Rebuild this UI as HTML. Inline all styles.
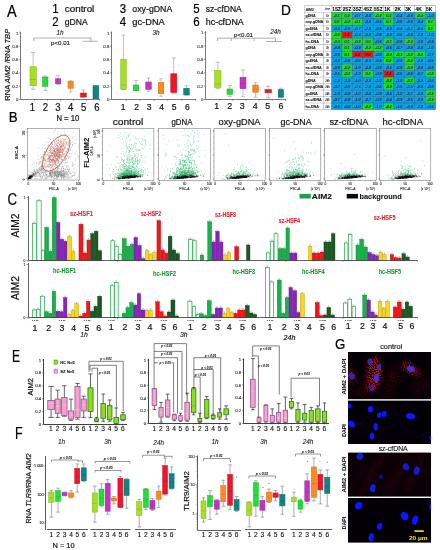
<!DOCTYPE html>
<html lang="en"><head><meta charset="utf-8"><title>Figure</title>
<style>
html,body{margin:0;padding:0;background:#fff;}
body{width:440px;height:550px;overflow:hidden;font-family:"Liberation Sans",sans-serif;}
svg{display:block;font-family:"Liberation Sans",sans-serif;}
</style></head><body>
<svg width="440" height="550" viewBox="0 0 440 550">
<rect width="440" height="550" fill="#fff"/>
<text x="6.90" y="16.80" font-size="16" text-anchor="start" fill="#000" textLength="9.70" lengthAdjust="spacingAndGlyphs" stroke="#000" stroke-width="0.2">A</text>
<text x="8.80" y="121.80" font-size="14.8" text-anchor="start" fill="#000" textLength="8.90" lengthAdjust="spacingAndGlyphs" stroke="#000" stroke-width="0.2">B</text>
<text x="52.30" y="13.00" font-size="12.4" text-anchor="start" fill="#000" textLength="6.40" lengthAdjust="spacingAndGlyphs" stroke="#000" stroke-width="0.2">1</text>
<text x="64.80" y="12.20" font-size="9" text-anchor="start" fill="#111" textLength="29.50" lengthAdjust="spacingAndGlyphs" stroke="#111" stroke-width="0.2">control</text>
<text x="52.30" y="25.70" font-size="12.4" text-anchor="start" fill="#000" textLength="6.40" lengthAdjust="spacingAndGlyphs" stroke="#000" stroke-width="0.2">2</text>
<text x="64.80" y="25.20" font-size="9" text-anchor="start" fill="#111" textLength="23.00" lengthAdjust="spacingAndGlyphs" stroke="#111" stroke-width="0.2">gDNA</text>
<text x="119.80" y="13.00" font-size="12.4" text-anchor="start" fill="#000" textLength="6.40" lengthAdjust="spacingAndGlyphs" stroke="#000" stroke-width="0.2">3</text>
<text x="132.30" y="12.20" font-size="9" text-anchor="start" fill="#111" textLength="40.00" lengthAdjust="spacingAndGlyphs" stroke="#111" stroke-width="0.2">oxy-gDNA</text>
<text x="119.80" y="25.70" font-size="12.4" text-anchor="start" fill="#000" textLength="6.40" lengthAdjust="spacingAndGlyphs" stroke="#000" stroke-width="0.2">4</text>
<text x="132.30" y="25.20" font-size="9" text-anchor="start" fill="#111" textLength="32.50" lengthAdjust="spacingAndGlyphs" stroke="#111" stroke-width="0.2">gc-DNA</text>
<text x="193.30" y="13.00" font-size="12.4" text-anchor="start" fill="#000" textLength="6.40" lengthAdjust="spacingAndGlyphs" stroke="#000" stroke-width="0.2">5</text>
<text x="205.80" y="12.20" font-size="9" text-anchor="start" fill="#111" textLength="36.00" lengthAdjust="spacingAndGlyphs" stroke="#111" stroke-width="0.2">sz-cfDNA</text>
<text x="193.30" y="25.70" font-size="12.4" text-anchor="start" fill="#000" textLength="6.40" lengthAdjust="spacingAndGlyphs" stroke="#000" stroke-width="0.2">6</text>
<text x="205.80" y="25.20" font-size="9" text-anchor="start" fill="#111" textLength="38.00" lengthAdjust="spacingAndGlyphs" stroke="#111" stroke-width="0.2">hc-cfDNA</text>
<line x1="20.50" y1="31.50" x2="20.50" y2="99.50" stroke="#5a5a5a" stroke-width="0.8"/>
<line x1="20.50" y1="99.50" x2="100.00" y2="99.50" stroke="#5a5a5a" stroke-width="0.8"/>
<line x1="34.50" y1="99.50" x2="34.50" y2="100.80" stroke="#3a3a3a" stroke-width="0.5"/>
<line x1="47.50" y1="99.50" x2="47.50" y2="100.80" stroke="#3a3a3a" stroke-width="0.5"/>
<line x1="60.50" y1="99.50" x2="60.50" y2="100.80" stroke="#3a3a3a" stroke-width="0.5"/>
<line x1="73.50" y1="99.50" x2="73.50" y2="100.80" stroke="#3a3a3a" stroke-width="0.5"/>
<line x1="86.50" y1="99.50" x2="86.50" y2="100.80" stroke="#3a3a3a" stroke-width="0.5"/>
<line x1="99.50" y1="99.50" x2="99.50" y2="100.80" stroke="#3a3a3a" stroke-width="0.5"/>
<line x1="19.00" y1="33.00" x2="20.50" y2="33.00" stroke="#444" stroke-width="0.5"/>
<text x="18.30" y="34.50" font-size="4.3" text-anchor="end" fill="#222" stroke="#222" stroke-width="0.08">1</text>
<line x1="19.00" y1="46.30" x2="20.50" y2="46.30" stroke="#444" stroke-width="0.5"/>
<text x="18.30" y="47.80" font-size="4.3" text-anchor="end" fill="#222" stroke="#222" stroke-width="0.08">0.8</text>
<line x1="19.00" y1="59.60" x2="20.50" y2="59.60" stroke="#444" stroke-width="0.5"/>
<text x="18.30" y="61.10" font-size="4.3" text-anchor="end" fill="#222" stroke="#222" stroke-width="0.08">0.6</text>
<line x1="19.00" y1="72.90" x2="20.50" y2="72.90" stroke="#444" stroke-width="0.5"/>
<text x="18.30" y="74.40" font-size="4.3" text-anchor="end" fill="#222" stroke="#222" stroke-width="0.08">0.4</text>
<line x1="19.00" y1="86.20" x2="20.50" y2="86.20" stroke="#444" stroke-width="0.5"/>
<text x="18.30" y="87.70" font-size="4.3" text-anchor="end" fill="#222" stroke="#222" stroke-width="0.08">0.2</text>
<line x1="19.00" y1="99.50" x2="20.50" y2="99.50" stroke="#444" stroke-width="0.5"/>
<text x="18.30" y="101.00" font-size="4.3" text-anchor="end" fill="#222" stroke="#222" stroke-width="0.08">0</text>
<text x="32.50" y="110.90" font-size="10.2" text-anchor="middle" fill="#111" textLength="5.30" lengthAdjust="spacingAndGlyphs" stroke="#111" stroke-width="0.2">1</text>
<text x="45.50" y="110.90" font-size="10.2" text-anchor="middle" fill="#111" textLength="5.30" lengthAdjust="spacingAndGlyphs" stroke="#111" stroke-width="0.2">2</text>
<text x="58.00" y="110.90" font-size="10.2" text-anchor="middle" fill="#111" textLength="5.30" lengthAdjust="spacingAndGlyphs" stroke="#111" stroke-width="0.2">3</text>
<text x="70.75" y="110.90" font-size="10.2" text-anchor="middle" fill="#111" textLength="5.30" lengthAdjust="spacingAndGlyphs" stroke="#111" stroke-width="0.2">4</text>
<text x="83.75" y="110.90" font-size="10.2" text-anchor="middle" fill="#111" textLength="5.30" lengthAdjust="spacingAndGlyphs" stroke="#111" stroke-width="0.2">5</text>
<text x="97.00" y="110.90" font-size="10.2" text-anchor="middle" fill="#111" textLength="5.30" lengthAdjust="spacingAndGlyphs" stroke="#111" stroke-width="0.2">6</text>
<line x1="33.12" y1="52.50" x2="33.12" y2="66.75" stroke="#999" stroke-width="0.6"/>
<line x1="33.12" y1="85.75" x2="33.12" y2="89.25" stroke="#999" stroke-width="0.6"/>
<line x1="30.94" y1="52.50" x2="35.31" y2="52.50" stroke="#999" stroke-width="0.6"/>
<line x1="30.94" y1="89.25" x2="35.31" y2="89.25" stroke="#999" stroke-width="0.6"/>
<rect x="30.00" y="66.75" width="6.25" height="19.00" fill="#a6e11e" stroke="#7fa82a" stroke-width="0.5"/>
<line x1="30.00" y1="79.50" x2="36.25" y2="79.50" stroke="#7fa82a" stroke-width="0.5"/>
<line x1="45.25" y1="76.00" x2="45.25" y2="77.00" stroke="#999" stroke-width="0.6"/>
<line x1="45.25" y1="86.25" x2="45.25" y2="90.50" stroke="#999" stroke-width="0.6"/>
<line x1="43.33" y1="76.00" x2="47.17" y2="76.00" stroke="#999" stroke-width="0.6"/>
<line x1="43.33" y1="90.50" x2="47.17" y2="90.50" stroke="#999" stroke-width="0.6"/>
<rect x="42.50" y="77.00" width="5.50" height="9.25" fill="#1fe038" stroke="#18a82c" stroke-width="0.5"/>
<line x1="58.12" y1="75.50" x2="58.12" y2="78.75" stroke="#999" stroke-width="0.6"/>
<line x1="58.12" y1="83.75" x2="58.12" y2="84.50" stroke="#999" stroke-width="0.6"/>
<line x1="56.29" y1="75.50" x2="59.96" y2="75.50" stroke="#999" stroke-width="0.6"/>
<line x1="56.29" y1="84.50" x2="59.96" y2="84.50" stroke="#999" stroke-width="0.6"/>
<rect x="55.50" y="78.75" width="5.25" height="5.00" fill="#c233c4" stroke="#8f2a90" stroke-width="0.5"/>
<line x1="70.62" y1="80.75" x2="70.62" y2="81.25" stroke="#999" stroke-width="0.6"/>
<line x1="70.62" y1="88.25" x2="70.62" y2="92.00" stroke="#999" stroke-width="0.6"/>
<line x1="68.79" y1="80.75" x2="72.46" y2="80.75" stroke="#999" stroke-width="0.6"/>
<line x1="68.79" y1="92.00" x2="72.46" y2="92.00" stroke="#999" stroke-width="0.6"/>
<rect x="68.00" y="81.25" width="5.25" height="7.00" fill="#ff8a1c" stroke="#c96a1a" stroke-width="0.5"/>
<line x1="83.38" y1="90.00" x2="83.38" y2="93.00" stroke="#999" stroke-width="0.6"/>
<line x1="83.38" y1="97.00" x2="83.38" y2="97.50" stroke="#999" stroke-width="0.6"/>
<line x1="81.36" y1="90.00" x2="85.39" y2="90.00" stroke="#999" stroke-width="0.6"/>
<line x1="81.36" y1="97.50" x2="85.39" y2="97.50" stroke="#999" stroke-width="0.6"/>
<rect x="80.50" y="93.00" width="5.75" height="4.00" fill="#f0142d" stroke="#b81424" stroke-width="0.5"/>
<line x1="95.88" y1="85.75" x2="95.88" y2="85.75" stroke="#999" stroke-width="0.6"/>
<line x1="95.88" y1="98.75" x2="95.88" y2="98.75" stroke="#999" stroke-width="0.6"/>
<line x1="93.86" y1="85.75" x2="97.89" y2="85.75" stroke="#999" stroke-width="0.6"/>
<line x1="93.86" y1="98.75" x2="97.89" y2="98.75" stroke="#999" stroke-width="0.6"/>
<rect x="93.00" y="85.75" width="5.75" height="13.00" fill="#0f8585" stroke="#0b6060" stroke-width="0.5"/>
<text x="60.00" y="35.00" font-size="6.4" text-anchor="middle" fill="#222" font-style="italic" stroke="#222" stroke-width="0.12">1h</text>
<path d="M33.75 41 V38 H91 V41 M82.5 41.3 H97.5" fill="none" stroke="#777" stroke-width="0.6"/>
<text x="60.50" y="45.30" font-size="5.6" text-anchor="middle" fill="#111" textLength="19.00" lengthAdjust="spacingAndGlyphs" stroke="#111" stroke-width="0.12">p&lt;0.01</text>
<text transform="translate(10.4 100.8) rotate(-90)" font-size="7.6" fill="#111" stroke="#111" stroke-width="0.2" textLength="72" lengthAdjust="spacingAndGlyphs">RNA <tspan font-style="italic">AIM2</tspan> /RNA <tspan font-style="italic">TBP</tspan></text>
<text x="67.90" y="120.80" font-size="8.4" text-anchor="middle" fill="#111" textLength="23.00" lengthAdjust="spacingAndGlyphs" stroke="#111" stroke-width="0.2">N = 10</text>
<line x1="111.50" y1="31.50" x2="111.50" y2="99.50" stroke="#5a5a5a" stroke-width="0.8"/>
<line x1="111.50" y1="99.50" x2="196.00" y2="99.50" stroke="#5a5a5a" stroke-width="0.8"/>
<line x1="126.33" y1="99.50" x2="126.33" y2="100.80" stroke="#3a3a3a" stroke-width="0.5"/>
<line x1="140.17" y1="99.50" x2="140.17" y2="100.80" stroke="#3a3a3a" stroke-width="0.5"/>
<line x1="154.00" y1="99.50" x2="154.00" y2="100.80" stroke="#3a3a3a" stroke-width="0.5"/>
<line x1="167.83" y1="99.50" x2="167.83" y2="100.80" stroke="#3a3a3a" stroke-width="0.5"/>
<line x1="181.67" y1="99.50" x2="181.67" y2="100.80" stroke="#3a3a3a" stroke-width="0.5"/>
<line x1="195.50" y1="99.50" x2="195.50" y2="100.80" stroke="#3a3a3a" stroke-width="0.5"/>
<line x1="110.00" y1="33.00" x2="111.50" y2="33.00" stroke="#444" stroke-width="0.5"/>
<text x="109.30" y="34.50" font-size="4.3" text-anchor="end" fill="#222" stroke="#222" stroke-width="0.08">1</text>
<line x1="110.00" y1="46.30" x2="111.50" y2="46.30" stroke="#444" stroke-width="0.5"/>
<text x="109.30" y="47.80" font-size="4.3" text-anchor="end" fill="#222" stroke="#222" stroke-width="0.08">0.8</text>
<line x1="110.00" y1="59.60" x2="111.50" y2="59.60" stroke="#444" stroke-width="0.5"/>
<text x="109.30" y="61.10" font-size="4.3" text-anchor="end" fill="#222" stroke="#222" stroke-width="0.08">0.6</text>
<line x1="110.00" y1="72.90" x2="111.50" y2="72.90" stroke="#444" stroke-width="0.5"/>
<text x="109.30" y="74.40" font-size="4.3" text-anchor="end" fill="#222" stroke="#222" stroke-width="0.08">0.4</text>
<line x1="110.00" y1="86.20" x2="111.50" y2="86.20" stroke="#444" stroke-width="0.5"/>
<text x="109.30" y="87.70" font-size="4.3" text-anchor="end" fill="#222" stroke="#222" stroke-width="0.08">0.2</text>
<line x1="110.00" y1="99.50" x2="111.50" y2="99.50" stroke="#444" stroke-width="0.5"/>
<text x="109.30" y="101.00" font-size="4.3" text-anchor="end" fill="#222" stroke="#222" stroke-width="0.08">0</text>
<text x="123.25" y="109.60" font-size="9.2" text-anchor="middle" fill="#111" textLength="4.78" lengthAdjust="spacingAndGlyphs" stroke="#111" stroke-width="0.2">1</text>
<text x="136.75" y="109.60" font-size="9.2" text-anchor="middle" fill="#111" textLength="4.78" lengthAdjust="spacingAndGlyphs" stroke="#111" stroke-width="0.2">2</text>
<text x="149.25" y="109.60" font-size="9.2" text-anchor="middle" fill="#111" textLength="4.78" lengthAdjust="spacingAndGlyphs" stroke="#111" stroke-width="0.2">3</text>
<text x="161.75" y="109.60" font-size="9.2" text-anchor="middle" fill="#111" textLength="4.78" lengthAdjust="spacingAndGlyphs" stroke="#111" stroke-width="0.2">4</text>
<text x="174.25" y="109.60" font-size="9.2" text-anchor="middle" fill="#111" textLength="4.78" lengthAdjust="spacingAndGlyphs" stroke="#111" stroke-width="0.2">5</text>
<text x="187.50" y="109.60" font-size="9.2" text-anchor="middle" fill="#111" textLength="4.78" lengthAdjust="spacingAndGlyphs" stroke="#111" stroke-width="0.2">6</text>
<line x1="123.50" y1="35.00" x2="123.50" y2="59.25" stroke="#999" stroke-width="0.6"/>
<line x1="123.50" y1="89.50" x2="123.50" y2="89.50" stroke="#999" stroke-width="0.6"/>
<line x1="121.58" y1="35.00" x2="125.42" y2="35.00" stroke="#999" stroke-width="0.6"/>
<line x1="121.58" y1="89.50" x2="125.42" y2="89.50" stroke="#999" stroke-width="0.6"/>
<rect x="120.75" y="59.25" width="5.50" height="30.25" fill="#a6e11e" stroke="#7fa82a" stroke-width="0.5"/>
<line x1="120.75" y1="85.00" x2="126.25" y2="85.00" stroke="#7fa82a" stroke-width="0.5"/>
<line x1="136.00" y1="80.50" x2="136.00" y2="85.00" stroke="#999" stroke-width="0.6"/>
<line x1="136.00" y1="90.75" x2="136.00" y2="90.75" stroke="#999" stroke-width="0.6"/>
<line x1="134.07" y1="80.50" x2="137.93" y2="80.50" stroke="#999" stroke-width="0.6"/>
<line x1="134.07" y1="90.75" x2="137.93" y2="90.75" stroke="#999" stroke-width="0.6"/>
<rect x="133.25" y="85.00" width="5.50" height="5.75" fill="#1fe038" stroke="#18a82c" stroke-width="0.5"/>
<line x1="148.50" y1="78.00" x2="148.50" y2="82.00" stroke="#999" stroke-width="0.6"/>
<line x1="148.50" y1="89.50" x2="148.50" y2="91.25" stroke="#999" stroke-width="0.6"/>
<line x1="146.57" y1="78.00" x2="150.43" y2="78.00" stroke="#999" stroke-width="0.6"/>
<line x1="146.57" y1="91.25" x2="150.43" y2="91.25" stroke="#999" stroke-width="0.6"/>
<rect x="145.75" y="82.00" width="5.50" height="7.50" fill="#c233c4" stroke="#8f2a90" stroke-width="0.5"/>
<line x1="161.00" y1="78.75" x2="161.00" y2="82.50" stroke="#999" stroke-width="0.6"/>
<line x1="161.00" y1="93.75" x2="161.00" y2="96.25" stroke="#999" stroke-width="0.6"/>
<line x1="159.07" y1="78.75" x2="162.93" y2="78.75" stroke="#999" stroke-width="0.6"/>
<line x1="159.07" y1="96.25" x2="162.93" y2="96.25" stroke="#999" stroke-width="0.6"/>
<rect x="158.25" y="82.50" width="5.50" height="11.25" fill="#ff8a1c" stroke="#c96a1a" stroke-width="0.5"/>
<line x1="173.75" y1="58.00" x2="173.75" y2="73.75" stroke="#999" stroke-width="0.6"/>
<line x1="173.75" y1="92.50" x2="173.75" y2="93.75" stroke="#999" stroke-width="0.6"/>
<line x1="171.65" y1="58.00" x2="175.85" y2="58.00" stroke="#999" stroke-width="0.6"/>
<line x1="171.65" y1="93.75" x2="175.85" y2="93.75" stroke="#999" stroke-width="0.6"/>
<rect x="170.75" y="73.75" width="6.00" height="18.75" fill="#f0142d" stroke="#b81424" stroke-width="0.5"/>
<line x1="186.50" y1="85.75" x2="186.50" y2="88.25" stroke="#999" stroke-width="0.6"/>
<line x1="186.50" y1="95.00" x2="186.50" y2="95.00" stroke="#999" stroke-width="0.6"/>
<line x1="184.57" y1="85.75" x2="188.43" y2="85.75" stroke="#999" stroke-width="0.6"/>
<line x1="184.57" y1="95.00" x2="188.43" y2="95.00" stroke="#999" stroke-width="0.6"/>
<rect x="183.75" y="88.25" width="5.50" height="6.75" fill="#0f8585" stroke="#0b6060" stroke-width="0.5"/>
<text x="156.00" y="35.00" font-size="6.4" text-anchor="middle" fill="#222" font-style="italic" stroke="#222" stroke-width="0.12">3h</text>
<line x1="205.50" y1="31.20" x2="205.50" y2="99.50" stroke="#5a5a5a" stroke-width="0.8"/>
<line x1="205.50" y1="99.50" x2="286.00" y2="99.50" stroke="#5a5a5a" stroke-width="0.8"/>
<line x1="219.67" y1="99.50" x2="219.67" y2="100.80" stroke="#3a3a3a" stroke-width="0.5"/>
<line x1="232.83" y1="99.50" x2="232.83" y2="100.80" stroke="#3a3a3a" stroke-width="0.5"/>
<line x1="246.00" y1="99.50" x2="246.00" y2="100.80" stroke="#3a3a3a" stroke-width="0.5"/>
<line x1="259.17" y1="99.50" x2="259.17" y2="100.80" stroke="#3a3a3a" stroke-width="0.5"/>
<line x1="272.33" y1="99.50" x2="272.33" y2="100.80" stroke="#3a3a3a" stroke-width="0.5"/>
<line x1="285.50" y1="99.50" x2="285.50" y2="100.80" stroke="#3a3a3a" stroke-width="0.5"/>
<line x1="204.00" y1="32.70" x2="205.50" y2="32.70" stroke="#444" stroke-width="0.5"/>
<text x="203.30" y="34.20" font-size="4.3" text-anchor="end" fill="#222" stroke="#222" stroke-width="0.08">1</text>
<line x1="204.00" y1="46.06" x2="205.50" y2="46.06" stroke="#444" stroke-width="0.5"/>
<text x="203.30" y="47.56" font-size="4.3" text-anchor="end" fill="#222" stroke="#222" stroke-width="0.08">0.8</text>
<line x1="204.00" y1="59.42" x2="205.50" y2="59.42" stroke="#444" stroke-width="0.5"/>
<text x="203.30" y="60.92" font-size="4.3" text-anchor="end" fill="#222" stroke="#222" stroke-width="0.08">0.6</text>
<line x1="204.00" y1="72.78" x2="205.50" y2="72.78" stroke="#444" stroke-width="0.5"/>
<text x="203.30" y="74.28" font-size="4.3" text-anchor="end" fill="#222" stroke="#222" stroke-width="0.08">0.4</text>
<line x1="204.00" y1="86.14" x2="205.50" y2="86.14" stroke="#444" stroke-width="0.5"/>
<text x="203.30" y="87.64" font-size="4.3" text-anchor="end" fill="#222" stroke="#222" stroke-width="0.08">0.2</text>
<line x1="204.00" y1="99.50" x2="205.50" y2="99.50" stroke="#444" stroke-width="0.5"/>
<text x="203.30" y="101.00" font-size="4.3" text-anchor="end" fill="#222" stroke="#222" stroke-width="0.08">0</text>
<text x="216.60" y="108.50" font-size="9.5" text-anchor="middle" fill="#111" textLength="4.94" lengthAdjust="spacingAndGlyphs" stroke="#111" stroke-width="0.2">1</text>
<text x="229.80" y="108.50" font-size="9.5" text-anchor="middle" fill="#111" textLength="4.94" lengthAdjust="spacingAndGlyphs" stroke="#111" stroke-width="0.2">2</text>
<text x="242.30" y="108.50" font-size="9.5" text-anchor="middle" fill="#111" textLength="4.94" lengthAdjust="spacingAndGlyphs" stroke="#111" stroke-width="0.2">3</text>
<text x="255.20" y="108.50" font-size="9.5" text-anchor="middle" fill="#111" textLength="4.94" lengthAdjust="spacingAndGlyphs" stroke="#111" stroke-width="0.2">4</text>
<text x="267.70" y="108.50" font-size="9.5" text-anchor="middle" fill="#111" textLength="4.94" lengthAdjust="spacingAndGlyphs" stroke="#111" stroke-width="0.2">5</text>
<text x="280.90" y="108.50" font-size="9.5" text-anchor="middle" fill="#111" textLength="4.94" lengthAdjust="spacingAndGlyphs" stroke="#111" stroke-width="0.2">6</text>
<line x1="217.80" y1="62.30" x2="217.80" y2="70.50" stroke="#999" stroke-width="0.6"/>
<line x1="217.80" y1="87.40" x2="217.80" y2="88.70" stroke="#999" stroke-width="0.6"/>
<line x1="215.56" y1="62.30" x2="220.04" y2="62.30" stroke="#999" stroke-width="0.6"/>
<line x1="215.56" y1="88.70" x2="220.04" y2="88.70" stroke="#999" stroke-width="0.6"/>
<rect x="214.60" y="70.50" width="6.40" height="16.90" fill="#a6e11e" stroke="#7fa82a" stroke-width="0.5"/>
<line x1="214.60" y1="84.00" x2="221.00" y2="84.00" stroke="#7fa82a" stroke-width="0.5"/>
<line x1="229.80" y1="85.50" x2="229.80" y2="89.00" stroke="#999" stroke-width="0.6"/>
<line x1="229.80" y1="94.50" x2="229.80" y2="96.40" stroke="#999" stroke-width="0.6"/>
<line x1="227.84" y1="85.50" x2="231.76" y2="85.50" stroke="#999" stroke-width="0.6"/>
<line x1="227.84" y1="96.40" x2="231.76" y2="96.40" stroke="#999" stroke-width="0.6"/>
<rect x="227.00" y="89.00" width="5.60" height="5.50" fill="#1fe038" stroke="#18a82c" stroke-width="0.5"/>
<line x1="243.00" y1="70.00" x2="243.00" y2="77.30" stroke="#999" stroke-width="0.6"/>
<line x1="243.00" y1="88.70" x2="243.00" y2="96.40" stroke="#999" stroke-width="0.6"/>
<line x1="240.90" y1="70.00" x2="245.10" y2="70.00" stroke="#999" stroke-width="0.6"/>
<line x1="240.90" y1="96.40" x2="245.10" y2="96.40" stroke="#999" stroke-width="0.6"/>
<rect x="240.00" y="77.30" width="6.00" height="11.40" fill="#c233c4" stroke="#8f2a90" stroke-width="0.5"/>
<line x1="240.00" y1="83.30" x2="246.00" y2="83.30" stroke="#8f2a90" stroke-width="0.5"/>
<line x1="255.55" y1="82.70" x2="255.55" y2="85.00" stroke="#999" stroke-width="0.6"/>
<line x1="255.55" y1="92.30" x2="255.55" y2="97.20" stroke="#999" stroke-width="0.6"/>
<line x1="253.62" y1="82.70" x2="257.48" y2="82.70" stroke="#999" stroke-width="0.6"/>
<line x1="253.62" y1="97.20" x2="257.48" y2="97.20" stroke="#999" stroke-width="0.6"/>
<rect x="252.80" y="85.00" width="5.50" height="7.30" fill="#ff8a1c" stroke="#c96a1a" stroke-width="0.5"/>
<line x1="252.80" y1="89.00" x2="258.30" y2="89.00" stroke="#c96a1a" stroke-width="0.5"/>
<line x1="268.20" y1="86.30" x2="268.20" y2="89.50" stroke="#999" stroke-width="0.6"/>
<line x1="268.20" y1="92.80" x2="268.20" y2="97.70" stroke="#999" stroke-width="0.6"/>
<line x1="265.96" y1="86.30" x2="270.44" y2="86.30" stroke="#999" stroke-width="0.6"/>
<line x1="265.96" y1="97.70" x2="270.44" y2="97.70" stroke="#999" stroke-width="0.6"/>
<rect x="265.00" y="89.50" width="6.40" height="3.30" fill="#f0142d" stroke="#b81424" stroke-width="0.5"/>
<line x1="280.90" y1="88.20" x2="280.90" y2="89.50" stroke="#999" stroke-width="0.6"/>
<line x1="280.90" y1="97.20" x2="280.90" y2="97.20" stroke="#999" stroke-width="0.6"/>
<line x1="279.01" y1="88.20" x2="282.79" y2="88.20" stroke="#999" stroke-width="0.6"/>
<line x1="279.01" y1="97.20" x2="282.79" y2="97.20" stroke="#999" stroke-width="0.6"/>
<rect x="278.20" y="89.50" width="5.40" height="7.70" fill="#0f8585" stroke="#0b6060" stroke-width="0.5"/>
<text x="275.50" y="34.00" font-size="6.4" text-anchor="middle" fill="#222" font-style="italic" stroke="#222" stroke-width="0.12">24h</text>
<text x="243.50" y="36.50" font-size="5.6" text-anchor="middle" fill="#111" textLength="19.00" lengthAdjust="spacingAndGlyphs" stroke="#111" stroke-width="0.12">p&lt;0.01</text>
<path d="M217.4 41 V38.2 H275.5 V41 M231.3 38.2 V41 M254.2 38.2 V41 M266 41.5 H282" fill="none" stroke="#777" stroke-width="0.6"/>
<text x="281.10" y="14.50" font-size="15.2" text-anchor="start" fill="#000" textLength="9.90" lengthAdjust="spacingAndGlyphs" stroke="#000" stroke-width="0.2">D</text>
<rect x="304.20" y="5.80" width="131.40" height="103.75" fill="#fff" stroke="#8a8a8a" stroke-width="0.4"/>
<text x="305.70" y="10.60" font-size="3.4" text-anchor="start" fill="#222" font-weight="bold" stroke="#222" stroke-width="0.08">AIM2</text>
<text x="327.55" y="10.40" font-size="2.6" text-anchor="middle" fill="#333" font-style="italic" stroke="#333" stroke-width="0.08">time</text>
<rect x="331.50" y="5.80" width="10.41" height="6.40" fill="#fff" stroke="#8a8a8a" stroke-width="0.35"/>
<text x="332.30" y="11.00" font-size="5.2" text-anchor="start" fill="#000" font-weight="bold" textLength="8.60" lengthAdjust="spacingAndGlyphs" stroke="#000" stroke-width="0.08">1SZ</text>
<rect x="341.91" y="5.80" width="10.41" height="6.40" fill="#fff" stroke="#8a8a8a" stroke-width="0.35"/>
<text x="342.71" y="11.00" font-size="5.2" text-anchor="start" fill="#000" font-weight="bold" textLength="8.60" lengthAdjust="spacingAndGlyphs" stroke="#000" stroke-width="0.08">2SZ</text>
<rect x="352.32" y="5.80" width="10.41" height="6.40" fill="#fff" stroke="#8a8a8a" stroke-width="0.35"/>
<text x="353.12" y="11.00" font-size="5.2" text-anchor="start" fill="#000" font-weight="bold" textLength="8.60" lengthAdjust="spacingAndGlyphs" stroke="#000" stroke-width="0.08">3SZ</text>
<rect x="362.73" y="5.80" width="10.41" height="6.40" fill="#fff" stroke="#8a8a8a" stroke-width="0.35"/>
<text x="363.53" y="11.00" font-size="5.2" text-anchor="start" fill="#000" font-weight="bold" textLength="8.60" lengthAdjust="spacingAndGlyphs" stroke="#000" stroke-width="0.08">4SZ</text>
<rect x="373.14" y="5.80" width="10.41" height="6.40" fill="#fff" stroke="#8a8a8a" stroke-width="0.35"/>
<text x="373.94" y="11.00" font-size="5.2" text-anchor="start" fill="#000" font-weight="bold" textLength="8.60" lengthAdjust="spacingAndGlyphs" stroke="#000" stroke-width="0.08">5SZ</text>
<rect x="383.55" y="5.80" width="10.41" height="6.40" fill="#fff" stroke="#8a8a8a" stroke-width="0.35"/>
<text x="384.35" y="11.00" font-size="5.2" text-anchor="start" fill="#000" font-weight="bold" textLength="6.20" lengthAdjust="spacingAndGlyphs" stroke="#000" stroke-width="0.08">1K</text>
<rect x="393.96" y="5.80" width="10.41" height="6.40" fill="#fff" stroke="#8a8a8a" stroke-width="0.35"/>
<text x="394.76" y="11.00" font-size="5.2" text-anchor="start" fill="#000" font-weight="bold" textLength="6.20" lengthAdjust="spacingAndGlyphs" stroke="#000" stroke-width="0.08">2K</text>
<rect x="404.37" y="5.80" width="10.41" height="6.40" fill="#fff" stroke="#8a8a8a" stroke-width="0.35"/>
<text x="405.17" y="11.00" font-size="5.2" text-anchor="start" fill="#000" font-weight="bold" textLength="6.20" lengthAdjust="spacingAndGlyphs" stroke="#000" stroke-width="0.08">3K</text>
<rect x="414.78" y="5.80" width="10.41" height="6.40" fill="#fff" stroke="#8a8a8a" stroke-width="0.35"/>
<text x="415.58" y="11.00" font-size="5.2" text-anchor="start" fill="#000" font-weight="bold" textLength="6.20" lengthAdjust="spacingAndGlyphs" stroke="#000" stroke-width="0.08">4K</text>
<rect x="425.19" y="5.80" width="10.41" height="6.40" fill="#fff" stroke="#8a8a8a" stroke-width="0.35"/>
<text x="425.99" y="11.00" font-size="5.2" text-anchor="start" fill="#000" font-weight="bold" textLength="6.20" lengthAdjust="spacingAndGlyphs" stroke="#000" stroke-width="0.08">5K</text>
<rect x="304.20" y="12.20" width="19.40" height="6.49" fill="#fff" stroke="#9a9a9a" stroke-width="0.35"/>
<rect x="323.60" y="12.20" width="7.90" height="6.49" fill="#fff" stroke="#9a9a9a" stroke-width="0.35"/>
<text x="305.40" y="16.89" font-size="3.7" text-anchor="start" fill="#111" font-weight="bold" stroke="#111" stroke-width="0.08">gDNA</text>
<text x="327.55" y="16.69" font-size="2.7" text-anchor="middle" fill="#222" font-style="italic" stroke="#222" stroke-width="0.08">1h</text>
<rect x="331.50" y="12.20" width="10.41" height="6.49" fill="#1fdc2a" stroke="#1f4a70" stroke-width="0.3"/>
<text x="336.70" y="16.79" font-size="3.6" text-anchor="middle" fill="#0a1a33" font-style="italic" stroke="#0a1a33" stroke-width="0.08">-0.1</text>
<rect x="341.91" y="12.20" width="10.41" height="6.49" fill="#1fdc2a" stroke="#1f4a70" stroke-width="0.3"/>
<text x="347.12" y="16.79" font-size="3.6" text-anchor="middle" fill="#0a1a33" font-style="italic" stroke="#0a1a33" stroke-width="0.08">0.3</text>
<rect x="352.32" y="12.20" width="10.41" height="6.49" fill="#0aa2e6" stroke="#1f4a70" stroke-width="0.3"/>
<text x="357.52" y="16.79" font-size="3.6" text-anchor="middle" fill="#0a1a33" font-style="italic" stroke="#0a1a33" stroke-width="0.08">-0.7</text>
<rect x="362.73" y="12.20" width="10.41" height="6.49" fill="#0aa2e6" stroke="#1f4a70" stroke-width="0.3"/>
<text x="367.94" y="16.79" font-size="3.6" text-anchor="middle" fill="#0a1a33" font-style="italic" stroke="#0a1a33" stroke-width="0.08">-0.8</text>
<rect x="373.14" y="12.20" width="10.41" height="6.49" fill="#1fdc2a" stroke="#1f4a70" stroke-width="0.3"/>
<text x="378.34" y="16.79" font-size="3.6" text-anchor="middle" fill="#0a1a33" font-style="italic" stroke="#0a1a33" stroke-width="0.08">-0.3</text>
<rect x="383.55" y="12.20" width="10.41" height="6.49" fill="#1fdc2a" stroke="#1f4a70" stroke-width="0.3"/>
<text x="388.75" y="16.79" font-size="3.6" text-anchor="middle" fill="#0a1a33" font-style="italic" stroke="#0a1a33" stroke-width="0.08">0.3</text>
<rect x="393.96" y="12.20" width="10.41" height="6.49" fill="#0aa2e6" stroke="#1f4a70" stroke-width="0.3"/>
<text x="399.17" y="16.79" font-size="3.6" text-anchor="middle" fill="#0a1a33" font-style="italic" stroke="#0a1a33" stroke-width="0.08">-0.4</text>
<rect x="404.37" y="12.20" width="10.41" height="6.49" fill="#0aa2e6" stroke="#1f4a70" stroke-width="0.3"/>
<text x="409.57" y="16.79" font-size="3.6" text-anchor="middle" fill="#0a1a33" font-style="italic" stroke="#0a1a33" stroke-width="0.08">-0.8</text>
<rect x="414.78" y="12.20" width="10.41" height="6.49" fill="#1fdc2a" stroke="#1f4a70" stroke-width="0.3"/>
<text x="419.99" y="16.79" font-size="3.6" text-anchor="middle" fill="#0a1a33" font-style="italic" stroke="#0a1a33" stroke-width="0.08">-0.3</text>
<rect x="425.19" y="12.20" width="10.41" height="6.49" fill="#0aa2e6" stroke="#1f4a70" stroke-width="0.3"/>
<text x="430.39" y="16.79" font-size="3.6" text-anchor="middle" fill="#0a1a33" font-style="italic" stroke="#0a1a33" stroke-width="0.08">-1.0</text>
<rect x="304.20" y="18.69" width="19.40" height="6.49" fill="#fff" stroke="#9a9a9a" stroke-width="0.35"/>
<rect x="323.60" y="18.69" width="7.90" height="6.49" fill="#fff" stroke="#9a9a9a" stroke-width="0.35"/>
<text x="305.40" y="23.38" font-size="3.7" text-anchor="start" fill="#111" font-weight="bold" stroke="#111" stroke-width="0.08">oxy-gDNA</text>
<text x="327.55" y="23.18" font-size="2.7" text-anchor="middle" fill="#222" font-style="italic" stroke="#222" stroke-width="0.08">1h</text>
<rect x="331.50" y="18.69" width="10.41" height="6.49" fill="#1fdc2a" stroke="#1f4a70" stroke-width="0.3"/>
<text x="336.70" y="23.28" font-size="3.6" text-anchor="middle" fill="#0a1a33" font-style="italic" stroke="#0a1a33" stroke-width="0.08">0.0</text>
<rect x="341.91" y="18.69" width="10.41" height="6.49" fill="#1fdc2a" stroke="#1f4a70" stroke-width="0.3"/>
<text x="347.12" y="23.28" font-size="3.6" text-anchor="middle" fill="#0a1a33" font-style="italic" stroke="#0a1a33" stroke-width="0.08">-0.2</text>
<rect x="352.32" y="18.69" width="10.41" height="6.49" fill="#1fdc2a" stroke="#1f4a70" stroke-width="0.3"/>
<text x="357.52" y="23.28" font-size="3.6" text-anchor="middle" fill="#0a1a33" font-style="italic" stroke="#0a1a33" stroke-width="0.08">-0.1</text>
<rect x="362.73" y="18.69" width="10.41" height="6.49" fill="#0aa2e6" stroke="#1f4a70" stroke-width="0.3"/>
<text x="367.94" y="23.28" font-size="3.6" text-anchor="middle" fill="#0a1a33" font-style="italic" stroke="#0a1a33" stroke-width="0.08">-0.6</text>
<rect x="373.14" y="18.69" width="10.41" height="6.49" fill="#0aa2e6" stroke="#1f4a70" stroke-width="0.3"/>
<text x="378.34" y="23.28" font-size="3.6" text-anchor="middle" fill="#0a1a33" font-style="italic" stroke="#0a1a33" stroke-width="0.08">-0.5</text>
<rect x="383.55" y="18.69" width="10.41" height="6.49" fill="#1fdc2a" stroke="#1f4a70" stroke-width="0.3"/>
<text x="388.75" y="23.28" font-size="3.6" text-anchor="middle" fill="#0a1a33" font-style="italic" stroke="#0a1a33" stroke-width="0.08">0.1</text>
<rect x="393.96" y="18.69" width="10.41" height="6.49" fill="#0aa2e6" stroke="#1f4a70" stroke-width="0.3"/>
<text x="399.17" y="23.28" font-size="3.6" text-anchor="middle" fill="#0a1a33" font-style="italic" stroke="#0a1a33" stroke-width="0.08">-0.6</text>
<rect x="404.37" y="18.69" width="10.41" height="6.49" fill="#0aa2e6" stroke="#1f4a70" stroke-width="0.3"/>
<text x="409.57" y="23.28" font-size="3.6" text-anchor="middle" fill="#0a1a33" font-style="italic" stroke="#0a1a33" stroke-width="0.08">-0.8</text>
<rect x="414.78" y="18.69" width="10.41" height="6.49" fill="#0aa2e6" stroke="#1f4a70" stroke-width="0.3"/>
<text x="419.99" y="23.28" font-size="3.6" text-anchor="middle" fill="#0a1a33" font-style="italic" stroke="#0a1a33" stroke-width="0.08">-0.4</text>
<rect x="425.19" y="18.69" width="10.41" height="6.49" fill="#1fdc2a" stroke="#1f4a70" stroke-width="0.3"/>
<text x="430.39" y="23.28" font-size="3.6" text-anchor="middle" fill="#0a1a33" font-style="italic" stroke="#0a1a33" stroke-width="0.08">0.7</text>
<rect x="304.20" y="25.18" width="19.40" height="6.49" fill="#fff" stroke="#9a9a9a" stroke-width="0.35"/>
<rect x="323.60" y="25.18" width="7.90" height="6.49" fill="#fff" stroke="#9a9a9a" stroke-width="0.35"/>
<text x="305.40" y="29.87" font-size="3.7" text-anchor="start" fill="#111" font-weight="bold" stroke="#111" stroke-width="0.08">gcDNA</text>
<text x="327.55" y="29.67" font-size="2.7" text-anchor="middle" fill="#222" font-style="italic" stroke="#222" stroke-width="0.08">1h</text>
<rect x="331.50" y="25.18" width="10.41" height="6.49" fill="#0aa2e6" stroke="#1f4a70" stroke-width="0.3"/>
<text x="336.70" y="29.77" font-size="3.6" text-anchor="middle" fill="#0a1a33" font-style="italic" stroke="#0a1a33" stroke-width="0.08">-0.8</text>
<rect x="341.91" y="25.18" width="10.41" height="6.49" fill="#0aa2e6" stroke="#1f4a70" stroke-width="0.3"/>
<text x="347.12" y="29.77" font-size="3.6" text-anchor="middle" fill="#0a1a33" font-style="italic" stroke="#0a1a33" stroke-width="0.08">-0.5</text>
<rect x="352.32" y="25.18" width="10.41" height="6.49" fill="#0aa2e6" stroke="#1f4a70" stroke-width="0.3"/>
<text x="357.52" y="29.77" font-size="3.6" text-anchor="middle" fill="#0a1a33" font-style="italic" stroke="#0a1a33" stroke-width="0.08">-0.7</text>
<rect x="362.73" y="25.18" width="10.41" height="6.49" fill="#0aa2e6" stroke="#1f4a70" stroke-width="0.3"/>
<text x="367.94" y="29.77" font-size="3.6" text-anchor="middle" fill="#0a1a33" font-style="italic" stroke="#0a1a33" stroke-width="0.08">-1.0</text>
<rect x="373.14" y="25.18" width="10.41" height="6.49" fill="#0aa2e6" stroke="#1f4a70" stroke-width="0.3"/>
<text x="378.34" y="29.77" font-size="3.6" text-anchor="middle" fill="#0a1a33" font-style="italic" stroke="#0a1a33" stroke-width="0.08">-0.5</text>
<rect x="383.55" y="25.18" width="10.41" height="6.49" fill="#0aa2e6" stroke="#1f4a70" stroke-width="0.3"/>
<text x="388.75" y="29.77" font-size="3.6" text-anchor="middle" fill="#0a1a33" font-style="italic" stroke="#0a1a33" stroke-width="0.08">-0.8</text>
<rect x="393.96" y="25.18" width="10.41" height="6.49" fill="#0aa2e6" stroke="#1f4a70" stroke-width="0.3"/>
<text x="399.17" y="29.77" font-size="3.6" text-anchor="middle" fill="#0a1a33" font-style="italic" stroke="#0a1a33" stroke-width="0.08">-0.8</text>
<rect x="404.37" y="25.18" width="10.41" height="6.49" fill="#0aa2e6" stroke="#1f4a70" stroke-width="0.3"/>
<text x="409.57" y="29.77" font-size="3.6" text-anchor="middle" fill="#0a1a33" font-style="italic" stroke="#0a1a33" stroke-width="0.08">-0.7</text>
<rect x="414.78" y="25.18" width="10.41" height="6.49" fill="#0aa2e6" stroke="#1f4a70" stroke-width="0.3"/>
<text x="419.99" y="29.77" font-size="3.6" text-anchor="middle" fill="#0a1a33" font-style="italic" stroke="#0a1a33" stroke-width="0.08">-0.5</text>
<rect x="425.19" y="25.18" width="10.41" height="6.49" fill="#1fdc2a" stroke="#1f4a70" stroke-width="0.3"/>
<text x="430.39" y="29.77" font-size="3.6" text-anchor="middle" fill="#0a1a33" font-style="italic" stroke="#0a1a33" stroke-width="0.08">0.1</text>
<rect x="304.20" y="31.67" width="19.40" height="6.49" fill="#fff" stroke="#9a9a9a" stroke-width="0.35"/>
<rect x="323.60" y="31.67" width="7.90" height="6.49" fill="#fff" stroke="#9a9a9a" stroke-width="0.35"/>
<text x="305.40" y="36.36" font-size="3.7" text-anchor="start" fill="#111" font-weight="bold" stroke="#111" stroke-width="0.08">sz-cfDNA</text>
<text x="327.55" y="36.16" font-size="2.7" text-anchor="middle" fill="#222" font-style="italic" stroke="#222" stroke-width="0.08">1h</text>
<rect x="331.50" y="31.67" width="10.41" height="6.49" fill="#1fdc2a" stroke="#1f4a70" stroke-width="0.3"/>
<text x="336.70" y="36.26" font-size="3.6" text-anchor="middle" fill="#0a1a33" font-style="italic" stroke="#0a1a33" stroke-width="0.08">-0.0</text>
<rect x="341.91" y="31.67" width="10.41" height="6.49" fill="#f01416" stroke="#1f4a70" stroke-width="0.3"/>
<text x="347.12" y="36.26" font-size="3.6" text-anchor="middle" fill="#0a1a33" font-style="italic" stroke="#0a1a33" stroke-width="0.08">1.5</text>
<rect x="352.32" y="31.67" width="10.41" height="6.49" fill="#0aa2e6" stroke="#1f4a70" stroke-width="0.3"/>
<text x="357.52" y="36.26" font-size="3.6" text-anchor="middle" fill="#0a1a33" font-style="italic" stroke="#0a1a33" stroke-width="0.08">-0.4</text>
<rect x="362.73" y="31.67" width="10.41" height="6.49" fill="#0aa2e6" stroke="#1f4a70" stroke-width="0.3"/>
<text x="367.94" y="36.26" font-size="3.6" text-anchor="middle" fill="#0a1a33" font-style="italic" stroke="#0a1a33" stroke-width="0.08">-0.6</text>
<rect x="373.14" y="31.67" width="10.41" height="6.49" fill="#0aa2e6" stroke="#1f4a70" stroke-width="0.3"/>
<text x="378.34" y="36.26" font-size="3.6" text-anchor="middle" fill="#0a1a33" font-style="italic" stroke="#0a1a33" stroke-width="0.08">-0.6</text>
<rect x="383.55" y="31.67" width="10.41" height="6.49" fill="#0aa2e6" stroke="#1f4a70" stroke-width="0.3"/>
<text x="388.75" y="36.26" font-size="3.6" text-anchor="middle" fill="#0a1a33" font-style="italic" stroke="#0a1a33" stroke-width="0.08">-0.9</text>
<rect x="393.96" y="31.67" width="10.41" height="6.49" fill="#0aa2e6" stroke="#1f4a70" stroke-width="0.3"/>
<text x="399.17" y="36.26" font-size="3.6" text-anchor="middle" fill="#0a1a33" font-style="italic" stroke="#0a1a33" stroke-width="0.08">-0.5</text>
<rect x="404.37" y="31.67" width="10.41" height="6.49" fill="#0aa2e6" stroke="#1f4a70" stroke-width="0.3"/>
<text x="409.57" y="36.26" font-size="3.6" text-anchor="middle" fill="#0a1a33" font-style="italic" stroke="#0a1a33" stroke-width="0.08">-0.8</text>
<rect x="414.78" y="31.67" width="10.41" height="6.49" fill="#0aa2e6" stroke="#1f4a70" stroke-width="0.3"/>
<text x="419.99" y="36.26" font-size="3.6" text-anchor="middle" fill="#0a1a33" font-style="italic" stroke="#0a1a33" stroke-width="0.08">-1.0</text>
<rect x="425.19" y="31.67" width="10.41" height="6.49" fill="#0aa2e6" stroke="#1f4a70" stroke-width="0.3"/>
<text x="430.39" y="36.26" font-size="3.6" text-anchor="middle" fill="#0a1a33" font-style="italic" stroke="#0a1a33" stroke-width="0.08">-1.0</text>
<rect x="304.20" y="38.16" width="19.40" height="6.49" fill="#fff" stroke="#9a9a9a" stroke-width="0.35"/>
<rect x="323.60" y="38.16" width="7.90" height="6.49" fill="#fff" stroke="#9a9a9a" stroke-width="0.35"/>
<text x="305.40" y="42.85" font-size="3.7" text-anchor="start" fill="#111" font-weight="bold" stroke="#111" stroke-width="0.08">hc-DNA</text>
<text x="327.55" y="42.65" font-size="2.7" text-anchor="middle" fill="#222" font-style="italic" stroke="#222" stroke-width="0.08">1h</text>
<rect x="331.50" y="38.16" width="10.41" height="6.49" fill="#1fdc2a" stroke="#1f4a70" stroke-width="0.3"/>
<text x="336.70" y="42.75" font-size="3.6" text-anchor="middle" fill="#0a1a33" font-style="italic" stroke="#0a1a33" stroke-width="0.08">-0.3</text>
<rect x="341.91" y="38.16" width="10.41" height="6.49" fill="#1fdc2a" stroke="#1f4a70" stroke-width="0.3"/>
<text x="347.12" y="42.75" font-size="3.6" text-anchor="middle" fill="#0a1a33" font-style="italic" stroke="#0a1a33" stroke-width="0.08">0.1</text>
<rect x="352.32" y="38.16" width="10.41" height="6.49" fill="#1fdc2a" stroke="#1f4a70" stroke-width="0.3"/>
<text x="357.52" y="42.75" font-size="3.6" text-anchor="middle" fill="#0a1a33" font-style="italic" stroke="#0a1a33" stroke-width="0.08">-0.3</text>
<rect x="362.73" y="38.16" width="10.41" height="6.49" fill="#1fdc2a" stroke="#1f4a70" stroke-width="0.3"/>
<text x="367.94" y="42.75" font-size="3.6" text-anchor="middle" fill="#0a1a33" font-style="italic" stroke="#0a1a33" stroke-width="0.08">0.0</text>
<rect x="373.14" y="38.16" width="10.41" height="6.49" fill="#0aa2e6" stroke="#1f4a70" stroke-width="0.3"/>
<text x="378.34" y="42.75" font-size="3.6" text-anchor="middle" fill="#0a1a33" font-style="italic" stroke="#0a1a33" stroke-width="0.08">-0.6</text>
<rect x="383.55" y="38.16" width="10.41" height="6.49" fill="#1fdc2a" stroke="#1f4a70" stroke-width="0.3"/>
<text x="388.75" y="42.75" font-size="3.6" text-anchor="middle" fill="#0a1a33" font-style="italic" stroke="#0a1a33" stroke-width="0.08">-0.1</text>
<rect x="393.96" y="38.16" width="10.41" height="6.49" fill="#0aa2e6" stroke="#1f4a70" stroke-width="0.3"/>
<text x="399.17" y="42.75" font-size="3.6" text-anchor="middle" fill="#0a1a33" font-style="italic" stroke="#0a1a33" stroke-width="0.08">-0.8</text>
<rect x="404.37" y="38.16" width="10.41" height="6.49" fill="#1fdc2a" stroke="#1f4a70" stroke-width="0.3"/>
<text x="409.57" y="42.75" font-size="3.6" text-anchor="middle" fill="#0a1a33" font-style="italic" stroke="#0a1a33" stroke-width="0.08">-0.3</text>
<rect x="414.78" y="38.16" width="10.41" height="6.49" fill="#0aa2e6" stroke="#1f4a70" stroke-width="0.3"/>
<text x="419.99" y="42.75" font-size="3.6" text-anchor="middle" fill="#0a1a33" font-style="italic" stroke="#0a1a33" stroke-width="0.08">-1.0</text>
<rect x="425.19" y="38.16" width="10.41" height="6.49" fill="#0aa2e6" stroke="#1f4a70" stroke-width="0.3"/>
<text x="430.39" y="42.75" font-size="3.6" text-anchor="middle" fill="#0a1a33" font-style="italic" stroke="#0a1a33" stroke-width="0.08">-0.8</text>
<rect x="304.20" y="44.65" width="19.40" height="6.49" fill="#fff" stroke="#9a9a9a" stroke-width="0.35"/>
<rect x="323.60" y="44.65" width="7.90" height="6.49" fill="#fff" stroke="#9a9a9a" stroke-width="0.35"/>
<text x="305.40" y="49.34" font-size="3.7" text-anchor="start" fill="#111" font-weight="bold" stroke="#111" stroke-width="0.08">gDNA</text>
<text x="327.55" y="49.14" font-size="2.7" text-anchor="middle" fill="#222" font-style="italic" stroke="#222" stroke-width="0.08">3h</text>
<rect x="331.50" y="44.65" width="10.41" height="6.49" fill="#0aa2e6" stroke="#1f4a70" stroke-width="0.3"/>
<text x="336.70" y="49.24" font-size="3.6" text-anchor="middle" fill="#0a1a33" font-style="italic" stroke="#0a1a33" stroke-width="0.08">-0.9</text>
<rect x="341.91" y="44.65" width="10.41" height="6.49" fill="#1fdc2a" stroke="#1f4a70" stroke-width="0.3"/>
<text x="347.12" y="49.24" font-size="3.6" text-anchor="middle" fill="#0a1a33" font-style="italic" stroke="#0a1a33" stroke-width="0.08">0.1</text>
<rect x="352.32" y="44.65" width="10.41" height="6.49" fill="#0aa2e6" stroke="#1f4a70" stroke-width="0.3"/>
<text x="357.52" y="49.24" font-size="3.6" text-anchor="middle" fill="#0a1a33" font-style="italic" stroke="#0a1a33" stroke-width="0.08">-0.9</text>
<rect x="362.73" y="44.65" width="10.41" height="6.49" fill="#1fdc2a" stroke="#1f4a70" stroke-width="0.3"/>
<text x="367.94" y="49.24" font-size="3.6" text-anchor="middle" fill="#0a1a33" font-style="italic" stroke="#0a1a33" stroke-width="0.08">-0.2</text>
<rect x="373.14" y="44.65" width="10.41" height="6.49" fill="#1fdc2a" stroke="#1f4a70" stroke-width="0.3"/>
<text x="378.34" y="49.24" font-size="3.6" text-anchor="middle" fill="#0a1a33" font-style="italic" stroke="#0a1a33" stroke-width="0.08">-0.2</text>
<rect x="383.55" y="44.65" width="10.41" height="6.49" fill="#0aa2e6" stroke="#1f4a70" stroke-width="0.3"/>
<text x="388.75" y="49.24" font-size="3.6" text-anchor="middle" fill="#0a1a33" font-style="italic" stroke="#0a1a33" stroke-width="0.08">-0.6</text>
<rect x="393.96" y="44.65" width="10.41" height="6.49" fill="#0aa2e6" stroke="#1f4a70" stroke-width="0.3"/>
<text x="399.17" y="49.24" font-size="3.6" text-anchor="middle" fill="#0a1a33" font-style="italic" stroke="#0a1a33" stroke-width="0.08">-0.7</text>
<rect x="404.37" y="44.65" width="10.41" height="6.49" fill="#0aa2e6" stroke="#1f4a70" stroke-width="0.3"/>
<text x="409.57" y="49.24" font-size="3.6" text-anchor="middle" fill="#0a1a33" font-style="italic" stroke="#0a1a33" stroke-width="0.08">-0.8</text>
<rect x="414.78" y="44.65" width="10.41" height="6.49" fill="#0aa2e6" stroke="#1f4a70" stroke-width="0.3"/>
<text x="419.99" y="49.24" font-size="3.6" text-anchor="middle" fill="#0a1a33" font-style="italic" stroke="#0a1a33" stroke-width="0.08">-0.9</text>
<rect x="425.19" y="44.65" width="10.41" height="6.49" fill="#0aa2e6" stroke="#1f4a70" stroke-width="0.3"/>
<text x="430.39" y="49.24" font-size="3.6" text-anchor="middle" fill="#0a1a33" font-style="italic" stroke="#0a1a33" stroke-width="0.08">-1.0</text>
<rect x="304.20" y="51.14" width="19.40" height="6.49" fill="#fff" stroke="#9a9a9a" stroke-width="0.35"/>
<rect x="323.60" y="51.14" width="7.90" height="6.49" fill="#fff" stroke="#9a9a9a" stroke-width="0.35"/>
<text x="305.40" y="55.83" font-size="3.7" text-anchor="start" fill="#111" font-weight="bold" stroke="#111" stroke-width="0.08">oxy-gDNA</text>
<text x="327.55" y="55.63" font-size="2.7" text-anchor="middle" fill="#222" font-style="italic" stroke="#222" stroke-width="0.08">3h</text>
<rect x="331.50" y="51.14" width="10.41" height="6.49" fill="#0aa2e6" stroke="#1f4a70" stroke-width="0.3"/>
<text x="336.70" y="55.73" font-size="3.6" text-anchor="middle" fill="#0a1a33" font-style="italic" stroke="#0a1a33" stroke-width="0.08">-0.6</text>
<rect x="341.91" y="51.14" width="10.41" height="6.49" fill="#1fdc2a" stroke="#1f4a70" stroke-width="0.3"/>
<text x="347.12" y="55.73" font-size="3.6" text-anchor="middle" fill="#0a1a33" font-style="italic" stroke="#0a1a33" stroke-width="0.08">0.1</text>
<rect x="352.32" y="51.14" width="10.41" height="6.49" fill="#f01416" stroke="#1f4a70" stroke-width="0.3"/>
<text x="357.52" y="55.73" font-size="3.6" text-anchor="middle" fill="#0a1a33" font-style="italic" stroke="#0a1a33" stroke-width="0.08">0.4</text>
<rect x="362.73" y="51.14" width="10.41" height="6.49" fill="#f01416" stroke="#1f4a70" stroke-width="0.3"/>
<text x="367.94" y="55.73" font-size="3.6" text-anchor="middle" fill="#0a1a33" font-style="italic" stroke="#0a1a33" stroke-width="0.08">0.8</text>
<rect x="373.14" y="51.14" width="10.41" height="6.49" fill="#0aa2e6" stroke="#1f4a70" stroke-width="0.3"/>
<text x="378.34" y="55.73" font-size="3.6" text-anchor="middle" fill="#0a1a33" font-style="italic" stroke="#0a1a33" stroke-width="0.08">-0.8</text>
<rect x="383.55" y="51.14" width="10.41" height="6.49" fill="#1fdc2a" stroke="#1f4a70" stroke-width="0.3"/>
<text x="388.75" y="55.73" font-size="3.6" text-anchor="middle" fill="#0a1a33" font-style="italic" stroke="#0a1a33" stroke-width="0.08">-0.3</text>
<rect x="393.96" y="51.14" width="10.41" height="6.49" fill="#1fdc2a" stroke="#1f4a70" stroke-width="0.3"/>
<text x="399.17" y="55.73" font-size="3.6" text-anchor="middle" fill="#0a1a33" font-style="italic" stroke="#0a1a33" stroke-width="0.08">-0.3</text>
<rect x="404.37" y="51.14" width="10.41" height="6.49" fill="#1fdc2a" stroke="#1f4a70" stroke-width="0.3"/>
<text x="409.57" y="55.73" font-size="3.6" text-anchor="middle" fill="#0a1a33" font-style="italic" stroke="#0a1a33" stroke-width="0.08">-0.2</text>
<rect x="414.78" y="51.14" width="10.41" height="6.49" fill="#1fdc2a" stroke="#1f4a70" stroke-width="0.3"/>
<text x="419.99" y="55.73" font-size="3.6" text-anchor="middle" fill="#0a1a33" font-style="italic" stroke="#0a1a33" stroke-width="0.08">-0.2</text>
<rect x="425.19" y="51.14" width="10.41" height="6.49" fill="#0aa2e6" stroke="#1f4a70" stroke-width="0.3"/>
<text x="430.39" y="55.73" font-size="3.6" text-anchor="middle" fill="#0a1a33" font-style="italic" stroke="#0a1a33" stroke-width="0.08">-0.7</text>
<rect x="304.20" y="57.63" width="19.40" height="6.49" fill="#fff" stroke="#9a9a9a" stroke-width="0.35"/>
<rect x="323.60" y="57.63" width="7.90" height="6.49" fill="#fff" stroke="#9a9a9a" stroke-width="0.35"/>
<text x="305.40" y="62.32" font-size="3.7" text-anchor="start" fill="#111" font-weight="bold" stroke="#111" stroke-width="0.08">gcDNA</text>
<text x="327.55" y="62.12" font-size="2.7" text-anchor="middle" fill="#222" font-style="italic" stroke="#222" stroke-width="0.08">3h</text>
<rect x="331.50" y="57.63" width="10.41" height="6.49" fill="#0aa2e6" stroke="#1f4a70" stroke-width="0.3"/>
<text x="336.70" y="62.22" font-size="3.6" text-anchor="middle" fill="#0a1a33" font-style="italic" stroke="#0a1a33" stroke-width="0.08">-0.9</text>
<rect x="341.91" y="57.63" width="10.41" height="6.49" fill="#0aa2e6" stroke="#1f4a70" stroke-width="0.3"/>
<text x="347.12" y="62.22" font-size="3.6" text-anchor="middle" fill="#0a1a33" font-style="italic" stroke="#0a1a33" stroke-width="0.08">-0.6</text>
<rect x="352.32" y="57.63" width="10.41" height="6.49" fill="#0aa2e6" stroke="#1f4a70" stroke-width="0.3"/>
<text x="357.52" y="62.22" font-size="3.6" text-anchor="middle" fill="#0a1a33" font-style="italic" stroke="#0a1a33" stroke-width="0.08">-0.6</text>
<rect x="362.73" y="57.63" width="10.41" height="6.49" fill="#0aa2e6" stroke="#1f4a70" stroke-width="0.3"/>
<text x="367.94" y="62.22" font-size="3.6" text-anchor="middle" fill="#0a1a33" font-style="italic" stroke="#0a1a33" stroke-width="0.08">-0.5</text>
<rect x="373.14" y="57.63" width="10.41" height="6.49" fill="#0aa2e6" stroke="#1f4a70" stroke-width="0.3"/>
<text x="378.34" y="62.22" font-size="3.6" text-anchor="middle" fill="#0a1a33" font-style="italic" stroke="#0a1a33" stroke-width="0.08">-0.8</text>
<rect x="383.55" y="57.63" width="10.41" height="6.49" fill="#1fdc2a" stroke="#1f4a70" stroke-width="0.3"/>
<text x="388.75" y="62.22" font-size="3.6" text-anchor="middle" fill="#0a1a33" font-style="italic" stroke="#0a1a33" stroke-width="0.08">0.2</text>
<rect x="393.96" y="57.63" width="10.41" height="6.49" fill="#0aa2e6" stroke="#1f4a70" stroke-width="0.3"/>
<text x="399.17" y="62.22" font-size="3.6" text-anchor="middle" fill="#0a1a33" font-style="italic" stroke="#0a1a33" stroke-width="0.08">-0.8</text>
<rect x="404.37" y="57.63" width="10.41" height="6.49" fill="#1fdc2a" stroke="#1f4a70" stroke-width="0.3"/>
<text x="409.57" y="62.22" font-size="3.6" text-anchor="middle" fill="#0a1a33" font-style="italic" stroke="#0a1a33" stroke-width="0.08">-0.2</text>
<rect x="414.78" y="57.63" width="10.41" height="6.49" fill="#0aa2e6" stroke="#1f4a70" stroke-width="0.3"/>
<text x="419.99" y="62.22" font-size="3.6" text-anchor="middle" fill="#0a1a33" font-style="italic" stroke="#0a1a33" stroke-width="0.08">-1.0</text>
<rect x="425.19" y="57.63" width="10.41" height="6.49" fill="#0aa2e6" stroke="#1f4a70" stroke-width="0.3"/>
<text x="430.39" y="62.22" font-size="3.6" text-anchor="middle" fill="#0a1a33" font-style="italic" stroke="#0a1a33" stroke-width="0.08">-0.5</text>
<rect x="304.20" y="64.12" width="19.40" height="6.49" fill="#fff" stroke="#9a9a9a" stroke-width="0.35"/>
<rect x="323.60" y="64.12" width="7.90" height="6.49" fill="#fff" stroke="#9a9a9a" stroke-width="0.35"/>
<text x="305.40" y="68.81" font-size="3.7" text-anchor="start" fill="#111" font-weight="bold" stroke="#111" stroke-width="0.08">sz-cfDNA</text>
<text x="327.55" y="68.61" font-size="2.7" text-anchor="middle" fill="#222" font-style="italic" stroke="#222" stroke-width="0.08">3h</text>
<rect x="331.50" y="64.12" width="10.41" height="6.49" fill="#0aa2e6" stroke="#1f4a70" stroke-width="0.3"/>
<text x="336.70" y="68.71" font-size="3.6" text-anchor="middle" fill="#0a1a33" font-style="italic" stroke="#0a1a33" stroke-width="0.08">-0.8</text>
<rect x="341.91" y="64.12" width="10.41" height="6.49" fill="#1fdc2a" stroke="#1f4a70" stroke-width="0.3"/>
<text x="347.12" y="68.71" font-size="3.6" text-anchor="middle" fill="#0a1a33" font-style="italic" stroke="#0a1a33" stroke-width="0.08">-0.2</text>
<rect x="352.32" y="64.12" width="10.41" height="6.49" fill="#0aa2e6" stroke="#1f4a70" stroke-width="0.3"/>
<text x="357.52" y="68.71" font-size="3.6" text-anchor="middle" fill="#0a1a33" font-style="italic" stroke="#0a1a33" stroke-width="0.08">-1.0</text>
<rect x="362.73" y="64.12" width="10.41" height="6.49" fill="#0aa2e6" stroke="#1f4a70" stroke-width="0.3"/>
<text x="367.94" y="68.71" font-size="3.6" text-anchor="middle" fill="#0a1a33" font-style="italic" stroke="#0a1a33" stroke-width="0.08">-0.6</text>
<rect x="373.14" y="64.12" width="10.41" height="6.49" fill="#0aa2e6" stroke="#1f4a70" stroke-width="0.3"/>
<text x="378.34" y="68.71" font-size="3.6" text-anchor="middle" fill="#0a1a33" font-style="italic" stroke="#0a1a33" stroke-width="0.08">-0.8</text>
<rect x="383.55" y="64.12" width="10.41" height="6.49" fill="#0aa2e6" stroke="#1f4a70" stroke-width="0.3"/>
<text x="388.75" y="68.71" font-size="3.6" text-anchor="middle" fill="#0a1a33" font-style="italic" stroke="#0a1a33" stroke-width="0.08">-0.5</text>
<rect x="393.96" y="64.12" width="10.41" height="6.49" fill="#0aa2e6" stroke="#1f4a70" stroke-width="0.3"/>
<text x="399.17" y="68.71" font-size="3.6" text-anchor="middle" fill="#0a1a33" font-style="italic" stroke="#0a1a33" stroke-width="0.08">-0.8</text>
<rect x="404.37" y="64.12" width="10.41" height="6.49" fill="#1fdc2a" stroke="#1f4a70" stroke-width="0.3"/>
<text x="409.57" y="68.71" font-size="3.6" text-anchor="middle" fill="#0a1a33" font-style="italic" stroke="#0a1a33" stroke-width="0.08">-0.3</text>
<rect x="414.78" y="64.12" width="10.41" height="6.49" fill="#0aa2e6" stroke="#1f4a70" stroke-width="0.3"/>
<text x="419.99" y="68.71" font-size="3.6" text-anchor="middle" fill="#0a1a33" font-style="italic" stroke="#0a1a33" stroke-width="0.08">-0.6</text>
<rect x="425.19" y="64.12" width="10.41" height="6.49" fill="#0aa2e6" stroke="#1f4a70" stroke-width="0.3"/>
<text x="430.39" y="68.71" font-size="3.6" text-anchor="middle" fill="#0a1a33" font-style="italic" stroke="#0a1a33" stroke-width="0.08">-0.8</text>
<rect x="304.20" y="70.61" width="19.40" height="6.49" fill="#fff" stroke="#9a9a9a" stroke-width="0.35"/>
<rect x="323.60" y="70.61" width="7.90" height="6.49" fill="#fff" stroke="#9a9a9a" stroke-width="0.35"/>
<text x="305.40" y="75.30" font-size="3.7" text-anchor="start" fill="#111" font-weight="bold" stroke="#111" stroke-width="0.08">hc-DNA</text>
<text x="327.55" y="75.10" font-size="2.7" text-anchor="middle" fill="#222" font-style="italic" stroke="#222" stroke-width="0.08">3h</text>
<rect x="331.50" y="70.61" width="10.41" height="6.49" fill="#0aa2e6" stroke="#1f4a70" stroke-width="0.3"/>
<text x="336.70" y="75.20" font-size="3.6" text-anchor="middle" fill="#0a1a33" font-style="italic" stroke="#0a1a33" stroke-width="0.08">-0.5</text>
<rect x="341.91" y="70.61" width="10.41" height="6.49" fill="#1fdc2a" stroke="#1f4a70" stroke-width="0.3"/>
<text x="347.12" y="75.20" font-size="3.6" text-anchor="middle" fill="#0a1a33" font-style="italic" stroke="#0a1a33" stroke-width="0.08">-0.2</text>
<rect x="352.32" y="70.61" width="10.41" height="6.49" fill="#0aa2e6" stroke="#1f4a70" stroke-width="0.3"/>
<text x="357.52" y="75.20" font-size="3.6" text-anchor="middle" fill="#0a1a33" font-style="italic" stroke="#0a1a33" stroke-width="0.08">-1.0</text>
<rect x="362.73" y="70.61" width="10.41" height="6.49" fill="#1fdc2a" stroke="#1f4a70" stroke-width="0.3"/>
<text x="367.94" y="75.20" font-size="3.6" text-anchor="middle" fill="#0a1a33" font-style="italic" stroke="#0a1a33" stroke-width="0.08">0.2</text>
<rect x="373.14" y="70.61" width="10.41" height="6.49" fill="#0aa2e6" stroke="#1f4a70" stroke-width="0.3"/>
<text x="378.34" y="75.20" font-size="3.6" text-anchor="middle" fill="#0a1a33" font-style="italic" stroke="#0a1a33" stroke-width="0.08">-0.9</text>
<rect x="383.55" y="70.61" width="10.41" height="6.49" fill="#f01416" stroke="#1f4a70" stroke-width="0.3"/>
<text x="388.75" y="75.20" font-size="3.6" text-anchor="middle" fill="#0a1a33" font-style="italic" stroke="#0a1a33" stroke-width="0.08">0.4</text>
<rect x="393.96" y="70.61" width="10.41" height="6.49" fill="#0aa2e6" stroke="#1f4a70" stroke-width="0.3"/>
<text x="399.17" y="75.20" font-size="3.6" text-anchor="middle" fill="#0a1a33" font-style="italic" stroke="#0a1a33" stroke-width="0.08">-0.5</text>
<rect x="404.37" y="70.61" width="10.41" height="6.49" fill="#0aa2e6" stroke="#1f4a70" stroke-width="0.3"/>
<text x="409.57" y="75.20" font-size="3.6" text-anchor="middle" fill="#0a1a33" font-style="italic" stroke="#0a1a33" stroke-width="0.08">-0.6</text>
<rect x="414.78" y="70.61" width="10.41" height="6.49" fill="#0aa2e6" stroke="#1f4a70" stroke-width="0.3"/>
<text x="419.99" y="75.20" font-size="3.6" text-anchor="middle" fill="#0a1a33" font-style="italic" stroke="#0a1a33" stroke-width="0.08">-0.7</text>
<rect x="425.19" y="70.61" width="10.41" height="6.49" fill="#1fdc2a" stroke="#1f4a70" stroke-width="0.3"/>
<text x="430.39" y="75.20" font-size="3.6" text-anchor="middle" fill="#0a1a33" font-style="italic" stroke="#0a1a33" stroke-width="0.08">-0.2</text>
<rect x="304.20" y="77.10" width="19.40" height="6.49" fill="#fff" stroke="#9a9a9a" stroke-width="0.35"/>
<rect x="323.60" y="77.10" width="7.90" height="6.49" fill="#fff" stroke="#9a9a9a" stroke-width="0.35"/>
<text x="305.40" y="81.79" font-size="3.7" text-anchor="start" fill="#111" font-weight="bold" stroke="#111" stroke-width="0.08">gDNA</text>
<text x="327.55" y="81.59" font-size="2.7" text-anchor="middle" fill="#222" font-style="italic" stroke="#222" stroke-width="0.08">24h</text>
<rect x="331.50" y="77.10" width="10.41" height="6.49" fill="#0aa2e6" stroke="#1f4a70" stroke-width="0.3"/>
<text x="336.70" y="81.69" font-size="3.6" text-anchor="middle" fill="#0a1a33" font-style="italic" stroke="#0a1a33" stroke-width="0.08">-1.0</text>
<rect x="341.91" y="77.10" width="10.41" height="6.49" fill="#0aa2e6" stroke="#1f4a70" stroke-width="0.3"/>
<text x="347.12" y="81.69" font-size="3.6" text-anchor="middle" fill="#0a1a33" font-style="italic" stroke="#0a1a33" stroke-width="0.08">-1.0</text>
<rect x="352.32" y="77.10" width="10.41" height="6.49" fill="#0aa2e6" stroke="#1f4a70" stroke-width="0.3"/>
<text x="357.52" y="81.69" font-size="3.6" text-anchor="middle" fill="#0a1a33" font-style="italic" stroke="#0a1a33" stroke-width="0.08">-1.0</text>
<rect x="362.73" y="77.10" width="10.41" height="6.49" fill="#0aa2e6" stroke="#1f4a70" stroke-width="0.3"/>
<text x="367.94" y="81.69" font-size="3.6" text-anchor="middle" fill="#0a1a33" font-style="italic" stroke="#0a1a33" stroke-width="0.08">-0.8</text>
<rect x="373.14" y="77.10" width="10.41" height="6.49" fill="#0aa2e6" stroke="#1f4a70" stroke-width="0.3"/>
<text x="378.34" y="81.69" font-size="3.6" text-anchor="middle" fill="#0a1a33" font-style="italic" stroke="#0a1a33" stroke-width="0.08">-1.0</text>
<rect x="383.55" y="77.10" width="10.41" height="6.49" fill="#1fdc2a" stroke="#1f4a70" stroke-width="0.3"/>
<text x="388.75" y="81.69" font-size="3.6" text-anchor="middle" fill="#0a1a33" font-style="italic" stroke="#0a1a33" stroke-width="0.08">-0.2</text>
<rect x="393.96" y="77.10" width="10.41" height="6.49" fill="#0aa2e6" stroke="#1f4a70" stroke-width="0.3"/>
<text x="399.17" y="81.69" font-size="3.6" text-anchor="middle" fill="#0a1a33" font-style="italic" stroke="#0a1a33" stroke-width="0.08">-1.0</text>
<rect x="404.37" y="77.10" width="10.41" height="6.49" fill="#1fdc2a" stroke="#1f4a70" stroke-width="0.3"/>
<text x="409.57" y="81.69" font-size="3.6" text-anchor="middle" fill="#0a1a33" font-style="italic" stroke="#0a1a33" stroke-width="0.08">-0.2</text>
<rect x="414.78" y="77.10" width="10.41" height="6.49" fill="#0aa2e6" stroke="#1f4a70" stroke-width="0.3"/>
<text x="419.99" y="81.69" font-size="3.6" text-anchor="middle" fill="#0a1a33" font-style="italic" stroke="#0a1a33" stroke-width="0.08">-0.9</text>
<rect x="425.19" y="77.10" width="10.41" height="6.49" fill="#0aa2e6" stroke="#1f4a70" stroke-width="0.3"/>
<text x="430.39" y="81.69" font-size="3.6" text-anchor="middle" fill="#0a1a33" font-style="italic" stroke="#0a1a33" stroke-width="0.08">-0.5</text>
<rect x="304.20" y="83.59" width="19.40" height="6.49" fill="#fff" stroke="#9a9a9a" stroke-width="0.35"/>
<rect x="323.60" y="83.59" width="7.90" height="6.49" fill="#fff" stroke="#9a9a9a" stroke-width="0.35"/>
<text x="305.40" y="88.28" font-size="3.7" text-anchor="start" fill="#111" font-weight="bold" stroke="#111" stroke-width="0.08">oxy-gDNA</text>
<text x="327.55" y="88.08" font-size="2.7" text-anchor="middle" fill="#222" font-style="italic" stroke="#222" stroke-width="0.08">24h</text>
<rect x="331.50" y="83.59" width="10.41" height="6.49" fill="#0aa2e6" stroke="#1f4a70" stroke-width="0.3"/>
<text x="336.70" y="88.18" font-size="3.6" text-anchor="middle" fill="#0a1a33" font-style="italic" stroke="#0a1a33" stroke-width="0.08">-0.7</text>
<rect x="341.91" y="83.59" width="10.41" height="6.49" fill="#0aa2e6" stroke="#1f4a70" stroke-width="0.3"/>
<text x="347.12" y="88.18" font-size="3.6" text-anchor="middle" fill="#0a1a33" font-style="italic" stroke="#0a1a33" stroke-width="0.08">-0.9</text>
<rect x="352.32" y="83.59" width="10.41" height="6.49" fill="#0aa2e6" stroke="#1f4a70" stroke-width="0.3"/>
<text x="357.52" y="88.18" font-size="3.6" text-anchor="middle" fill="#0a1a33" font-style="italic" stroke="#0a1a33" stroke-width="0.08">-0.5</text>
<rect x="362.73" y="83.59" width="10.41" height="6.49" fill="#0aa2e6" stroke="#1f4a70" stroke-width="0.3"/>
<text x="367.94" y="88.18" font-size="3.6" text-anchor="middle" fill="#0a1a33" font-style="italic" stroke="#0a1a33" stroke-width="0.08">-1.0</text>
<rect x="373.14" y="83.59" width="10.41" height="6.49" fill="#0aa2e6" stroke="#1f4a70" stroke-width="0.3"/>
<text x="378.34" y="88.18" font-size="3.6" text-anchor="middle" fill="#0a1a33" font-style="italic" stroke="#0a1a33" stroke-width="0.08">-0.6</text>
<rect x="383.55" y="83.59" width="10.41" height="6.49" fill="#1fdc2a" stroke="#1f4a70" stroke-width="0.3"/>
<text x="388.75" y="88.18" font-size="3.6" text-anchor="middle" fill="#0a1a33" font-style="italic" stroke="#0a1a33" stroke-width="0.08">-0.3</text>
<rect x="393.96" y="83.59" width="10.41" height="6.49" fill="#0aa2e6" stroke="#1f4a70" stroke-width="0.3"/>
<text x="399.17" y="88.18" font-size="3.6" text-anchor="middle" fill="#0a1a33" font-style="italic" stroke="#0a1a33" stroke-width="0.08">-0.5</text>
<rect x="404.37" y="83.59" width="10.41" height="6.49" fill="#0aa2e6" stroke="#1f4a70" stroke-width="0.3"/>
<text x="409.57" y="88.18" font-size="3.6" text-anchor="middle" fill="#0a1a33" font-style="italic" stroke="#0a1a33" stroke-width="0.08">-0.5</text>
<rect x="414.78" y="83.59" width="10.41" height="6.49" fill="#0aa2e6" stroke="#1f4a70" stroke-width="0.3"/>
<text x="419.99" y="88.18" font-size="3.6" text-anchor="middle" fill="#0a1a33" font-style="italic" stroke="#0a1a33" stroke-width="0.08">-0.8</text>
<rect x="425.19" y="83.59" width="10.41" height="6.49" fill="#0aa2e6" stroke="#1f4a70" stroke-width="0.3"/>
<text x="430.39" y="88.18" font-size="3.6" text-anchor="middle" fill="#0a1a33" font-style="italic" stroke="#0a1a33" stroke-width="0.08">-0.9</text>
<rect x="304.20" y="90.08" width="19.40" height="6.49" fill="#fff" stroke="#9a9a9a" stroke-width="0.35"/>
<rect x="323.60" y="90.08" width="7.90" height="6.49" fill="#fff" stroke="#9a9a9a" stroke-width="0.35"/>
<text x="305.40" y="94.77" font-size="3.7" text-anchor="start" fill="#111" font-weight="bold" stroke="#111" stroke-width="0.08">gcDNA</text>
<text x="327.55" y="94.57" font-size="2.7" text-anchor="middle" fill="#222" font-style="italic" stroke="#222" stroke-width="0.08">24h</text>
<rect x="331.50" y="90.08" width="10.41" height="6.49" fill="#0aa2e6" stroke="#1f4a70" stroke-width="0.3"/>
<text x="336.70" y="94.67" font-size="3.6" text-anchor="middle" fill="#0a1a33" font-style="italic" stroke="#0a1a33" stroke-width="0.08">-1.0</text>
<rect x="341.91" y="90.08" width="10.41" height="6.49" fill="#0aa2e6" stroke="#1f4a70" stroke-width="0.3"/>
<text x="347.12" y="94.67" font-size="3.6" text-anchor="middle" fill="#0a1a33" font-style="italic" stroke="#0a1a33" stroke-width="0.08">-0.6</text>
<rect x="352.32" y="90.08" width="10.41" height="6.49" fill="#0aa2e6" stroke="#1f4a70" stroke-width="0.3"/>
<text x="357.52" y="94.67" font-size="3.6" text-anchor="middle" fill="#0a1a33" font-style="italic" stroke="#0a1a33" stroke-width="0.08">-1.0</text>
<rect x="362.73" y="90.08" width="10.41" height="6.49" fill="#0aa2e6" stroke="#1f4a70" stroke-width="0.3"/>
<text x="367.94" y="94.67" font-size="3.6" text-anchor="middle" fill="#0a1a33" font-style="italic" stroke="#0a1a33" stroke-width="0.08">-0.5</text>
<rect x="373.14" y="90.08" width="10.41" height="6.49" fill="#0aa2e6" stroke="#1f4a70" stroke-width="0.3"/>
<text x="378.34" y="94.67" font-size="3.6" text-anchor="middle" fill="#0a1a33" font-style="italic" stroke="#0a1a33" stroke-width="0.08">-0.9</text>
<rect x="383.55" y="90.08" width="10.41" height="6.49" fill="#0aa2e6" stroke="#1f4a70" stroke-width="0.3"/>
<text x="388.75" y="94.67" font-size="3.6" text-anchor="middle" fill="#0a1a33" font-style="italic" stroke="#0a1a33" stroke-width="0.08">-0.5</text>
<rect x="393.96" y="90.08" width="10.41" height="6.49" fill="#0aa2e6" stroke="#1f4a70" stroke-width="0.3"/>
<text x="399.17" y="94.67" font-size="3.6" text-anchor="middle" fill="#0a1a33" font-style="italic" stroke="#0a1a33" stroke-width="0.08">-1.0</text>
<rect x="404.37" y="90.08" width="10.41" height="6.49" fill="#0aa2e6" stroke="#1f4a70" stroke-width="0.3"/>
<text x="409.57" y="94.67" font-size="3.6" text-anchor="middle" fill="#0a1a33" font-style="italic" stroke="#0a1a33" stroke-width="0.08">-0.7</text>
<rect x="414.78" y="90.08" width="10.41" height="6.49" fill="#0aa2e6" stroke="#1f4a70" stroke-width="0.3"/>
<text x="419.99" y="94.67" font-size="3.6" text-anchor="middle" fill="#0a1a33" font-style="italic" stroke="#0a1a33" stroke-width="0.08">-1.0</text>
<rect x="425.19" y="90.08" width="10.41" height="6.49" fill="#1fdc2a" stroke="#1f4a70" stroke-width="0.3"/>
<text x="430.39" y="94.67" font-size="3.6" text-anchor="middle" fill="#0a1a33" font-style="italic" stroke="#0a1a33" stroke-width="0.08">-0.3</text>
<rect x="304.20" y="96.57" width="19.40" height="6.49" fill="#fff" stroke="#9a9a9a" stroke-width="0.35"/>
<rect x="323.60" y="96.57" width="7.90" height="6.49" fill="#fff" stroke="#9a9a9a" stroke-width="0.35"/>
<text x="305.40" y="101.26" font-size="3.7" text-anchor="start" fill="#111" font-weight="bold" stroke="#111" stroke-width="0.08">sz-cfDNA</text>
<text x="327.55" y="101.06" font-size="2.7" text-anchor="middle" fill="#222" font-style="italic" stroke="#222" stroke-width="0.08">24h</text>
<rect x="331.50" y="96.57" width="10.41" height="6.49" fill="#0aa2e6" stroke="#1f4a70" stroke-width="0.3"/>
<text x="336.70" y="101.16" font-size="3.6" text-anchor="middle" fill="#0a1a33" font-style="italic" stroke="#0a1a33" stroke-width="0.08">-0.7</text>
<rect x="341.91" y="96.57" width="10.41" height="6.49" fill="#0aa2e6" stroke="#1f4a70" stroke-width="0.3"/>
<text x="347.12" y="101.16" font-size="3.6" text-anchor="middle" fill="#0a1a33" font-style="italic" stroke="#0a1a33" stroke-width="0.08">-0.6</text>
<rect x="352.32" y="96.57" width="10.41" height="6.49" fill="#0aa2e6" stroke="#1f4a70" stroke-width="0.3"/>
<text x="357.52" y="101.16" font-size="3.6" text-anchor="middle" fill="#0a1a33" font-style="italic" stroke="#0a1a33" stroke-width="0.08">-1.0</text>
<rect x="362.73" y="96.57" width="10.41" height="6.49" fill="#0aa2e6" stroke="#1f4a70" stroke-width="0.3"/>
<text x="367.94" y="101.16" font-size="3.6" text-anchor="middle" fill="#0a1a33" font-style="italic" stroke="#0a1a33" stroke-width="0.08">-0.7</text>
<rect x="373.14" y="96.57" width="10.41" height="6.49" fill="#0aa2e6" stroke="#1f4a70" stroke-width="0.3"/>
<text x="378.34" y="101.16" font-size="3.6" text-anchor="middle" fill="#0a1a33" font-style="italic" stroke="#0a1a33" stroke-width="0.08">-0.8</text>
<rect x="383.55" y="96.57" width="10.41" height="6.49" fill="#0aa2e6" stroke="#1f4a70" stroke-width="0.3"/>
<text x="388.75" y="101.16" font-size="3.6" text-anchor="middle" fill="#0a1a33" font-style="italic" stroke="#0a1a33" stroke-width="0.08">-0.4</text>
<rect x="393.96" y="96.57" width="10.41" height="6.49" fill="#0aa2e6" stroke="#1f4a70" stroke-width="0.3"/>
<text x="399.17" y="101.16" font-size="3.6" text-anchor="middle" fill="#0a1a33" font-style="italic" stroke="#0a1a33" stroke-width="0.08">-0.9</text>
<rect x="404.37" y="96.57" width="10.41" height="6.49" fill="#0aa2e6" stroke="#1f4a70" stroke-width="0.3"/>
<text x="409.57" y="101.16" font-size="3.6" text-anchor="middle" fill="#0a1a33" font-style="italic" stroke="#0a1a33" stroke-width="0.08">-0.5</text>
<rect x="414.78" y="96.57" width="10.41" height="6.49" fill="#0aa2e6" stroke="#1f4a70" stroke-width="0.3"/>
<text x="419.99" y="101.16" font-size="3.6" text-anchor="middle" fill="#0a1a33" font-style="italic" stroke="#0a1a33" stroke-width="0.08">-0.9</text>
<rect x="425.19" y="96.57" width="10.41" height="6.49" fill="#1fdc2a" stroke="#1f4a70" stroke-width="0.3"/>
<text x="430.39" y="101.16" font-size="3.6" text-anchor="middle" fill="#0a1a33" font-style="italic" stroke="#0a1a33" stroke-width="0.08">-0.3</text>
<rect x="304.20" y="103.06" width="19.40" height="6.49" fill="#fff" stroke="#9a9a9a" stroke-width="0.35"/>
<rect x="323.60" y="103.06" width="7.90" height="6.49" fill="#fff" stroke="#9a9a9a" stroke-width="0.35"/>
<text x="305.40" y="107.75" font-size="3.7" text-anchor="start" fill="#111" font-weight="bold" stroke="#111" stroke-width="0.08">hc-DNA</text>
<text x="327.55" y="107.55" font-size="2.7" text-anchor="middle" fill="#222" font-style="italic" stroke="#222" stroke-width="0.08">24h</text>
<rect x="331.50" y="103.06" width="10.41" height="6.49" fill="#0aa2e6" stroke="#1f4a70" stroke-width="0.3"/>
<text x="336.70" y="107.65" font-size="3.6" text-anchor="middle" fill="#0a1a33" font-style="italic" stroke="#0a1a33" stroke-width="0.08">-0.8</text>
<rect x="341.91" y="103.06" width="10.41" height="6.49" fill="#0aa2e6" stroke="#1f4a70" stroke-width="0.3"/>
<text x="347.12" y="107.65" font-size="3.6" text-anchor="middle" fill="#0a1a33" font-style="italic" stroke="#0a1a33" stroke-width="0.08">-0.6</text>
<rect x="352.32" y="103.06" width="10.41" height="6.49" fill="#0aa2e6" stroke="#1f4a70" stroke-width="0.3"/>
<text x="357.52" y="107.65" font-size="3.6" text-anchor="middle" fill="#0a1a33" font-style="italic" stroke="#0a1a33" stroke-width="0.08">-1.0</text>
<rect x="362.73" y="103.06" width="10.41" height="6.49" fill="#1fdc2a" stroke="#1f4a70" stroke-width="0.3"/>
<text x="367.94" y="107.65" font-size="3.6" text-anchor="middle" fill="#0a1a33" font-style="italic" stroke="#0a1a33" stroke-width="0.08">-0.2</text>
<rect x="373.14" y="103.06" width="10.41" height="6.49" fill="#0aa2e6" stroke="#1f4a70" stroke-width="0.3"/>
<text x="378.34" y="107.65" font-size="3.6" text-anchor="middle" fill="#0a1a33" font-style="italic" stroke="#0a1a33" stroke-width="0.08">-1.0</text>
<rect x="383.55" y="103.06" width="10.41" height="6.49" fill="#1fdc2a" stroke="#1f4a70" stroke-width="0.3"/>
<text x="388.75" y="107.65" font-size="3.6" text-anchor="middle" fill="#0a1a33" font-style="italic" stroke="#0a1a33" stroke-width="0.08">-0.2</text>
<rect x="393.96" y="103.06" width="10.41" height="6.49" fill="#0aa2e6" stroke="#1f4a70" stroke-width="0.3"/>
<text x="399.17" y="107.65" font-size="3.6" text-anchor="middle" fill="#0a1a33" font-style="italic" stroke="#0a1a33" stroke-width="0.08">-1.0</text>
<rect x="404.37" y="103.06" width="10.41" height="6.49" fill="#0aa2e6" stroke="#1f4a70" stroke-width="0.3"/>
<text x="409.57" y="107.65" font-size="3.6" text-anchor="middle" fill="#0a1a33" font-style="italic" stroke="#0a1a33" stroke-width="0.08">-0.8</text>
<rect x="414.78" y="103.06" width="10.41" height="6.49" fill="#0aa2e6" stroke="#1f4a70" stroke-width="0.3"/>
<text x="419.99" y="107.65" font-size="3.6" text-anchor="middle" fill="#0a1a33" font-style="italic" stroke="#0a1a33" stroke-width="0.08">-1.0</text>
<rect x="425.19" y="103.06" width="10.41" height="6.49" fill="#0aa2e6" stroke="#1f4a70" stroke-width="0.3"/>
<text x="430.39" y="107.65" font-size="3.6" text-anchor="middle" fill="#0a1a33" font-style="italic" stroke="#0a1a33" stroke-width="0.08">-0.5</text>
<rect x="27.40" y="128.60" width="52.10" height="51.40" fill="#fff" stroke="#666" stroke-width="0.5"/>
<path d="M39.0 163.5h0.6M43.6 170.0h0.6M52.7 138.7h0.6M34.5 163.1h0.6M53.0 170.9h0.6M42.5 168.9h0.6M55.7 169.7h0.6M53.1 132.8h0.6M69.0 136.1h0.6M39.3 175.3h0.6M48.9 138.5h0.6M64.0 129.4h0.6M40.9 162.8h0.6M51.5 174.5h0.6M41.9 172.1h0.6M49.5 171.9h0.6M69.8 147.1h0.6M41.0 166.8h0.6M50.0 173.5h0.6M44.8 174.6h0.6M43.4 154.5h0.6M40.1 170.3h0.6M48.3 145.3h0.6M57.2 134.2h0.6M68.2 157.6h0.6M73.7 136.4h0.6M47.0 142.4h0.6M50.0 173.2h0.6M69.9 149.0h0.6M70.4 140.5h0.6M41.0 170.0h0.6M38.2 156.2h0.6M65.4 163.4h0.6M67.1 161.1h0.6M44.1 152.7h0.6M41.3 166.5h0.6M42.3 148.6h0.6M65.5 135.1h0.6M50.3 139.2h0.6M68.5 156.3h0.6M65.8 158.5h0.6M59.0 165.8h0.6M62.7 165.2h0.6M54.3 173.7h0.6M40.5 162.4h0.6M67.3 155.9h0.6M41.8 167.5h0.6M52.6 173.0h0.6M66.3 158.9h0.6M40.8 158.4h0.6M62.2 166.7h0.6M39.7 158.9h0.6M69.9 156.9h0.6M38.1 148.2h0.6M69.4 153.2h0.6M54.4 171.7h0.6M45.6 149.1h0.6M64.3 133.6h0.6M59.7 171.9h0.6M57.6 131.4h0.6M46.5 149.6h0.6M53.0 139.9h0.6M61.0 168.1h0.6M55.2 129.8h0.6M51.6 171.7h0.6M40.7 161.2h0.6M42.5 172.1h0.6M48.8 140.8h0.6M63.8 131.5h0.6M52.0 170.6h0.6M44.2 151.6h0.6M54.2 130.8h0.6M71.8 154.1h0.6M43.2 175.2h0.6M48.1 144.1h0.6M43.8 172.7h0.6M70.2 150.2h0.6M42.2 156.7h0.6M41.7 166.6h0.6M76.2 139.9h0.6M36.2 163.5h0.6M43.8 171.3h0.6M70.8 147.0h0.6M64.8 160.5h0.6M43.9 155.0h0.6M44.1 148.8h0.6M65.5 159.5h0.6M37.5 159.5h0.6M43.7 154.7h0.6M70.6 144.1h0.6M51.3 142.3h0.6M60.2 134.7h0.6M44.1 145.4h0.6M65.0 162.6h0.6M53.9 170.8h0.6M44.3 154.1h0.6M72.3 142.4h0.6M44.5 152.0h0.6M40.9 157.4h0.6M42.3 177.0h0.6M50.6 174.8h0.6M74.5 143.5h0.6M68.4 158.6h0.6M68.3 135.4h0.6M68.5 151.4h0.6M41.8 158.0h0.6M49.0 172.3h0.6M43.3 168.9h0.6M43.0 158.0h0.6M41.1 156.6h0.6M59.2 172.6h0.6M57.4 167.8h0.6M41.1 176.3h0.6M47.3 145.9h0.6M39.8 161.5h0.6M39.6 167.1h0.6M72.6 144.5h0.6M44.5 153.0h0.6M46.4 174.4h0.6M66.3 162.3h0.6M72.3 137.3h0.6M49.7 172.4h0.6M41.0 165.0h0.6M51.0 142.6h0.6M50.8 143.4h0.6M41.8 156.2h0.6M41.3 167.0h0.6M73.0 132.4h0.6M50.3 139.6h0.6M42.5 168.0h0.6M46.2 175.3h0.6M72.1 144.6h0.6M38.7 162.2h0.6M36.1 162.5h0.6M45.1 147.6h0.6M57.5 173.6h0.6M57.1 172.2h0.6M73.6 175.4h0.6M67.8 169.6h0.6M62.9 176.3h0.6M71.2 177.7h0.6M63.4 170.7h0.6M51.9 174.8h0.6M61.5 171.1h0.6M55.3 172.9h0.6M58.4 174.9h0.6M56.0 170.5h0.6M66.7 178.5h0.6M57.3 176.9h0.6M61.1 175.8h0.6M61.4 171.9h0.6M62.0 176.8h0.6M71.9 176.1h0.6M55.6 172.3h0.6M52.3 174.3h0.6M57.8 175.9h0.6M73.9 173.9h0.6M62.7 175.3h0.6M59.9 173.4h0.6M57.1 171.7h0.6M59.2 173.9h0.6M60.2 171.6h0.6M58.3 174.1h0.6M62.2 171.0h0.6M60.9 176.8h0.6M62.2 173.0h0.6M54.6 173.3h0.6M63.1 178.3h0.6M56.9 172.2h0.6M60.6 174.6h0.6M51.6 171.9h0.6M57.3 175.9h0.6M49.6 171.1h0.6M61.5 170.6h0.6M58.8 175.0h0.6M57.2 171.1h0.6M57.6 173.1h0.6M60.4 171.7h0.6M65.6 169.3h0.6M56.8 174.0h0.6M64.7 172.3h0.6M61.8 172.4h0.6M63.2 178.9h0.6M55.2 175.2h0.6M51.5 176.7h0.6M66.5 174.1h0.6M50.1 175.1h0.6M66.0 177.1h0.6M63.7 168.9h0.6M53.2 178.0h0.6M49.4 177.2h0.6M71.2 176.1h0.6M65.8 173.1h0.6M49.4 173.7h0.6M56.6 173.9h0.6M62.9 173.6h0.6M59.3 175.2h0.6M61.1 174.2h0.6M56.5 172.2h0.6M67.4 174.4h0.6M50.4 172.4h0.6M57.0 172.8h0.6M65.6 170.7h0.6M61.4 174.4h0.6M49.8 174.1h0.6M57.3 175.4h0.6M54.8 174.8h0.6M46.3 171.0h0.6M63.5 176.9h0.6M57.9 172.3h0.6M65.6 168.1h0.6M52.4 175.9h0.6M62.6 171.1h0.6M44.8 178.1h0.6M59.1 171.5h0.6M58.4 176.5h0.6M39.9 177.1h0.6M63.2 168.2h0.6M63.4 169.0h0.6M66.0 175.1h0.6M73.8 172.3h0.6M58.0 176.9h0.6M53.5 172.0h0.6M55.4 173.8h0.6M50.4 175.4h0.6M61.8 174.2h0.6M69.9 173.1h0.6M67.1 172.5h0.6M63.3 168.6h0.6M59.4 173.5h0.6M54.5 172.3h0.6M55.6 172.0h0.6M42.6 172.3h0.6M54.2 172.5h0.6M50.6 173.6h0.6M63.5 173.3h0.6M54.6 177.8h0.6M64.8 176.6h0.6M66.1 173.1h0.6M57.1 177.1h0.6M54.1 173.7h0.6M60.6 175.0h0.6M56.1 176.8h0.6M56.8 176.0h0.6M65.5 175.8h0.6M63.1 170.8h0.6M48.8 172.3h0.6M61.3 178.2h0.6M49.4 174.9h0.6M52.0 171.9h0.6M56.1 175.9h0.6M59.5 177.3h0.6M51.1 176.5h0.6M64.5 174.2h0.6M61.3 172.4h0.6M50.4 172.9h0.6M54.6 178.6h0.6M59.4 174.9h0.6M63.2 171.8h0.6M64.4 175.1h0.6M47.4 175.7h0.6M61.9 175.3h0.6M69.1 172.8h0.6M61.6 176.1h0.6M51.7 177.4h0.6M61.7 171.0h0.6M57.2 169.4h0.6M58.5 170.8h0.6M60.4 169.7h0.6M61.1 173.3h0.6M58.4 173.8h0.6M58.9 170.3h0.6M40.0 174.1h0.6M51.4 172.7h0.6M61.0 168.4h0.6M52.7 172.3h0.6M50.6 174.9h0.6M57.0 171.7h0.6M51.1 176.3h0.6M53.4 175.6h0.6M61.1 168.7h0.6M50.4 174.0h0.6M60.4 176.2h0.6M63.6 176.9h0.6M55.4 173.4h0.6M63.4 172.8h0.6M65.4 169.6h0.6M62.6 173.5h0.6M44.2 176.7h0.6M60.2 174.1h0.6M50.5 172.7h0.6M68.6 171.7h0.6M33.7 171.6h0.6M49.6 173.6h0.6M55.2 171.4h0.6M52.1 176.9h0.6M54.2 170.9h0.6M63.5 175.6h0.6M50.7 176.1h0.6M45.1 171.4h0.6M65.9 173.3h0.6M48.9 175.4h0.6M64.4 173.9h0.6M45.4 173.0h0.6M60.9 176.2h0.6M71.0 173.3h0.6M54.6 173.9h0.6M66.4 171.4h0.6M67.1 166.3h0.6M63.6 172.1h0.6M61.2 175.9h0.6M49.7 173.8h0.6M59.7 175.6h0.6M51.5 171.2h0.6M56.7 173.4h0.6M47.5 176.6h0.6M54.3 178.0h0.6M64.0 174.1h0.6M63.1 170.9h0.6M55.7 172.4h0.6M49.1 174.0h0.6M57.0 178.0h0.6M34.5 172.1h0.6M51.6 172.7h0.6M61.0 175.1h0.6M58.2 172.7h0.6M61.5 175.0h0.6M45.1 173.3h0.6M59.0 174.2h0.6M58.8 171.5h0.6M56.6 171.4h0.6M60.7 175.9h0.6M70.3 177.5h0.6M52.4 172.7h0.6M51.4 174.9h0.6M71.9 176.0h0.6M42.6 170.5h0.6M49.0 175.4h0.6M58.0 174.8h0.6M70.5 171.7h0.6M60.4 171.8h0.6M43.8 169.7h0.6M40.9 174.2h0.6M58.3 176.8h0.6M57.0 172.1h0.6M45.6 174.5h0.6M58.2 175.7h0.6M55.2 175.4h0.6M63.7 173.6h0.6M54.8 173.5h0.6M51.2 173.4h0.6M55.9 174.6h0.6M67.4 177.7h0.6M54.9 175.7h0.6M60.1 176.1h0.6M58.2 174.7h0.6M54.7 171.8h0.6M64.1 177.6h0.6M62.6 175.2h0.6M59.9 172.7h0.6M45.5 175.9h0.6M59.4 172.4h0.6M51.2 177.6h0.6M45.4 178.9h0.6M53.0 173.9h0.6M54.5 174.4h0.6M56.5 171.9h0.6M65.5 171.8h0.6M54.4 175.6h0.6M54.2 172.8h0.6M60.5 173.0h0.6M49.3 173.7h0.6M56.5 178.8h0.6M50.3 176.7h0.6M52.5 173.0h0.6M55.7 174.8h0.6M64.0 178.9h0.6M53.5 177.7h0.6M65.0 176.3h0.6M52.7 176.5h0.6M57.2 175.0h0.6M56.1 175.9h0.6M65.8 177.2h0.6M56.6 176.8h0.6M68.2 171.4h0.6M68.3 170.3h0.6M61.8 175.7h0.6M68.4 174.8h0.6M54.6 171.8h0.6M49.2 176.1h0.6M56.3 172.0h0.6M61.7 171.9h0.6M54.9 172.7h0.6M69.6 178.1h0.6M56.9 169.6h0.6M59.9 174.2h0.6M60.4 175.6h0.6M55.8 176.6h0.6M63.9 174.6h0.6M55.2 172.7h0.6M62.8 170.9h0.6M56.9 171.9h0.6M48.2 175.7h0.6M57.8 174.1h0.6M64.1 169.8h0.6M57.5 174.8h0.6M63.8 171.0h0.6M63.0 174.6h0.6M67.5 177.2h0.6M58.0 172.8h0.6M55.6 171.4h0.6M57.8 168.7h0.6M57.4 175.2h0.6M64.9 173.0h0.6M67.7 172.2h0.6M57.1 168.7h0.6M52.7 171.8h0.6M68.2 175.5h0.6M50.5 175.5h0.6M61.3 173.4h0.6M58.2 173.2h0.6M57.4 177.5h0.6M67.8 173.2h0.6M52.9 173.4h0.6M64.1 175.0h0.6M54.0 175.0h0.6M56.6 175.4h0.6M55.2 170.0h0.6M58.4 176.1h0.6M50.4 173.7h0.6M64.0 173.0h0.6M63.7 176.8h0.6M51.5 178.5h0.6M46.7 172.6h0.6M63.0 177.6h0.6M51.7 172.2h0.6M59.3 168.7h0.6M62.4 175.5h0.6M55.0 175.5h0.6M63.3 174.8h0.6M61.6 178.1h0.6M54.8 174.4h0.6M54.4 176.8h0.6M55.2 175.3h0.6M58.9 174.2h0.6M69.6 173.8h0.6M67.6 176.2h0.6M66.9 173.6h0.6M64.3 176.0h0.6M50.2 174.0h0.6M28.8 172.3h0.6M74.5 164.5h0.6M75.3 160.2h0.6M61.1 178.9h0.6M35.3 173.5h0.6M29.8 177.3h0.6M37.7 169.1h0.6M74.8 154.1h0.6M36.8 175.9h0.6M44.8 171.8h0.6M70.1 174.2h0.6M40.4 168.3h0.6M59.9 174.6h0.6M69.5 169.7h0.6M75.7 143.3h0.6M53.2 172.2h0.6M43.4 179.0h0.6M36.6 173.4h0.6M50.6 174.3h0.6M30.4 178.5h0.6M50.4 172.6h0.6M28.5 170.5h0.6M70.5 161.9h0.6M42.6 173.2h0.6M69.8 170.3h0.6M73.7 171.9h0.6M50.6 171.1h0.6M56.6 174.2h0.6M32.7 175.4h0.6M73.9 168.1h0.6M71.8 138.3h0.6M59.5 173.6h0.6M69.0 157.4h0.6M58.9 171.8h0.6M60.8 175.2h0.6M72.7 164.7h0.6M29.8 175.6h0.6M32.7 175.6h0.6M57.5 168.7h0.6M48.3 176.5h0.6M34.1 172.8h0.6M34.0 175.5h0.6M33.2 175.0h0.6M55.0 178.9h0.6M39.8 175.3h0.6M54.1 176.4h0.6M57.9 167.5h0.6M32.1 175.8h0.6M64.2 165.3h0.6M33.5 175.7h0.6M37.0 172.3h0.6M76.5 151.5h0.6M35.3 174.1h0.6M67.3 168.7h0.6M47.1 176.4h0.6M29.2 175.7h0.6M43.4 175.4h0.6M59.5 166.6h0.6M72.1 145.6h0.6M72.0 165.1h0.6M36.8 178.8h0.6M66.7 165.4h0.6M62.5 175.7h0.6M47.1 174.4h0.6M30.6 175.8h0.6M68.6 167.6h0.6M34.1 169.6h0.6M41.2 173.1h0.6M38.1 164.6h0.6M57.5 171.1h0.6M34.1 175.6h0.6M68.5 178.0h0.6M37.7 172.8h0.6M62.8 175.1h0.6M62.9 166.8h0.6M29.1 165.8h0.6M45.6 172.3h0.6M72.1 163.4h0.6M68.5 169.5h0.6M69.4 176.8h0.6M62.4 166.7h0.6M36.3 173.6h0.6M70.7 153.7h0.6M32.2 176.8h0.6M73.2 168.9h0.6M57.9 171.5h0.6M46.5 177.3h0.6M46.1 174.4h0.6M28.7 174.5h0.6M29.4 176.5h0.6M51.4 175.6h0.6M35.7 178.8h0.6M62.0 177.4h0.6M41.5 169.2h0.6M76.3 170.1h0.6M78.1 156.9h0.6M67.0 174.9h0.6M72.1 175.5h0.6M46.6 175.5h0.6M72.1 150.7h0.6M75.4 172.9h0.6M66.6 167.5h0.6M65.5 158.3h0.6M46.0 178.2h0.6M56.0 175.4h0.6M45.3 177.1h0.6M46.8 178.2h0.6M40.6 178.2h0.6M35.2 172.3h0.6M28.8 174.7h0.6M56.9 176.5h0.6M31.7 175.3h0.6M43.5 173.6h0.6M75.4 158.4h0.6M32.4 175.2h0.6M77.9 158.1h0.6M46.3 177.4h0.6M71.9 162.1h0.6M31.8 165.2h0.6M42.2 177.1h0.6M41.3 173.8h0.6M41.8 178.2h0.6M63.7 176.2h0.6M38.4 171.0h0.6M58.6 166.7h0.6M38.3 170.3h0.6M65.2 159.8h0.6M32.4 176.9h0.6M69.0 169.0h0.6M35.2 174.3h0.6M37.8 163.3h0.6M60.5 172.7h0.6M74.6 175.5h0.6M65.9 166.3h0.6M45.3 170.8h0.6M31.3 177.3h0.6M59.8 176.9h0.6M41.3 178.6h0.6M56.7 176.6h0.6M77.9 156.2h0.6M64.7 172.1h0.6M44.9 174.3h0.6M35.5 176.6h0.6M66.8 155.9h0.6M61.3 169.9h0.6M58.5 168.7h0.6M41.3 166.4h0.6M64.0 176.9h0.6M67.1 162.7h0.6M42.3 177.6h0.6M54.6 173.1h0.6M28.9 177.9h0.6M78.0 174.9h0.6M32.9 167.8h0.6M29.8 177.6h0.6M53.5 175.9h0.6M35.9 173.6h0.6M74.6 154.3h0.6M36.5 166.0h0.6M40.6 176.3h0.6M77.6 154.1h0.6M45.6 178.9h0.6M68.5 165.9h0.6M73.7 175.4h0.6M33.8 178.7h0.6M60.7 174.1h0.6M48.5 176.6h0.6M56.7 175.7h0.6M39.6 178.9h0.6M40.0 174.9h0.6M43.4 172.5h0.6M56.9 178.7h0.6M36.3 169.1h0.6M41.8 165.4h0.6M66.1 173.7h0.6M45.0 171.9h0.6M52.7 173.7h0.6M62.6 173.8h0.6M72.6 172.7h0.6M38.9 173.2h0.6M67.5 169.5h0.6M71.7 165.7h0.6M78.2 146.8h0.6M43.3 174.6h0.6M77.2 177.7h0.6M28.9 176.2h0.6M65.3 174.6h0.6M33.3 173.9h0.6M32.9 170.1h0.6M72.6 166.3h0.6M77.5 166.5h0.6M68.1 176.7h0.6M62.9 162.9h0.6M40.0 176.6h0.6M50.0 177.3h0.6M78.0 176.8h0.6M44.3 175.5h0.6M52.8 175.0h0.6M35.2 174.9h0.6M62.7 175.2h0.6M35.8 178.4h0.6M34.0 170.8h0.6M45.9 178.5h0.6M39.2 162.3h0.6M65.0 172.9h0.6M42.1 175.9h0.6M31.9 174.4h0.6M30.6 172.7h0.6M56.3 178.3h0.6M61.1 177.6h0.6M39.1 167.6h0.6M36.7 176.6h0.6M33.7 175.1h0.6M34.2 178.2h0.6M37.3 172.4h0.6M35.4 176.5h0.6M31.1 176.0h0.6M33.1 173.5h0.6M44.0 172.3h0.6M37.1 171.9h0.6M33.5 174.2h0.6M39.4 168.7h0.6M37.4 173.3h0.6M37.1 170.3h0.6M32.3 177.7h0.6M39.3 173.8h0.6M33.7 173.7h0.6M30.2 176.6h0.6M42.1 166.8h0.6M41.7 171.1h0.6M31.0 175.7h0.6M41.1 170.1h0.6M32.1 175.9h0.6M39.4 169.9h0.6M40.8 172.4h0.6M39.7 170.8h0.6M38.6 172.4h0.6M36.1 172.6h0.6M40.7 167.9h0.6M32.7 176.0h0.6M36.6 171.5h0.6M31.9 172.5h0.6M43.1 168.4h0.6M41.8 165.0h0.6M37.7 170.7h0.6M37.8 171.8h0.6M34.5 171.4h0.6M32.2 176.4h0.6M34.1 176.4h0.6M36.8 170.4h0.6M31.3 172.4h0.6M39.5 176.4h0.6M39.3 169.9h0.6M35.1 175.5h0.6M35.6 172.9h0.6M32.5 175.2h0.6M42.5 168.6h0.6M42.6 168.6h0.6M29.2 178.0h0.6M32.5 174.5h0.6M41.1 168.8h0.6M32.0 177.3h0.6M42.8 168.8h0.6M34.8 171.8h0.6M38.0 175.9h0.6M42.5 169.4h0.6M32.9 175.4h0.6M35.1 174.5h0.6M28.2 175.2h0.6M37.7 172.7h0.6M38.9 169.6h0.6M36.0 170.1h0.6M35.0 171.6h0.6M42.6 166.4h0.6M36.0 174.7h0.6M30.6 174.5h0.6M42.9 170.7h0.6M34.0 172.8h0.6M40.9 170.3h0.6M30.0 173.9h0.6M41.5 169.0h0.6M30.1 178.8h0.6M37.3 172.6h0.6M35.7 173.2h0.6M33.7 174.9h0.6M32.8 173.5h0.6M40.3 166.4h0.6M32.8 176.6h0.6M40.4 172.0h0.6M35.2 173.3h0.6M28.1 176.0h0.6M41.5 168.9h0.6M30.9 178.6h0.6M43.1 168.2h0.6M38.6 173.3h0.6M42.0 167.8h0.6M40.2 170.1h0.6M37.2 171.0h0.6M42.1 165.9h0.6M37.7 174.6h0.6M36.6 175.9h0.6M39.1 172.9h0.6M32.4 176.4h0.6M36.1 169.8h0.6M30.7 176.6h0.6M33.2 173.2h0.6M35.5 172.2h0.6M41.1 172.2h0.6M39.6 169.1h0.6M30.0 177.0h0.6M38.2 168.2h0.6M38.8 171.7h0.6M38.0 172.7h0.6M33.4 173.7h0.6M32.6 172.7h0.6M30.9 177.3h0.6M34.5 174.6h0.6M31.1 178.8h0.6M32.5 177.0h0.6M41.1 166.5h0.6M40.6 168.9h0.6M38.8 174.5h0.6M38.8 169.3h0.6M41.1 172.1h0.6M33.9 170.2h0.6" stroke="#6e6e6e" stroke-width="0.6" fill="none" opacity="0.85"/>
<path d="M56.2 158.2h0.6M52.7 155.7h0.6M49.6 161.6h0.6M62.7 146.9h0.6M61.5 147.0h0.6M58.0 152.0h0.6M50.6 170.5h0.6M59.9 152.0h0.6M48.7 160.6h0.6M56.5 152.1h0.6M55.0 148.7h0.6M58.5 153.3h0.6M59.4 164.8h0.6M63.3 153.5h0.6M48.8 157.7h0.6M53.0 157.2h0.6M59.5 150.3h0.6M48.7 155.7h0.6M58.0 162.3h0.6M52.2 161.9h0.6M50.8 147.2h0.6M61.2 157.9h0.6M51.1 153.3h0.6M57.4 150.5h0.6M51.5 168.8h0.6M62.7 151.9h0.6M64.0 144.1h0.6M50.1 150.2h0.6M55.6 148.1h0.6M47.3 154.9h0.6M48.0 161.0h0.6M48.9 167.1h0.6M65.0 144.7h0.6M53.8 149.8h0.6M53.9 166.4h0.6M61.4 146.3h0.6M58.4 153.9h0.6M66.0 143.6h0.6M60.2 152.0h0.6M62.3 148.5h0.6M51.5 142.9h0.6M58.8 159.0h0.6M57.3 149.8h0.6M59.7 153.9h0.6M60.9 156.9h0.6M50.0 158.9h0.6M60.6 146.4h0.6M54.9 164.4h0.6M60.6 141.7h0.6M47.7 165.4h0.6M53.1 155.1h0.6M57.7 140.6h0.6M56.0 141.0h0.6M54.0 162.8h0.6M64.7 148.0h0.6M57.6 152.3h0.6M58.5 155.1h0.6M55.5 156.9h0.6M58.1 150.1h0.6M61.5 150.1h0.6M66.8 139.4h0.6M51.4 157.1h0.6M59.2 157.4h0.6M55.2 158.5h0.6M50.6 164.4h0.6M58.3 152.1h0.6M55.9 160.0h0.6M54.3 151.0h0.6M52.0 158.9h0.6M53.8 156.3h0.6M55.1 143.4h0.6M59.1 157.9h0.6M66.1 151.9h0.6M45.1 167.4h0.6M56.2 159.2h0.6M54.3 141.9h0.6M52.1 145.1h0.6M61.4 156.6h0.6M55.3 156.4h0.6M59.8 148.7h0.6M61.5 159.6h0.6M59.2 145.4h0.6M58.6 146.6h0.6M59.0 155.6h0.6M59.1 154.7h0.6M54.0 147.1h0.6M43.5 158.9h0.6M64.9 146.6h0.6M58.5 140.2h0.6M50.2 151.5h0.6M66.1 152.9h0.6M57.6 166.2h0.6M59.4 146.2h0.6M52.1 153.8h0.6M59.0 152.6h0.6M58.2 139.8h0.6M67.5 149.6h0.6M61.7 142.5h0.6M55.9 163.5h0.6M56.3 154.1h0.6M61.2 142.5h0.6M54.1 150.5h0.6M58.8 157.1h0.6M61.4 157.7h0.6M59.5 158.1h0.6M55.7 162.5h0.6M48.9 164.6h0.6M54.1 156.2h0.6M53.3 160.1h0.6M64.4 140.4h0.6M62.3 153.2h0.6M48.6 152.8h0.6M57.1 162.1h0.6M44.3 166.3h0.6M63.8 148.8h0.6M58.8 156.9h0.6M50.8 150.1h0.6M44.5 165.5h0.6M57.4 145.7h0.6M47.3 159.8h0.6M47.0 166.7h0.6M50.9 165.2h0.6M57.6 148.1h0.6M54.6 151.1h0.6M62.4 150.5h0.6M60.0 150.2h0.6M64.8 145.8h0.6M65.5 151.1h0.6M51.6 155.8h0.6M53.6 164.1h0.6M64.2 139.2h0.6M62.0 152.7h0.6M50.2 161.8h0.6M60.3 154.6h0.6M54.2 154.4h0.6M48.5 161.9h0.6M60.1 147.8h0.6M47.2 159.3h0.6M60.4 151.0h0.6M65.6 142.3h0.6M57.2 156.7h0.6M53.7 150.1h0.6M45.2 164.2h0.6M57.5 152.9h0.6M48.9 155.2h0.6M43.3 160.6h0.6M68.1 143.7h0.6M67.9 142.3h0.6M52.0 162.4h0.6M57.2 156.6h0.6M51.0 160.2h0.6M59.2 152.0h0.6M59.3 150.1h0.6M57.0 159.5h0.6M51.8 152.0h0.6M52.0 159.7h0.6M55.3 156.0h0.6M56.0 155.2h0.6M49.0 152.3h0.6M62.0 154.2h0.6M56.6 150.7h0.6M53.2 148.4h0.6M45.9 170.1h0.6M53.8 164.2h0.6M56.9 167.4h0.6M47.2 154.0h0.6M53.7 162.3h0.6M58.5 151.2h0.6M65.8 144.7h0.6M57.7 156.5h0.6M67.8 144.0h0.6M55.6 143.5h0.6M57.7 157.9h0.6M58.4 160.0h0.6M62.2 152.4h0.6M60.5 144.1h0.6M57.3 159.9h0.6M60.2 146.8h0.6M50.2 164.6h0.6M62.0 154.9h0.6M59.2 148.5h0.6M61.9 149.3h0.6M56.5 153.2h0.6M57.0 158.6h0.6M47.1 161.5h0.6M48.8 150.6h0.6M54.3 161.8h0.6M57.8 150.0h0.6M47.8 152.7h0.6M66.7 141.4h0.6M56.8 143.5h0.6M46.2 151.2h0.6M63.3 151.0h0.6M45.4 169.8h0.6M50.6 144.8h0.6M45.8 155.9h0.6M56.5 155.1h0.6M61.5 151.5h0.6M67.9 145.8h0.6M46.4 163.9h0.6M45.1 160.3h0.6M54.8 155.4h0.6M50.7 146.4h0.6M48.9 164.6h0.6M52.8 155.4h0.6M51.5 153.1h0.6M60.3 150.0h0.6M51.8 153.6h0.6M50.4 162.7h0.6M48.5 167.4h0.6M49.9 149.7h0.6M52.6 155.9h0.6M60.2 152.7h0.6M51.3 152.6h0.6M54.2 155.7h0.6M60.2 149.6h0.6M45.6 156.8h0.6M50.1 155.7h0.6M49.1 163.3h0.6M53.2 158.9h0.6M56.0 149.3h0.6M61.3 146.2h0.6M52.5 161.4h0.6M62.5 155.6h0.6M63.2 151.1h0.6M57.1 150.2h0.6M53.0 147.6h0.6M56.7 142.4h0.6M54.2 156.6h0.6M61.2 145.4h0.6M52.3 161.9h0.6M61.3 152.0h0.6M63.7 141.3h0.6M54.7 151.4h0.6M59.2 141.4h0.6M56.5 147.9h0.6M54.9 162.3h0.6M61.9 143.9h0.6M55.4 162.4h0.6M56.3 156.0h0.6M67.9 145.5h0.6M58.7 156.8h0.6M51.7 159.8h0.6M56.7 140.3h0.6M59.1 144.0h0.6M53.5 154.3h0.6M49.8 152.7h0.6M49.0 150.5h0.6M56.2 156.1h0.6M56.5 150.3h0.6M51.4 162.4h0.6M59.7 162.9h0.6M58.6 148.2h0.6M49.7 156.6h0.6M48.9 161.3h0.6M59.0 153.7h0.6M51.7 160.4h0.6M53.3 159.4h0.6M57.8 154.6h0.6M55.6 157.6h0.6M58.9 156.4h0.6M50.6 151.9h0.6M52.7 164.8h0.6M54.7 161.7h0.6M60.3 149.5h0.6M57.3 150.3h0.6M48.0 166.0h0.6M55.2 149.6h0.6M58.0 157.6h0.6M53.6 163.5h0.6M62.1 138.2h0.6M55.3 153.1h0.6M64.3 143.2h0.6M56.7 145.6h0.6M55.1 154.8h0.6M52.0 142.6h0.6M58.4 148.3h0.6M59.1 152.1h0.6M46.7 166.2h0.6M60.2 141.1h0.6M44.1 159.2h0.6M50.5 165.5h0.6M65.6 142.2h0.6M49.6 157.0h0.6M60.3 152.0h0.6M44.9 159.7h0.6M57.8 153.0h0.6M47.7 164.7h0.6M54.5 160.3h0.6M54.2 155.4h0.6M58.1 160.5h0.6M60.6 142.5h0.6M56.1 145.8h0.6M58.9 156.2h0.6M61.1 141.4h0.6M55.7 155.8h0.6M47.7 166.8h0.6M53.4 161.2h0.6M56.5 155.1h0.6M56.4 161.6h0.6M51.2 155.2h0.6M50.7 146.5h0.6M51.7 160.1h0.6M58.8 147.4h0.6M53.9 150.4h0.6M64.1 156.9h0.6M52.0 159.9h0.6M60.6 156.1h0.6M61.8 152.0h0.6M57.4 153.7h0.6M61.5 148.2h0.6M58.1 137.9h0.6M57.6 147.1h0.6M54.0 154.0h0.6M49.0 156.4h0.6M54.8 161.5h0.6M55.7 154.6h0.6M58.4 158.6h0.6M57.1 150.3h0.6M57.9 148.9h0.6M55.8 168.0h0.6M53.3 148.3h0.6M62.2 147.0h0.6M60.8 154.5h0.6M55.5 152.7h0.6M51.7 169.8h0.6M54.1 153.7h0.6M57.3 152.1h0.6M57.0 148.2h0.6M56.0 160.0h0.6M60.3 142.9h0.6M61.6 160.0h0.6M56.8 159.3h0.6M63.8 141.3h0.6M58.2 142.9h0.6M55.9 152.8h0.6M60.8 156.9h0.6M54.5 160.7h0.6M52.1 164.6h0.6M56.9 149.3h0.6M51.0 146.2h0.6M52.2 144.3h0.6M49.2 158.8h0.6M57.0 160.3h0.6M53.9 152.9h0.6M64.9 154.7h0.6M56.8 155.7h0.6M62.6 145.5h0.6M56.8 156.2h0.6M63.0 148.8h0.6M49.2 154.0h0.6M60.3 156.7h0.6M45.2 160.6h0.6M52.0 155.6h0.6M54.4 149.1h0.6M49.0 160.7h0.6M52.0 153.3h0.6M58.6 156.7h0.6M68.7 149.9h0.6M49.4 159.9h0.6M51.4 160.4h0.6M51.8 146.7h0.6M57.4 150.9h0.6M47.3 170.2h0.6M60.2 148.8h0.6M59.5 152.1h0.6M60.8 143.6h0.6M57.8 146.5h0.6M55.3 146.6h0.6M62.3 160.3h0.6M56.7 150.7h0.6M46.0 161.7h0.6M60.3 155.7h0.6M59.7 152.7h0.6M61.0 158.8h0.6M50.8 156.3h0.6M60.0 147.7h0.6M51.3 155.4h0.6M56.7 158.5h0.6M51.6 148.5h0.6M58.1 151.8h0.6M53.6 164.9h0.6M52.3 156.0h0.6M65.0 151.9h0.6M53.7 161.5h0.6M58.0 162.0h0.6M55.5 162.2h0.6M55.2 159.6h0.6M51.8 153.6h0.6M66.4 137.6h0.6M50.7 170.3h0.6M52.9 159.8h0.6M62.1 144.9h0.6M64.4 147.2h0.6M54.9 163.6h0.6M60.6 152.5h0.6M63.0 149.5h0.6M58.2 154.7h0.6M53.7 157.5h0.6M57.7 146.3h0.6M57.5 143.3h0.6M54.2 151.1h0.6M52.9 151.5h0.6M54.3 150.7h0.6M60.6 155.8h0.6M49.8 162.3h0.6M60.2 151.8h0.6M62.9 145.6h0.6M54.0 153.8h0.6M54.6 151.4h0.6M46.8 160.9h0.6M49.5 157.8h0.6M52.2 165.8h0.6M51.5 167.1h0.6M51.6 163.8h0.6M63.0 144.2h0.6M51.7 160.7h0.6M48.3 148.7h0.6M52.9 160.0h0.6M53.2 158.7h0.6M62.3 150.9h0.6M62.4 149.0h0.6M53.7 157.0h0.6M52.5 156.0h0.6M46.7 151.4h0.6M53.4 157.3h0.6M50.2 162.5h0.6M57.1 150.1h0.6M46.1 151.3h0.6M56.5 149.7h0.6M61.1 148.9h0.6M52.7 152.9h0.6M56.3 148.2h0.6M54.1 151.5h0.6M59.5 155.1h0.6M50.6 161.7h0.6M58.9 150.1h0.6M66.3 152.0h0.6M63.4 149.5h0.6M48.9 157.7h0.6M55.7 145.0h0.6M48.5 158.2h0.6M53.1 150.8h0.6M61.4 143.9h0.6M55.5 167.1h0.6M53.2 160.0h0.6M53.7 153.9h0.6M53.8 150.2h0.6M45.5 162.8h0.6M55.3 155.0h0.6M58.5 150.6h0.6M48.1 159.1h0.6M60.0 152.3h0.6M53.8 155.2h0.6M60.0 147.2h0.6M61.5 150.4h0.6M62.0 156.6h0.6M50.7 158.3h0.6M47.6 159.0h0.6M57.8 156.1h0.6M64.7 147.5h0.6M55.7 141.5h0.6M54.0 161.1h0.6M62.9 143.4h0.6M49.3 160.6h0.6M48.1 157.7h0.6M60.0 140.9h0.6M62.6 146.1h0.6M53.9 160.8h0.6M66.1 143.4h0.6M62.0 144.8h0.6M56.9 150.0h0.6M63.1 154.8h0.6M47.7 166.1h0.6M53.9 151.2h0.6M57.1 159.4h0.6M68.1 140.3h0.6M50.0 147.8h0.6M65.2 139.4h0.6M50.1 151.9h0.6M50.1 152.1h0.6M57.6 155.4h0.6M56.6 155.2h0.6M57.2 165.5h0.6M50.9 154.1h0.6M48.6 161.9h0.6M51.5 149.1h0.6M60.8 159.7h0.6M58.0 148.8h0.6M55.3 153.3h0.6M58.2 157.1h0.6M51.2 152.4h0.6M55.8 147.8h0.6M45.0 160.0h0.6M47.4 170.8h0.6M50.5 168.3h0.6M49.7 159.9h0.6M62.8 155.8h0.6M69.5 141.9h0.6M56.7 154.1h0.6M55.7 158.5h0.6M56.9 152.5h0.6M46.8 155.1h0.6M45.7 154.7h0.6M63.7 146.3h0.6M55.3 168.3h0.6M68.0 142.1h0.6M59.7 151.6h0.6M57.0 153.5h0.6M53.9 142.1h0.6M42.8 160.9h0.6M49.7 157.5h0.6M58.2 152.5h0.6M52.4 152.6h0.6M57.2 160.9h0.6M59.5 148.8h0.6M60.4 161.6h0.6M55.1 161.3h0.6M59.8 144.7h0.6M54.4 145.0h0.6M61.2 147.1h0.6M50.2 169.3h0.6M56.4 165.4h0.6M51.1 159.7h0.6M55.2 151.5h0.6M54.1 151.1h0.6M58.6 149.3h0.6M61.2 145.4h0.6M46.6 169.3h0.6M62.3 153.9h0.6M56.6 167.7h0.6M57.5 157.8h0.6M48.4 154.6h0.6M64.7 148.4h0.6M66.7 144.7h0.6M45.0 154.7h0.6M48.9 158.1h0.6M53.7 162.9h0.6M55.7 151.3h0.6M55.4 152.9h0.6M59.6 155.1h0.6M57.0 145.1h0.6M60.7 156.8h0.6M45.5 167.0h0.6M49.0 150.5h0.6M55.8 160.9h0.6M67.7 150.4h0.6M44.7 157.8h0.6M62.0 153.1h0.6M50.4 149.6h0.6M62.6 150.6h0.6M55.8 148.9h0.6M60.2 154.4h0.6M59.0 153.4h0.6M59.2 157.0h0.6M51.9 159.2h0.6M56.2 158.7h0.6M62.1 141.2h0.6M61.8 149.9h0.6M63.3 139.9h0.6M50.0 152.7h0.6M63.5 154.6h0.6M59.7 151.6h0.6M54.9 156.8h0.6M52.7 169.1h0.6M48.3 155.0h0.6M47.8 158.5h0.6M64.2 150.7h0.6M52.4 168.2h0.6M57.1 145.9h0.6M44.4 164.6h0.6M53.5 160.7h0.6M49.6 148.6h0.6M54.4 144.1h0.6M47.9 157.9h0.6M58.2 162.6h0.6M62.1 149.5h0.6M50.0 147.9h0.6M50.1 157.4h0.6M52.5 164.0h0.6M48.3 158.7h0.6M64.1 153.6h0.6M51.8 150.6h0.6M62.6 145.7h0.6M66.4 151.3h0.6M58.9 144.4h0.6M63.9 148.4h0.6M45.7 166.0h0.6M47.6 165.9h0.6M53.4 147.1h0.6M63.6 155.7h0.6M53.2 168.3h0.6M55.3 157.1h0.6M58.8 158.7h0.6M60.8 146.6h0.6M51.6 167.7h0.6M55.6 160.2h0.6M63.7 157.1h0.6M58.9 144.3h0.6M64.7 156.7h0.6M54.4 160.2h0.6M66.7 148.6h0.6M52.0 146.9h0.6M49.9 165.5h0.6M55.9 164.8h0.6M51.7 143.9h0.6M51.8 161.8h0.6M52.0 158.3h0.6M54.0 148.7h0.6M54.7 149.2h0.6M54.8 160.6h0.6M53.6 160.1h0.6M63.4 141.9h0.6M57.7 157.9h0.6M58.1 160.6h0.6M51.5 166.7h0.6M49.1 156.6h0.6M60.4 138.1h0.6M66.9 142.4h0.6M58.2 140.3h0.6M67.7 149.1h0.6M54.0 155.3h0.6M50.3 156.4h0.6M58.9 152.0h0.6M63.7 158.0h0.6M55.6 158.6h0.6M58.1 140.2h0.6M43.5 162.6h0.6M49.3 145.9h0.6M64.1 154.7h0.6M45.7 166.8h0.6M50.3 159.9h0.6M57.9 155.8h0.6M53.5 157.5h0.6M53.0 159.4h0.6M49.6 164.3h0.6M65.2 139.5h0.6M50.0 165.6h0.6M54.7 162.7h0.6M56.7 151.3h0.6M45.8 159.2h0.6M63.1 144.5h0.6M49.1 163.7h0.6M55.6 152.6h0.6M47.7 153.2h0.6M55.1 163.1h0.6M45.5 167.6h0.6M61.1 155.5h0.6M52.2 165.4h0.6M53.9 149.6h0.6M53.6 148.4h0.6M51.1 161.1h0.6M43.7 158.7h0.6M56.4 160.2h0.6M58.7 161.4h0.6M43.6 160.4h0.6M64.8 143.3h0.6M56.3 144.8h0.6M60.4 148.9h0.6M58.6 149.5h0.6M58.4 143.2h0.6M43.8 158.4h0.6M57.8 143.3h0.6M45.8 160.5h0.6M47.4 154.8h0.6M51.0 155.3h0.6M48.2 156.5h0.6M53.4 153.1h0.6M56.9 154.5h0.6M49.0 156.8h0.6M52.1 144.1h0.6M50.3 159.6h0.6M57.9 160.1h0.6M57.2 160.9h0.6M63.3 146.1h0.6M58.2 151.1h0.6M52.3 147.4h0.6M57.6 145.6h0.6M60.5 147.0h0.6M60.3 145.2h0.6M54.3 158.6h0.6M50.7 156.6h0.6M56.4 154.3h0.6M63.0 142.6h0.6M68.5 143.8h0.6M56.5 154.0h0.6M51.3 153.8h0.6M52.0 153.5h0.6M65.8 143.0h0.6M53.1 154.0h0.6M44.7 160.3h0.6M54.4 154.5h0.6M63.1 143.4h0.6M54.4 152.3h0.6M58.8 163.7h0.6M67.8 151.4h0.6M53.6 157.6h0.6M55.0 164.5h0.6M50.7 167.5h0.6M66.9 149.8h0.6M55.3 165.3h0.6M48.3 158.4h0.6M53.6 168.5h0.6M60.9 139.8h0.6M49.9 159.9h0.6M44.6 154.1h0.6M57.0 163.4h0.6M63.4 138.9h0.6M49.5 158.9h0.6M54.4 166.4h0.6M53.3 150.3h0.6M59.2 148.4h0.6M52.0 165.9h0.6M66.6 141.4h0.6M50.0 159.5h0.6M54.2 142.0h0.6M55.5 157.6h0.6M44.1 166.7h0.6M64.8 155.0h0.6M57.2 148.5h0.6M45.1 161.6h0.6M52.5 160.5h0.6M62.3 159.7h0.6M51.9 149.4h0.6M67.2 144.9h0.6M52.5 151.9h0.6M56.2 145.1h0.6M49.4 165.9h0.6M59.1 154.4h0.6M64.7 153.3h0.6M55.3 164.2h0.6M53.3 164.6h0.6M57.2 153.9h0.6M60.0 146.9h0.6M64.7 148.2h0.6M53.4 152.0h0.6M49.1 159.3h0.6M54.1 156.3h0.6M55.3 146.1h0.6M50.2 159.5h0.6M51.6 150.3h0.6M60.8 140.2h0.6M56.4 155.5h0.6M58.8 154.8h0.6M57.3 152.9h0.6M55.9 151.7h0.6M48.5 159.7h0.6M60.6 158.7h0.6M48.9 156.2h0.6M53.2 159.7h0.6M56.7 155.1h0.6M59.1 157.5h0.6M58.7 137.0h0.6M54.8 152.7h0.6M50.2 147.6h0.6M58.7 151.0h0.6M50.0 155.6h0.6M44.0 163.6h0.6M61.1 150.6h0.6M57.4 156.3h0.6M52.5 159.8h0.6M57.8 155.9h0.6" stroke="#b85a52" stroke-width="0.6" fill="none" opacity="0.85"/>
<path d="M30.5 176.0h0.7M33.7 173.8h0.7M30.1 176.0h0.7M30.4 176.9h0.7M29.5 177.8h0.7M29.4 178.1h0.7M29.6 178.0h0.7M29.5 177.2h0.7M28.7 177.7h0.7M29.4 176.7h0.7M33.6 174.8h0.7M29.4 175.8h0.7M31.7 176.6h0.7M28.2 178.3h0.7M29.6 176.9h0.7M28.9 177.4h0.7M30.3 177.9h0.7M30.0 177.2h0.7M28.5 178.0h0.7M28.9 177.6h0.7M28.7 178.6h0.7M30.7 176.2h0.7M29.3 177.1h0.7M28.3 178.9h0.7M28.7 178.4h0.7M30.0 177.9h0.7M28.7 177.6h0.7M28.7 176.9h0.7M29.0 177.8h0.7M28.9 177.4h0.7M28.4 178.8h0.7M28.9 178.5h0.7M31.0 176.7h0.7M28.5 178.1h0.7M29.8 177.3h0.7M30.1 176.7h0.7M30.5 176.2h0.7M29.1 177.6h0.7M29.1 177.5h0.7M31.1 176.9h0.7M29.6 177.7h0.7M29.4 178.5h0.7M28.6 178.7h0.7M29.1 178.2h0.7M29.7 176.9h0.7M30.4 177.2h0.7M28.4 178.3h0.7M29.1 176.4h0.7M28.6 178.2h0.7M31.7 175.2h0.7M30.9 176.4h0.7M28.9 177.8h0.7M31.8 176.2h0.7M31.8 176.2h0.7M29.0 177.3h0.7M31.3 176.2h0.7M31.2 177.1h0.7M30.9 177.8h0.7M28.8 178.2h0.7M28.7 178.8h0.7M29.5 178.5h0.7M29.8 176.9h0.7M30.1 178.0h0.7M31.1 176.1h0.7M28.9 177.8h0.7M28.4 178.3h0.7M29.8 177.4h0.7M30.2 177.2h0.7M30.1 176.6h0.7M28.6 178.0h0.7M29.9 177.9h0.7M31.4 175.4h0.7M32.7 173.9h0.7M30.3 177.7h0.7M28.8 178.3h0.7M28.8 177.8h0.7" stroke="#111" stroke-width="0.7" fill="none" opacity="1"/>
<ellipse cx="56.2" cy="153.2" rx="10" ry="20.3" transform="rotate(32 56.2 153.2)" fill="none" stroke="#b5483c" stroke-width="0.7"/>
<line x1="28.40" y1="180.00" x2="28.40" y2="181.30" stroke="#444" stroke-width="0.5"/>
<text x="28.40" y="185.00" font-size="3.2" text-anchor="middle" fill="#222" stroke="#222" stroke-width="0.08">0</text>
<line x1="26.10" y1="178.50" x2="27.40" y2="178.50" stroke="#444" stroke-width="0.5"/>
<text x="25.40" y="179.50" font-size="2.8" text-anchor="middle" fill="#222" transform="rotate(-90 25.40 179.50)" stroke="#222" stroke-width="0.08">0</text>
<line x1="53.45" y1="180.00" x2="53.45" y2="181.30" stroke="#444" stroke-width="0.5"/>
<text x="53.45" y="185.00" font-size="3.2" text-anchor="middle" fill="#222" stroke="#222" stroke-width="0.08">50</text>
<line x1="26.10" y1="155.30" x2="27.40" y2="155.30" stroke="#444" stroke-width="0.5"/>
<text x="25.40" y="156.30" font-size="2.8" text-anchor="middle" fill="#222" transform="rotate(-90 25.40 156.30)" stroke="#222" stroke-width="0.08">50</text>
<line x1="78.50" y1="180.00" x2="78.50" y2="181.30" stroke="#444" stroke-width="0.5"/>
<text x="78.50" y="185.00" font-size="3.2" text-anchor="middle" fill="#222" stroke="#222" stroke-width="0.08">100</text>
<line x1="26.10" y1="132.10" x2="27.40" y2="132.10" stroke="#444" stroke-width="0.5"/>
<text x="25.40" y="133.10" font-size="2.8" text-anchor="middle" fill="#222" transform="rotate(-90 25.40 133.10)" stroke="#222" stroke-width="0.08">100</text>
<text x="53.80" y="189.90" font-size="3.4" text-anchor="middle" fill="#222" stroke="#222" stroke-width="0.08">FSC-A</text>
<text x="72.50" y="190.00" font-size="3" text-anchor="middle" fill="#222" stroke="#222" stroke-width="0.08">(x 10⁶)</text>
<text x="18.50" y="152.80" font-size="4.2" text-anchor="middle" fill="#111" font-weight="bold" transform="rotate(-90 18.50 152.80)" stroke="#111" stroke-width="0.08">SSC-A</text>
<rect x="102.50" y="128.30" width="51.40" height="52.20" fill="#fff" stroke="#666" stroke-width="0.5"/>
<text x="128.00" y="125.30" font-size="9.6" text-anchor="middle" fill="#111" textLength="30.60" lengthAdjust="spacingAndGlyphs" stroke="#111" stroke-width="0.2">control</text>
<path d="M133.0 151.7h0.65M140.5 174.2h0.65M135.4 159.5h0.65M134.4 171.1h0.65M123.1 160.5h0.65M136.3 151.0h0.65M131.6 159.5h0.65M123.0 174.3h0.65M121.3 172.9h0.65M126.2 159.1h0.65M145.4 172.9h0.65M139.1 150.3h0.65M122.9 160.3h0.65M128.0 173.3h0.65M127.2 166.7h0.65M128.2 152.8h0.65M130.3 176.8h0.65M124.5 174.6h0.65M123.7 173.9h0.65M134.9 168.0h0.65M116.0 169.7h0.65M135.2 137.9h0.65M121.9 169.6h0.65M126.1 151.4h0.65M133.6 156.6h0.65M127.8 174.3h0.65M136.5 139.2h0.65M129.3 169.0h0.65M133.7 173.5h0.65M130.2 155.5h0.65M137.7 151.0h0.65M125.2 173.7h0.65M138.2 168.7h0.65M125.8 132.6h0.65M127.8 172.4h0.65M120.5 170.6h0.65M132.1 159.9h0.65M121.0 153.4h0.65M116.0 167.4h0.65M125.7 175.2h0.65M123.8 166.7h0.65M143.7 158.5h0.65M122.8 175.0h0.65M132.6 170.1h0.65M128.8 147.4h0.65M133.0 145.8h0.65M133.0 176.8h0.65M140.6 170.7h0.65M139.1 162.0h0.65M125.1 152.7h0.65M139.5 149.5h0.65M124.8 166.9h0.65M127.9 168.1h0.65M123.3 164.6h0.65M142.1 139.3h0.65M127.4 171.7h0.65M141.1 169.6h0.65M137.3 172.6h0.65M134.3 168.6h0.65M119.4 167.9h0.65M131.4 176.9h0.65M123.4 174.5h0.65M130.3 151.3h0.65M122.5 165.1h0.65M129.0 176.1h0.65M130.4 162.3h0.65M134.9 160.4h0.65M123.3 172.1h0.65M129.8 174.3h0.65M136.7 153.6h0.65M124.7 174.4h0.65M139.9 159.8h0.65M124.2 171.3h0.65M119.5 171.3h0.65M129.4 165.6h0.65M137.2 163.0h0.65M124.3 173.6h0.65M122.6 166.6h0.65M128.0 173.3h0.65M145.4 142.2h0.65M124.0 174.6h0.65M132.9 175.2h0.65M131.8 166.9h0.65M133.5 172.3h0.65M131.0 175.6h0.65M133.2 164.9h0.65M137.1 138.5h0.65M120.0 162.3h0.65M131.6 160.0h0.65M135.0 149.5h0.65M134.2 163.8h0.65M133.6 175.4h0.65M132.2 162.7h0.65M127.8 158.1h0.65M137.7 171.6h0.65M122.7 143.0h0.65M143.9 139.7h0.65M131.1 174.1h0.65M129.5 175.7h0.65M127.3 159.9h0.65M133.2 160.8h0.65M136.7 170.5h0.65M147.9 133.1h0.65M128.0 174.9h0.65M127.3 173.8h0.65M119.3 177.0h0.65M132.2 151.7h0.65M139.9 155.6h0.65M115.0 176.6h0.65M126.0 170.3h0.65M126.0 145.0h0.65M128.7 175.6h0.65M131.3 169.8h0.65M128.2 136.7h0.65M126.5 174.1h0.65M134.2 174.2h0.65M128.9 156.6h0.65M125.6 168.6h0.65M143.4 170.4h0.65M132.6 163.9h0.65M130.8 161.9h0.65M127.0 175.6h0.65M133.9 174.7h0.65M123.8 176.0h0.65M145.0 140.8h0.65M135.2 163.4h0.65M126.0 174.2h0.65M136.0 166.2h0.65M141.1 141.6h0.65M121.1 148.7h0.65M127.6 162.6h0.65M126.2 172.8h0.65M132.7 171.9h0.65M124.5 166.0h0.65M121.6 159.4h0.65M127.9 170.4h0.65M122.5 165.2h0.65M126.0 137.3h0.65M140.8 138.7h0.65M137.3 167.0h0.65M133.0 174.7h0.65M125.3 173.8h0.65M124.7 164.0h0.65M126.2 175.8h0.65M120.4 166.6h0.65M144.9 156.3h0.65M134.0 172.9h0.65M134.0 170.9h0.65M126.2 167.5h0.65M137.3 159.8h0.65M131.3 170.2h0.65M128.4 176.8h0.65M133.1 163.7h0.65M128.4 135.5h0.65M137.7 160.3h0.65M134.4 170.1h0.65M124.2 173.8h0.65M131.3 144.5h0.65M123.2 162.3h0.65M128.2 166.2h0.65M132.2 171.9h0.65M126.1 147.0h0.65M126.1 170.2h0.65M130.7 148.4h0.65M127.2 176.3h0.65M126.3 176.7h0.65M137.3 172.0h0.65M129.0 168.2h0.65M127.8 169.1h0.65M129.0 163.0h0.65M129.7 166.1h0.65M130.0 170.4h0.65M123.9 159.5h0.65M118.3 172.3h0.65M129.4 165.6h0.65M126.7 173.8h0.65M122.3 171.8h0.65M138.6 171.5h0.65M135.2 158.5h0.65M117.7 170.1h0.65M129.9 174.8h0.65M126.8 170.6h0.65M126.7 170.6h0.65M131.8 175.4h0.65M130.7 149.1h0.65M122.8 176.1h0.65M123.1 160.9h0.65M126.0 169.5h0.65M123.7 172.5h0.65M138.3 171.1h0.65M113.4 169.6h0.65M132.9 171.1h0.65M134.3 154.9h0.65M133.0 157.9h0.65M129.2 141.0h0.65M130.3 174.1h0.65M129.5 160.7h0.65M131.5 145.8h0.65M132.5 162.0h0.65M136.0 175.8h0.65M134.8 168.6h0.65M121.3 175.7h0.65M129.5 134.8h0.65M134.1 161.8h0.65M129.1 173.9h0.65M126.4 170.7h0.65M125.0 169.2h0.65M116.4 177.2h0.65M132.6 163.9h0.65M127.1 173.1h0.65M123.5 177.1h0.65M130.1 168.5h0.65M124.2 173.9h0.65M120.6 176.3h0.65M132.0 167.1h0.65M132.0 167.1h0.65M125.2 145.7h0.65M129.4 154.3h0.65M135.2 147.0h0.65M131.4 168.5h0.65M139.3 150.4h0.65M131.7 175.5h0.65M128.6 167.2h0.65M131.2 172.0h0.65M131.1 171.8h0.65M118.8 163.6h0.65M134.4 144.1h0.65M126.1 138.7h0.65M121.2 160.3h0.65M133.3 167.0h0.65M129.7 172.6h0.65M126.5 162.7h0.65M124.7 155.7h0.65M128.0 146.2h0.65M117.5 173.6h0.65M136.0 175.2h0.65M124.9 173.0h0.65M139.9 160.4h0.65M121.0 158.2h0.65M144.1 146.8h0.65M120.5 169.2h0.65M124.1 163.6h0.65M139.4 159.7h0.65M125.0 170.7h0.65M129.7 176.2h0.65M135.6 143.6h0.65M129.0 171.2h0.65M134.3 171.5h0.65M114.9 166.1h0.65M122.7 151.8h0.65M125.7 154.5h0.65M124.0 163.6h0.65M127.2 147.2h0.65M131.4 158.1h0.65M124.1 172.8h0.65M145.4 143.7h0.65M142.4 148.0h0.65M126.5 161.9h0.65M129.2 171.0h0.65M119.4 166.4h0.65M137.9 170.8h0.65M140.9 168.2h0.65M132.5 161.3h0.65M126.8 168.5h0.65M138.0 164.7h0.65M128.9 157.1h0.65M145.4 144.9h0.65M129.1 146.9h0.65M126.7 158.2h0.65M124.9 166.1h0.65M128.4 175.4h0.65M126.3 143.0h0.65M136.9 160.9h0.65M135.0 156.1h0.65M133.7 173.7h0.65M128.3 172.1h0.65M138.2 161.4h0.65M131.8 175.0h0.65M136.5 165.5h0.65M136.0 169.7h0.65M117.4 176.2h0.65M139.6 170.5h0.65M141.5 129.6h0.65M129.2 171.2h0.65M124.4 173.8h0.65M120.0 133.0h0.65M122.3 176.8h0.65M134.0 167.8h0.65M130.7 174.6h0.65M130.5 168.8h0.65M128.7 167.2h0.65M128.1 160.0h0.65M126.1 171.3h0.65M136.7 149.6h0.65M132.6 164.6h0.65M137.5 161.4h0.65M141.2 155.6h0.65M135.6 137.5h0.65M136.9 160.8h0.65M133.5 163.0h0.65M129.3 151.2h0.65M127.3 169.5h0.65M121.9 159.6h0.65M123.3 170.2h0.65M128.1 162.0h0.65M142.1 144.9h0.65M130.7 162.7h0.65M130.6 159.8h0.65M135.6 163.5h0.65M123.7 166.5h0.65M136.2 157.8h0.65M132.9 175.2h0.65M142.8 149.3h0.65M133.0 173.1h0.65M137.2 164.4h0.65M129.4 173.7h0.65M131.4 171.6h0.65M137.4 173.0h0.65M127.6 136.3h0.65M127.0 170.2h0.65M130.5 166.8h0.65M123.8 169.1h0.65M123.8 157.0h0.65M127.1 174.4h0.65M128.3 173.8h0.65M125.4 173.4h0.65M136.4 166.8h0.65M129.3 160.1h0.65M132.3 162.4h0.65M144.6 169.4h0.65M123.4 175.7h0.65M133.3 167.6h0.65M133.9 156.2h0.65M132.2 157.9h0.65M127.4 159.7h0.65M125.8 166.1h0.65M130.5 139.6h0.65M126.9 170.4h0.65M137.0 158.1h0.65M118.3 169.4h0.65M134.5 142.4h0.65M122.0 167.2h0.65M144.8 131.2h0.65M127.7 155.8h0.65M132.3 166.7h0.65M118.0 170.2h0.65M132.1 149.2h0.65M122.3 175.8h0.65M140.9 157.5h0.65M141.4 171.7h0.65M128.2 150.1h0.65M119.4 174.7h0.65M126.9 161.0h0.65M137.9 150.3h0.65M130.4 173.8h0.65M136.1 149.4h0.65M118.2 176.4h0.65M133.4 147.6h0.65M124.0 171.0h0.65M129.0 133.5h0.65M134.9 155.2h0.65M120.5 175.0h0.65M144.0 136.3h0.65M138.1 155.8h0.65M125.7 173.3h0.65M130.3 148.5h0.65M124.1 168.4h0.65M125.7 175.3h0.65M140.1 143.2h0.65M132.2 158.1h0.65M117.9 173.9h0.65M126.8 169.4h0.65M124.3 175.3h0.65M129.7 163.1h0.65M127.7 158.9h0.65M140.4 175.4h0.65M126.6 156.0h0.65M118.8 174.9h0.65M123.4 168.5h0.65M127.3 147.9h0.65M122.5 176.4h0.65M117.1 157.4h0.65M137.5 162.9h0.65M130.2 170.4h0.65M132.2 157.6h0.65M135.7 161.5h0.65M126.7 168.4h0.65M145.6 141.4h0.65M136.3 161.2h0.65M135.1 161.3h0.65M129.5 167.7h0.65M136.2 171.5h0.65M129.3 151.2h0.65M129.2 152.7h0.65M123.1 161.9h0.65M126.1 165.4h0.65M143.4 174.9h0.65M131.8 155.3h0.65M128.4 168.4h0.65M121.4 164.7h0.65M132.4 148.4h0.65M127.7 172.6h0.65M128.7 163.0h0.65M131.1 158.0h0.65M126.6 149.4h0.65M131.3 172.7h0.65M142.9 140.3h0.65M124.7 163.6h0.65M129.2 159.7h0.65M138.9 141.9h0.65M138.0 154.3h0.65M133.4 167.3h0.65M124.0 161.0h0.65M119.6 175.3h0.65M125.8 168.8h0.65M130.7 171.9h0.65M123.9 174.5h0.65M127.4 157.7h0.65M126.7 175.8h0.65M131.2 165.8h0.65M138.5 174.8h0.65M133.9 161.0h0.65M138.6 162.7h0.65M122.6 172.6h0.65M121.2 176.2h0.65M135.6 174.1h0.65M129.2 175.4h0.65M133.0 174.8h0.65M135.8 173.7h0.65M123.5 175.8h0.65M113.8 177.3h0.65M128.3 174.9h0.65M126.3 174.4h0.65M136.3 173.5h0.65M124.8 176.1h0.65M131.2 175.8h0.65M133.3 172.9h0.65M133.0 172.9h0.65M135.0 174.7h0.65M126.7 175.5h0.65M127.7 172.3h0.65M124.5 176.7h0.65M125.0 174.3h0.65M126.8 175.6h0.65M128.6 176.3h0.65M129.3 173.7h0.65M129.0 175.3h0.65M120.7 169.4h0.65M125.7 174.9h0.65M126.1 175.0h0.65M120.6 174.8h0.65M124.9 176.1h0.65M135.2 174.4h0.65M142.0 174.8h0.65M134.1 174.1h0.65M124.2 176.7h0.65M124.7 174.1h0.65M130.0 174.2h0.65M138.6 173.5h0.65M124.8 176.5h0.65M125.0 176.6h0.65M124.5 173.1h0.65M113.3 174.4h0.65M137.6 174.4h0.65M129.1 175.1h0.65M127.3 175.7h0.65M119.6 175.1h0.65M122.7 173.6h0.65M121.7 174.0h0.65M125.3 169.6h0.65M127.7 176.4h0.65M136.5 173.4h0.65M134.0 173.1h0.65M135.2 171.4h0.65M127.6 175.2h0.65M121.5 174.4h0.65M130.0 176.2h0.65M120.6 172.9h0.65M133.6 175.9h0.65M137.3 173.1h0.65M133.6 173.3h0.65M136.9 174.9h0.65M135.7 174.7h0.65M130.7 173.2h0.65M122.6 176.7h0.65M123.0 174.7h0.65M124.5 175.8h0.65M126.9 173.5h0.65M121.8 176.9h0.65M126.2 175.2h0.65M123.3 176.5h0.65M129.4 172.3h0.65M129.6 173.2h0.65M128.3 170.5h0.65M122.2 176.8h0.65M126.6 174.0h0.65M125.3 172.0h0.65M118.3 176.9h0.65M129.8 173.5h0.65M124.9 175.0h0.65M121.6 173.6h0.65M127.8 174.7h0.65M129.3 171.8h0.65M123.0 173.7h0.65M121.9 174.0h0.65M127.9 175.5h0.65M127.2 176.0h0.65M135.5 175.0h0.65M120.5 171.2h0.65M129.7 174.5h0.65M126.7 175.5h0.65M131.1 172.1h0.65M122.3 176.8h0.65M127.3 173.5h0.65M125.1 171.3h0.65M135.4 171.5h0.65M122.2 176.0h0.65M121.7 170.5h0.65M129.7 174.9h0.65M125.5 170.9h0.65M131.5 174.3h0.65M135.9 171.3h0.65M124.6 176.0h0.65M129.1 173.8h0.65M137.9 171.7h0.65M122.4 176.0h0.65M124.3 175.7h0.65M134.3 175.5h0.65M127.5 176.2h0.65M121.0 173.9h0.65M123.6 173.4h0.65M125.4 175.5h0.65M137.4 175.1h0.65M124.3 175.4h0.65M131.9 171.2h0.65M132.0 175.1h0.65M121.3 175.3h0.65M127.5 175.9h0.65M124.2 173.5h0.65M122.3 175.1h0.65M131.3 174.9h0.65M125.8 174.1h0.65M119.5 173.0h0.65M141.7 170.1h0.65M128.9 171.2h0.65M128.5 172.9h0.65M127.0 176.0h0.65M131.4 171.6h0.65M126.9 172.1h0.65M110.2 177.1h0.65M133.9 175.1h0.65M129.4 172.7h0.65M130.3 171.3h0.65M122.4 176.2h0.65M129.1 175.2h0.65M127.6 172.1h0.65M110.1 175.1h0.65M134.0 174.3h0.65M128.3 176.3h0.65M130.4 175.6h0.65M123.7 174.8h0.65M123.1 176.8h0.65M126.0 173.6h0.65M131.9 175.9h0.65M121.0 176.9h0.65M119.7 173.5h0.65M131.4 171.0h0.65M124.7 174.9h0.65M122.2 174.8h0.65M127.7 175.4h0.65M133.9 175.2h0.65M135.0 173.3h0.65M122.8 176.5h0.65M122.6 172.5h0.65M124.8 174.4h0.65M133.8 175.3h0.65M125.2 175.8h0.65M123.4 173.6h0.65M122.3 176.1h0.65M129.4 171.7h0.65M117.0 176.1h0.65M121.1 174.1h0.65M132.5 175.7h0.65M137.3 174.6h0.65M124.9 174.0h0.65M124.2 176.5h0.65M132.3 172.7h0.65M126.6 174.7h0.65M126.1 175.5h0.65M125.3 175.6h0.65M122.9 176.8h0.65M125.1 176.3h0.65M119.7 176.8h0.65M131.7 174.4h0.65M124.8 173.8h0.65M120.2 174.1h0.65M124.3 176.0h0.65M117.3 175.7h0.65M118.8 175.5h0.65M123.8 174.7h0.65M139.5 174.5h0.65M126.5 175.6h0.65M127.0 176.1h0.65M143.3 172.2h0.65M127.5 174.4h0.65M130.4 174.9h0.65M131.7 173.3h0.65M141.1 174.7h0.65M117.4 175.6h0.65M125.3 173.7h0.65M130.9 174.8h0.65M132.7 174.6h0.65M133.7 175.5h0.65M130.4 175.8h0.65M126.0 175.7h0.65M131.0 174.3h0.65M125.7 170.9h0.65M138.5 172.5h0.65M134.8 175.6h0.65M129.6 174.3h0.65M138.3 173.4h0.65M127.7 174.6h0.65M140.0 172.1h0.65M120.2 176.0h0.65M130.4 175.1h0.65M126.0 173.9h0.65M129.7 173.5h0.65M133.3 169.8h0.65M126.2 172.4h0.65M130.5 174.5h0.65M126.1 174.2h0.65M128.9 174.6h0.65M133.9 175.2h0.65M120.9 176.9h0.65M138.4 174.8h0.65M127.8 171.1h0.65M125.6 175.3h0.65M122.4 173.5h0.65M124.8 174.5h0.65M124.7 176.5h0.65M134.3 174.4h0.65M117.4 177.2h0.65M131.4 172.2h0.65M121.4 173.2h0.65M132.3 174.9h0.65M123.5 174.6h0.65M122.4 174.6h0.65M129.5 173.6h0.65M139.2 175.4h0.65M127.9 171.5h0.65M120.3 176.0h0.65M126.0 175.7h0.65M129.1 174.2h0.65M135.3 172.3h0.65M123.3 172.6h0.65M119.7 175.7h0.65M132.0 175.6h0.65M133.3 174.4h0.65M124.7 176.7h0.65M130.4 171.1h0.65M125.5 175.7h0.65M131.5 173.0h0.65M130.8 173.4h0.65M121.7 176.4h0.65M116.5 177.4h0.65M142.3 174.5h0.65M128.7 175.7h0.65M129.1 173.0h0.65M124.0 176.4h0.65M129.2 174.1h0.65M127.6 174.6h0.65M120.2 175.5h0.65M123.3 174.7h0.65M136.3 174.2h0.65M126.9 175.1h0.65M118.7 176.0h0.65M137.7 172.6h0.65M129.6 175.7h0.65M128.2 175.3h0.65M128.2 175.3h0.65M123.5 176.7h0.65M126.1 173.9h0.65M120.7 173.8h0.65M127.7 175.2h0.65M128.3 176.1h0.65M126.8 175.5h0.65M124.7 172.5h0.65M132.4 176.0h0.65M138.3 174.5h0.65M116.1 174.4h0.65M124.0 175.4h0.65M141.7 172.4h0.65M121.6 176.8h0.65M118.5 175.6h0.65M131.6 173.5h0.65M130.9 173.8h0.65M133.1 174.3h0.65M124.0 174.0h0.65M120.4 176.3h0.65M128.4 173.1h0.65M129.9 175.5h0.65M119.6 173.3h0.65M129.2 176.3h0.65M122.1 174.3h0.65M132.0 173.6h0.65M131.7 174.5h0.65M125.9 172.5h0.65M130.7 172.6h0.65M123.2 173.7h0.65M134.8 175.4h0.65M124.4 173.6h0.65M120.8 136.3h0.65M135.9 143.8h0.65M141.4 144.7h0.65M130.3 168.4h0.65M110.7 164.8h0.65M108.6 174.5h0.65M106.6 164.5h0.65M122.2 138.8h0.65M123.4 154.0h0.65M124.3 136.1h0.65M129.2 144.5h0.65M149.4 148.4h0.65M125.3 141.1h0.65M149.5 145.5h0.65M134.8 169.6h0.65M123.4 166.0h0.65M118.2 135.5h0.65M107.4 151.5h0.65M145.2 139.9h0.65M125.5 166.3h0.65M118.0 137.5h0.65M129.1 150.4h0.65M148.1 172.7h0.65M116.3 156.8h0.65M124.4 131.9h0.65" stroke="#1fc067" stroke-width="0.65" fill="none" opacity="0.95"/>
<path d="M132.0 169.4h0.55M133.1 175.6h0.55M134.2 176.4h0.55M133.8 171.9h0.55M129.2 173.8h0.55M130.8 175.1h0.55M129.0 169.1h0.55M124.1 170.6h0.55M117.0 163.4h0.55M131.2 168.7h0.55M139.3 168.5h0.55M128.2 170.0h0.55M131.7 175.2h0.55M127.1 171.2h0.55M117.3 172.8h0.55M135.1 173.5h0.55M114.3 175.3h0.55M126.5 176.3h0.55M141.6 170.8h0.55M109.6 168.5h0.55M131.3 175.4h0.55M126.7 170.2h0.55M135.6 173.5h0.55M130.6 173.7h0.55M133.6 175.7h0.55M144.5 162.1h0.55M129.3 172.5h0.55M123.0 171.1h0.55M112.2 170.8h0.55M125.9 174.3h0.55M143.3 167.2h0.55M127.9 174.4h0.55M119.2 177.2h0.55M114.4 176.8h0.55M133.9 173.1h0.55M128.8 170.0h0.55M113.5 171.5h0.55M105.1 176.0h0.55M135.0 176.5h0.55M133.9 173.7h0.55M136.0 172.5h0.55M124.2 167.3h0.55M124.2 168.7h0.55M118.4 173.3h0.55M131.7 171.2h0.55M135.4 162.9h0.55M129.1 173.4h0.55M127.9 167.7h0.55M118.3 174.8h0.55M121.5 169.7h0.55M115.2 176.0h0.55M133.8 172.5h0.55M119.2 174.0h0.55M121.9 173.2h0.55M131.5 177.4h0.55M126.8 171.2h0.55M122.0 174.3h0.55M143.8 174.3h0.55M126.3 170.9h0.55M143.4 171.4h0.55M128.5 171.8h0.55M130.7 170.8h0.55M129.6 165.6h0.55M130.6 174.2h0.55M140.4 175.9h0.55M129.9 174.4h0.55M140.9 171.9h0.55M112.2 173.5h0.55M125.6 174.6h0.55M123.1 173.4h0.55M127.7 174.4h0.55M122.7 170.9h0.55M115.1 173.6h0.55M126.9 170.5h0.55M134.8 174.8h0.55M134.3 172.5h0.55M123.6 173.9h0.55M135.2 172.4h0.55M124.5 168.2h0.55M122.3 175.9h0.55M126.0 167.8h0.55M127.6 169.5h0.55M130.8 174.4h0.55M129.8 171.9h0.55M128.7 170.9h0.55M117.6 169.6h0.55M112.7 171.5h0.55M137.5 175.2h0.55M123.7 174.5h0.55M133.7 172.6h0.55M119.1 175.7h0.55M131.3 171.5h0.55M127.7 175.9h0.55M125.5 176.3h0.55M131.6 166.3h0.55M125.5 173.4h0.55M126.9 170.7h0.55M131.1 167.1h0.55M126.1 175.5h0.55M131.3 172.8h0.55M132.7 170.0h0.55M129.3 160.0h0.55M126.9 173.9h0.55M127.6 166.7h0.55M124.1 171.2h0.55M127.2 174.9h0.55M135.5 161.5h0.55M125.6 173.0h0.55M147.3 169.3h0.55M122.8 174.0h0.55M111.8 172.1h0.55M133.8 169.3h0.55M123.4 175.4h0.55M131.9 175.0h0.55M119.5 175.9h0.55M125.8 164.8h0.55M142.2 175.1h0.55M126.4 173.5h0.55M129.0 174.2h0.55M135.2 170.7h0.55M122.9 167.6h0.55M134.5 170.2h0.55M131.3 174.3h0.55M133.5 172.5h0.55M120.8 174.0h0.55M134.1 172.8h0.55M139.6 166.3h0.55M115.0 174.2h0.55M132.6 174.7h0.55M133.0 173.3h0.55M124.7 175.4h0.55M132.1 165.9h0.55M126.4 173.0h0.55M125.6 171.9h0.55M136.5 167.9h0.55M130.9 172.3h0.55M115.5 174.8h0.55M121.0 169.9h0.55M136.6 169.2h0.55M124.2 172.2h0.55M130.3 173.1h0.55" stroke="#777" stroke-width="0.55" fill="none" opacity="0.8"/>
<path d="M115.9 178.3h0.65M125.6 176.9h0.65M127.7 177.7h0.65M130.7 177.5h0.65M125.2 176.7h0.65M133.9 177.4h0.65M132.9 176.7h0.65M131.6 177.6h0.65M128.6 177.5h0.65M131.5 177.3h0.65M125.0 178.2h0.65M130.9 176.8h0.65M128.1 177.2h0.65M129.2 177.6h0.65M128.1 177.5h0.65M133.9 177.1h0.65M118.6 177.7h0.65M129.9 177.6h0.65M125.5 176.9h0.65M127.3 177.2h0.65M124.4 178.3h0.65M123.8 178.1h0.65M123.9 177.9h0.65M126.9 176.6h0.65M137.3 176.2h0.65M123.9 178.4h0.65M133.5 176.7h0.65M118.8 178.8h0.65M123.9 177.6h0.65M131.9 177.1h0.65M140.6 176.6h0.65M142.3 176.5h0.65M127.7 176.1h0.65M125.2 177.8h0.65M136.7 177.2h0.65M131.0 176.5h0.65M138.6 176.1h0.65M130.3 177.1h0.65M125.3 177.8h0.65M119.1 178.4h0.65M135.4 176.5h0.65M133.5 176.8h0.65M122.9 177.2h0.65M131.9 177.5h0.65M133.9 177.2h0.65M123.1 178.0h0.65M125.0 176.7h0.65M124.7 177.5h0.65M121.8 178.1h0.65M133.7 175.1h0.65M138.2 176.7h0.65M134.8 177.3h0.65M130.5 177.1h0.65M127.8 176.4h0.65M138.6 176.3h0.65M131.6 177.1h0.65M129.8 176.7h0.65M126.0 177.3h0.65M131.6 175.8h0.65M133.1 176.3h0.65M129.9 177.3h0.65M124.5 178.0h0.65M126.8 177.7h0.65M133.5 176.1h0.65M130.1 175.8h0.65M122.7 176.7h0.65M126.7 177.4h0.65M127.5 178.0h0.65M122.9 178.1h0.65M139.9 176.8h0.65M128.1 178.0h0.65M132.3 177.4h0.65M128.2 177.8h0.65M135.7 176.3h0.65M122.1 177.9h0.65M128.3 177.1h0.65M133.8 177.3h0.65M140.5 176.7h0.65M136.3 175.8h0.65M137.4 176.9h0.65M131.5 176.2h0.65M117.9 178.3h0.65M132.4 176.5h0.65M127.6 177.0h0.65M131.5 176.2h0.65M119.0 178.0h0.65M122.7 177.5h0.65M137.7 176.2h0.65M123.4 178.1h0.65M133.3 177.1h0.65M132.5 177.0h0.65M124.5 176.0h0.65M122.9 177.3h0.65M137.7 176.4h0.65M122.0 178.2h0.65M128.5 177.1h0.65M134.5 176.5h0.65M129.8 177.1h0.65M123.1 176.4h0.65M130.4 177.4h0.65M122.9 178.4h0.65M147.2 175.2h0.65M118.3 178.3h0.65M125.7 177.7h0.65M131.8 177.6h0.65M134.0 176.9h0.65M134.9 177.2h0.65M115.7 177.8h0.65M118.3 177.8h0.65M129.7 176.5h0.65M128.6 177.1h0.65M122.3 178.5h0.65M123.9 177.4h0.65M124.6 177.0h0.65M132.2 177.6h0.65M127.7 177.9h0.65M129.9 177.6h0.65M118.2 178.0h0.65M123.2 175.9h0.65M132.3 176.4h0.65M127.4 178.0h0.65M124.8 177.8h0.65M126.6 177.9h0.65M122.7 178.2h0.65M122.2 178.5h0.65M135.9 176.3h0.65M130.7 176.4h0.65M134.2 176.5h0.65M140.2 174.7h0.65M128.3 177.7h0.65M134.5 176.3h0.65M126.0 175.9h0.65M134.0 175.5h0.65M128.3 176.6h0.65M124.6 177.7h0.65M128.8 176.5h0.65M124.6 177.2h0.65M135.1 176.8h0.65M134.7 176.7h0.65M129.6 177.9h0.65M120.9 178.3h0.65M125.9 175.5h0.65M123.4 177.6h0.65M123.3 177.5h0.65M124.2 175.9h0.65M133.4 177.4h0.65M129.7 177.6h0.65M128.6 177.7h0.65M121.9 177.1h0.65M128.6 176.9h0.65M129.6 176.3h0.65M120.3 178.5h0.65M124.6 177.1h0.65M138.1 176.6h0.65M132.5 177.4h0.65M122.4 178.4h0.65M122.1 177.0h0.65M131.6 176.5h0.65M130.3 175.4h0.65M132.9 177.5h0.65M114.3 179.2h0.65M134.1 175.7h0.65M122.3 177.7h0.65M130.1 177.7h0.65M126.6 177.6h0.65M131.6 177.0h0.65M125.8 176.9h0.65M135.9 176.0h0.65M124.9 178.3h0.65M132.9 175.8h0.65M131.1 175.3h0.65M129.8 177.2h0.65M140.1 176.9h0.65M129.4 177.5h0.65M129.2 176.1h0.65M120.7 177.2h0.65M133.4 177.4h0.65M134.9 175.3h0.65M124.7 176.9h0.65M123.6 176.6h0.65M123.9 178.0h0.65M128.1 176.7h0.65M135.9 175.7h0.65M131.6 177.2h0.65M125.3 176.8h0.65M135.6 176.1h0.65M128.7 177.1h0.65M132.1 177.1h0.65M129.1 176.8h0.65M129.6 177.3h0.65M132.5 177.0h0.65M130.8 177.3h0.65M137.1 176.4h0.65M135.6 176.5h0.65M132.1 177.2h0.65M122.0 176.7h0.65M122.8 177.9h0.65M133.5 177.3h0.65M128.7 176.1h0.65M125.9 176.4h0.65M119.2 178.5h0.65M132.3 176.9h0.65M126.9 177.3h0.65M127.9 177.3h0.65M126.0 177.4h0.65M133.7 176.4h0.65M122.5 178.4h0.65M140.5 175.7h0.65M120.9 178.2h0.65M131.2 177.1h0.65M128.1 177.5h0.65M118.1 178.9h0.65M131.7 176.8h0.65M135.0 177.3h0.65M119.8 177.4h0.65M132.7 176.9h0.65M134.2 176.4h0.65M127.4 175.7h0.65M125.5 177.5h0.65M123.4 178.4h0.65M121.9 178.2h0.65M139.1 175.8h0.65M134.2 176.9h0.65M131.4 177.6h0.65M135.6 176.6h0.65M132.4 176.8h0.65M129.5 177.9h0.65M134.5 175.8h0.65M120.4 177.3h0.65M130.4 176.1h0.65M122.2 178.3h0.65M131.7 175.9h0.65M127.9 177.6h0.65M132.3 177.5h0.65M123.9 177.6h0.65M117.2 178.0h0.65M136.1 176.8h0.65M126.3 177.8h0.65M134.7 176.9h0.65M122.6 177.9h0.65M134.3 177.3h0.65M124.6 177.5h0.65M134.8 175.2h0.65M122.0 177.9h0.65M124.2 178.0h0.65M125.4 177.1h0.65M112.7 178.5h0.65M124.5 178.1h0.65M131.5 177.5h0.65M122.4 177.0h0.65M131.5 177.2h0.65M129.4 176.8h0.65M121.1 178.3h0.65M130.3 177.7h0.65M123.7 177.0h0.65M118.5 177.3h0.65M130.3 177.0h0.65M135.1 176.8h0.65M125.8 177.6h0.65M134.8 177.1h0.65M137.6 176.8h0.65M124.8 177.7h0.65M124.1 178.1h0.65M129.7 177.3h0.65M130.8 176.7h0.65M127.0 177.2h0.65M131.0 176.4h0.65M124.9 177.4h0.65M124.6 178.1h0.65M136.9 176.9h0.65M119.9 178.4h0.65M132.5 177.0h0.65M129.6 175.9h0.65M134.6 177.3h0.65M135.2 176.0h0.65M127.2 177.2h0.65M129.2 176.3h0.65M125.3 176.7h0.65M122.3 177.1h0.65M118.5 178.0h0.65M133.9 177.4h0.65M129.0 177.9h0.65M129.2 177.7h0.65M122.6 178.2h0.65M128.8 177.0h0.65M130.9 176.0h0.65M118.8 178.3h0.65M126.6 178.1h0.65M128.8 177.2h0.65M128.0 178.0h0.65M127.7 176.5h0.65M128.9 176.4h0.65M119.2 178.2h0.65M126.2 177.6h0.65M120.4 178.4h0.65M127.7 177.4h0.65M126.2 177.3h0.65M132.7 177.0h0.65M127.2 176.7h0.65M132.7 176.1h0.65M135.5 176.2h0.65M129.8 177.5h0.65M128.1 176.7h0.65M126.7 176.0h0.65M132.7 177.3h0.65M128.2 176.4h0.65M124.0 178.1h0.65M142.3 175.9h0.65M133.5 177.4h0.65M126.5 177.5h0.65M116.8 178.1h0.65M139.3 176.7h0.65M127.8 177.9h0.65M132.0 177.2h0.65M128.9 177.4h0.65M126.2 177.8h0.65M130.1 177.1h0.65M122.5 178.0h0.65M125.8 177.0h0.65M129.6 176.2h0.65M120.9 176.7h0.65M130.1 176.5h0.65M123.0 178.3h0.65M136.4 175.6h0.65M126.1 177.9h0.65M139.2 176.0h0.65M137.2 176.8h0.65M128.7 176.7h0.65M131.0 176.9h0.65M119.5 178.8h0.65" stroke="#111" stroke-width="0.65" fill="none" opacity="0.9"/>
<line x1="103.50" y1="180.50" x2="103.50" y2="181.70" stroke="#444" stroke-width="0.5"/>
<text x="103.50" y="185.30" font-size="3.2" text-anchor="middle" fill="#222" stroke="#222" stroke-width="0.08">0</text>
<line x1="128.20" y1="180.50" x2="128.20" y2="181.70" stroke="#444" stroke-width="0.5"/>
<text x="128.20" y="185.30" font-size="3.2" text-anchor="middle" fill="#222" stroke="#222" stroke-width="0.08">50</text>
<line x1="152.90" y1="180.50" x2="152.90" y2="181.70" stroke="#444" stroke-width="0.5"/>
<text x="152.90" y="185.30" font-size="3.2" text-anchor="middle" fill="#222" stroke="#222" stroke-width="0.08">100</text>
<line x1="101.30" y1="179.00" x2="102.50" y2="179.00" stroke="#444" stroke-width="0.5"/>
<line x1="101.30" y1="154.90" x2="102.50" y2="154.90" stroke="#444" stroke-width="0.5"/>
<line x1="101.30" y1="130.80" x2="102.50" y2="130.80" stroke="#444" stroke-width="0.5"/>
<line x1="101.80" y1="179.00" x2="102.50" y2="179.00" stroke="#444" stroke-width="0.4"/>
<line x1="101.80" y1="172.97" x2="102.50" y2="172.97" stroke="#444" stroke-width="0.4"/>
<line x1="101.80" y1="166.95" x2="102.50" y2="166.95" stroke="#444" stroke-width="0.4"/>
<line x1="101.80" y1="160.93" x2="102.50" y2="160.93" stroke="#444" stroke-width="0.4"/>
<line x1="101.80" y1="154.90" x2="102.50" y2="154.90" stroke="#444" stroke-width="0.4"/>
<line x1="101.80" y1="148.88" x2="102.50" y2="148.88" stroke="#444" stroke-width="0.4"/>
<line x1="101.80" y1="142.85" x2="102.50" y2="142.85" stroke="#444" stroke-width="0.4"/>
<line x1="101.80" y1="136.83" x2="102.50" y2="136.83" stroke="#444" stroke-width="0.4"/>
<line x1="101.80" y1="130.80" x2="102.50" y2="130.80" stroke="#444" stroke-width="0.4"/>
<text x="128.20" y="189.70" font-size="3.4" text-anchor="middle" fill="#222" stroke="#222" stroke-width="0.08">FSC-A</text>
<text x="148.40" y="189.90" font-size="3" text-anchor="middle" fill="#222" stroke="#222" stroke-width="0.08">(x 10⁶)</text>
<rect x="158.40" y="128.30" width="52.10" height="52.20" fill="#fff" stroke="#666" stroke-width="0.5"/>
<text x="181.90" y="125.30" font-size="9.6" text-anchor="middle" fill="#111" textLength="21.00" lengthAdjust="spacingAndGlyphs" stroke="#111" stroke-width="0.2">gDNA</text>
<path d="M200.9 162.9h0.65M177.3 171.0h0.65M185.0 160.5h0.65M198.1 140.8h0.65M193.6 160.0h0.65M176.0 168.6h0.65M183.6 175.5h0.65M179.9 175.4h0.65M179.7 175.7h0.65M182.0 154.0h0.65M186.7 162.8h0.65M174.6 174.1h0.65M176.5 174.6h0.65M198.0 151.4h0.65M190.2 154.5h0.65M181.8 155.5h0.65M181.0 173.0h0.65M172.9 172.5h0.65M188.0 152.4h0.65M185.7 172.5h0.65M188.4 171.8h0.65M197.7 137.8h0.65M184.0 161.1h0.65M182.3 164.3h0.65M186.6 147.8h0.65M185.8 170.7h0.65M190.5 163.5h0.65M174.0 156.9h0.65M184.5 176.3h0.65M189.7 157.7h0.65M177.9 168.5h0.65M194.4 168.0h0.65M176.9 174.2h0.65M185.0 175.4h0.65M182.1 169.1h0.65M180.3 151.3h0.65M185.1 168.3h0.65M165.4 176.8h0.65M186.4 162.2h0.65M182.7 170.3h0.65M198.7 156.7h0.65M187.6 172.0h0.65M182.7 149.8h0.65M186.8 146.9h0.65M183.1 171.2h0.65M187.9 154.0h0.65M185.0 174.3h0.65M191.3 174.7h0.65M185.2 135.6h0.65M181.6 168.1h0.65M187.7 158.3h0.65M189.3 174.9h0.65M193.4 173.3h0.65M198.3 141.8h0.65M178.2 174.3h0.65M193.1 142.8h0.65M183.4 159.4h0.65M175.7 163.2h0.65M185.8 143.8h0.65M182.4 174.7h0.65M183.3 168.4h0.65M186.3 168.2h0.65M182.1 164.6h0.65M193.2 154.3h0.65M194.9 173.2h0.65M181.5 172.2h0.65M174.7 177.0h0.65M187.4 160.1h0.65M184.1 129.7h0.65M192.4 153.4h0.65M190.6 172.0h0.65M189.1 170.9h0.65M190.2 167.9h0.65M195.5 164.3h0.65M192.3 157.4h0.65M183.0 170.4h0.65M178.9 171.9h0.65M181.0 155.2h0.65M190.6 149.2h0.65M186.7 168.4h0.65M187.8 136.0h0.65M183.7 164.7h0.65M179.4 159.6h0.65M166.2 154.8h0.65M184.1 160.3h0.65M181.2 171.2h0.65M183.8 172.4h0.65M191.1 146.0h0.65M183.8 155.1h0.65M184.5 173.6h0.65M188.9 155.6h0.65M196.6 167.4h0.65M184.8 162.0h0.65M184.5 164.4h0.65M185.5 165.7h0.65M180.7 165.0h0.65M192.7 169.2h0.65M194.9 152.8h0.65M185.7 160.0h0.65M192.2 130.5h0.65M173.6 176.8h0.65M193.3 140.9h0.65M180.8 169.3h0.65M182.9 160.6h0.65M189.2 170.5h0.65M190.5 133.5h0.65M186.6 160.9h0.65M172.8 173.2h0.65M180.1 176.7h0.65M196.2 145.6h0.65M185.2 164.6h0.65M188.6 168.4h0.65M186.2 159.0h0.65M176.8 170.1h0.65M170.3 171.9h0.65M193.6 151.2h0.65M189.7 168.9h0.65M188.7 161.5h0.65M187.3 156.3h0.65M188.4 145.8h0.65M193.9 150.4h0.65M181.9 166.2h0.65M175.2 176.2h0.65M182.8 173.1h0.65M186.3 175.2h0.65M174.2 172.8h0.65M194.2 168.6h0.65M181.7 169.3h0.65M187.8 168.3h0.65M179.9 161.0h0.65M188.5 171.2h0.65M187.6 164.2h0.65M194.0 132.9h0.65M179.9 162.9h0.65M183.7 174.3h0.65M180.1 176.3h0.65M192.6 173.6h0.65M187.8 158.7h0.65M189.2 175.9h0.65M185.5 165.6h0.65M190.1 170.1h0.65M184.7 174.1h0.65M175.8 177.6h0.65M197.0 172.5h0.65M196.0 167.1h0.65M191.1 162.7h0.65M188.9 166.3h0.65M177.4 167.5h0.65M185.1 174.5h0.65M176.4 159.3h0.65M193.7 149.8h0.65M187.9 170.0h0.65M174.9 165.9h0.65M183.5 165.9h0.65M179.9 172.9h0.65M194.9 151.3h0.65M188.6 168.3h0.65M180.2 163.9h0.65M179.0 176.2h0.65M187.9 172.5h0.65M188.8 162.4h0.65M181.3 174.6h0.65M182.2 161.7h0.65M191.4 158.2h0.65M193.9 149.8h0.65M182.5 160.5h0.65M184.2 161.9h0.65M188.0 140.1h0.65M176.0 174.7h0.65M177.8 146.3h0.65M179.0 175.9h0.65M187.1 165.6h0.65M193.5 172.0h0.65M192.9 150.7h0.65M192.7 173.9h0.65M184.0 160.9h0.65M188.2 157.9h0.65M186.3 174.2h0.65M186.4 168.7h0.65M191.3 165.8h0.65M186.1 172.4h0.65M189.2 168.0h0.65M190.4 144.6h0.65M187.5 170.4h0.65M189.7 162.5h0.65M190.9 154.2h0.65M179.6 163.1h0.65M185.3 173.1h0.65M185.8 155.9h0.65M177.3 175.9h0.65M198.1 169.2h0.65M196.9 171.7h0.65M191.0 172.3h0.65M187.7 168.2h0.65M189.4 160.8h0.65M173.2 173.3h0.65M181.9 165.1h0.65M194.1 135.8h0.65M186.8 175.4h0.65M186.2 167.2h0.65M184.5 144.7h0.65M187.7 159.2h0.65M197.8 172.0h0.65M188.0 151.5h0.65M185.1 156.1h0.65M181.4 172.1h0.65M191.4 163.9h0.65M188.5 159.5h0.65M176.0 174.8h0.65M174.9 156.5h0.65M183.9 172.0h0.65M187.1 164.7h0.65M182.5 170.6h0.65M189.0 136.9h0.65M190.3 162.4h0.65M179.4 175.8h0.65M183.5 174.2h0.65M194.1 152.1h0.65M183.3 166.3h0.65M184.9 176.8h0.65M189.2 161.0h0.65M194.0 161.7h0.65M186.6 156.8h0.65M183.0 162.3h0.65M176.8 167.5h0.65M184.9 173.9h0.65M177.8 144.3h0.65M181.8 171.4h0.65M176.7 174.4h0.65M182.2 172.2h0.65M192.6 160.6h0.65M182.3 176.9h0.65M184.6 165.8h0.65M181.9 171.6h0.65M181.9 160.1h0.65M188.6 152.3h0.65M175.8 176.5h0.65M192.5 173.8h0.65M188.1 166.8h0.65M184.8 161.1h0.65M182.9 167.2h0.65M180.1 168.8h0.65M192.1 168.6h0.65M190.5 149.7h0.65M185.8 162.8h0.65M178.3 170.1h0.65M188.3 173.7h0.65M184.6 165.5h0.65M186.1 162.5h0.65M175.9 157.8h0.65M185.7 175.2h0.65M193.2 138.3h0.65M190.7 167.5h0.65M189.8 168.1h0.65M177.0 170.7h0.65M187.9 175.5h0.65M179.9 163.0h0.65M187.3 135.6h0.65M185.2 164.4h0.65M183.7 160.9h0.65M187.6 170.5h0.65M187.0 156.3h0.65M180.3 177.5h0.65M176.4 171.4h0.65M183.8 173.3h0.65M177.7 168.5h0.65M198.6 147.7h0.65M194.4 162.1h0.65M179.8 161.1h0.65M190.2 160.0h0.65M187.1 171.2h0.65M182.2 177.2h0.65M187.8 129.8h0.65M182.0 172.1h0.65M189.0 172.2h0.65M184.5 172.1h0.65M177.4 154.1h0.65M196.1 142.1h0.65M183.7 160.6h0.65M180.2 173.1h0.65M188.6 135.8h0.65M193.6 165.0h0.65M186.8 164.9h0.65M178.9 176.0h0.65M189.3 151.9h0.65M200.5 170.9h0.65M177.9 176.8h0.65M192.8 136.5h0.65M191.8 149.3h0.65M189.8 150.2h0.65M193.6 167.7h0.65M196.8 164.5h0.65M188.5 148.2h0.65M191.3 162.5h0.65M185.3 172.7h0.65M182.3 157.5h0.65M180.8 169.1h0.65M178.9 164.4h0.65M195.5 172.6h0.65M171.2 177.3h0.65M188.6 165.3h0.65M180.2 159.5h0.65M187.4 140.1h0.65M193.8 160.5h0.65M185.5 165.7h0.65M179.7 169.7h0.65M182.6 135.3h0.65M184.1 170.6h0.65M190.4 157.6h0.65M177.3 176.7h0.65M183.3 171.7h0.65M182.2 172.3h0.65M180.0 168.6h0.65M181.8 160.7h0.65M181.6 168.0h0.65M175.0 173.6h0.65M185.5 170.5h0.65M191.2 163.4h0.65M192.6 170.5h0.65M184.9 150.7h0.65M167.3 175.1h0.65M170.5 168.5h0.65M187.1 142.4h0.65M179.7 161.6h0.65M189.4 168.5h0.65M178.8 173.4h0.65M184.7 172.7h0.65M199.4 133.4h0.65M196.8 148.8h0.65M180.5 166.2h0.65M184.3 164.8h0.65M185.0 169.9h0.65M189.8 143.2h0.65M197.4 133.9h0.65M182.6 173.3h0.65M188.3 170.0h0.65M176.5 176.6h0.65M190.7 160.9h0.65M183.6 168.9h0.65M184.5 162.1h0.65M190.9 150.9h0.65M183.2 165.6h0.65M191.5 169.5h0.65M179.1 169.6h0.65M190.6 172.0h0.65M174.9 174.0h0.65M185.6 171.9h0.65M187.6 172.4h0.65M198.7 156.4h0.65M187.0 176.6h0.65M177.1 170.5h0.65M176.0 169.8h0.65M181.4 158.3h0.65M189.3 162.6h0.65M192.6 161.1h0.65M171.5 174.3h0.65M191.1 164.0h0.65M186.8 173.9h0.65M179.4 145.2h0.65M185.5 167.7h0.65M180.4 161.3h0.65M188.7 161.9h0.65M183.8 166.3h0.65M180.4 161.9h0.65M191.8 171.8h0.65M180.4 172.1h0.65M183.7 165.2h0.65M188.4 154.9h0.65M187.3 174.4h0.65M179.5 173.6h0.65M184.9 170.4h0.65M184.6 169.9h0.65M184.0 161.9h0.65M190.0 160.7h0.65M180.8 162.0h0.65M187.7 173.0h0.65M179.6 169.4h0.65M183.4 169.0h0.65M179.6 175.7h0.65M183.6 175.0h0.65M178.9 163.8h0.65M178.4 169.3h0.65M185.4 157.0h0.65M193.6 141.6h0.65M189.6 174.6h0.65M183.0 167.3h0.65M193.9 164.8h0.65M169.9 170.4h0.65M178.8 170.4h0.65M176.2 165.5h0.65M197.5 171.7h0.65M184.4 162.3h0.65M175.2 163.9h0.65M178.4 176.2h0.65M187.0 172.5h0.65M172.1 176.2h0.65M185.5 176.3h0.65M181.7 176.4h0.65M185.9 175.4h0.65M187.7 174.9h0.65M191.4 172.5h0.65M181.6 174.3h0.65M177.9 175.1h0.65M191.5 174.8h0.65M177.7 176.3h0.65M176.3 175.1h0.65M191.8 173.2h0.65M194.0 173.7h0.65M178.8 176.3h0.65M186.7 175.6h0.65M172.0 176.2h0.65M187.1 175.0h0.65M184.4 171.7h0.65M172.2 176.9h0.65M186.6 174.1h0.65M174.4 177.0h0.65M179.4 176.2h0.65M188.6 174.1h0.65M180.6 175.9h0.65M174.7 176.9h0.65M178.5 174.0h0.65M183.5 176.5h0.65M189.5 175.5h0.65M169.3 175.9h0.65M185.1 175.5h0.65M185.4 174.9h0.65M188.9 173.5h0.65M189.3 175.5h0.65M180.6 176.7h0.65M179.7 171.5h0.65M180.2 176.2h0.65M181.9 175.9h0.65M175.5 176.8h0.65M191.1 174.1h0.65M180.7 172.8h0.65M174.2 173.5h0.65M181.3 175.7h0.65M188.3 172.3h0.65M185.3 175.5h0.65M180.0 175.8h0.65M172.0 176.5h0.65M174.8 175.7h0.65M184.9 174.3h0.65M180.0 175.1h0.65M176.9 176.6h0.65M182.6 175.2h0.65M186.4 174.9h0.65M179.8 172.2h0.65M190.4 175.7h0.65M186.1 176.1h0.65M188.5 175.6h0.65M194.8 174.5h0.65M190.0 172.2h0.65M187.7 176.1h0.65M182.8 175.7h0.65M178.8 176.5h0.65M183.9 173.4h0.65M196.2 174.3h0.65M191.1 170.7h0.65M190.8 173.8h0.65M180.7 176.5h0.65M182.5 174.9h0.65M187.3 172.8h0.65M179.6 172.9h0.65M174.0 175.2h0.65M194.8 172.9h0.65M175.6 177.0h0.65M185.2 172.3h0.65M176.1 174.9h0.65M181.5 176.0h0.65M181.2 172.6h0.65M193.2 175.3h0.65M174.9 176.1h0.65M181.1 174.1h0.65M174.2 176.7h0.65M191.1 174.4h0.65M183.9 173.0h0.65M184.2 174.7h0.65M186.0 170.8h0.65M176.0 173.1h0.65M184.0 174.4h0.65M183.7 176.4h0.65M192.5 174.2h0.65M190.2 173.9h0.65M175.1 177.1h0.65M181.1 171.2h0.65M182.7 175.9h0.65M189.9 171.0h0.65M181.1 172.8h0.65M192.7 171.5h0.65M195.2 173.3h0.65M184.6 171.7h0.65M181.7 174.0h0.65M193.6 172.9h0.65M200.2 174.8h0.65M175.3 175.4h0.65M181.4 174.4h0.65M177.0 177.1h0.65M185.5 174.4h0.65M191.2 171.6h0.65M181.4 172.9h0.65M176.3 176.9h0.65M184.1 176.2h0.65M168.9 175.4h0.65M186.4 173.4h0.65M188.7 175.1h0.65M185.2 175.8h0.65M187.8 171.7h0.65M187.7 174.7h0.65M189.9 174.9h0.65M169.8 175.8h0.65M175.4 176.2h0.65M184.9 176.2h0.65M184.2 175.2h0.65M186.6 174.5h0.65M193.5 174.6h0.65M188.0 172.3h0.65M181.3 173.8h0.65M195.0 173.2h0.65M186.4 172.9h0.65M182.4 174.4h0.65M188.3 174.4h0.65M183.9 173.1h0.65M187.5 174.7h0.65M183.4 176.5h0.65M191.0 175.0h0.65M193.2 171.6h0.65M191.6 172.6h0.65M186.0 174.1h0.65M165.7 176.0h0.65M179.9 175.1h0.65M189.2 175.7h0.65M189.6 175.3h0.65M179.7 175.8h0.65M177.0 172.7h0.65M183.0 175.0h0.65M194.4 175.3h0.65M172.3 177.3h0.65M191.0 173.6h0.65M186.9 171.8h0.65M183.4 175.7h0.65M179.5 176.6h0.65M179.6 175.2h0.65M177.0 176.2h0.65M173.3 174.5h0.65M183.4 174.5h0.65M185.7 175.1h0.65M192.7 170.9h0.65M188.6 174.3h0.65M194.7 172.5h0.65M203.8 173.6h0.65M183.7 175.6h0.65M184.5 173.3h0.65M189.2 175.8h0.65M175.1 176.6h0.65M186.3 175.2h0.65M183.1 175.5h0.65M186.5 175.4h0.65M188.4 171.0h0.65M195.3 174.2h0.65M189.5 172.8h0.65M180.9 172.2h0.65M186.1 175.9h0.65M188.7 175.5h0.65M193.5 173.4h0.65M187.1 175.9h0.65M182.3 175.5h0.65M179.7 173.5h0.65M185.3 173.4h0.65M187.4 171.0h0.65M177.9 174.1h0.65M182.8 175.9h0.65M192.7 172.7h0.65M176.1 176.9h0.65M174.0 177.2h0.65M179.5 176.4h0.65M180.1 176.6h0.65M192.0 175.6h0.65M191.3 172.8h0.65M186.3 173.2h0.65M177.3 175.4h0.65M177.2 176.3h0.65M179.6 171.9h0.65M173.6 177.0h0.65M183.1 175.4h0.65M184.1 174.2h0.65M180.0 174.4h0.65M178.4 168.2h0.65M183.8 174.0h0.65M180.1 171.2h0.65M189.2 172.9h0.65M190.3 175.3h0.65M192.5 172.4h0.65M183.0 175.2h0.65M186.7 173.7h0.65M180.3 174.4h0.65M182.6 171.1h0.65M193.7 173.4h0.65M187.1 173.9h0.65M188.6 176.0h0.65M182.4 175.2h0.65M181.2 176.5h0.65M180.8 174.6h0.65M184.6 172.4h0.65M183.8 176.0h0.65M190.0 172.2h0.65M188.2 174.6h0.65M183.6 172.5h0.65M194.3 170.1h0.65M179.9 174.1h0.65M189.3 175.3h0.65M168.9 174.4h0.65M189.6 173.2h0.65M199.2 171.8h0.65M184.2 171.7h0.65M184.4 174.8h0.65M184.5 175.7h0.65M182.0 176.3h0.65M185.9 174.8h0.65M194.1 173.3h0.65M180.7 170.0h0.65M186.3 175.1h0.65M176.1 174.0h0.65M193.4 172.9h0.65M173.7 176.1h0.65M183.5 175.9h0.65M192.6 173.3h0.65M173.8 177.2h0.65M186.0 174.3h0.65M187.4 171.2h0.65M183.4 175.1h0.65M184.2 175.7h0.65M179.7 176.4h0.65M185.4 172.2h0.65M182.8 175.0h0.65M193.1 174.7h0.65M184.2 176.1h0.65M191.5 171.1h0.65M179.6 174.5h0.65M176.1 172.3h0.65M180.0 174.3h0.65M185.3 173.3h0.65M192.2 175.1h0.65M179.6 175.7h0.65M181.0 175.6h0.65M180.5 172.8h0.65M189.6 174.1h0.65M186.3 175.1h0.65M174.2 176.9h0.65M185.7 173.8h0.65M192.3 169.9h0.65M177.4 174.7h0.65M182.7 175.5h0.65M178.7 175.8h0.65M191.6 173.3h0.65M184.7 173.0h0.65M184.5 175.0h0.65M192.7 175.6h0.65M181.1 175.8h0.65M192.7 173.5h0.65M183.1 172.7h0.65M184.2 173.4h0.65M185.5 172.6h0.65M203.3 134.5h0.65M197.1 130.9h0.65M190.2 155.5h0.65M164.8 150.1h0.65M192.2 171.2h0.65M165.0 154.4h0.65M198.1 135.8h0.65M202.5 174.6h0.65M177.2 140.2h0.65M168.1 140.7h0.65M180.7 163.7h0.65M204.6 156.7h0.65M205.3 150.4h0.65M191.7 130.3h0.65M180.7 131.4h0.65M167.5 168.5h0.65M166.7 144.4h0.65M185.6 155.1h0.65M162.8 135.5h0.65M192.6 149.4h0.65M165.7 152.9h0.65M178.6 177.5h0.65M163.6 138.8h0.65M164.8 156.3h0.65" stroke="#1fc067" stroke-width="0.65" fill="none" opacity="0.95"/>
<path d="M189.5 167.9h0.55M184.3 169.9h0.55M183.2 175.3h0.55M180.1 174.6h0.55M172.4 172.8h0.55M172.0 169.2h0.55M182.1 173.4h0.55M184.8 176.2h0.55M188.9 170.6h0.55M183.3 176.3h0.55M184.4 175.3h0.55M189.1 172.9h0.55M179.9 175.2h0.55M189.4 174.3h0.55M187.6 175.7h0.55M184.8 169.2h0.55M192.0 168.5h0.55M196.6 170.3h0.55M169.3 176.1h0.55M184.4 176.0h0.55M195.9 167.3h0.55M171.7 164.1h0.55M181.1 175.9h0.55M179.6 163.8h0.55M190.6 177.0h0.55M186.9 174.5h0.55M179.2 173.2h0.55M164.2 169.6h0.55M201.4 172.5h0.55M179.9 167.9h0.55M196.3 174.7h0.55M185.7 175.4h0.55M180.9 175.0h0.55M162.3 166.8h0.55M180.0 175.3h0.55M172.3 168.7h0.55M183.7 175.1h0.55M180.1 168.4h0.55M188.6 168.6h0.55M197.8 166.7h0.55M188.4 174.3h0.55M178.1 165.0h0.55M175.2 174.9h0.55M179.0 165.0h0.55M167.3 170.0h0.55M184.4 170.9h0.55M186.5 169.7h0.55M180.0 172.9h0.55M191.1 166.5h0.55M175.3 173.1h0.55M194.0 174.3h0.55M186.4 176.6h0.55M181.7 172.9h0.55M182.6 172.5h0.55M195.9 175.2h0.55M187.2 169.8h0.55M195.6 174.5h0.55M176.0 170.8h0.55M188.8 172.3h0.55M180.9 175.6h0.55M188.7 165.0h0.55M176.8 171.6h0.55M177.6 171.3h0.55M188.0 169.9h0.55M180.1 174.2h0.55M186.3 175.4h0.55M176.2 177.4h0.55M196.2 170.1h0.55M182.2 171.9h0.55M197.3 170.8h0.55M186.7 173.1h0.55M180.5 169.8h0.55M169.3 174.9h0.55M182.3 176.9h0.55M182.5 173.0h0.55M186.9 174.7h0.55M176.2 172.5h0.55M189.6 173.6h0.55M183.4 166.5h0.55M188.1 169.9h0.55M187.8 171.7h0.55M186.2 176.0h0.55M175.1 174.1h0.55M193.1 172.8h0.55M184.9 168.1h0.55M192.1 168.4h0.55M172.5 171.9h0.55M184.9 167.4h0.55M182.8 165.2h0.55M194.4 173.4h0.55M194.6 170.5h0.55M174.4 173.9h0.55M170.0 171.4h0.55M180.1 177.0h0.55M183.8 174.7h0.55M178.7 172.0h0.55M173.1 175.3h0.55M183.7 176.5h0.55M186.9 173.9h0.55M176.1 169.9h0.55M194.1 162.9h0.55M165.8 166.1h0.55M183.2 171.7h0.55M186.5 173.5h0.55M179.4 170.3h0.55M178.6 172.2h0.55M172.9 172.5h0.55M185.8 174.9h0.55M189.4 167.4h0.55M184.6 175.9h0.55M182.3 176.8h0.55M180.7 164.9h0.55M184.1 171.2h0.55M182.8 172.6h0.55M178.7 176.7h0.55M184.3 171.2h0.55M178.5 171.5h0.55M176.8 172.4h0.55M191.0 167.5h0.55M187.4 175.1h0.55M176.7 174.7h0.55M189.5 174.5h0.55M189.4 165.6h0.55M184.6 171.6h0.55M180.7 168.9h0.55M188.3 171.8h0.55M191.8 172.4h0.55M193.1 172.0h0.55M182.2 173.1h0.55M182.9 167.3h0.55M191.3 174.8h0.55M186.6 172.1h0.55M176.0 177.4h0.55M186.3 167.6h0.55M194.9 169.7h0.55M185.0 176.8h0.55M181.9 175.2h0.55M190.5 171.3h0.55" stroke="#777" stroke-width="0.55" fill="none" opacity="0.8"/>
<path d="M194.5 176.6h0.65M190.1 176.6h0.65M174.1 176.7h0.65M182.3 176.8h0.65M184.2 176.9h0.65M178.7 178.3h0.65M182.1 178.0h0.65M169.0 177.9h0.65M178.7 177.8h0.65M184.7 176.1h0.65M183.9 177.0h0.65M183.5 177.4h0.65M183.7 177.9h0.65M185.8 177.3h0.65M178.6 177.2h0.65M196.6 176.6h0.65M196.8 175.5h0.65M192.3 176.8h0.65M192.1 175.2h0.65M173.3 178.3h0.65M194.6 176.7h0.65M178.3 177.1h0.65M185.9 177.5h0.65M176.4 178.5h0.65M183.0 177.5h0.65M170.1 178.2h0.65M184.2 176.1h0.65M193.1 176.8h0.65M178.6 178.1h0.65M181.4 178.2h0.65M188.8 177.2h0.65M190.4 175.5h0.65M176.5 177.1h0.65M172.6 178.2h0.65M192.0 176.3h0.65M180.2 178.1h0.65M179.7 178.1h0.65M185.3 177.6h0.65M180.9 177.6h0.65M177.9 178.0h0.65M203.3 175.9h0.65M175.1 176.8h0.65M191.5 177.0h0.65M180.8 178.1h0.65M186.1 176.7h0.65M185.5 175.6h0.65M177.9 177.5h0.65M181.4 178.1h0.65M182.4 178.1h0.65M191.6 174.7h0.65M182.1 177.8h0.65M182.5 178.0h0.65M181.1 177.8h0.65M186.2 176.4h0.65M185.3 177.8h0.65M182.7 176.8h0.65M178.2 178.5h0.65M190.0 177.4h0.65M179.1 178.3h0.65M189.9 177.5h0.65M190.6 175.9h0.65M186.4 176.7h0.65M172.9 179.0h0.65M187.6 177.2h0.65M191.4 177.3h0.65M170.1 178.5h0.65M190.0 177.0h0.65M181.6 178.2h0.65M184.6 176.7h0.65M190.5 175.6h0.65M188.2 177.5h0.65M164.2 179.3h0.65M187.5 177.1h0.65M185.8 177.0h0.65M185.5 177.8h0.65M184.8 177.1h0.65M186.1 177.5h0.65M178.7 176.6h0.65M195.2 176.7h0.65M191.0 177.0h0.65M185.1 177.4h0.65M184.9 176.3h0.65M181.6 178.0h0.65M184.0 177.7h0.65M193.4 176.4h0.65M169.4 178.9h0.65M188.5 177.5h0.65M184.3 177.3h0.65M178.9 177.5h0.65M174.2 178.7h0.65M179.3 178.3h0.65M177.3 176.4h0.65M191.0 177.0h0.65M190.8 176.1h0.65M174.0 178.1h0.65M177.1 176.3h0.65M177.4 178.0h0.65M195.1 176.7h0.65M183.0 177.7h0.65M186.4 177.6h0.65M196.8 175.8h0.65M176.7 176.5h0.65M176.7 177.6h0.65M180.9 177.9h0.65M193.1 176.4h0.65M181.5 178.1h0.65M180.1 178.1h0.65M183.5 176.0h0.65M177.1 177.5h0.65M187.1 176.7h0.65M178.4 178.2h0.65M177.9 177.2h0.65M188.2 177.1h0.65M183.4 177.4h0.65M193.5 177.1h0.65M185.3 177.0h0.65M194.0 177.1h0.65M180.1 176.8h0.65M186.3 177.4h0.65M189.9 176.9h0.65M183.6 177.1h0.65M177.2 178.4h0.65M183.9 177.7h0.65M178.0 177.4h0.65M182.4 177.2h0.65M185.2 177.8h0.65M185.2 177.8h0.65M177.6 178.2h0.65M185.5 176.6h0.65M186.1 177.8h0.65M196.6 176.4h0.65M192.4 176.6h0.65M177.0 178.6h0.65M189.1 176.3h0.65M192.9 176.7h0.65M187.0 177.5h0.65M186.8 177.0h0.65M193.8 176.3h0.65M194.3 176.7h0.65M178.8 177.7h0.65M184.9 177.6h0.65M176.9 178.3h0.65M183.4 177.2h0.65M176.8 177.6h0.65M177.8 177.5h0.65M189.2 177.0h0.65M177.7 178.4h0.65M187.0 177.1h0.65M183.1 177.1h0.65M182.5 177.7h0.65M191.5 177.2h0.65M183.7 177.0h0.65M190.3 177.3h0.65M182.1 178.0h0.65M192.4 177.1h0.65M183.0 178.1h0.65M184.6 177.0h0.65M182.3 177.7h0.65M179.7 178.3h0.65M176.1 178.1h0.65M174.5 178.7h0.65M182.7 177.9h0.65M180.6 177.3h0.65M185.3 175.5h0.65M177.5 177.0h0.65M185.5 176.4h0.65M195.6 176.9h0.65M178.2 178.2h0.65M178.7 178.5h0.65M185.6 176.3h0.65M183.1 177.9h0.65M182.7 175.8h0.65M183.4 177.2h0.65M179.3 178.0h0.65M200.6 175.6h0.65M187.4 177.2h0.65M187.5 176.7h0.65M182.6 176.6h0.65M186.2 177.6h0.65M187.3 177.7h0.65M183.3 177.6h0.65M179.3 178.0h0.65M182.2 175.5h0.65M190.6 177.3h0.65M182.5 177.7h0.65M174.9 177.5h0.65M186.9 177.4h0.65M190.9 175.5h0.65M181.1 176.6h0.65M192.0 176.7h0.65M194.1 176.9h0.65M185.9 177.0h0.65M194.2 177.1h0.65M192.8 177.2h0.65M180.9 177.6h0.65M190.4 174.9h0.65M181.6 177.7h0.65M190.8 177.4h0.65M179.6 178.1h0.65M181.8 175.3h0.65M172.9 178.6h0.65M179.4 177.8h0.65M189.6 174.9h0.65M184.8 176.3h0.65M190.7 175.4h0.65M191.5 177.0h0.65M183.9 178.0h0.65M178.9 178.3h0.65M203.4 176.3h0.65M179.5 176.2h0.65M190.1 177.4h0.65M186.3 176.3h0.65M181.2 177.2h0.65M193.9 176.1h0.65M184.9 176.8h0.65M174.4 178.2h0.65M177.6 178.6h0.65M174.7 178.7h0.65M184.0 177.1h0.65M185.4 176.9h0.65M181.8 177.3h0.65M195.9 175.5h0.65M185.5 176.9h0.65M180.7 177.4h0.65M183.2 177.9h0.65M171.2 178.5h0.65M196.1 176.1h0.65M165.7 178.1h0.65M182.8 176.5h0.65M184.6 176.9h0.65M193.1 175.8h0.65M191.3 176.2h0.65M185.9 176.7h0.65M178.8 178.4h0.65M177.8 178.5h0.65M192.8 177.1h0.65M197.4 176.5h0.65M189.0 176.0h0.65M178.5 177.6h0.65M175.4 178.2h0.65M181.6 176.8h0.65M177.3 177.3h0.65M175.9 178.7h0.65M189.3 177.5h0.65M197.2 176.8h0.65M175.9 178.5h0.65M190.6 175.5h0.65M171.1 177.2h0.65M177.0 177.6h0.65M187.2 176.9h0.65M179.4 178.0h0.65M181.1 177.4h0.65M185.7 177.6h0.65M195.0 176.9h0.65M176.5 178.2h0.65M181.3 176.6h0.65M188.6 176.9h0.65M180.2 178.4h0.65M184.4 176.0h0.65M180.4 177.5h0.65M182.0 177.7h0.65M190.1 177.5h0.65M181.0 178.0h0.65M179.3 178.2h0.65M183.7 176.4h0.65M178.1 177.2h0.65M184.4 177.0h0.65M195.7 176.6h0.65M177.0 178.2h0.65M181.5 177.1h0.65M185.1 177.9h0.65M192.6 177.0h0.65M173.5 177.7h0.65M190.8 176.6h0.65M192.8 177.2h0.65M177.8 177.9h0.65M186.0 177.4h0.65M187.3 177.0h0.65M184.4 177.7h0.65M188.2 177.1h0.65M170.5 178.8h0.65M186.8 177.0h0.65M178.5 177.5h0.65M179.0 177.2h0.65M185.5 177.6h0.65M176.0 178.0h0.65M185.7 177.6h0.65M183.4 177.8h0.65M192.6 176.5h0.65M187.7 176.8h0.65M186.9 177.6h0.65M177.1 176.9h0.65M192.9 176.3h0.65M179.3 177.4h0.65M175.7 178.7h0.65M178.4 178.5h0.65M187.1 177.0h0.65M177.0 177.8h0.65M189.8 177.3h0.65M178.9 178.1h0.65M185.8 176.9h0.65M185.4 177.3h0.65M179.6 178.3h0.65M175.3 178.0h0.65M189.6 176.7h0.65M187.8 176.3h0.65M182.6 177.5h0.65M185.1 177.1h0.65M178.5 176.6h0.65M191.9 176.0h0.65M179.2 177.8h0.65M186.5 176.7h0.65M186.9 177.6h0.65M181.3 177.9h0.65M187.3 177.0h0.65M182.5 178.1h0.65M181.8 177.1h0.65M187.5 176.1h0.65M184.3 177.2h0.65M184.4 176.6h0.65M197.9 176.0h0.65M183.2 176.9h0.65M182.9 177.8h0.65M174.7 178.3h0.65M186.5 177.5h0.65M181.8 177.2h0.65M186.0 176.8h0.65M196.5 176.7h0.65M181.2 177.1h0.65M178.8 177.9h0.65" stroke="#111" stroke-width="0.65" fill="none" opacity="0.9"/>
<line x1="159.40" y1="180.50" x2="159.40" y2="181.70" stroke="#444" stroke-width="0.5"/>
<text x="159.40" y="185.30" font-size="3.2" text-anchor="middle" fill="#222" stroke="#222" stroke-width="0.08">0</text>
<line x1="184.45" y1="180.50" x2="184.45" y2="181.70" stroke="#444" stroke-width="0.5"/>
<text x="184.45" y="185.30" font-size="3.2" text-anchor="middle" fill="#222" stroke="#222" stroke-width="0.08">50</text>
<line x1="209.50" y1="180.50" x2="209.50" y2="181.70" stroke="#444" stroke-width="0.5"/>
<text x="209.50" y="185.30" font-size="3.2" text-anchor="middle" fill="#222" stroke="#222" stroke-width="0.08">100</text>
<line x1="157.20" y1="179.00" x2="158.40" y2="179.00" stroke="#444" stroke-width="0.5"/>
<line x1="157.20" y1="154.90" x2="158.40" y2="154.90" stroke="#444" stroke-width="0.5"/>
<line x1="157.20" y1="130.80" x2="158.40" y2="130.80" stroke="#444" stroke-width="0.5"/>
<line x1="157.70" y1="179.00" x2="158.40" y2="179.00" stroke="#444" stroke-width="0.4"/>
<line x1="157.70" y1="172.97" x2="158.40" y2="172.97" stroke="#444" stroke-width="0.4"/>
<line x1="157.70" y1="166.95" x2="158.40" y2="166.95" stroke="#444" stroke-width="0.4"/>
<line x1="157.70" y1="160.93" x2="158.40" y2="160.93" stroke="#444" stroke-width="0.4"/>
<line x1="157.70" y1="154.90" x2="158.40" y2="154.90" stroke="#444" stroke-width="0.4"/>
<line x1="157.70" y1="148.88" x2="158.40" y2="148.88" stroke="#444" stroke-width="0.4"/>
<line x1="157.70" y1="142.85" x2="158.40" y2="142.85" stroke="#444" stroke-width="0.4"/>
<line x1="157.70" y1="136.83" x2="158.40" y2="136.83" stroke="#444" stroke-width="0.4"/>
<line x1="157.70" y1="130.80" x2="158.40" y2="130.80" stroke="#444" stroke-width="0.4"/>
<text x="184.45" y="189.70" font-size="3.4" text-anchor="middle" fill="#222" stroke="#222" stroke-width="0.08">FSC-A</text>
<text x="205.00" y="189.90" font-size="3" text-anchor="middle" fill="#222" stroke="#222" stroke-width="0.08">(x 10⁶)</text>
<rect x="214.00" y="128.30" width="51.60" height="52.20" fill="#fff" stroke="#666" stroke-width="0.5"/>
<text x="239.50" y="125.30" font-size="9.6" text-anchor="middle" fill="#111" textLength="42.00" lengthAdjust="spacingAndGlyphs" stroke="#111" stroke-width="0.2">oxy-gDNA</text>
<path d="M243.9 172.7h0.65M247.4 171.9h0.65M249.3 163.0h0.65M243.5 175.5h0.65M241.7 165.2h0.65M235.8 171.2h0.65M244.7 171.6h0.65M231.4 177.5h0.65M248.6 169.9h0.65M244.9 171.8h0.65M231.6 174.0h0.65M246.4 167.2h0.65M238.4 172.0h0.65M243.1 171.4h0.65M218.7 172.5h0.65M240.9 170.6h0.65M246.3 171.8h0.65M238.2 171.6h0.65M251.8 166.1h0.65M246.0 171.2h0.65M228.3 174.3h0.65M236.8 173.7h0.65M232.4 173.3h0.65M231.0 177.0h0.65M240.1 166.5h0.65M231.2 173.7h0.65M237.4 164.3h0.65M242.2 172.2h0.65M232.7 169.3h0.65M242.6 168.0h0.65M241.9 173.0h0.65M246.3 170.5h0.65M240.2 175.9h0.65M233.0 174.6h0.65M239.1 175.9h0.65M237.4 175.9h0.65M241.1 170.6h0.65M232.7 171.4h0.65M241.8 174.2h0.65M242.5 176.6h0.65M234.3 174.8h0.65M228.7 175.7h0.65M234.3 167.6h0.65M235.6 171.8h0.65M238.2 172.2h0.65M239.9 172.9h0.65M231.1 175.3h0.65M245.7 169.6h0.65M239.9 168.3h0.65M239.8 175.0h0.65M246.4 172.4h0.65M236.0 174.5h0.65M225.8 178.2h0.65M232.9 175.4h0.65M233.1 174.1h0.65M242.4 170.3h0.65M250.4 169.6h0.65M236.4 175.9h0.65M236.6 174.0h0.65M248.6 172.4h0.65M238.5 175.3h0.65M247.6 174.7h0.65M248.4 173.6h0.65M226.1 175.9h0.65M243.6 172.6h0.65M243.2 173.4h0.65M239.2 175.6h0.65M237.2 173.0h0.65M234.8 174.6h0.65M226.5 176.0h0.65M237.4 175.6h0.65M249.8 174.2h0.65M254.1 170.5h0.65M236.5 176.1h0.65M232.6 176.9h0.65M231.5 174.2h0.65M239.8 169.5h0.65M241.0 174.2h0.65M242.0 174.6h0.65M239.0 174.4h0.65M233.9 175.4h0.65M240.1 171.5h0.65M252.9 173.1h0.65M240.6 175.9h0.65M230.3 175.7h0.65M224.7 175.9h0.65M249.2 175.3h0.65M239.4 173.8h0.65M245.5 174.9h0.65M239.8 174.1h0.65M242.9 173.2h0.65M246.9 173.5h0.65M244.9 174.2h0.65M241.3 171.6h0.65M234.0 175.6h0.65M243.5 174.6h0.65M223.3 175.6h0.65M237.1 173.6h0.65M236.5 174.8h0.65M235.3 174.9h0.65M243.7 173.2h0.65M238.6 173.2h0.65M237.8 174.2h0.65M243.3 174.1h0.65M239.3 176.1h0.65M240.7 173.2h0.65M230.2 176.8h0.65M242.7 175.6h0.65M239.4 175.7h0.65M244.8 173.7h0.65M251.8 174.3h0.65M235.0 175.6h0.65M230.1 175.5h0.65M230.2 176.3h0.65M250.1 175.3h0.65M229.6 177.0h0.65M231.6 177.0h0.65M227.1 174.7h0.65M247.8 175.4h0.65M237.1 176.2h0.65M226.7 175.2h0.65M240.3 171.9h0.65M239.5 172.3h0.65M238.1 173.1h0.65M240.1 175.7h0.65M243.8 173.4h0.65M228.1 144.8h0.65M242.3 165.3h0.65M225.1 133.6h0.65" stroke="#1fc067" stroke-width="0.65" fill="none" opacity="0.95"/>
<path d="M227.9 176.1h0.55M228.3 176.8h0.55M245.1 177.7h0.55M229.0 175.9h0.55M234.1 176.4h0.55M243.8 174.1h0.55M231.9 176.9h0.55M238.8 173.4h0.55M253.9 175.4h0.55M250.7 175.8h0.55M238.0 175.2h0.55M242.9 175.4h0.55M231.4 175.2h0.55M241.0 175.0h0.55M233.3 175.9h0.55M240.7 175.9h0.55M245.7 173.9h0.55M226.7 175.1h0.55M250.4 172.2h0.55M243.5 174.5h0.55M238.6 176.6h0.55M236.7 173.6h0.55M243.5 172.4h0.55M230.5 175.0h0.55M240.8 175.9h0.55M237.0 176.0h0.55M241.1 176.2h0.55M241.0 175.9h0.55M233.3 173.6h0.55M237.7 173.9h0.55M242.6 174.7h0.55M242.6 176.8h0.55M237.0 177.1h0.55M242.8 176.9h0.55M242.5 176.8h0.55M229.8 176.1h0.55M232.9 176.2h0.55M248.2 176.5h0.55M244.5 175.9h0.55M243.0 175.6h0.55M231.3 173.6h0.55M248.2 176.2h0.55M236.0 175.5h0.55M242.4 175.9h0.55M235.2 175.3h0.55M238.0 175.3h0.55M239.1 177.6h0.55M242.5 176.5h0.55M238.8 175.1h0.55M245.1 172.9h0.55M230.8 176.6h0.55M226.9 175.7h0.55M238.7 175.2h0.55M232.0 176.8h0.55M240.2 175.7h0.55M239.3 174.5h0.55M230.6 174.6h0.55M225.4 176.5h0.55M235.9 175.6h0.55M226.1 175.1h0.55M237.7 172.5h0.55M233.0 175.3h0.55M247.2 175.3h0.55M240.8 174.9h0.55M240.9 177.2h0.55M252.1 175.6h0.55M243.0 175.3h0.55M236.7 176.0h0.55M247.1 175.3h0.55M229.3 175.9h0.55M239.4 173.5h0.55M244.7 176.0h0.55M263.9 177.4h0.55M237.1 176.7h0.55M245.8 173.9h0.55M247.0 175.2h0.55M238.7 175.0h0.55M236.6 173.3h0.55M247.3 175.4h0.55M243.5 174.3h0.55M219.5 175.0h0.55M243.2 175.5h0.55M226.8 175.1h0.55M226.0 176.6h0.55M229.4 174.0h0.55M238.4 175.9h0.55M234.9 176.3h0.55M249.4 173.5h0.55M251.1 177.0h0.55M217.3 175.5h0.55M237.4 176.7h0.55M238.1 175.6h0.55M245.3 176.2h0.55M247.4 175.8h0.55M236.1 177.0h0.55M236.6 176.6h0.55M245.4 175.8h0.55" stroke="#777" stroke-width="0.55" fill="none" opacity="0.8"/>
<path d="M240.8 176.4h0.65M231.5 177.7h0.65M239.0 177.1h0.65M237.0 177.9h0.65M233.2 177.6h0.65M240.5 176.4h0.65M250.0 174.9h0.65M227.0 178.5h0.65M237.8 177.5h0.65M238.9 176.6h0.65M233.2 177.5h0.65M240.4 176.4h0.65M242.9 175.1h0.65M245.1 176.9h0.65M256.7 175.0h0.65M237.6 177.6h0.65M240.1 176.8h0.65M242.5 177.1h0.65M239.7 177.8h0.65M235.2 177.7h0.65M238.7 177.3h0.65M235.7 178.3h0.65M251.6 176.7h0.65M236.5 177.6h0.65M245.0 177.1h0.65M236.6 178.1h0.65M229.5 177.8h0.65M244.7 175.8h0.65M243.5 177.3h0.65M242.8 177.5h0.65M235.4 177.3h0.65M233.4 177.4h0.65M241.3 176.5h0.65M237.0 178.0h0.65M240.4 177.3h0.65M242.9 176.0h0.65M233.8 178.1h0.65M240.7 177.4h0.65M237.9 177.2h0.65M234.6 178.1h0.65M239.4 177.4h0.65M240.3 176.8h0.65M246.7 175.6h0.65M242.2 177.2h0.65M244.0 176.5h0.65M240.1 177.7h0.65M248.0 176.5h0.65M242.8 176.8h0.65M237.4 178.0h0.65M238.9 176.0h0.65M237.0 176.1h0.65M246.5 175.4h0.65M243.7 176.8h0.65M242.4 177.0h0.65M239.8 177.8h0.65M232.5 178.4h0.65M240.9 177.1h0.65M237.3 177.7h0.65M242.5 175.7h0.65M237.1 178.0h0.65M235.3 178.0h0.65M247.2 176.3h0.65M235.4 178.1h0.65M240.0 176.3h0.65M244.6 177.1h0.65M236.2 177.9h0.65M232.2 178.4h0.65M237.1 176.9h0.65M238.1 178.1h0.65M244.3 176.9h0.65M244.3 176.5h0.65M232.9 177.8h0.65M245.9 176.5h0.65M240.2 177.4h0.65M249.3 175.4h0.65M230.5 177.8h0.65M233.8 178.2h0.65M243.4 176.7h0.65M237.4 176.4h0.65M245.4 176.7h0.65M245.2 177.2h0.65M246.0 177.3h0.65M229.9 178.4h0.65M239.9 177.7h0.65M239.1 177.4h0.65M244.4 176.5h0.65M244.5 176.6h0.65M240.4 177.2h0.65M241.7 177.7h0.65M244.5 176.4h0.65M236.2 177.1h0.65M243.3 177.3h0.65M246.9 177.0h0.65M236.3 177.5h0.65M230.1 177.6h0.65M237.8 176.6h0.65M235.4 178.0h0.65M243.7 177.2h0.65M238.6 177.5h0.65M237.0 176.7h0.65M237.8 177.8h0.65M235.4 177.9h0.65M231.6 178.3h0.65M241.6 177.8h0.65M244.8 175.6h0.65M243.4 177.3h0.65M229.8 178.0h0.65M234.4 176.0h0.65M250.6 175.8h0.65M247.3 176.8h0.65M249.1 176.8h0.65M244.5 177.1h0.65M252.1 176.2h0.65M238.2 176.4h0.65M243.4 177.3h0.65M231.9 177.6h0.65M227.9 178.0h0.65M233.9 178.1h0.65M242.2 177.1h0.65M243.1 177.1h0.65M248.3 176.1h0.65M235.3 178.0h0.65M242.8 177.7h0.65M246.9 175.0h0.65M244.5 177.4h0.65M245.7 177.0h0.65M231.0 177.1h0.65M243.6 176.2h0.65M239.2 177.6h0.65M241.7 177.1h0.65M242.6 176.5h0.65M238.2 177.5h0.65M243.9 176.9h0.65M240.6 177.9h0.65M238.4 178.0h0.65M238.5 178.0h0.65M231.7 178.5h0.65M235.8 178.2h0.65M248.2 174.9h0.65M245.2 175.3h0.65M245.4 177.3h0.65M233.9 178.2h0.65M240.6 177.3h0.65M240.8 176.8h0.65M222.3 178.7h0.65M239.5 177.9h0.65M230.5 177.5h0.65M245.7 176.7h0.65M230.6 177.7h0.65M236.0 177.1h0.65M255.0 175.8h0.65M234.8 178.1h0.65M234.2 177.1h0.65M236.0 176.9h0.65M232.7 177.5h0.65M237.2 177.6h0.65M245.9 176.7h0.65M242.1 177.0h0.65M238.1 177.2h0.65M225.9 177.8h0.65M232.4 178.4h0.65M233.7 177.8h0.65M242.6 176.6h0.65M234.3 178.4h0.65M241.4 177.2h0.65M243.9 177.2h0.65M245.8 177.2h0.65M237.2 178.0h0.65M240.0 176.8h0.65M235.3 177.6h0.65M242.3 176.3h0.65M245.2 176.6h0.65M238.9 176.4h0.65M236.9 177.7h0.65M256.8 175.8h0.65M243.1 177.2h0.65M241.5 177.7h0.65M234.5 177.9h0.65M235.4 176.7h0.65M244.9 177.4h0.65M243.4 177.3h0.65M244.5 177.5h0.65M230.6 177.3h0.65M243.6 177.2h0.65M245.9 176.6h0.65M237.9 177.9h0.65M243.7 177.4h0.65M238.3 177.9h0.65M228.9 179.0h0.65M244.7 177.5h0.65M232.8 177.9h0.65M239.0 176.5h0.65M234.9 178.1h0.65M235.2 177.6h0.65M246.4 176.8h0.65M232.3 177.9h0.65M232.9 178.5h0.65M235.7 177.2h0.65M244.9 177.5h0.65M223.7 179.4h0.65M242.8 176.5h0.65M238.6 177.5h0.65M234.4 177.9h0.65M235.6 178.0h0.65M232.1 178.5h0.65M246.8 176.4h0.65M238.8 177.4h0.65M239.8 177.7h0.65M231.0 178.5h0.65M233.1 177.9h0.65M238.4 177.9h0.65M246.5 177.0h0.65M248.1 176.5h0.65M235.5 178.1h0.65M245.6 176.4h0.65M240.3 176.9h0.65M243.9 177.2h0.65M237.1 176.5h0.65M229.8 177.6h0.65M238.8 177.9h0.65M243.3 175.6h0.65M239.1 177.6h0.65M238.5 177.1h0.65M238.5 178.1h0.65M246.2 176.8h0.65M239.7 177.7h0.65M227.4 178.1h0.65M237.5 176.2h0.65M246.0 176.3h0.65M244.6 177.2h0.65M234.4 178.0h0.65M240.3 177.6h0.65M245.6 176.3h0.65M237.8 177.1h0.65M242.1 177.4h0.65M236.8 177.7h0.65M248.6 176.1h0.65M245.3 177.2h0.65M234.6 178.4h0.65M231.1 176.7h0.65M258.5 175.7h0.65M245.6 176.8h0.65M232.9 176.7h0.65M227.7 178.1h0.65M241.2 177.0h0.65M234.0 177.3h0.65M242.1 177.1h0.65M240.8 177.4h0.65M257.1 174.4h0.65M242.8 176.6h0.65M239.6 176.4h0.65M233.1 178.1h0.65M242.9 177.2h0.65M236.7 177.5h0.65M237.4 177.6h0.65M240.7 175.8h0.65M242.5 175.4h0.65M240.5 177.3h0.65M228.6 178.9h0.65M241.3 177.2h0.65M231.9 178.6h0.65M244.2 177.5h0.65M239.3 176.5h0.65M232.5 178.2h0.65M234.4 178.3h0.65M248.2 176.4h0.65M240.7 176.8h0.65M241.2 175.9h0.65M235.9 176.6h0.65M241.5 177.8h0.65M245.9 177.0h0.65M241.5 176.2h0.65M246.2 176.6h0.65M248.0 176.4h0.65M236.7 177.4h0.65M238.2 176.3h0.65M236.6 177.6h0.65M239.6 177.3h0.65M242.4 176.4h0.65M240.6 176.5h0.65M248.9 177.0h0.65M232.1 178.4h0.65M235.4 178.0h0.65M236.1 176.6h0.65M246.2 175.0h0.65M237.1 177.1h0.65M232.5 177.7h0.65M231.4 176.7h0.65M239.7 177.0h0.65M239.5 177.7h0.65M241.0 176.8h0.65M238.3 177.9h0.65M227.1 179.1h0.65M238.1 176.4h0.65M240.3 176.4h0.65M236.1 177.9h0.65M236.2 177.1h0.65M246.8 177.1h0.65M231.9 176.9h0.65M236.0 177.7h0.65M237.8 177.7h0.65M244.4 175.6h0.65M229.4 178.5h0.65M241.3 176.7h0.65M240.7 176.0h0.65M234.9 177.8h0.65M236.7 177.8h0.65M242.0 176.2h0.65M238.7 177.6h0.65M234.9 177.7h0.65M245.6 177.4h0.65M226.8 177.6h0.65M238.6 177.0h0.65M236.4 177.9h0.65M243.7 176.7h0.65M238.0 177.8h0.65M236.2 178.2h0.65M235.4 177.8h0.65M234.6 176.9h0.65M235.0 177.9h0.65M243.4 177.3h0.65M232.0 177.4h0.65M250.2 174.9h0.65M244.7 177.0h0.65M231.2 178.4h0.65M237.1 177.4h0.65M238.6 176.9h0.65M232.8 178.1h0.65M244.8 176.8h0.65M238.8 177.5h0.65" stroke="#111" stroke-width="0.65" fill="none" opacity="0.9"/>
<line x1="215.00" y1="180.50" x2="215.00" y2="181.70" stroke="#444" stroke-width="0.5"/>
<text x="215.00" y="185.30" font-size="3.2" text-anchor="middle" fill="#222" stroke="#222" stroke-width="0.08">0</text>
<line x1="239.80" y1="180.50" x2="239.80" y2="181.70" stroke="#444" stroke-width="0.5"/>
<text x="239.80" y="185.30" font-size="3.2" text-anchor="middle" fill="#222" stroke="#222" stroke-width="0.08">50</text>
<line x1="264.60" y1="180.50" x2="264.60" y2="181.70" stroke="#444" stroke-width="0.5"/>
<text x="264.60" y="185.30" font-size="3.2" text-anchor="middle" fill="#222" stroke="#222" stroke-width="0.08">100</text>
<line x1="212.80" y1="179.00" x2="214.00" y2="179.00" stroke="#444" stroke-width="0.5"/>
<line x1="212.80" y1="154.90" x2="214.00" y2="154.90" stroke="#444" stroke-width="0.5"/>
<line x1="212.80" y1="130.80" x2="214.00" y2="130.80" stroke="#444" stroke-width="0.5"/>
<line x1="213.30" y1="179.00" x2="214.00" y2="179.00" stroke="#444" stroke-width="0.4"/>
<line x1="213.30" y1="172.97" x2="214.00" y2="172.97" stroke="#444" stroke-width="0.4"/>
<line x1="213.30" y1="166.95" x2="214.00" y2="166.95" stroke="#444" stroke-width="0.4"/>
<line x1="213.30" y1="160.93" x2="214.00" y2="160.93" stroke="#444" stroke-width="0.4"/>
<line x1="213.30" y1="154.90" x2="214.00" y2="154.90" stroke="#444" stroke-width="0.4"/>
<line x1="213.30" y1="148.88" x2="214.00" y2="148.88" stroke="#444" stroke-width="0.4"/>
<line x1="213.30" y1="142.85" x2="214.00" y2="142.85" stroke="#444" stroke-width="0.4"/>
<line x1="213.30" y1="136.83" x2="214.00" y2="136.83" stroke="#444" stroke-width="0.4"/>
<line x1="213.30" y1="130.80" x2="214.00" y2="130.80" stroke="#444" stroke-width="0.4"/>
<text x="239.80" y="189.70" font-size="3.4" text-anchor="middle" fill="#222" stroke="#222" stroke-width="0.08">FSC-A</text>
<text x="260.10" y="189.90" font-size="3" text-anchor="middle" fill="#222" stroke="#222" stroke-width="0.08">(x 10⁶)</text>
<rect x="269.70" y="128.30" width="51.10" height="52.20" fill="#fff" stroke="#666" stroke-width="0.5"/>
<text x="296.15" y="125.30" font-size="9.6" text-anchor="middle" fill="#111" textLength="31.30" lengthAdjust="spacingAndGlyphs" stroke="#111" stroke-width="0.2">gc-DNA</text>
<path d="M292.3 175.6h0.65M296.7 165.4h0.65M297.5 174.0h0.65M303.2 166.3h0.65M299.0 164.4h0.65M286.3 173.3h0.65M291.0 175.5h0.65M301.3 171.5h0.65M288.4 177.5h0.65M303.2 152.1h0.65M289.5 164.5h0.65M295.1 148.8h0.65M290.9 176.0h0.65M286.9 173.6h0.65M288.5 176.9h0.65M291.9 174.6h0.65M300.5 174.0h0.65M289.1 170.0h0.65M290.8 163.7h0.65M290.7 165.3h0.65M285.1 178.2h0.65M299.1 158.8h0.65M297.6 172.1h0.65M286.8 170.2h0.65M298.4 173.6h0.65M306.8 174.9h0.65M300.3 174.1h0.65M293.3 175.5h0.65M295.3 175.6h0.65M297.7 154.9h0.65M287.9 160.5h0.65M286.4 175.7h0.65M286.6 173.5h0.65M307.7 166.1h0.65M302.1 157.1h0.65M301.3 164.9h0.65M306.1 173.8h0.65M292.9 169.7h0.65M289.4 160.1h0.65M288.0 170.4h0.65M301.9 170.8h0.65M293.7 175.0h0.65M305.7 175.1h0.65M290.0 176.6h0.65M294.3 172.1h0.65M304.3 174.7h0.65M290.6 172.7h0.65M302.9 171.0h0.65M293.8 162.4h0.65M292.1 175.3h0.65M297.8 170.9h0.65M289.6 174.4h0.65M292.4 175.8h0.65M296.3 170.6h0.65M312.2 172.8h0.65M285.4 172.9h0.65M292.8 172.1h0.65M292.4 167.5h0.65M297.9 169.0h0.65M299.1 173.3h0.65M300.3 156.9h0.65M295.8 174.1h0.65M285.2 173.1h0.65M294.0 164.4h0.65M296.0 161.6h0.65M290.9 166.7h0.65M296.1 169.6h0.65M295.2 172.2h0.65M293.3 171.9h0.65M301.1 157.2h0.65M294.3 171.5h0.65M289.3 173.6h0.65M302.5 170.2h0.65M289.2 176.0h0.65M282.9 176.3h0.65M298.4 172.7h0.65M286.8 170.0h0.65M301.0 176.2h0.65M302.0 169.3h0.65M290.2 175.5h0.65M290.6 174.1h0.65M295.2 175.6h0.65M286.9 166.7h0.65M289.1 167.3h0.65M288.2 170.9h0.65M298.1 174.3h0.65M299.2 170.0h0.65M293.3 159.1h0.65M289.8 162.8h0.65M292.5 173.4h0.65M297.9 176.5h0.65M300.0 155.8h0.65M292.2 176.1h0.65M290.3 172.3h0.65M287.3 174.7h0.65M297.0 173.2h0.65M293.2 175.6h0.65M294.6 169.7h0.65M295.1 170.8h0.65M302.7 160.4h0.65M295.4 157.4h0.65M308.4 161.3h0.65M295.4 168.9h0.65M301.8 156.0h0.65M294.2 164.4h0.65M296.9 174.7h0.65M297.1 174.1h0.65M293.9 159.2h0.65M294.9 169.1h0.65M298.8 167.2h0.65M284.1 150.9h0.65M302.9 158.6h0.65M301.1 173.7h0.65M304.6 175.0h0.65M291.1 173.0h0.65M284.3 174.2h0.65M292.3 172.8h0.65M286.4 169.2h0.65M291.6 174.8h0.65M293.0 176.3h0.65M302.3 162.9h0.65M286.7 162.3h0.65M297.1 176.1h0.65M308.2 152.5h0.65M294.9 172.4h0.65M304.4 175.6h0.65M297.4 175.2h0.65M302.4 172.8h0.65M297.4 175.2h0.65M299.5 168.5h0.65M297.2 173.4h0.65M289.0 167.2h0.65M295.1 169.5h0.65M294.6 167.1h0.65M310.6 153.1h0.65M291.3 175.0h0.65M298.5 175.7h0.65M301.5 165.2h0.65M292.1 172.6h0.65M301.7 159.2h0.65M307.2 173.7h0.65M287.1 174.8h0.65M295.0 158.7h0.65M299.2 170.8h0.65M284.9 167.8h0.65M306.3 153.3h0.65M297.6 174.3h0.65M298.5 168.6h0.65M296.9 168.2h0.65M298.7 164.7h0.65M285.0 162.6h0.65M294.0 176.2h0.65M292.2 159.4h0.65M303.9 164.6h0.65M295.5 172.0h0.65M292.9 161.3h0.65M302.9 158.7h0.65M298.5 168.1h0.65M295.4 173.6h0.65M294.7 176.8h0.65M299.7 170.5h0.65M307.0 161.0h0.65M295.9 162.9h0.65M288.6 175.6h0.65M304.9 165.0h0.65M297.8 174.2h0.65M293.5 169.2h0.65M294.0 171.8h0.65M281.0 174.2h0.65M297.3 176.4h0.65M300.3 175.3h0.65M290.6 174.5h0.65M296.4 173.3h0.65M294.6 175.0h0.65M298.5 164.6h0.65M291.6 171.6h0.65M297.5 170.6h0.65M297.1 174.7h0.65M296.9 174.0h0.65M301.7 172.2h0.65M298.0 158.2h0.65M296.2 172.2h0.65M288.9 175.0h0.65M297.1 170.5h0.65M300.7 154.2h0.65M298.7 174.2h0.65M302.7 173.2h0.65M297.7 165.2h0.65M286.7 161.5h0.65M295.7 177.1h0.65M302.0 174.3h0.65M306.7 171.0h0.65M296.5 169.4h0.65M294.7 174.9h0.65M292.5 168.2h0.65M300.6 175.0h0.65M283.9 176.9h0.65M299.6 170.8h0.65M292.4 175.2h0.65M281.0 177.2h0.65M285.8 173.8h0.65M297.7 173.3h0.65M302.2 174.1h0.65M298.3 171.6h0.65M286.5 175.8h0.65M292.9 174.0h0.65M284.2 176.8h0.65M308.5 170.0h0.65M289.1 174.1h0.65M283.9 175.9h0.65M295.7 173.5h0.65M294.8 171.8h0.65M295.1 176.2h0.65M297.9 175.3h0.65M286.3 174.8h0.65M293.9 175.7h0.65M288.0 175.3h0.65M290.8 176.0h0.65M292.7 175.1h0.65M297.6 173.9h0.65M293.5 173.4h0.65M295.9 174.3h0.65M289.4 172.4h0.65M298.3 175.4h0.65M295.1 175.3h0.65M297.5 173.8h0.65M292.5 171.0h0.65M292.4 175.9h0.65M292.8 175.6h0.65M293.8 173.2h0.65M291.5 176.8h0.65M293.1 171.1h0.65M289.6 174.4h0.65M293.0 174.7h0.65M295.3 176.0h0.65M286.5 171.9h0.65M294.0 175.9h0.65M305.8 174.5h0.65M297.8 173.7h0.65M289.9 173.7h0.65M293.1 172.8h0.65M301.2 174.4h0.65M287.8 174.7h0.65M301.8 173.0h0.65M304.9 173.5h0.65M299.7 175.5h0.65M293.3 175.0h0.65M299.4 174.4h0.65M300.1 175.3h0.65M290.2 171.3h0.65M305.5 175.0h0.65M288.4 173.2h0.65M296.1 176.2h0.65M300.4 175.0h0.65M295.9 171.2h0.65M283.9 175.8h0.65M289.3 176.8h0.65M294.2 175.8h0.65M280.8 176.0h0.65M309.2 174.1h0.65M300.7 174.3h0.65M297.0 175.0h0.65M299.1 175.4h0.65M303.9 173.5h0.65M291.0 169.2h0.65M304.3 174.3h0.65M296.3 174.8h0.65M310.3 171.6h0.65M295.8 175.4h0.65M298.7 172.6h0.65M298.4 173.7h0.65M296.8 175.4h0.65M287.6 176.8h0.65M295.6 176.2h0.65M293.8 175.8h0.65M291.8 176.2h0.65M287.4 171.1h0.65M289.9 173.8h0.65M292.0 175.6h0.65M288.8 170.7h0.65M305.2 172.9h0.65M293.0 175.2h0.65M288.5 172.8h0.65M297.3 174.7h0.65M291.1 176.8h0.65M276.6 177.8h0.65M301.6 175.4h0.65M296.3 174.8h0.65M282.6 174.2h0.65M287.6 176.5h0.65M291.4 171.9h0.65M300.7 175.4h0.65M301.3 170.7h0.65M285.2 174.0h0.65M301.8 172.2h0.65M297.7 175.3h0.65M299.5 174.3h0.65M287.5 175.2h0.65M301.3 174.8h0.65M289.7 175.7h0.65M291.7 175.4h0.65M300.0 175.9h0.65M293.4 172.0h0.65M292.7 174.1h0.65M291.9 175.8h0.65M296.2 167.2h0.65M289.9 175.5h0.65M288.3 176.4h0.65M293.5 174.0h0.65M283.4 175.2h0.65M299.2 174.7h0.65M291.1 176.3h0.65M298.4 175.7h0.65M294.3 176.5h0.65M288.6 176.3h0.65M298.8 176.0h0.65M288.3 177.1h0.65M294.6 175.7h0.65M292.7 174.5h0.65M301.8 173.7h0.65M296.7 173.1h0.65M295.0 176.0h0.65M286.5 177.2h0.65M302.6 173.3h0.65M300.0 172.7h0.65M297.1 171.5h0.65M295.5 173.4h0.65M297.0 175.9h0.65M300.1 174.6h0.65M284.7 176.2h0.65M298.8 173.4h0.65M296.9 176.2h0.65M299.4 175.5h0.65M292.5 176.1h0.65M314.7 154.2h0.65M311.3 143.1h0.65M293.6 142.0h0.65M299.3 163.7h0.65M298.6 157.9h0.65M286.7 175.3h0.65M273.6 138.2h0.65M302.8 176.2h0.65M310.9 141.9h0.65M315.2 151.9h0.65M298.5 160.9h0.65" stroke="#1fc067" stroke-width="0.65" fill="none" opacity="0.95"/>
<path d="M290.5 175.7h0.55M282.9 172.8h0.55M292.9 175.6h0.55M301.8 172.9h0.55M291.2 174.4h0.55M309.3 174.0h0.55M306.2 175.3h0.55M289.3 175.3h0.55M302.3 173.0h0.55M283.7 174.4h0.55M298.4 174.3h0.55M289.8 172.1h0.55M287.1 172.2h0.55M295.1 174.6h0.55M306.0 169.5h0.55M299.8 173.5h0.55M290.9 171.2h0.55M285.6 177.5h0.55M299.2 174.5h0.55M296.0 176.2h0.55M299.8 175.6h0.55M281.9 172.7h0.55M306.0 172.9h0.55M312.9 175.2h0.55M286.1 175.6h0.55M292.7 175.2h0.55M291.8 176.4h0.55M298.3 172.9h0.55M295.4 175.3h0.55M305.8 176.5h0.55M290.8 176.2h0.55M293.2 176.2h0.55M286.5 170.4h0.55M295.2 176.0h0.55M296.8 175.9h0.55M296.3 177.2h0.55M302.7 176.1h0.55M300.3 172.2h0.55M292.4 174.9h0.55M298.7 173.8h0.55M294.4 172.8h0.55M304.9 177.6h0.55M289.6 172.2h0.55M284.6 173.9h0.55M286.1 174.4h0.55M296.3 174.6h0.55M289.1 176.0h0.55M303.7 177.4h0.55M296.0 175.1h0.55M301.5 172.3h0.55M296.4 173.0h0.55M288.8 172.3h0.55M296.3 173.1h0.55M303.1 174.5h0.55M294.6 175.8h0.55M305.3 176.1h0.55M285.8 176.5h0.55M297.8 172.8h0.55M278.2 176.6h0.55M295.1 175.5h0.55M300.1 176.7h0.55M291.9 174.2h0.55M293.2 175.2h0.55M286.1 172.4h0.55M303.6 173.5h0.55M282.2 174.1h0.55M298.7 174.1h0.55M299.8 175.6h0.55M291.7 173.0h0.55M286.3 175.8h0.55M277.6 172.0h0.55M289.5 171.7h0.55M287.5 175.0h0.55M298.5 174.3h0.55M293.1 173.0h0.55M284.2 171.3h0.55M298.0 175.6h0.55M310.1 174.3h0.55M286.7 175.0h0.55M290.3 175.8h0.55M307.3 173.8h0.55M293.4 170.2h0.55M303.9 172.8h0.55M287.3 175.7h0.55M297.2 174.0h0.55M299.0 176.1h0.55M293.1 177.5h0.55M291.3 173.0h0.55M287.8 172.8h0.55M309.9 177.2h0.55M285.5 174.9h0.55M289.1 175.5h0.55M287.5 170.6h0.55M284.7 170.6h0.55M282.5 173.5h0.55M304.4 175.7h0.55M297.5 172.3h0.55M286.0 175.2h0.55M300.2 172.7h0.55M293.1 173.2h0.55M294.5 175.7h0.55M301.4 174.9h0.55M300.3 177.1h0.55M290.2 174.8h0.55M296.8 174.8h0.55M293.7 173.1h0.55M280.4 177.6h0.55M296.3 174.6h0.55M292.5 173.5h0.55M299.4 172.8h0.55M293.0 177.1h0.55M302.7 168.6h0.55" stroke="#777" stroke-width="0.55" fill="none" opacity="0.8"/>
<path d="M286.3 177.4h0.65M299.4 177.1h0.65M299.2 177.1h0.65M293.9 177.6h0.65M292.0 177.6h0.65M303.9 177.1h0.65M283.8 177.3h0.65M302.5 176.2h0.65M294.6 177.9h0.65M292.4 178.1h0.65M297.9 177.7h0.65M290.4 177.5h0.65M304.9 175.4h0.65M288.0 178.0h0.65M295.0 177.4h0.65M294.5 177.8h0.65M297.3 176.6h0.65M287.6 177.6h0.65M297.8 177.2h0.65M286.4 178.6h0.65M293.7 177.5h0.65M299.2 176.9h0.65M287.6 177.4h0.65M295.6 177.0h0.65M295.1 177.3h0.65M310.5 175.9h0.65M299.7 177.1h0.65M293.9 177.0h0.65M297.8 176.0h0.65M302.2 176.3h0.65M286.2 177.6h0.65M298.7 177.4h0.65M293.5 177.6h0.65M305.7 176.9h0.65M287.1 177.8h0.65M294.7 177.7h0.65M292.9 178.2h0.65M284.2 178.5h0.65M291.2 178.0h0.65M297.0 176.5h0.65M282.6 179.0h0.65M298.4 176.7h0.65M289.8 178.2h0.65M297.5 176.8h0.65M291.5 178.2h0.65M292.2 177.1h0.65M301.5 177.0h0.65M294.4 177.8h0.65M289.9 178.4h0.65M300.2 176.7h0.65M291.2 177.7h0.65M294.5 176.6h0.65M297.0 177.7h0.65M287.3 178.5h0.65M291.3 178.1h0.65M290.0 177.1h0.65M289.5 177.7h0.65M296.4 176.4h0.65M294.8 178.0h0.65M295.5 176.1h0.65M309.2 176.5h0.65M293.3 177.1h0.65M294.3 176.5h0.65M290.7 178.0h0.65M301.2 176.5h0.65M292.8 176.5h0.65M297.5 177.2h0.65M293.2 177.8h0.65M305.4 175.5h0.65M292.1 177.7h0.65M286.0 178.2h0.65M290.5 177.2h0.65M284.9 177.6h0.65M296.7 176.3h0.65M283.4 178.5h0.65M288.1 177.7h0.65M294.2 177.6h0.65M291.4 178.1h0.65M299.3 177.5h0.65M299.4 177.0h0.65M298.0 176.5h0.65M287.0 175.8h0.65M293.2 177.9h0.65M294.2 177.6h0.65M288.1 178.6h0.65M291.7 176.9h0.65M285.0 178.3h0.65M293.3 177.4h0.65M295.9 177.7h0.65M295.4 177.7h0.65M302.2 177.0h0.65M304.9 174.4h0.65M305.8 175.8h0.65M304.3 177.0h0.65M296.8 176.9h0.65M303.0 176.1h0.65M290.5 178.4h0.65M296.5 177.5h0.65M288.3 178.3h0.65M298.0 176.6h0.65M299.6 177.2h0.65M293.6 177.6h0.65M292.1 178.2h0.65M298.2 177.2h0.65M307.2 175.9h0.65M299.9 177.4h0.65M294.3 177.7h0.65M304.1 176.9h0.65M298.4 177.6h0.65M299.5 177.0h0.65M304.8 176.4h0.65M290.3 176.8h0.65M302.6 177.2h0.65M293.5 177.9h0.65M302.8 176.6h0.65M303.6 177.2h0.65M293.0 177.8h0.65M282.9 178.8h0.65M287.4 178.2h0.65M289.9 178.2h0.65M299.4 177.6h0.65M296.3 177.5h0.65M304.5 176.6h0.65M304.3 177.1h0.65M297.2 177.2h0.65M298.6 176.9h0.65M297.9 177.1h0.65M293.1 177.0h0.65M296.0 177.1h0.65M293.7 176.3h0.65M303.8 177.0h0.65M291.3 177.4h0.65M288.5 177.9h0.65M301.9 176.7h0.65M301.8 177.1h0.65M293.9 178.0h0.65M292.2 177.2h0.65M301.6 177.3h0.65M298.7 177.1h0.65M305.0 175.6h0.65M301.1 176.5h0.65M293.3 178.1h0.65M293.1 177.0h0.65M288.4 178.0h0.65M302.7 176.7h0.65M292.3 177.8h0.65M282.7 178.1h0.65M301.6 176.5h0.65M285.6 178.7h0.65M286.4 178.3h0.65M290.0 177.5h0.65M294.5 176.7h0.65M290.6 177.8h0.65M290.2 177.2h0.65M289.3 178.2h0.65M291.7 177.7h0.65M286.8 177.3h0.65M298.1 176.3h0.65M287.0 178.5h0.65M292.2 177.4h0.65M300.8 177.4h0.65M287.0 178.6h0.65M303.0 176.6h0.65M292.1 177.5h0.65M296.1 177.4h0.65M300.4 176.7h0.65M286.6 178.3h0.65M276.6 178.8h0.65M296.8 177.6h0.65M291.8 177.9h0.65M298.2 174.0h0.65M290.4 178.3h0.65M292.5 177.7h0.65M295.2 177.4h0.65M304.7 176.9h0.65M293.5 177.8h0.65M307.4 176.5h0.65M305.1 175.9h0.65M279.1 178.5h0.65M289.4 178.1h0.65M302.9 177.2h0.65M296.1 175.8h0.65M297.2 175.7h0.65M289.9 176.8h0.65M292.2 175.9h0.65M290.3 178.0h0.65M294.9 177.3h0.65M299.2 177.1h0.65M290.8 176.6h0.65M302.2 177.3h0.65M291.8 178.3h0.65M293.9 177.5h0.65M295.1 177.4h0.65M298.9 177.0h0.65M298.0 177.4h0.65M296.1 177.4h0.65M289.1 176.0h0.65M291.1 177.6h0.65M295.3 177.6h0.65M305.4 176.0h0.65M293.6 177.6h0.65M299.2 176.1h0.65M301.1 177.3h0.65M293.7 177.0h0.65M296.7 177.0h0.65M292.9 177.5h0.65M295.9 177.5h0.65M288.0 177.5h0.65M310.0 176.1h0.65M288.8 177.6h0.65M296.7 177.2h0.65M304.1 174.8h0.65M306.0 176.8h0.65M296.0 177.5h0.65M293.1 177.9h0.65M301.4 175.7h0.65M294.5 177.5h0.65M285.5 178.7h0.65M304.2 176.8h0.65M299.3 176.9h0.65M296.5 177.5h0.65M290.4 178.2h0.65M306.0 175.8h0.65M294.2 176.9h0.65M292.1 177.5h0.65M288.0 178.4h0.65M289.6 178.0h0.65M305.8 174.5h0.65M294.2 176.0h0.65M294.5 177.7h0.65M296.4 176.7h0.65M296.1 176.2h0.65M304.0 176.3h0.65M294.7 177.7h0.65M290.0 178.4h0.65M304.0 175.5h0.65M285.4 178.5h0.65M294.2 176.8h0.65M281.7 178.3h0.65M297.5 176.5h0.65M298.6 177.6h0.65M296.2 176.6h0.65M293.9 177.6h0.65M284.9 177.9h0.65M300.9 175.5h0.65M299.1 177.6h0.65M288.8 178.2h0.65M293.7 177.7h0.65M293.7 175.7h0.65M303.0 175.1h0.65M288.3 178.6h0.65M301.0 177.1h0.65M279.0 177.9h0.65M303.2 176.7h0.65M310.3 175.8h0.65M297.9 176.2h0.65M292.6 177.7h0.65M289.3 178.3h0.65M297.8 176.8h0.65M303.7 176.6h0.65M302.5 177.1h0.65M289.5 177.8h0.65M301.2 176.1h0.65M294.3 177.6h0.65M293.1 177.8h0.65M294.9 177.9h0.65M296.7 177.6h0.65M297.2 177.2h0.65M286.1 178.5h0.65M306.4 176.2h0.65M300.6 176.1h0.65M292.0 178.0h0.65M281.8 178.7h0.65M304.3 177.0h0.65M283.5 178.5h0.65M290.9 178.3h0.65M296.9 177.4h0.65M293.4 177.4h0.65M298.6 177.5h0.65M297.3 177.3h0.65M298.1 177.4h0.65M297.0 177.7h0.65M291.3 177.3h0.65M284.3 177.6h0.65M298.0 174.5h0.65M285.6 178.1h0.65M295.2 174.4h0.65M294.0 176.9h0.65M297.7 175.7h0.65M278.8 178.3h0.65M302.5 176.2h0.65M294.6 177.4h0.65M299.7 176.1h0.65M297.1 177.6h0.65M298.6 177.3h0.65M296.1 176.1h0.65M293.3 177.2h0.65M298.4 177.5h0.65M296.1 176.8h0.65M294.6 176.4h0.65M300.2 176.1h0.65M291.8 177.1h0.65M292.3 177.1h0.65M291.9 178.2h0.65M301.3 175.9h0.65M295.7 177.5h0.65M296.2 176.2h0.65M298.1 176.4h0.65M300.9 177.0h0.65M296.2 176.7h0.65M293.4 177.2h0.65M296.3 177.0h0.65M293.4 176.8h0.65M302.2 177.2h0.65M300.9 176.4h0.65M300.2 176.3h0.65M296.9 177.8h0.65M291.8 178.0h0.65M295.5 177.1h0.65M290.9 177.1h0.65M303.3 177.1h0.65M293.1 177.5h0.65M290.2 177.3h0.65M297.3 176.2h0.65M297.0 177.7h0.65M305.5 175.5h0.65M313.2 175.2h0.65M294.8 176.7h0.65M288.1 178.4h0.65M309.6 175.7h0.65" stroke="#111" stroke-width="0.65" fill="none" opacity="0.9"/>
<line x1="270.70" y1="180.50" x2="270.70" y2="181.70" stroke="#444" stroke-width="0.5"/>
<text x="270.70" y="185.30" font-size="3.2" text-anchor="middle" fill="#222" stroke="#222" stroke-width="0.08">0</text>
<line x1="295.25" y1="180.50" x2="295.25" y2="181.70" stroke="#444" stroke-width="0.5"/>
<text x="295.25" y="185.30" font-size="3.2" text-anchor="middle" fill="#222" stroke="#222" stroke-width="0.08">50</text>
<line x1="319.80" y1="180.50" x2="319.80" y2="181.70" stroke="#444" stroke-width="0.5"/>
<text x="319.80" y="185.30" font-size="3.2" text-anchor="middle" fill="#222" stroke="#222" stroke-width="0.08">100</text>
<line x1="268.50" y1="179.00" x2="269.70" y2="179.00" stroke="#444" stroke-width="0.5"/>
<line x1="268.50" y1="154.90" x2="269.70" y2="154.90" stroke="#444" stroke-width="0.5"/>
<line x1="268.50" y1="130.80" x2="269.70" y2="130.80" stroke="#444" stroke-width="0.5"/>
<line x1="269.00" y1="179.00" x2="269.70" y2="179.00" stroke="#444" stroke-width="0.4"/>
<line x1="269.00" y1="172.97" x2="269.70" y2="172.97" stroke="#444" stroke-width="0.4"/>
<line x1="269.00" y1="166.95" x2="269.70" y2="166.95" stroke="#444" stroke-width="0.4"/>
<line x1="269.00" y1="160.93" x2="269.70" y2="160.93" stroke="#444" stroke-width="0.4"/>
<line x1="269.00" y1="154.90" x2="269.70" y2="154.90" stroke="#444" stroke-width="0.4"/>
<line x1="269.00" y1="148.88" x2="269.70" y2="148.88" stroke="#444" stroke-width="0.4"/>
<line x1="269.00" y1="142.85" x2="269.70" y2="142.85" stroke="#444" stroke-width="0.4"/>
<line x1="269.00" y1="136.83" x2="269.70" y2="136.83" stroke="#444" stroke-width="0.4"/>
<line x1="269.00" y1="130.80" x2="269.70" y2="130.80" stroke="#444" stroke-width="0.4"/>
<text x="295.25" y="189.70" font-size="3.4" text-anchor="middle" fill="#222" stroke="#222" stroke-width="0.08">FSC-A</text>
<text x="315.30" y="189.90" font-size="3" text-anchor="middle" fill="#222" stroke="#222" stroke-width="0.08">(x 10⁶)</text>
<rect x="324.50" y="128.30" width="51.70" height="52.20" fill="#fff" stroke="#666" stroke-width="0.5"/>
<text x="349.00" y="125.30" font-size="9.6" text-anchor="middle" fill="#111" textLength="39.00" lengthAdjust="spacingAndGlyphs" stroke="#111" stroke-width="0.2">sz-cfDNA</text>
<path d="M351.1 175.1h0.65M362.3 171.0h0.65M339.0 175.1h0.65M344.3 174.3h0.65M351.3 169.3h0.65M349.7 168.2h0.65M341.5 175.3h0.65M349.7 174.2h0.65M336.5 174.7h0.65M340.1 177.8h0.65M357.5 174.2h0.65M354.9 170.3h0.65M352.7 175.2h0.65M348.3 173.4h0.65M351.1 169.1h0.65M347.5 174.9h0.65M343.9 174.5h0.65M343.8 174.3h0.65M344.1 176.3h0.65M342.8 175.4h0.65M354.8 174.9h0.65M348.9 172.8h0.65M338.7 178.3h0.65M340.9 163.5h0.65M349.1 174.3h0.65M353.1 175.7h0.65M356.7 174.1h0.65M347.6 175.2h0.65M345.4 176.3h0.65M346.6 176.0h0.65M360.3 171.5h0.65M344.9 167.8h0.65M349.5 175.8h0.65M351.5 176.0h0.65M350.9 176.1h0.65M345.8 174.9h0.65M348.5 175.1h0.65M349.1 174.1h0.65M346.8 174.5h0.65M346.0 172.0h0.65M352.6 168.3h0.65M350.7 175.3h0.65M354.9 173.3h0.65M348.3 174.0h0.65M341.7 174.7h0.65M351.5 171.0h0.65M354.2 175.0h0.65M349.4 173.8h0.65M351.3 173.0h0.65M350.9 171.6h0.65M349.7 174.0h0.65M355.5 172.2h0.65M352.1 175.5h0.65M343.5 175.4h0.65M348.9 174.9h0.65M354.1 172.9h0.65M354.9 170.0h0.65M346.6 173.2h0.65M348.9 174.6h0.65M342.4 173.8h0.65M346.2 175.6h0.65M356.5 174.1h0.65M359.3 175.1h0.65M349.8 174.1h0.65M357.4 175.6h0.65M347.4 174.3h0.65M346.5 176.5h0.65M346.0 174.8h0.65M350.2 174.9h0.65M353.2 172.6h0.65M337.7 176.7h0.65M357.0 175.5h0.65M355.4 172.1h0.65M345.8 174.3h0.65M349.9 176.3h0.65M354.2 175.2h0.65M353.2 174.9h0.65M348.6 173.3h0.65M347.4 173.1h0.65M348.3 174.4h0.65M361.3 175.1h0.65M346.7 175.3h0.65M352.3 173.3h0.65M353.6 174.3h0.65M353.5 175.1h0.65M344.9 176.5h0.65M360.2 172.2h0.65M356.3 174.9h0.65M349.8 175.6h0.65M348.5 173.9h0.65M348.6 174.7h0.65M340.7 173.5h0.65M345.9 174.7h0.65M352.9 171.7h0.65M354.5 175.2h0.65M353.9 174.1h0.65M348.9 176.5h0.65M350.6 174.5h0.65M353.7 171.5h0.65M355.5 175.3h0.65M352.0 174.2h0.65M346.8 175.9h0.65M356.6 174.2h0.65M341.0 174.8h0.65M343.2 176.6h0.65M348.7 173.7h0.65M345.7 175.8h0.65M352.9 174.7h0.65M358.5 175.1h0.65M354.3 175.9h0.65M354.2 154.4h0.65M372.7 172.9h0.65M330.8 168.3h0.65" stroke="#1fc067" stroke-width="0.65" fill="none" opacity="0.95"/>
<path d="M358.0 174.7h0.55M349.7 174.8h0.55M347.4 176.0h0.55M347.6 175.9h0.55M355.0 174.2h0.55M342.8 175.3h0.55M344.4 175.6h0.55M352.8 173.6h0.55M356.6 176.0h0.55M348.3 176.4h0.55M354.6 174.1h0.55M353.1 174.8h0.55M354.0 177.4h0.55M336.6 177.6h0.55M341.4 175.3h0.55M351.6 175.4h0.55M340.7 176.0h0.55M351.0 175.5h0.55M353.0 175.6h0.55M341.1 176.8h0.55M356.5 176.6h0.55M365.6 174.7h0.55M354.5 176.9h0.55M359.3 175.4h0.55M348.6 173.7h0.55M348.1 176.1h0.55M343.4 176.6h0.55M330.2 175.4h0.55M339.3 174.7h0.55M338.4 177.3h0.55M342.7 176.2h0.55M345.5 176.2h0.55M356.7 176.8h0.55M347.0 175.6h0.55M364.3 176.8h0.55M357.0 177.2h0.55M347.5 174.9h0.55M344.3 176.2h0.55M351.4 176.6h0.55M350.8 176.5h0.55M343.0 175.6h0.55M339.2 175.6h0.55M335.4 177.0h0.55M350.2 175.3h0.55M356.1 174.7h0.55M333.8 174.3h0.55M347.3 175.8h0.55M358.7 176.5h0.55M357.9 175.3h0.55M338.3 174.4h0.55M362.0 175.7h0.55M344.7 172.7h0.55M350.2 175.7h0.55M348.8 176.3h0.55M344.7 177.3h0.55M355.3 176.6h0.55M352.5 175.8h0.55M350.3 175.1h0.55M348.6 174.6h0.55M337.6 174.9h0.55M350.5 176.7h0.55M361.3 175.7h0.55M356.7 176.9h0.55M348.7 176.1h0.55M340.2 175.8h0.55M343.3 173.3h0.55M344.4 175.6h0.55M341.9 174.3h0.55M345.6 173.7h0.55M356.8 175.1h0.55M357.1 174.7h0.55M349.5 174.9h0.55M331.6 175.2h0.55M350.2 174.8h0.55M350.3 175.7h0.55M348.3 176.0h0.55M352.6 175.0h0.55M358.4 175.1h0.55M355.9 175.3h0.55M345.5 174.1h0.55M365.4 177.3h0.55M350.7 175.4h0.55M357.1 176.7h0.55M346.7 176.5h0.55M351.0 177.0h0.55M356.5 174.5h0.55M347.0 175.0h0.55M331.0 174.5h0.55M353.0 175.4h0.55M360.3 175.3h0.55M339.8 175.2h0.55M340.2 176.2h0.55M345.2 175.5h0.55M352.1 174.5h0.55M339.4 176.7h0.55M351.9 173.3h0.55" stroke="#777" stroke-width="0.55" fill="none" opacity="0.8"/>
<path d="M360.1 176.9h0.65M355.9 177.2h0.65M344.1 177.4h0.65M353.1 176.2h0.65M352.7 176.9h0.65M352.6 176.4h0.65M355.5 177.3h0.65M341.7 177.4h0.65M350.9 176.3h0.65M352.5 177.3h0.65M346.8 176.9h0.65M358.9 176.9h0.65M353.2 177.3h0.65M349.1 176.8h0.65M347.5 175.8h0.65M350.7 177.5h0.65M355.3 176.5h0.65M358.6 176.4h0.65M354.2 176.9h0.65M351.6 176.8h0.65M347.7 176.2h0.65M353.4 177.3h0.65M365.6 176.6h0.65M341.3 177.4h0.65M359.5 176.6h0.65M344.9 177.4h0.65M350.9 177.0h0.65M347.8 178.2h0.65M356.2 175.9h0.65M347.0 176.8h0.65M341.9 178.1h0.65M349.8 177.6h0.65M348.1 177.5h0.65M352.2 176.7h0.65M337.8 179.1h0.65M348.3 177.1h0.65M342.9 178.2h0.65M353.8 177.0h0.65M339.2 177.5h0.65M347.1 177.9h0.65M360.7 176.7h0.65M351.3 176.9h0.65M360.2 176.7h0.65M352.6 175.9h0.65M348.3 176.4h0.65M346.3 178.1h0.65M358.1 177.0h0.65M357.5 177.2h0.65M350.8 177.4h0.65M343.5 178.1h0.65M352.7 177.2h0.65M347.5 177.8h0.65M352.8 177.2h0.65M362.1 176.1h0.65M356.3 176.6h0.65M349.1 178.0h0.65M350.3 176.5h0.65M365.2 176.3h0.65M349.1 177.2h0.65M353.4 177.5h0.65M354.9 176.7h0.65M348.3 177.3h0.65M337.7 177.9h0.65M348.8 178.0h0.65M342.2 177.3h0.65M348.4 178.0h0.65M350.4 177.2h0.65M347.3 177.5h0.65M345.8 176.9h0.65M353.6 177.5h0.65M355.7 175.6h0.65M351.2 177.3h0.65M349.5 177.7h0.65M348.4 177.5h0.65M356.5 175.7h0.65M341.0 178.5h0.65M362.2 176.2h0.65M345.4 177.3h0.65M344.7 177.3h0.65M354.5 176.7h0.65M352.6 177.6h0.65M347.3 177.3h0.65M354.2 175.2h0.65M348.5 176.9h0.65M346.6 178.3h0.65M360.4 177.0h0.65M354.3 177.1h0.65M361.4 175.8h0.65M353.8 177.4h0.65M351.7 177.5h0.65M358.2 176.4h0.65M356.7 177.1h0.65M344.5 177.2h0.65M359.4 176.7h0.65M355.2 177.3h0.65M342.3 177.7h0.65M346.4 176.5h0.65M354.6 177.6h0.65M347.1 178.2h0.65M344.8 178.1h0.65M359.8 176.8h0.65M361.2 176.9h0.65M353.0 176.8h0.65M348.9 177.7h0.65M342.6 176.8h0.65M354.0 177.6h0.65M344.3 178.5h0.65M344.5 177.6h0.65M349.5 175.9h0.65M340.6 178.3h0.65M347.4 175.4h0.65M342.5 178.6h0.65M350.9 177.2h0.65M360.8 176.5h0.65M346.9 176.7h0.65M351.6 177.2h0.65M356.5 176.4h0.65M357.5 176.9h0.65M351.7 177.6h0.65M354.2 176.5h0.65M347.4 177.4h0.65M361.5 176.0h0.65M361.6 176.0h0.65M351.3 176.3h0.65M346.7 177.9h0.65M348.3 177.5h0.65M345.7 178.2h0.65M345.7 178.2h0.65M357.0 176.3h0.65M349.3 175.6h0.65M346.5 177.9h0.65M347.8 176.0h0.65M343.7 177.4h0.65M341.0 175.9h0.65M349.8 177.8h0.65M357.8 177.3h0.65M346.9 177.7h0.65M345.1 177.9h0.65M347.8 177.7h0.65M341.9 178.3h0.65M362.4 176.5h0.65M350.0 176.8h0.65M352.1 176.3h0.65M343.8 177.8h0.65M344.4 177.9h0.65M364.7 175.2h0.65M345.6 178.0h0.65M353.2 177.0h0.65M351.9 176.8h0.65M356.1 176.6h0.65M349.6 177.4h0.65M364.3 176.6h0.65M339.7 178.6h0.65M347.9 177.4h0.65M355.7 176.5h0.65M354.0 176.0h0.65M346.9 177.9h0.65M353.0 175.1h0.65M334.7 179.1h0.65M349.3 178.0h0.65M345.0 178.3h0.65M356.6 176.8h0.65M353.8 177.5h0.65M349.6 177.9h0.65M359.2 176.7h0.65M354.5 177.5h0.65M338.1 178.2h0.65M350.4 177.9h0.65M347.6 176.7h0.65M359.1 175.4h0.65M359.6 175.3h0.65M353.7 176.5h0.65M349.4 177.6h0.65M346.9 177.5h0.65M347.7 177.5h0.65M359.8 176.2h0.65M350.4 177.8h0.65M349.1 178.1h0.65M346.9 178.1h0.65M355.4 177.3h0.65M345.8 178.3h0.65M351.0 177.9h0.65M349.0 177.4h0.65M350.2 177.0h0.65M353.8 177.0h0.65M355.0 176.8h0.65M353.3 177.4h0.65M342.7 178.5h0.65M351.2 177.3h0.65M344.0 178.4h0.65M341.5 178.6h0.65M350.9 177.8h0.65M360.1 176.4h0.65M349.3 177.5h0.65M347.9 177.4h0.65M355.8 177.0h0.65M349.8 177.6h0.65M354.5 177.4h0.65M346.3 177.5h0.65M358.0 175.9h0.65M339.9 175.9h0.65M362.3 176.4h0.65M355.4 177.0h0.65M355.3 176.4h0.65M347.7 178.2h0.65M356.2 176.9h0.65M346.1 177.6h0.65M342.0 178.5h0.65M347.4 176.7h0.65M347.2 178.0h0.65M351.5 177.7h0.65M351.4 177.2h0.65M343.5 177.8h0.65M356.1 176.7h0.65M342.3 178.0h0.65M358.9 176.5h0.65M349.6 177.0h0.65M358.5 175.8h0.65M342.3 177.4h0.65M347.5 178.2h0.65M348.4 177.9h0.65M359.1 176.1h0.65M356.3 177.5h0.65M360.1 176.6h0.65M351.9 177.8h0.65M339.7 176.8h0.65M350.3 177.1h0.65M363.7 176.6h0.65M343.7 177.6h0.65M351.9 176.9h0.65M356.1 177.5h0.65M344.9 176.0h0.65M344.6 178.1h0.65M344.4 177.6h0.65M363.4 176.5h0.65M351.8 177.8h0.65M355.5 177.5h0.65M356.5 176.0h0.65M355.5 176.6h0.65M354.4 177.4h0.65M352.3 176.8h0.65M346.6 178.1h0.65M359.1 176.4h0.65M349.3 177.4h0.65M349.1 177.1h0.65M344.5 177.0h0.65M352.7 177.7h0.65M352.3 176.9h0.65M356.6 177.1h0.65M348.2 176.3h0.65M344.7 178.3h0.65M351.7 176.4h0.65M355.1 177.5h0.65M356.9 177.0h0.65M356.1 176.4h0.65M339.6 178.2h0.65M354.6 177.2h0.65M339.4 178.8h0.65M354.4 176.0h0.65M355.0 177.1h0.65M341.2 178.5h0.65M338.9 178.7h0.65M348.3 177.2h0.65M344.5 178.4h0.65M353.9 177.0h0.65M352.2 177.1h0.65M350.3 176.1h0.65M348.6 177.4h0.65M339.3 177.9h0.65M354.4 177.4h0.65M352.3 177.7h0.65M355.6 177.5h0.65M351.8 177.8h0.65M345.2 176.3h0.65M353.7 176.5h0.65M352.8 177.1h0.65M361.5 176.2h0.65M351.3 177.0h0.65M346.5 177.8h0.65M353.1 175.7h0.65M356.8 176.5h0.65M344.8 177.8h0.65M357.2 176.1h0.65M350.5 177.8h0.65M354.2 175.9h0.65M354.6 177.6h0.65M348.9 176.0h0.65M338.3 178.6h0.65M354.3 177.2h0.65M354.9 175.9h0.65M351.6 176.5h0.65M341.3 178.2h0.65M346.2 177.8h0.65M351.0 176.3h0.65M344.3 177.3h0.65M349.8 176.8h0.65M352.4 176.9h0.65M348.1 178.0h0.65M348.3 177.3h0.65M347.1 177.2h0.65M359.7 175.9h0.65M349.4 177.5h0.65M360.9 175.9h0.65M351.0 176.2h0.65M355.4 177.0h0.65M351.6 177.5h0.65M342.1 177.7h0.65M355.8 176.9h0.65M354.0 177.3h0.65M342.2 178.2h0.65M355.2 177.2h0.65M350.6 177.6h0.65M351.0 177.7h0.65M353.3 177.7h0.65M344.0 178.3h0.65M356.1 176.8h0.65M353.2 177.4h0.65M345.3 175.7h0.65M350.3 177.2h0.65M346.8 177.4h0.65M345.9 178.1h0.65M351.1 177.7h0.65M362.1 175.0h0.65M356.1 177.3h0.65M348.8 177.5h0.65M350.7 177.9h0.65M345.0 176.9h0.65M346.1 178.3h0.65M343.0 178.5h0.65M352.5 176.7h0.65" stroke="#111" stroke-width="0.65" fill="none" opacity="0.9"/>
<line x1="325.50" y1="180.50" x2="325.50" y2="181.70" stroke="#444" stroke-width="0.5"/>
<text x="325.50" y="185.30" font-size="3.2" text-anchor="middle" fill="#222" stroke="#222" stroke-width="0.08">0</text>
<line x1="350.35" y1="180.50" x2="350.35" y2="181.70" stroke="#444" stroke-width="0.5"/>
<text x="350.35" y="185.30" font-size="3.2" text-anchor="middle" fill="#222" stroke="#222" stroke-width="0.08">50</text>
<line x1="375.20" y1="180.50" x2="375.20" y2="181.70" stroke="#444" stroke-width="0.5"/>
<text x="375.20" y="185.30" font-size="3.2" text-anchor="middle" fill="#222" stroke="#222" stroke-width="0.08">100</text>
<line x1="323.30" y1="179.00" x2="324.50" y2="179.00" stroke="#444" stroke-width="0.5"/>
<line x1="323.30" y1="154.90" x2="324.50" y2="154.90" stroke="#444" stroke-width="0.5"/>
<line x1="323.30" y1="130.80" x2="324.50" y2="130.80" stroke="#444" stroke-width="0.5"/>
<line x1="323.80" y1="179.00" x2="324.50" y2="179.00" stroke="#444" stroke-width="0.4"/>
<line x1="323.80" y1="172.97" x2="324.50" y2="172.97" stroke="#444" stroke-width="0.4"/>
<line x1="323.80" y1="166.95" x2="324.50" y2="166.95" stroke="#444" stroke-width="0.4"/>
<line x1="323.80" y1="160.93" x2="324.50" y2="160.93" stroke="#444" stroke-width="0.4"/>
<line x1="323.80" y1="154.90" x2="324.50" y2="154.90" stroke="#444" stroke-width="0.4"/>
<line x1="323.80" y1="148.88" x2="324.50" y2="148.88" stroke="#444" stroke-width="0.4"/>
<line x1="323.80" y1="142.85" x2="324.50" y2="142.85" stroke="#444" stroke-width="0.4"/>
<line x1="323.80" y1="136.83" x2="324.50" y2="136.83" stroke="#444" stroke-width="0.4"/>
<line x1="323.80" y1="130.80" x2="324.50" y2="130.80" stroke="#444" stroke-width="0.4"/>
<text x="350.35" y="189.70" font-size="3.4" text-anchor="middle" fill="#222" stroke="#222" stroke-width="0.08">FSC-A</text>
<text x="370.70" y="189.90" font-size="3" text-anchor="middle" fill="#222" stroke="#222" stroke-width="0.08">(x 10⁶)</text>
<rect x="379.70" y="128.30" width="51.10" height="52.20" fill="#fff" stroke="#666" stroke-width="0.5"/>
<text x="402.75" y="125.30" font-size="9.6" text-anchor="middle" fill="#111" textLength="40.50" lengthAdjust="spacingAndGlyphs" stroke="#111" stroke-width="0.2">hc-cfDNA</text>
<path d="M410.5 174.2h0.65M414.8 173.5h0.65M413.3 171.7h0.65M410.0 174.1h0.65M400.2 172.9h0.65M400.7 174.3h0.65M404.9 166.6h0.65M411.1 173.7h0.65M405.8 170.5h0.65M407.9 168.5h0.65M411.7 169.2h0.65M408.3 171.7h0.65M405.5 173.4h0.65M422.4 160.8h0.65M408.6 167.8h0.65M414.2 167.8h0.65M408.4 170.5h0.65M412.7 170.2h0.65M392.2 171.4h0.65M407.6 170.5h0.65M407.2 173.4h0.65M406.9 174.1h0.65M405.3 169.3h0.65M397.2 172.3h0.65M400.8 168.2h0.65M392.3 176.2h0.65M403.7 174.7h0.65M410.5 166.7h0.65M414.3 168.7h0.65M401.4 172.1h0.65M409.5 166.3h0.65M404.3 173.0h0.65M407.5 173.6h0.65M400.8 176.7h0.65M404.0 169.1h0.65M397.6 170.3h0.65M403.4 170.6h0.65M404.6 174.2h0.65M402.3 166.4h0.65M405.5 174.6h0.65M401.6 168.1h0.65M402.3 174.7h0.65M408.3 174.9h0.65M409.8 174.6h0.65M402.0 168.1h0.65M406.8 169.1h0.65M410.6 173.0h0.65M399.6 170.6h0.65M403.6 166.1h0.65M402.4 174.5h0.65M407.3 165.3h0.65M400.8 161.2h0.65M409.7 169.6h0.65M405.8 174.4h0.65M407.6 170.4h0.65M414.6 175.3h0.65M400.6 165.1h0.65M392.0 173.0h0.65M424.0 165.6h0.65M417.5 170.7h0.65M416.1 174.9h0.65M401.3 173.5h0.65M410.2 171.1h0.65M401.8 166.0h0.65M392.9 174.9h0.65M415.0 174.5h0.65M414.8 173.7h0.65M397.8 175.8h0.65M406.4 170.2h0.65M402.3 173.7h0.65M414.6 175.1h0.65M409.2 166.3h0.65M397.9 176.6h0.65M408.2 174.4h0.65M410.3 175.6h0.65M410.1 175.5h0.65M399.7 174.3h0.65M417.4 173.0h0.65M407.0 172.0h0.65M407.3 176.2h0.65M400.5 172.1h0.65M408.0 173.8h0.65M409.6 170.4h0.65M393.9 176.6h0.65M405.1 172.9h0.65M405.1 174.1h0.65M405.0 175.4h0.65M400.9 174.9h0.65M406.9 174.1h0.65M403.9 175.3h0.65M402.3 175.9h0.65M406.5 173.9h0.65M414.9 175.2h0.65M408.0 171.3h0.65M410.3 175.1h0.65M407.8 172.7h0.65M392.7 175.7h0.65M401.0 173.5h0.65M411.5 174.7h0.65M405.8 176.2h0.65M404.1 173.6h0.65M417.0 170.4h0.65M405.1 174.7h0.65M404.1 176.3h0.65M407.2 175.6h0.65M403.3 173.9h0.65M408.4 172.4h0.65M405.9 171.4h0.65M395.4 176.1h0.65M408.1 172.1h0.65M402.0 173.6h0.65M407.3 174.5h0.65M404.7 176.2h0.65M402.8 175.9h0.65M401.5 176.2h0.65M414.8 171.9h0.65M397.9 171.3h0.65M404.6 173.0h0.65M396.4 176.9h0.65M406.7 174.7h0.65M400.5 176.3h0.65M406.9 174.6h0.65M408.7 170.2h0.65M401.8 176.1h0.65M407.6 174.2h0.65M396.4 173.3h0.65M398.2 176.6h0.65M402.6 175.5h0.65M400.7 174.8h0.65M410.1 175.1h0.65M397.7 175.6h0.65M405.0 175.4h0.65M402.0 176.1h0.65M421.0 174.8h0.65M403.6 170.5h0.65M400.9 172.8h0.65M410.4 173.0h0.65M410.1 175.5h0.65M400.6 174.9h0.65M401.7 176.0h0.65M405.5 175.9h0.65M402.7 175.9h0.65M393.2 131.2h0.65M420.7 141.0h0.65M405.6 157.6h0.65M384.6 156.1h0.65" stroke="#1fc067" stroke-width="0.65" fill="none" opacity="0.95"/>
<path d="M403.4 175.2h0.55M397.7 176.3h0.55M400.5 173.0h0.55M398.4 173.5h0.55M403.4 176.9h0.55M403.1 177.4h0.55M406.9 175.6h0.55M405.9 174.6h0.55M404.4 175.1h0.55M413.3 176.8h0.55M405.0 174.8h0.55M408.0 172.3h0.55M405.0 172.4h0.55M392.4 173.5h0.55M399.8 174.5h0.55M411.9 174.7h0.55M408.5 174.2h0.55M404.2 174.6h0.55M400.0 177.2h0.55M407.1 176.3h0.55M402.7 176.7h0.55M409.6 172.9h0.55M396.6 177.8h0.55M415.5 174.1h0.55M392.9 174.4h0.55M421.3 174.5h0.55M420.2 170.5h0.55M395.5 174.2h0.55M401.9 176.3h0.55M417.2 176.5h0.55M403.1 175.6h0.55M403.1 174.3h0.55M396.7 175.4h0.55M396.4 175.7h0.55M413.3 174.4h0.55M403.8 176.0h0.55M413.6 173.0h0.55M401.9 176.5h0.55M406.6 175.1h0.55M418.1 175.2h0.55M418.6 175.1h0.55M409.5 176.6h0.55M394.6 176.9h0.55M403.5 172.2h0.55M387.7 174.9h0.55M409.3 176.2h0.55M398.0 172.8h0.55M413.6 175.9h0.55M404.3 176.0h0.55M413.1 174.9h0.55M407.7 173.8h0.55M407.6 176.1h0.55M390.5 177.8h0.55M407.7 175.5h0.55M410.1 174.8h0.55M395.3 174.4h0.55M410.9 176.7h0.55M399.9 176.7h0.55M397.1 174.5h0.55M408.7 176.2h0.55M389.0 174.3h0.55M404.8 175.5h0.55M408.0 174.7h0.55M392.6 171.8h0.55M411.6 173.3h0.55M398.2 174.1h0.55M395.4 176.3h0.55M418.0 177.1h0.55M406.0 176.3h0.55M404.9 173.4h0.55M405.0 171.8h0.55M409.4 175.7h0.55M412.2 176.5h0.55M398.7 177.4h0.55M408.2 173.8h0.55M410.8 176.5h0.55M410.0 174.6h0.55M413.1 176.2h0.55M403.7 174.0h0.55M400.9 174.7h0.55M403.8 177.3h0.55M423.6 173.6h0.55M408.6 176.1h0.55M412.1 176.8h0.55M398.5 173.3h0.55M411.8 177.7h0.55M406.2 172.7h0.55M395.5 175.1h0.55M403.2 173.6h0.55M398.8 175.4h0.55M394.9 175.3h0.55M400.2 174.8h0.55M410.9 175.3h0.55M407.0 177.0h0.55M405.0 175.1h0.55M387.6 175.9h0.55M393.3 173.7h0.55M415.6 174.1h0.55" stroke="#777" stroke-width="0.55" fill="none" opacity="0.8"/>
<path d="M406.6 177.1h0.65M398.8 177.4h0.65M400.1 178.1h0.65M396.6 178.7h0.65M396.4 178.2h0.65M405.2 176.3h0.65M402.2 178.0h0.65M407.5 177.0h0.65M403.3 178.0h0.65M404.0 177.6h0.65M401.4 178.2h0.65M406.2 177.6h0.65M399.2 177.2h0.65M408.2 176.8h0.65M416.5 176.2h0.65M400.4 178.1h0.65M408.4 176.2h0.65M413.2 176.7h0.65M405.7 177.3h0.65M400.9 177.7h0.65M408.4 177.5h0.65M406.7 176.9h0.65M406.8 176.4h0.65M410.6 177.5h0.65M401.7 177.9h0.65M421.2 173.4h0.65M401.4 177.0h0.65M388.8 178.4h0.65M405.5 177.7h0.65M399.9 177.2h0.65M406.7 177.4h0.65M408.2 176.7h0.65M404.7 177.5h0.65M406.4 177.7h0.65M402.4 178.0h0.65M407.8 177.7h0.65M402.8 176.8h0.65M399.3 177.0h0.65M411.1 177.2h0.65M407.0 177.7h0.65M409.2 176.7h0.65M403.9 177.8h0.65M410.8 175.9h0.65M400.0 177.9h0.65M398.8 178.2h0.65M400.6 178.0h0.65M408.1 176.6h0.65M405.9 176.6h0.65M406.4 176.7h0.65M401.9 177.1h0.65M403.9 177.5h0.65M409.8 176.9h0.65M399.0 177.9h0.65M405.5 177.3h0.65M408.0 176.6h0.65M411.5 177.3h0.65M408.0 177.2h0.65M397.0 177.1h0.65M401.6 177.8h0.65M400.7 177.5h0.65M411.6 177.4h0.65M402.1 176.5h0.65M406.3 177.9h0.65M399.5 178.4h0.65M395.0 178.3h0.65M398.5 178.1h0.65M405.9 175.8h0.65M399.0 177.9h0.65M409.8 177.0h0.65M408.9 176.0h0.65M403.7 177.6h0.65M394.7 177.9h0.65M408.6 176.9h0.65M400.4 177.5h0.65M391.4 177.9h0.65M412.7 175.5h0.65M408.0 177.7h0.65M410.5 177.2h0.65M404.7 176.6h0.65M402.0 177.9h0.65M408.9 177.6h0.65M410.3 177.0h0.65M410.1 175.9h0.65M399.5 178.2h0.65M412.0 175.9h0.65M405.5 177.2h0.65M399.2 176.6h0.65M402.5 177.7h0.65M405.0 176.6h0.65M404.8 178.0h0.65M401.1 176.9h0.65M407.8 176.7h0.65M405.9 177.0h0.65M411.5 176.3h0.65M402.1 177.0h0.65M410.0 177.0h0.65M398.8 178.5h0.65M408.5 177.0h0.65M405.6 177.0h0.65M409.6 176.1h0.65M409.4 175.8h0.65M410.6 177.4h0.65M407.5 176.2h0.65M402.1 177.8h0.65M417.1 176.9h0.65M399.9 176.8h0.65M412.3 175.7h0.65M404.2 176.4h0.65M411.2 175.2h0.65M415.8 176.0h0.65M399.5 176.4h0.65M408.4 177.3h0.65M410.2 176.6h0.65M410.3 177.3h0.65M408.3 177.5h0.65M413.2 176.0h0.65M397.5 178.0h0.65M418.7 176.2h0.65M404.4 177.4h0.65M398.6 178.5h0.65M395.9 178.7h0.65M409.5 175.9h0.65M402.5 177.3h0.65M412.9 176.3h0.65M403.8 176.3h0.65M400.4 178.0h0.65M394.0 178.7h0.65M409.4 176.2h0.65M391.3 178.9h0.65M401.9 176.0h0.65M399.7 177.9h0.65M405.3 177.3h0.65M403.7 177.5h0.65M399.9 177.5h0.65M404.5 176.3h0.65M412.3 177.1h0.65M399.9 177.6h0.65M399.9 178.3h0.65M403.3 177.3h0.65M398.9 178.5h0.65M396.9 178.3h0.65M413.0 177.2h0.65M410.4 177.5h0.65M399.2 177.7h0.65M399.0 178.2h0.65M406.7 174.9h0.65M414.7 176.3h0.65M399.9 178.4h0.65M400.3 176.1h0.65M401.3 177.2h0.65M397.8 177.9h0.65M398.5 178.2h0.65M406.3 177.7h0.65M405.0 178.0h0.65M400.5 178.3h0.65M405.0 177.1h0.65M408.5 177.5h0.65M401.1 177.1h0.65M402.1 176.4h0.65M412.5 177.0h0.65M413.6 176.8h0.65M400.4 177.3h0.65M407.9 176.8h0.65M405.6 176.4h0.65M410.6 177.2h0.65M396.9 178.7h0.65M405.7 177.0h0.65M404.3 176.6h0.65M402.7 177.1h0.65M400.1 177.5h0.65M410.6 177.3h0.65M406.6 176.8h0.65M414.5 175.9h0.65M408.6 177.4h0.65M406.2 176.1h0.65M404.0 177.5h0.65M408.2 175.7h0.65M407.4 176.9h0.65M407.2 177.1h0.65M408.2 177.5h0.65M401.3 177.8h0.65M409.5 176.0h0.65M398.1 178.4h0.65M403.2 176.8h0.65M414.2 176.7h0.65M411.5 177.1h0.65M397.7 178.4h0.65M395.5 177.2h0.65M406.8 176.7h0.65M401.7 176.7h0.65M404.2 177.6h0.65M404.1 177.6h0.65M405.8 177.8h0.65M413.2 176.0h0.65M392.9 179.0h0.65M406.8 176.3h0.65M405.1 177.6h0.65M407.2 177.5h0.65M401.1 176.9h0.65M410.7 177.1h0.65M397.6 177.1h0.65M409.5 174.8h0.65M419.8 176.5h0.65M396.3 177.9h0.65M407.2 176.6h0.65M405.4 176.3h0.65M404.4 177.6h0.65M406.9 177.7h0.65M408.5 176.5h0.65M402.2 177.8h0.65M407.6 176.1h0.65M405.3 175.6h0.65M395.2 177.9h0.65M405.9 176.9h0.65M405.6 177.7h0.65M407.4 177.3h0.65M398.5 178.5h0.65M415.6 175.6h0.65M400.6 177.5h0.65M404.3 177.0h0.65M410.5 176.9h0.65M392.0 179.2h0.65M396.0 177.6h0.65M413.6 176.5h0.65M408.7 177.1h0.65M415.7 175.9h0.65M413.4 176.1h0.65M402.4 178.3h0.65M392.8 178.9h0.65M405.2 177.9h0.65M419.5 176.5h0.65M404.2 178.0h0.65M403.4 176.7h0.65M411.6 177.4h0.65M407.3 177.8h0.65M400.9 176.8h0.65M403.7 177.6h0.65M404.6 177.3h0.65M400.8 178.1h0.65M406.1 177.8h0.65M406.3 176.5h0.65M402.9 178.1h0.65M401.6 177.8h0.65M406.6 177.1h0.65M399.6 177.3h0.65M403.7 178.0h0.65M402.5 178.1h0.65M406.0 175.6h0.65M411.9 175.0h0.65M406.1 177.7h0.65M416.3 176.6h0.65M409.0 177.1h0.65M402.2 177.5h0.65M401.9 177.6h0.65M396.9 178.5h0.65M404.8 177.5h0.65M400.4 177.2h0.65M411.5 177.4h0.65M409.7 176.4h0.65M398.0 176.1h0.65M407.0 176.8h0.65M412.8 175.5h0.65M395.0 177.8h0.65M402.3 177.5h0.65M404.1 177.3h0.65M397.0 178.7h0.65M406.0 177.2h0.65M405.5 176.7h0.65M403.4 177.8h0.65M402.7 178.2h0.65M398.1 177.3h0.65M400.6 177.7h0.65M399.9 177.5h0.65M416.5 176.7h0.65M403.1 177.3h0.65M413.6 176.7h0.65M406.7 176.2h0.65M398.5 176.9h0.65M411.5 177.0h0.65M402.4 177.5h0.65M404.7 176.1h0.65M398.1 178.3h0.65M410.8 176.6h0.65M403.2 177.8h0.65M402.8 177.5h0.65M403.0 178.1h0.65M411.0 177.4h0.65M406.6 177.7h0.65M405.3 175.8h0.65M400.0 178.1h0.65M401.6 177.7h0.65M405.6 175.7h0.65M401.0 177.4h0.65M395.1 178.5h0.65M404.9 177.2h0.65M402.9 177.2h0.65M411.0 177.1h0.65M411.8 176.4h0.65M402.7 177.4h0.65M406.1 177.1h0.65M406.8 175.7h0.65M398.2 178.3h0.65M399.1 176.2h0.65M402.3 177.9h0.65M405.1 178.0h0.65M414.9 177.1h0.65M406.7 176.8h0.65M413.8 176.2h0.65M407.0 176.5h0.65M408.0 176.3h0.65M402.3 178.0h0.65M412.0 176.9h0.65M409.8 177.1h0.65M403.5 177.8h0.65M414.1 175.7h0.65M402.3 176.7h0.65M404.9 176.9h0.65M406.6 177.7h0.65M404.6 177.6h0.65M409.7 176.1h0.65M406.4 176.4h0.65M397.7 178.6h0.65M398.7 177.9h0.65M400.5 178.1h0.65M402.9 177.7h0.65M397.8 177.3h0.65M406.3 176.5h0.65M402.4 177.8h0.65M406.7 177.7h0.65M405.1 177.4h0.65" stroke="#111" stroke-width="0.65" fill="none" opacity="0.9"/>
<line x1="380.70" y1="180.50" x2="380.70" y2="181.70" stroke="#444" stroke-width="0.5"/>
<text x="380.70" y="185.30" font-size="3.2" text-anchor="middle" fill="#222" stroke="#222" stroke-width="0.08">0</text>
<line x1="405.25" y1="180.50" x2="405.25" y2="181.70" stroke="#444" stroke-width="0.5"/>
<text x="405.25" y="185.30" font-size="3.2" text-anchor="middle" fill="#222" stroke="#222" stroke-width="0.08">50</text>
<line x1="429.80" y1="180.50" x2="429.80" y2="181.70" stroke="#444" stroke-width="0.5"/>
<text x="429.80" y="185.30" font-size="3.2" text-anchor="middle" fill="#222" stroke="#222" stroke-width="0.08">100</text>
<line x1="378.50" y1="179.00" x2="379.70" y2="179.00" stroke="#444" stroke-width="0.5"/>
<line x1="378.50" y1="154.90" x2="379.70" y2="154.90" stroke="#444" stroke-width="0.5"/>
<line x1="378.50" y1="130.80" x2="379.70" y2="130.80" stroke="#444" stroke-width="0.5"/>
<line x1="379.00" y1="179.00" x2="379.70" y2="179.00" stroke="#444" stroke-width="0.4"/>
<line x1="379.00" y1="172.97" x2="379.70" y2="172.97" stroke="#444" stroke-width="0.4"/>
<line x1="379.00" y1="166.95" x2="379.70" y2="166.95" stroke="#444" stroke-width="0.4"/>
<line x1="379.00" y1="160.93" x2="379.70" y2="160.93" stroke="#444" stroke-width="0.4"/>
<line x1="379.00" y1="154.90" x2="379.70" y2="154.90" stroke="#444" stroke-width="0.4"/>
<line x1="379.00" y1="148.88" x2="379.70" y2="148.88" stroke="#444" stroke-width="0.4"/>
<line x1="379.00" y1="142.85" x2="379.70" y2="142.85" stroke="#444" stroke-width="0.4"/>
<line x1="379.00" y1="136.83" x2="379.70" y2="136.83" stroke="#444" stroke-width="0.4"/>
<line x1="379.00" y1="130.80" x2="379.70" y2="130.80" stroke="#444" stroke-width="0.4"/>
<text x="405.25" y="189.70" font-size="3.4" text-anchor="middle" fill="#222" stroke="#222" stroke-width="0.08">FSC-A</text>
<text x="425.30" y="189.90" font-size="3" text-anchor="middle" fill="#222" stroke="#222" stroke-width="0.08">(x 10⁶)</text>
<text x="100.40" y="180.00" font-size="2.8" text-anchor="middle" fill="#222" transform="rotate(-90 100.40 180.00)" stroke="#222" stroke-width="0.08">0</text>
<text x="100.40" y="155.90" font-size="2.8" text-anchor="middle" fill="#222" transform="rotate(-90 100.40 155.90)" stroke="#222" stroke-width="0.08">50</text>
<text x="100.40" y="131.80" font-size="2.8" text-anchor="middle" fill="#222" transform="rotate(-90 100.40 131.80)" stroke="#222" stroke-width="0.08">100</text>
<text x="88.70" y="152.70" font-size="7.2" text-anchor="middle" fill="#111" font-weight="bold" textLength="30.00" lengthAdjust="spacingAndGlyphs" transform="rotate(-90 88.70 152.70)" stroke="#111" stroke-width="0.08">FL-AIM2</text>
<text x="92.80" y="151.00" font-size="2.7" text-anchor="middle" fill="#222" transform="rotate(-90 92.80 151.00)" stroke="#222" stroke-width="0.08">DAPI-A</text>
<text x="95.50" y="134.00" font-size="2.7" text-anchor="middle" fill="#222" transform="rotate(-90 95.50 134.00)" stroke="#222" stroke-width="0.08">(x 10⁶)</text>
<rect x="299.50" y="193.90" width="11.30" height="4.60" fill="#1f9e4b" stroke="none" stroke-width="0.5"/>
<text x="311.80" y="199.10" font-size="7.8" text-anchor="start" fill="#111" font-weight="bold" textLength="20.30" lengthAdjust="spacingAndGlyphs" stroke="#111" stroke-width="0.08">AIM2</text>
<rect x="346.70" y="193.90" width="11.30" height="4.60" fill="#0a0a0a" stroke="none" stroke-width="0.5"/>
<text x="359.50" y="199.10" font-size="7.8" text-anchor="start" fill="#111" font-weight="bold" textLength="42.30" lengthAdjust="spacingAndGlyphs" stroke="#111" stroke-width="0.08">background</text>
<text x="7.40" y="204.80" font-size="16.3" text-anchor="start" fill="#000" textLength="9.60" lengthAdjust="spacingAndGlyphs" stroke="#000" stroke-width="0.2">C</text>
<rect x="32.35" y="223.25" width="4.08" height="37.25" fill="#ffffff" stroke="#1fa548" stroke-width="0.7"/>
<line x1="34.25" y1="221.95" x2="34.25" y2="223.25" stroke="#666" stroke-width="0.35"/>
<line x1="33.45" y1="221.95" x2="35.05" y2="221.95" stroke="#666" stroke-width="0.35"/>
<rect x="36.85" y="200.75" width="4.33" height="59.75" fill="#ffffff" stroke="#1fa548" stroke-width="0.7"/>
<line x1="38.88" y1="199.45" x2="38.88" y2="200.75" stroke="#666" stroke-width="0.35"/>
<line x1="38.08" y1="199.45" x2="39.67" y2="199.45" stroke="#666" stroke-width="0.35"/>
<rect x="41.60" y="250.75" width="2.83" height="9.75" fill="#ffffff" stroke="#1fa548" stroke-width="0.7"/>
<line x1="42.88" y1="249.45" x2="42.88" y2="250.75" stroke="#666" stroke-width="0.35"/>
<line x1="42.08" y1="249.45" x2="43.67" y2="249.45" stroke="#666" stroke-width="0.35"/>
<rect x="44.70" y="227.50" width="4.01" height="33.00" fill="#17b04a" stroke="#138a36" stroke-width="0.4"/>
<line x1="46.62" y1="226.20" x2="46.62" y2="227.50" stroke="#666" stroke-width="0.35"/>
<line x1="45.83" y1="226.20" x2="47.42" y2="226.20" stroke="#666" stroke-width="0.35"/>
<rect x="48.95" y="251.25" width="3.01" height="9.25" fill="#17b04a" stroke="#138a36" stroke-width="0.4"/>
<line x1="50.38" y1="249.95" x2="50.38" y2="251.25" stroke="#666" stroke-width="0.35"/>
<line x1="49.58" y1="249.95" x2="51.17" y2="249.95" stroke="#666" stroke-width="0.35"/>
<rect x="52.20" y="197.50" width="4.01" height="63.00" fill="#17b04a" stroke="#138a36" stroke-width="0.4"/>
<line x1="54.12" y1="196.20" x2="54.12" y2="197.50" stroke="#666" stroke-width="0.35"/>
<line x1="53.33" y1="196.20" x2="54.92" y2="196.20" stroke="#666" stroke-width="0.35"/>
<rect x="56.45" y="222.50" width="3.51" height="38.00" fill="#8427b8" stroke="#5e1f80" stroke-width="0.4"/>
<line x1="58.12" y1="221.20" x2="58.12" y2="222.50" stroke="#666" stroke-width="0.35"/>
<line x1="57.33" y1="221.20" x2="58.92" y2="221.20" stroke="#666" stroke-width="0.35"/>
<rect x="60.20" y="239.25" width="3.51" height="21.25" fill="#8427b8" stroke="#5e1f80" stroke-width="0.4"/>
<line x1="61.88" y1="237.95" x2="61.88" y2="239.25" stroke="#666" stroke-width="0.35"/>
<line x1="61.08" y1="237.95" x2="62.67" y2="237.95" stroke="#666" stroke-width="0.35"/>
<rect x="63.95" y="241.25" width="3.01" height="19.25" fill="#8427b8" stroke="#5e1f80" stroke-width="0.4"/>
<line x1="65.38" y1="239.95" x2="65.38" y2="241.25" stroke="#666" stroke-width="0.35"/>
<line x1="64.58" y1="239.95" x2="66.17" y2="239.95" stroke="#666" stroke-width="0.35"/>
<rect x="67.70" y="236.75" width="4.01" height="23.75" fill="#f8d51f" stroke="#b89a10" stroke-width="0.4"/>
<line x1="69.62" y1="235.45" x2="69.62" y2="236.75" stroke="#666" stroke-width="0.35"/>
<line x1="68.83" y1="235.45" x2="70.42" y2="235.45" stroke="#666" stroke-width="0.35"/>
<rect x="71.95" y="251.25" width="3.01" height="9.25" fill="#f8d51f" stroke="#b89a10" stroke-width="0.4"/>
<line x1="73.38" y1="249.95" x2="73.38" y2="251.25" stroke="#666" stroke-width="0.35"/>
<line x1="72.58" y1="249.95" x2="74.17" y2="249.95" stroke="#666" stroke-width="0.35"/>
<rect x="78.95" y="224.25" width="4.01" height="36.25" fill="#f5141a" stroke="#b50f16" stroke-width="0.4"/>
<line x1="80.88" y1="222.95" x2="80.88" y2="224.25" stroke="#666" stroke-width="0.35"/>
<line x1="80.08" y1="222.95" x2="81.67" y2="222.95" stroke="#666" stroke-width="0.35"/>
<rect x="83.20" y="253.00" width="3.51" height="7.50" fill="#f5141a" stroke="#b50f16" stroke-width="0.4"/>
<line x1="84.88" y1="251.70" x2="84.88" y2="253.00" stroke="#666" stroke-width="0.35"/>
<line x1="84.08" y1="251.70" x2="85.67" y2="251.70" stroke="#666" stroke-width="0.35"/>
<rect x="86.95" y="240.00" width="3.51" height="20.50" fill="#f5141a" stroke="#b50f16" stroke-width="0.4"/>
<line x1="88.62" y1="238.70" x2="88.62" y2="240.00" stroke="#666" stroke-width="0.35"/>
<line x1="87.83" y1="238.70" x2="89.42" y2="238.70" stroke="#666" stroke-width="0.35"/>
<rect x="90.70" y="233.75" width="3.51" height="26.75" fill="#1b5a24" stroke="#0c3212" stroke-width="0.4"/>
<line x1="92.38" y1="232.45" x2="92.38" y2="233.75" stroke="#666" stroke-width="0.35"/>
<line x1="91.58" y1="232.45" x2="93.17" y2="232.45" stroke="#666" stroke-width="0.35"/>
<rect x="94.45" y="231.25" width="3.51" height="29.25" fill="#1b5a24" stroke="#0c3212" stroke-width="0.4"/>
<line x1="96.12" y1="229.95" x2="96.12" y2="231.25" stroke="#666" stroke-width="0.35"/>
<line x1="95.33" y1="229.95" x2="96.92" y2="229.95" stroke="#666" stroke-width="0.35"/>
<rect x="98.20" y="250.75" width="3.51" height="9.75" fill="#1b5a24" stroke="#0c3212" stroke-width="0.4"/>
<line x1="99.88" y1="249.45" x2="99.88" y2="250.75" stroke="#666" stroke-width="0.35"/>
<line x1="99.08" y1="249.45" x2="100.67" y2="249.45" stroke="#666" stroke-width="0.35"/>
<rect x="110.85" y="240.75" width="3.58" height="19.75" fill="#ffffff" stroke="#1fa548" stroke-width="0.7"/>
<line x1="112.50" y1="239.45" x2="112.50" y2="240.75" stroke="#666" stroke-width="0.35"/>
<line x1="111.70" y1="239.45" x2="113.30" y2="239.45" stroke="#666" stroke-width="0.35"/>
<rect x="114.85" y="246.25" width="3.33" height="14.25" fill="#ffffff" stroke="#1fa548" stroke-width="0.7"/>
<line x1="116.38" y1="244.95" x2="116.38" y2="246.25" stroke="#666" stroke-width="0.35"/>
<line x1="115.58" y1="244.95" x2="117.17" y2="244.95" stroke="#666" stroke-width="0.35"/>
<rect x="118.60" y="254.50" width="3.33" height="6.00" fill="#ffffff" stroke="#1fa548" stroke-width="0.7"/>
<line x1="120.12" y1="253.20" x2="120.12" y2="254.50" stroke="#666" stroke-width="0.35"/>
<line x1="119.33" y1="253.20" x2="120.92" y2="253.20" stroke="#666" stroke-width="0.35"/>
<rect x="122.20" y="238.75" width="4.01" height="21.75" fill="#17b04a" stroke="#138a36" stroke-width="0.4"/>
<line x1="124.12" y1="237.45" x2="124.12" y2="238.75" stroke="#666" stroke-width="0.35"/>
<line x1="123.33" y1="237.45" x2="124.92" y2="237.45" stroke="#666" stroke-width="0.35"/>
<rect x="126.45" y="246.25" width="3.51" height="14.25" fill="#17b04a" stroke="#138a36" stroke-width="0.4"/>
<line x1="128.12" y1="244.95" x2="128.12" y2="246.25" stroke="#666" stroke-width="0.35"/>
<line x1="127.33" y1="244.95" x2="128.93" y2="244.95" stroke="#666" stroke-width="0.35"/>
<rect x="130.20" y="244.25" width="3.51" height="16.25" fill="#17b04a" stroke="#138a36" stroke-width="0.4"/>
<line x1="131.88" y1="242.95" x2="131.88" y2="244.25" stroke="#666" stroke-width="0.35"/>
<line x1="131.07" y1="242.95" x2="132.68" y2="242.95" stroke="#666" stroke-width="0.35"/>
<rect x="133.95" y="237.50" width="3.51" height="23.00" fill="#8427b8" stroke="#5e1f80" stroke-width="0.4"/>
<line x1="135.62" y1="236.20" x2="135.62" y2="237.50" stroke="#666" stroke-width="0.35"/>
<line x1="134.82" y1="236.20" x2="136.43" y2="236.20" stroke="#666" stroke-width="0.35"/>
<rect x="137.70" y="245.50" width="3.51" height="15.00" fill="#8427b8" stroke="#5e1f80" stroke-width="0.4"/>
<line x1="139.38" y1="244.20" x2="139.38" y2="245.50" stroke="#666" stroke-width="0.35"/>
<line x1="138.57" y1="244.20" x2="140.18" y2="244.20" stroke="#666" stroke-width="0.35"/>
<rect x="141.45" y="258.75" width="3.51" height="1.75" fill="#8427b8" stroke="#5e1f80" stroke-width="0.4"/>
<line x1="143.12" y1="257.45" x2="143.12" y2="258.75" stroke="#666" stroke-width="0.35"/>
<line x1="142.32" y1="257.45" x2="143.93" y2="257.45" stroke="#666" stroke-width="0.35"/>
<rect x="145.20" y="250.75" width="3.76" height="9.75" fill="#f8d51f" stroke="#b89a10" stroke-width="0.4"/>
<line x1="147.00" y1="249.45" x2="147.00" y2="250.75" stroke="#666" stroke-width="0.35"/>
<line x1="146.20" y1="249.45" x2="147.80" y2="249.45" stroke="#666" stroke-width="0.35"/>
<rect x="149.20" y="254.50" width="3.26" height="6.00" fill="#f8d51f" stroke="#b89a10" stroke-width="0.4"/>
<line x1="150.75" y1="253.20" x2="150.75" y2="254.50" stroke="#666" stroke-width="0.35"/>
<line x1="149.95" y1="253.20" x2="151.55" y2="253.20" stroke="#666" stroke-width="0.35"/>
<rect x="152.70" y="252.50" width="3.51" height="8.00" fill="#f8d51f" stroke="#b89a10" stroke-width="0.4"/>
<line x1="154.38" y1="251.20" x2="154.38" y2="252.50" stroke="#666" stroke-width="0.35"/>
<line x1="153.57" y1="251.20" x2="155.18" y2="251.20" stroke="#666" stroke-width="0.35"/>
<rect x="156.95" y="220.50" width="3.76" height="40.00" fill="#f5141a" stroke="#b50f16" stroke-width="0.4"/>
<line x1="158.75" y1="219.20" x2="158.75" y2="220.50" stroke="#666" stroke-width="0.35"/>
<line x1="157.95" y1="219.20" x2="159.55" y2="219.20" stroke="#666" stroke-width="0.35"/>
<rect x="160.95" y="250.00" width="3.51" height="10.50" fill="#f5141a" stroke="#b50f16" stroke-width="0.4"/>
<line x1="162.62" y1="248.70" x2="162.62" y2="250.00" stroke="#666" stroke-width="0.35"/>
<line x1="161.82" y1="248.70" x2="163.43" y2="248.70" stroke="#666" stroke-width="0.35"/>
<rect x="164.70" y="253.00" width="3.26" height="7.50" fill="#f5141a" stroke="#b50f16" stroke-width="0.4"/>
<line x1="166.25" y1="251.70" x2="166.25" y2="253.00" stroke="#666" stroke-width="0.35"/>
<line x1="165.45" y1="251.70" x2="167.05" y2="251.70" stroke="#666" stroke-width="0.35"/>
<rect x="168.20" y="236.25" width="3.76" height="24.25" fill="#1b5a24" stroke="#0c3212" stroke-width="0.4"/>
<line x1="170.00" y1="234.95" x2="170.00" y2="236.25" stroke="#666" stroke-width="0.35"/>
<line x1="169.20" y1="234.95" x2="170.80" y2="234.95" stroke="#666" stroke-width="0.35"/>
<rect x="172.20" y="250.00" width="3.51" height="10.50" fill="#1b5a24" stroke="#0c3212" stroke-width="0.4"/>
<line x1="173.88" y1="248.70" x2="173.88" y2="250.00" stroke="#666" stroke-width="0.35"/>
<line x1="173.07" y1="248.70" x2="174.68" y2="248.70" stroke="#666" stroke-width="0.35"/>
<rect x="175.95" y="253.75" width="3.51" height="6.75" fill="#1b5a24" stroke="#0c3212" stroke-width="0.4"/>
<line x1="177.62" y1="252.45" x2="177.62" y2="253.75" stroke="#666" stroke-width="0.35"/>
<line x1="176.82" y1="252.45" x2="178.43" y2="252.45" stroke="#666" stroke-width="0.35"/>
<rect x="188.60" y="239.50" width="3.83" height="21.00" fill="#ffffff" stroke="#1fa548" stroke-width="0.7"/>
<line x1="190.38" y1="238.20" x2="190.38" y2="239.50" stroke="#666" stroke-width="0.35"/>
<line x1="189.57" y1="238.20" x2="191.18" y2="238.20" stroke="#666" stroke-width="0.35"/>
<rect x="192.85" y="240.75" width="3.33" height="19.75" fill="#ffffff" stroke="#1fa548" stroke-width="0.7"/>
<line x1="194.38" y1="239.45" x2="194.38" y2="240.75" stroke="#666" stroke-width="0.35"/>
<line x1="193.57" y1="239.45" x2="195.18" y2="239.45" stroke="#666" stroke-width="0.35"/>
<rect x="200.20" y="255.00" width="3.51" height="5.50" fill="#17b04a" stroke="#138a36" stroke-width="0.4"/>
<line x1="201.88" y1="253.70" x2="201.88" y2="255.00" stroke="#666" stroke-width="0.35"/>
<line x1="201.07" y1="253.70" x2="202.68" y2="253.70" stroke="#666" stroke-width="0.35"/>
<rect x="207.70" y="221.75" width="4.01" height="38.75" fill="#17b04a" stroke="#138a36" stroke-width="0.4"/>
<line x1="209.62" y1="220.45" x2="209.62" y2="221.75" stroke="#666" stroke-width="0.35"/>
<line x1="208.82" y1="220.45" x2="210.43" y2="220.45" stroke="#666" stroke-width="0.35"/>
<rect x="211.95" y="242.00" width="3.51" height="18.50" fill="#8427b8" stroke="#5e1f80" stroke-width="0.4"/>
<line x1="213.62" y1="240.70" x2="213.62" y2="242.00" stroke="#666" stroke-width="0.35"/>
<line x1="212.82" y1="240.70" x2="214.43" y2="240.70" stroke="#666" stroke-width="0.35"/>
<rect x="215.70" y="231.25" width="3.51" height="29.25" fill="#8427b8" stroke="#5e1f80" stroke-width="0.4"/>
<line x1="217.38" y1="229.95" x2="217.38" y2="231.25" stroke="#666" stroke-width="0.35"/>
<line x1="216.57" y1="229.95" x2="218.18" y2="229.95" stroke="#666" stroke-width="0.35"/>
<rect x="219.45" y="242.00" width="3.51" height="18.50" fill="#8427b8" stroke="#5e1f80" stroke-width="0.4"/>
<line x1="221.12" y1="240.70" x2="221.12" y2="242.00" stroke="#666" stroke-width="0.35"/>
<line x1="220.32" y1="240.70" x2="221.93" y2="240.70" stroke="#666" stroke-width="0.35"/>
<rect x="223.20" y="255.00" width="3.76" height="5.50" fill="#f8d51f" stroke="#b89a10" stroke-width="0.4"/>
<line x1="225.00" y1="253.70" x2="225.00" y2="255.00" stroke="#666" stroke-width="0.35"/>
<line x1="224.20" y1="253.70" x2="225.80" y2="253.70" stroke="#666" stroke-width="0.35"/>
<rect x="227.20" y="252.50" width="3.51" height="8.00" fill="#f8d51f" stroke="#b89a10" stroke-width="0.4"/>
<line x1="228.88" y1="251.20" x2="228.88" y2="252.50" stroke="#666" stroke-width="0.35"/>
<line x1="228.07" y1="251.20" x2="229.68" y2="251.20" stroke="#666" stroke-width="0.35"/>
<rect x="234.70" y="246.75" width="4.01" height="13.75" fill="#f5141a" stroke="#b50f16" stroke-width="0.4"/>
<line x1="236.62" y1="245.45" x2="236.62" y2="246.75" stroke="#666" stroke-width="0.35"/>
<line x1="235.82" y1="245.45" x2="237.43" y2="245.45" stroke="#666" stroke-width="0.35"/>
<rect x="246.45" y="245.00" width="3.51" height="15.50" fill="#1b5a24" stroke="#0c3212" stroke-width="0.4"/>
<line x1="248.12" y1="243.70" x2="248.12" y2="245.00" stroke="#666" stroke-width="0.35"/>
<line x1="247.32" y1="243.70" x2="248.93" y2="243.70" stroke="#666" stroke-width="0.35"/>
<rect x="266.60" y="253.00" width="3.33" height="7.50" fill="#ffffff" stroke="#1fa548" stroke-width="0.7"/>
<line x1="268.12" y1="251.70" x2="268.12" y2="253.00" stroke="#666" stroke-width="0.35"/>
<line x1="267.32" y1="251.70" x2="268.93" y2="251.70" stroke="#666" stroke-width="0.35"/>
<rect x="270.35" y="241.25" width="3.33" height="19.25" fill="#ffffff" stroke="#1fa548" stroke-width="0.7"/>
<line x1="271.88" y1="239.95" x2="271.88" y2="241.25" stroke="#666" stroke-width="0.35"/>
<line x1="271.07" y1="239.95" x2="272.68" y2="239.95" stroke="#666" stroke-width="0.35"/>
<rect x="274.10" y="233.75" width="3.83" height="26.75" fill="#ffffff" stroke="#1fa548" stroke-width="0.7"/>
<line x1="275.88" y1="232.45" x2="275.88" y2="233.75" stroke="#666" stroke-width="0.35"/>
<line x1="275.07" y1="232.45" x2="276.68" y2="232.45" stroke="#666" stroke-width="0.35"/>
<rect x="278.20" y="248.75" width="3.76" height="11.75" fill="#17b04a" stroke="#138a36" stroke-width="0.4"/>
<line x1="280.00" y1="247.45" x2="280.00" y2="248.75" stroke="#666" stroke-width="0.35"/>
<line x1="279.20" y1="247.45" x2="280.80" y2="247.45" stroke="#666" stroke-width="0.35"/>
<rect x="282.20" y="248.75" width="3.51" height="11.75" fill="#17b04a" stroke="#138a36" stroke-width="0.4"/>
<line x1="283.88" y1="247.45" x2="283.88" y2="248.75" stroke="#666" stroke-width="0.35"/>
<line x1="283.07" y1="247.45" x2="284.68" y2="247.45" stroke="#666" stroke-width="0.35"/>
<rect x="285.95" y="228.00" width="3.51" height="32.50" fill="#17b04a" stroke="#138a36" stroke-width="0.4"/>
<line x1="287.62" y1="226.70" x2="287.62" y2="228.00" stroke="#666" stroke-width="0.35"/>
<line x1="286.82" y1="226.70" x2="288.43" y2="226.70" stroke="#666" stroke-width="0.35"/>
<rect x="289.70" y="253.00" width="3.51" height="7.50" fill="#8427b8" stroke="#5e1f80" stroke-width="0.4"/>
<line x1="291.38" y1="251.70" x2="291.38" y2="253.00" stroke="#666" stroke-width="0.35"/>
<line x1="290.57" y1="251.70" x2="292.18" y2="251.70" stroke="#666" stroke-width="0.35"/>
<rect x="293.45" y="253.00" width="3.51" height="7.50" fill="#8427b8" stroke="#5e1f80" stroke-width="0.4"/>
<line x1="295.12" y1="251.70" x2="295.12" y2="253.00" stroke="#666" stroke-width="0.35"/>
<line x1="294.32" y1="251.70" x2="295.93" y2="251.70" stroke="#666" stroke-width="0.35"/>
<rect x="308.45" y="246.25" width="3.51" height="14.25" fill="#f8d51f" stroke="#b89a10" stroke-width="0.4"/>
<line x1="310.12" y1="244.95" x2="310.12" y2="246.25" stroke="#666" stroke-width="0.35"/>
<line x1="309.32" y1="244.95" x2="310.93" y2="244.95" stroke="#666" stroke-width="0.35"/>
<rect x="312.20" y="253.00" width="4.01" height="7.50" fill="#f5141a" stroke="#b50f16" stroke-width="0.4"/>
<line x1="314.12" y1="251.70" x2="314.12" y2="253.00" stroke="#666" stroke-width="0.35"/>
<line x1="313.32" y1="251.70" x2="314.93" y2="251.70" stroke="#666" stroke-width="0.35"/>
<rect x="316.45" y="253.00" width="3.51" height="7.50" fill="#f5141a" stroke="#b50f16" stroke-width="0.4"/>
<line x1="318.12" y1="251.70" x2="318.12" y2="253.00" stroke="#666" stroke-width="0.35"/>
<line x1="317.32" y1="251.70" x2="318.93" y2="251.70" stroke="#666" stroke-width="0.35"/>
<rect x="320.20" y="252.00" width="3.51" height="8.50" fill="#f5141a" stroke="#b50f16" stroke-width="0.4"/>
<line x1="321.88" y1="250.70" x2="321.88" y2="252.00" stroke="#666" stroke-width="0.35"/>
<line x1="321.07" y1="250.70" x2="322.68" y2="250.70" stroke="#666" stroke-width="0.35"/>
<rect x="323.95" y="242.00" width="3.51" height="18.50" fill="#1b5a24" stroke="#0c3212" stroke-width="0.4"/>
<line x1="325.62" y1="240.70" x2="325.62" y2="242.00" stroke="#666" stroke-width="0.35"/>
<line x1="324.82" y1="240.70" x2="326.43" y2="240.70" stroke="#666" stroke-width="0.35"/>
<rect x="327.70" y="242.00" width="3.51" height="18.50" fill="#1b5a24" stroke="#0c3212" stroke-width="0.4"/>
<line x1="329.38" y1="240.70" x2="329.38" y2="242.00" stroke="#666" stroke-width="0.35"/>
<line x1="328.57" y1="240.70" x2="330.18" y2="240.70" stroke="#666" stroke-width="0.35"/>
<rect x="331.45" y="233.75" width="3.51" height="26.75" fill="#1b5a24" stroke="#0c3212" stroke-width="0.4"/>
<line x1="333.12" y1="232.45" x2="333.12" y2="233.75" stroke="#666" stroke-width="0.35"/>
<line x1="332.32" y1="232.45" x2="333.93" y2="232.45" stroke="#666" stroke-width="0.35"/>
<rect x="344.60" y="243.00" width="3.33" height="17.50" fill="#ffffff" stroke="#1fa548" stroke-width="0.7"/>
<line x1="346.12" y1="241.70" x2="346.12" y2="243.00" stroke="#666" stroke-width="0.35"/>
<line x1="345.32" y1="241.70" x2="346.93" y2="241.70" stroke="#666" stroke-width="0.35"/>
<rect x="348.35" y="234.50" width="3.58" height="26.00" fill="#ffffff" stroke="#1fa548" stroke-width="0.7"/>
<line x1="350.00" y1="233.20" x2="350.00" y2="234.50" stroke="#666" stroke-width="0.35"/>
<line x1="349.20" y1="233.20" x2="350.80" y2="233.20" stroke="#666" stroke-width="0.35"/>
<rect x="355.95" y="245.00" width="3.51" height="15.50" fill="#17b04a" stroke="#138a36" stroke-width="0.4"/>
<line x1="357.62" y1="243.70" x2="357.62" y2="245.00" stroke="#666" stroke-width="0.35"/>
<line x1="356.82" y1="243.70" x2="358.43" y2="243.70" stroke="#666" stroke-width="0.35"/>
<rect x="359.70" y="239.25" width="4.01" height="21.25" fill="#17b04a" stroke="#138a36" stroke-width="0.4"/>
<line x1="361.62" y1="237.95" x2="361.62" y2="239.25" stroke="#666" stroke-width="0.35"/>
<line x1="360.82" y1="237.95" x2="362.43" y2="237.95" stroke="#666" stroke-width="0.35"/>
<rect x="363.95" y="247.00" width="3.51" height="13.50" fill="#17b04a" stroke="#138a36" stroke-width="0.4"/>
<line x1="365.62" y1="245.70" x2="365.62" y2="247.00" stroke="#666" stroke-width="0.35"/>
<line x1="364.82" y1="245.70" x2="366.43" y2="245.70" stroke="#666" stroke-width="0.35"/>
<rect x="367.70" y="252.50" width="3.51" height="8.00" fill="#8427b8" stroke="#5e1f80" stroke-width="0.4"/>
<line x1="369.38" y1="251.20" x2="369.38" y2="252.50" stroke="#666" stroke-width="0.35"/>
<line x1="368.57" y1="251.20" x2="370.18" y2="251.20" stroke="#666" stroke-width="0.35"/>
<rect x="371.45" y="254.50" width="3.51" height="6.00" fill="#8427b8" stroke="#5e1f80" stroke-width="0.4"/>
<line x1="373.12" y1="253.20" x2="373.12" y2="254.50" stroke="#666" stroke-width="0.35"/>
<line x1="372.32" y1="253.20" x2="373.93" y2="253.20" stroke="#666" stroke-width="0.35"/>
<rect x="375.20" y="255.75" width="3.51" height="4.75" fill="#8427b8" stroke="#5e1f80" stroke-width="0.4"/>
<line x1="376.88" y1="254.45" x2="376.88" y2="255.75" stroke="#666" stroke-width="0.35"/>
<line x1="376.07" y1="254.45" x2="377.68" y2="254.45" stroke="#666" stroke-width="0.35"/>
<rect x="378.95" y="252.50" width="3.51" height="8.00" fill="#f8d51f" stroke="#b89a10" stroke-width="0.4"/>
<line x1="380.62" y1="251.20" x2="380.62" y2="252.50" stroke="#666" stroke-width="0.35"/>
<line x1="379.82" y1="251.20" x2="381.43" y2="251.20" stroke="#666" stroke-width="0.35"/>
<rect x="382.70" y="254.50" width="3.51" height="6.00" fill="#f8d51f" stroke="#b89a10" stroke-width="0.4"/>
<line x1="384.38" y1="253.20" x2="384.38" y2="254.50" stroke="#666" stroke-width="0.35"/>
<line x1="383.57" y1="253.20" x2="385.18" y2="253.20" stroke="#666" stroke-width="0.35"/>
<rect x="390.20" y="254.50" width="3.51" height="6.00" fill="#f5141a" stroke="#b50f16" stroke-width="0.4"/>
<line x1="391.88" y1="253.20" x2="391.88" y2="254.50" stroke="#666" stroke-width="0.35"/>
<line x1="391.07" y1="253.20" x2="392.68" y2="253.20" stroke="#666" stroke-width="0.35"/>
<rect x="393.95" y="257.50" width="3.51" height="3.00" fill="#f5141a" stroke="#b50f16" stroke-width="0.4"/>
<line x1="395.62" y1="256.20" x2="395.62" y2="257.50" stroke="#666" stroke-width="0.35"/>
<line x1="394.82" y1="256.20" x2="396.43" y2="256.20" stroke="#666" stroke-width="0.35"/>
<rect x="397.70" y="258.00" width="3.51" height="2.50" fill="#f5141a" stroke="#b50f16" stroke-width="0.4"/>
<line x1="399.38" y1="256.70" x2="399.38" y2="258.00" stroke="#666" stroke-width="0.35"/>
<line x1="398.57" y1="256.70" x2="400.18" y2="256.70" stroke="#666" stroke-width="0.35"/>
<rect x="401.95" y="253.75" width="3.51" height="6.75" fill="#1b5a24" stroke="#0c3212" stroke-width="0.4"/>
<line x1="403.62" y1="252.45" x2="403.62" y2="253.75" stroke="#666" stroke-width="0.35"/>
<line x1="402.82" y1="252.45" x2="404.43" y2="252.45" stroke="#666" stroke-width="0.35"/>
<rect x="405.70" y="257.00" width="3.51" height="3.50" fill="#1b5a24" stroke="#0c3212" stroke-width="0.4"/>
<line x1="407.38" y1="255.70" x2="407.38" y2="257.00" stroke="#666" stroke-width="0.35"/>
<line x1="406.57" y1="255.70" x2="408.18" y2="255.70" stroke="#666" stroke-width="0.35"/>
<rect x="32.35" y="310.00" width="3.83" height="7.50" fill="#ffffff" stroke="#1fa548" stroke-width="0.7"/>
<line x1="34.12" y1="308.70" x2="34.12" y2="310.00" stroke="#666" stroke-width="0.35"/>
<line x1="33.33" y1="308.70" x2="34.92" y2="308.70" stroke="#666" stroke-width="0.35"/>
<rect x="36.60" y="309.25" width="3.33" height="8.25" fill="#ffffff" stroke="#1fa548" stroke-width="0.7"/>
<line x1="38.12" y1="307.95" x2="38.12" y2="309.25" stroke="#666" stroke-width="0.35"/>
<line x1="37.33" y1="307.95" x2="38.92" y2="307.95" stroke="#666" stroke-width="0.35"/>
<rect x="40.35" y="296.25" width="4.08" height="21.25" fill="#ffffff" stroke="#1fa548" stroke-width="0.7"/>
<line x1="42.25" y1="294.95" x2="42.25" y2="296.25" stroke="#666" stroke-width="0.35"/>
<line x1="41.45" y1="294.95" x2="43.05" y2="294.95" stroke="#666" stroke-width="0.35"/>
<rect x="44.70" y="311.75" width="3.51" height="5.75" fill="#17b04a" stroke="#138a36" stroke-width="0.4"/>
<line x1="46.38" y1="310.45" x2="46.38" y2="311.75" stroke="#666" stroke-width="0.35"/>
<line x1="45.58" y1="310.45" x2="47.17" y2="310.45" stroke="#666" stroke-width="0.35"/>
<rect x="48.45" y="313.25" width="3.51" height="4.25" fill="#17b04a" stroke="#138a36" stroke-width="0.4"/>
<line x1="50.12" y1="311.95" x2="50.12" y2="313.25" stroke="#666" stroke-width="0.35"/>
<line x1="49.33" y1="311.95" x2="50.92" y2="311.95" stroke="#666" stroke-width="0.35"/>
<rect x="52.20" y="291.25" width="3.51" height="26.25" fill="#17b04a" stroke="#138a36" stroke-width="0.4"/>
<line x1="53.88" y1="289.95" x2="53.88" y2="291.25" stroke="#666" stroke-width="0.35"/>
<line x1="53.08" y1="289.95" x2="54.67" y2="289.95" stroke="#666" stroke-width="0.35"/>
<rect x="55.95" y="311.25" width="3.51" height="6.25" fill="#8427b8" stroke="#5e1f80" stroke-width="0.4"/>
<line x1="57.62" y1="309.95" x2="57.62" y2="311.25" stroke="#666" stroke-width="0.35"/>
<line x1="56.83" y1="309.95" x2="58.42" y2="309.95" stroke="#666" stroke-width="0.35"/>
<rect x="59.70" y="311.75" width="3.51" height="5.75" fill="#8427b8" stroke="#5e1f80" stroke-width="0.4"/>
<line x1="61.38" y1="310.45" x2="61.38" y2="311.75" stroke="#666" stroke-width="0.35"/>
<line x1="60.58" y1="310.45" x2="62.17" y2="310.45" stroke="#666" stroke-width="0.35"/>
<rect x="63.45" y="297.50" width="3.51" height="20.00" fill="#8427b8" stroke="#5e1f80" stroke-width="0.4"/>
<line x1="65.12" y1="296.20" x2="65.12" y2="297.50" stroke="#666" stroke-width="0.35"/>
<line x1="64.33" y1="296.20" x2="65.92" y2="296.20" stroke="#666" stroke-width="0.35"/>
<rect x="67.20" y="314.50" width="3.51" height="3.00" fill="#f8d51f" stroke="#b89a10" stroke-width="0.4"/>
<line x1="68.88" y1="313.20" x2="68.88" y2="314.50" stroke="#666" stroke-width="0.35"/>
<line x1="68.08" y1="313.20" x2="69.67" y2="313.20" stroke="#666" stroke-width="0.35"/>
<rect x="70.95" y="310.75" width="3.51" height="6.75" fill="#f8d51f" stroke="#b89a10" stroke-width="0.4"/>
<line x1="72.62" y1="309.45" x2="72.62" y2="310.75" stroke="#666" stroke-width="0.35"/>
<line x1="71.83" y1="309.45" x2="73.42" y2="309.45" stroke="#666" stroke-width="0.35"/>
<rect x="74.70" y="303.75" width="4.01" height="13.75" fill="#f8d51f" stroke="#b89a10" stroke-width="0.4"/>
<line x1="76.62" y1="302.45" x2="76.62" y2="303.75" stroke="#666" stroke-width="0.35"/>
<line x1="75.83" y1="302.45" x2="77.42" y2="302.45" stroke="#666" stroke-width="0.35"/>
<rect x="78.95" y="316.00" width="3.51" height="1.50" fill="#f5141a" stroke="#b50f16" stroke-width="0.4"/>
<line x1="80.62" y1="314.70" x2="80.62" y2="316.00" stroke="#666" stroke-width="0.35"/>
<line x1="79.83" y1="314.70" x2="81.42" y2="314.70" stroke="#666" stroke-width="0.35"/>
<rect x="82.70" y="313.25" width="3.51" height="4.25" fill="#f5141a" stroke="#b50f16" stroke-width="0.4"/>
<line x1="84.38" y1="311.95" x2="84.38" y2="313.25" stroke="#666" stroke-width="0.35"/>
<line x1="83.58" y1="311.95" x2="85.17" y2="311.95" stroke="#666" stroke-width="0.35"/>
<rect x="86.45" y="301.25" width="3.51" height="16.25" fill="#f5141a" stroke="#b50f16" stroke-width="0.4"/>
<line x1="88.12" y1="299.95" x2="88.12" y2="301.25" stroke="#666" stroke-width="0.35"/>
<line x1="87.33" y1="299.95" x2="88.92" y2="299.95" stroke="#666" stroke-width="0.35"/>
<rect x="90.20" y="311.25" width="3.51" height="6.25" fill="#1b5a24" stroke="#0c3212" stroke-width="0.4"/>
<line x1="91.88" y1="309.95" x2="91.88" y2="311.25" stroke="#666" stroke-width="0.35"/>
<line x1="91.08" y1="309.95" x2="92.67" y2="309.95" stroke="#666" stroke-width="0.35"/>
<rect x="93.95" y="306.25" width="3.51" height="11.25" fill="#1b5a24" stroke="#0c3212" stroke-width="0.4"/>
<line x1="95.62" y1="304.95" x2="95.62" y2="306.25" stroke="#666" stroke-width="0.35"/>
<line x1="94.83" y1="304.95" x2="96.42" y2="304.95" stroke="#666" stroke-width="0.35"/>
<rect x="97.70" y="296.25" width="4.01" height="21.25" fill="#1b5a24" stroke="#0c3212" stroke-width="0.4"/>
<line x1="99.62" y1="294.95" x2="99.62" y2="296.25" stroke="#666" stroke-width="0.35"/>
<line x1="98.83" y1="294.95" x2="100.42" y2="294.95" stroke="#666" stroke-width="0.35"/>
<rect x="110.35" y="285.75" width="3.83" height="31.75" fill="#ffffff" stroke="#1fa548" stroke-width="0.7"/>
<line x1="112.12" y1="284.45" x2="112.12" y2="285.75" stroke="#666" stroke-width="0.35"/>
<line x1="111.33" y1="284.45" x2="112.92" y2="284.45" stroke="#666" stroke-width="0.35"/>
<rect x="114.60" y="282.50" width="3.58" height="35.00" fill="#ffffff" stroke="#1fa548" stroke-width="0.7"/>
<line x1="116.25" y1="281.20" x2="116.25" y2="282.50" stroke="#666" stroke-width="0.35"/>
<line x1="115.45" y1="281.20" x2="117.05" y2="281.20" stroke="#666" stroke-width="0.35"/>
<rect x="122.20" y="313.25" width="3.51" height="4.25" fill="#17b04a" stroke="#138a36" stroke-width="0.4"/>
<line x1="123.88" y1="311.95" x2="123.88" y2="313.25" stroke="#666" stroke-width="0.35"/>
<line x1="123.08" y1="311.95" x2="124.67" y2="311.95" stroke="#666" stroke-width="0.35"/>
<rect x="125.95" y="307.50" width="3.51" height="10.00" fill="#17b04a" stroke="#138a36" stroke-width="0.4"/>
<line x1="127.62" y1="306.20" x2="127.62" y2="307.50" stroke="#666" stroke-width="0.35"/>
<line x1="126.83" y1="306.20" x2="128.43" y2="306.20" stroke="#666" stroke-width="0.35"/>
<rect x="129.70" y="302.50" width="3.51" height="15.00" fill="#17b04a" stroke="#138a36" stroke-width="0.4"/>
<line x1="131.38" y1="301.20" x2="131.38" y2="302.50" stroke="#666" stroke-width="0.35"/>
<line x1="130.57" y1="301.20" x2="132.18" y2="301.20" stroke="#666" stroke-width="0.35"/>
<rect x="133.45" y="305.00" width="3.51" height="12.50" fill="#8427b8" stroke="#5e1f80" stroke-width="0.4"/>
<line x1="135.12" y1="303.70" x2="135.12" y2="305.00" stroke="#666" stroke-width="0.35"/>
<line x1="134.32" y1="303.70" x2="135.93" y2="303.70" stroke="#666" stroke-width="0.35"/>
<rect x="137.20" y="293.75" width="3.51" height="23.75" fill="#8427b8" stroke="#5e1f80" stroke-width="0.4"/>
<line x1="138.88" y1="292.45" x2="138.88" y2="293.75" stroke="#666" stroke-width="0.35"/>
<line x1="138.07" y1="292.45" x2="139.68" y2="292.45" stroke="#666" stroke-width="0.35"/>
<rect x="140.95" y="310.00" width="4.01" height="7.50" fill="#8427b8" stroke="#5e1f80" stroke-width="0.4"/>
<line x1="142.88" y1="308.70" x2="142.88" y2="310.00" stroke="#666" stroke-width="0.35"/>
<line x1="142.07" y1="308.70" x2="143.68" y2="308.70" stroke="#666" stroke-width="0.35"/>
<rect x="145.20" y="310.75" width="3.51" height="6.75" fill="#f8d51f" stroke="#b89a10" stroke-width="0.4"/>
<line x1="146.88" y1="309.45" x2="146.88" y2="310.75" stroke="#666" stroke-width="0.35"/>
<line x1="146.07" y1="309.45" x2="147.68" y2="309.45" stroke="#666" stroke-width="0.35"/>
<rect x="148.95" y="310.00" width="3.51" height="7.50" fill="#f8d51f" stroke="#b89a10" stroke-width="0.4"/>
<line x1="150.62" y1="308.70" x2="150.62" y2="310.00" stroke="#666" stroke-width="0.35"/>
<line x1="149.82" y1="308.70" x2="151.43" y2="308.70" stroke="#666" stroke-width="0.35"/>
<rect x="155.70" y="301.75" width="3.76" height="15.75" fill="#f5141a" stroke="#b50f16" stroke-width="0.4"/>
<line x1="157.50" y1="300.45" x2="157.50" y2="301.75" stroke="#666" stroke-width="0.35"/>
<line x1="156.70" y1="300.45" x2="158.30" y2="300.45" stroke="#666" stroke-width="0.35"/>
<rect x="159.70" y="311.75" width="3.51" height="5.75" fill="#f5141a" stroke="#b50f16" stroke-width="0.4"/>
<line x1="161.38" y1="310.45" x2="161.38" y2="311.75" stroke="#666" stroke-width="0.35"/>
<line x1="160.57" y1="310.45" x2="162.18" y2="310.45" stroke="#666" stroke-width="0.35"/>
<rect x="163.45" y="316.00" width="3.51" height="1.50" fill="#f5141a" stroke="#b50f16" stroke-width="0.4"/>
<line x1="165.12" y1="314.70" x2="165.12" y2="316.00" stroke="#666" stroke-width="0.35"/>
<line x1="164.32" y1="314.70" x2="165.93" y2="314.70" stroke="#666" stroke-width="0.35"/>
<rect x="167.20" y="312.00" width="3.51" height="5.50" fill="#1b5a24" stroke="#0c3212" stroke-width="0.4"/>
<line x1="168.88" y1="310.70" x2="168.88" y2="312.00" stroke="#666" stroke-width="0.35"/>
<line x1="168.07" y1="310.70" x2="169.68" y2="310.70" stroke="#666" stroke-width="0.35"/>
<rect x="170.95" y="300.00" width="4.01" height="17.50" fill="#1b5a24" stroke="#0c3212" stroke-width="0.4"/>
<line x1="172.88" y1="298.70" x2="172.88" y2="300.00" stroke="#666" stroke-width="0.35"/>
<line x1="172.07" y1="298.70" x2="173.68" y2="298.70" stroke="#666" stroke-width="0.35"/>
<rect x="175.20" y="316.00" width="3.51" height="1.50" fill="#1b5a24" stroke="#0c3212" stroke-width="0.4"/>
<line x1="176.88" y1="314.70" x2="176.88" y2="316.00" stroke="#666" stroke-width="0.35"/>
<line x1="176.07" y1="314.70" x2="177.68" y2="314.70" stroke="#666" stroke-width="0.35"/>
<rect x="187.85" y="301.25" width="4.08" height="16.25" fill="#ffffff" stroke="#1fa548" stroke-width="0.7"/>
<line x1="189.75" y1="299.95" x2="189.75" y2="301.25" stroke="#666" stroke-width="0.35"/>
<line x1="188.95" y1="299.95" x2="190.55" y2="299.95" stroke="#666" stroke-width="0.35"/>
<rect x="192.35" y="306.75" width="3.33" height="10.75" fill="#ffffff" stroke="#1fa548" stroke-width="0.7"/>
<line x1="193.88" y1="305.45" x2="193.88" y2="306.75" stroke="#666" stroke-width="0.35"/>
<line x1="193.07" y1="305.45" x2="194.68" y2="305.45" stroke="#666" stroke-width="0.35"/>
<rect x="196.10" y="314.50" width="3.33" height="3.00" fill="#ffffff" stroke="#1fa548" stroke-width="0.7"/>
<line x1="197.62" y1="313.20" x2="197.62" y2="314.50" stroke="#666" stroke-width="0.35"/>
<line x1="196.82" y1="313.20" x2="198.43" y2="313.20" stroke="#666" stroke-width="0.35"/>
<rect x="199.70" y="313.75" width="3.51" height="3.75" fill="#17b04a" stroke="#138a36" stroke-width="0.4"/>
<line x1="201.38" y1="312.45" x2="201.38" y2="313.75" stroke="#666" stroke-width="0.35"/>
<line x1="200.57" y1="312.45" x2="202.18" y2="312.45" stroke="#666" stroke-width="0.35"/>
<rect x="203.45" y="315.50" width="3.51" height="2.00" fill="#17b04a" stroke="#138a36" stroke-width="0.4"/>
<line x1="205.12" y1="314.20" x2="205.12" y2="315.50" stroke="#666" stroke-width="0.35"/>
<line x1="204.32" y1="314.20" x2="205.93" y2="314.20" stroke="#666" stroke-width="0.35"/>
<rect x="207.20" y="300.75" width="4.01" height="16.75" fill="#17b04a" stroke="#138a36" stroke-width="0.4"/>
<line x1="209.12" y1="299.45" x2="209.12" y2="300.75" stroke="#666" stroke-width="0.35"/>
<line x1="208.32" y1="299.45" x2="209.93" y2="299.45" stroke="#666" stroke-width="0.35"/>
<rect x="211.45" y="314.50" width="3.51" height="3.00" fill="#8427b8" stroke="#5e1f80" stroke-width="0.4"/>
<line x1="213.12" y1="313.20" x2="213.12" y2="314.50" stroke="#666" stroke-width="0.35"/>
<line x1="212.32" y1="313.20" x2="213.93" y2="313.20" stroke="#666" stroke-width="0.35"/>
<rect x="215.20" y="308.00" width="3.51" height="9.50" fill="#8427b8" stroke="#5e1f80" stroke-width="0.4"/>
<line x1="216.88" y1="306.70" x2="216.88" y2="308.00" stroke="#666" stroke-width="0.35"/>
<line x1="216.07" y1="306.70" x2="217.68" y2="306.70" stroke="#666" stroke-width="0.35"/>
<rect x="218.95" y="308.00" width="3.51" height="9.50" fill="#8427b8" stroke="#5e1f80" stroke-width="0.4"/>
<line x1="220.62" y1="306.70" x2="220.62" y2="308.00" stroke="#666" stroke-width="0.35"/>
<line x1="219.82" y1="306.70" x2="221.43" y2="306.70" stroke="#666" stroke-width="0.35"/>
<rect x="222.70" y="313.25" width="3.51" height="4.25" fill="#f8d51f" stroke="#b89a10" stroke-width="0.4"/>
<line x1="224.38" y1="311.95" x2="224.38" y2="313.25" stroke="#666" stroke-width="0.35"/>
<line x1="223.57" y1="311.95" x2="225.18" y2="311.95" stroke="#666" stroke-width="0.35"/>
<rect x="226.45" y="308.75" width="3.51" height="8.75" fill="#f8d51f" stroke="#b89a10" stroke-width="0.4"/>
<line x1="228.12" y1="307.45" x2="228.12" y2="308.75" stroke="#666" stroke-width="0.35"/>
<line x1="227.32" y1="307.45" x2="228.93" y2="307.45" stroke="#666" stroke-width="0.35"/>
<rect x="230.20" y="312.50" width="3.51" height="5.00" fill="#f8d51f" stroke="#b89a10" stroke-width="0.4"/>
<line x1="231.88" y1="311.20" x2="231.88" y2="312.50" stroke="#666" stroke-width="0.35"/>
<line x1="231.07" y1="311.20" x2="232.68" y2="311.20" stroke="#666" stroke-width="0.35"/>
<rect x="233.95" y="313.25" width="3.51" height="4.25" fill="#f5141a" stroke="#b50f16" stroke-width="0.4"/>
<line x1="235.62" y1="311.95" x2="235.62" y2="313.25" stroke="#666" stroke-width="0.35"/>
<line x1="234.82" y1="311.95" x2="236.43" y2="311.95" stroke="#666" stroke-width="0.35"/>
<rect x="237.70" y="310.00" width="3.51" height="7.50" fill="#f5141a" stroke="#b50f16" stroke-width="0.4"/>
<line x1="239.38" y1="308.70" x2="239.38" y2="310.00" stroke="#666" stroke-width="0.35"/>
<line x1="238.57" y1="308.70" x2="240.18" y2="308.70" stroke="#666" stroke-width="0.35"/>
<rect x="241.45" y="310.00" width="3.51" height="7.50" fill="#f5141a" stroke="#b50f16" stroke-width="0.4"/>
<line x1="243.12" y1="308.70" x2="243.12" y2="310.00" stroke="#666" stroke-width="0.35"/>
<line x1="242.32" y1="308.70" x2="243.93" y2="308.70" stroke="#666" stroke-width="0.35"/>
<rect x="245.20" y="305.50" width="4.01" height="12.00" fill="#1b5a24" stroke="#0c3212" stroke-width="0.4"/>
<line x1="247.12" y1="304.20" x2="247.12" y2="305.50" stroke="#666" stroke-width="0.35"/>
<line x1="246.32" y1="304.20" x2="247.93" y2="304.20" stroke="#666" stroke-width="0.35"/>
<rect x="249.45" y="313.00" width="3.51" height="4.50" fill="#1b5a24" stroke="#0c3212" stroke-width="0.4"/>
<line x1="251.12" y1="311.70" x2="251.12" y2="313.00" stroke="#666" stroke-width="0.35"/>
<line x1="250.32" y1="311.70" x2="251.93" y2="311.70" stroke="#666" stroke-width="0.35"/>
<rect x="253.20" y="314.50" width="3.51" height="3.00" fill="#1b5a24" stroke="#0c3212" stroke-width="0.4"/>
<line x1="254.88" y1="313.20" x2="254.88" y2="314.50" stroke="#666" stroke-width="0.35"/>
<line x1="254.07" y1="313.20" x2="255.68" y2="313.20" stroke="#666" stroke-width="0.35"/>
<rect x="265.35" y="267.50" width="4.08" height="50.00" fill="#ffffff" stroke="#1fa548" stroke-width="0.7"/>
<line x1="267.25" y1="266.20" x2="267.25" y2="267.50" stroke="#666" stroke-width="0.35"/>
<line x1="266.45" y1="266.20" x2="268.05" y2="266.20" stroke="#666" stroke-width="0.35"/>
<rect x="269.85" y="282.00" width="3.83" height="35.50" fill="#ffffff" stroke="#1fa548" stroke-width="0.7"/>
<line x1="271.62" y1="280.70" x2="271.62" y2="282.00" stroke="#666" stroke-width="0.35"/>
<line x1="270.82" y1="280.70" x2="272.43" y2="280.70" stroke="#666" stroke-width="0.35"/>
<rect x="277.20" y="280.00" width="4.01" height="37.50" fill="#17b04a" stroke="#138a36" stroke-width="0.4"/>
<line x1="279.12" y1="278.70" x2="279.12" y2="280.00" stroke="#666" stroke-width="0.35"/>
<line x1="278.32" y1="278.70" x2="279.93" y2="278.70" stroke="#666" stroke-width="0.35"/>
<rect x="281.45" y="313.25" width="3.51" height="4.25" fill="#17b04a" stroke="#138a36" stroke-width="0.4"/>
<line x1="283.12" y1="311.95" x2="283.12" y2="313.25" stroke="#666" stroke-width="0.35"/>
<line x1="282.32" y1="311.95" x2="283.93" y2="311.95" stroke="#666" stroke-width="0.35"/>
<rect x="285.20" y="297.50" width="3.51" height="20.00" fill="#17b04a" stroke="#138a36" stroke-width="0.4"/>
<line x1="286.88" y1="296.20" x2="286.88" y2="297.50" stroke="#666" stroke-width="0.35"/>
<line x1="286.07" y1="296.20" x2="287.68" y2="296.20" stroke="#666" stroke-width="0.35"/>
<rect x="288.95" y="287.50" width="3.51" height="30.00" fill="#8427b8" stroke="#5e1f80" stroke-width="0.4"/>
<line x1="290.62" y1="286.20" x2="290.62" y2="287.50" stroke="#666" stroke-width="0.35"/>
<line x1="289.82" y1="286.20" x2="291.43" y2="286.20" stroke="#666" stroke-width="0.35"/>
<rect x="292.70" y="290.75" width="4.01" height="26.75" fill="#8427b8" stroke="#5e1f80" stroke-width="0.4"/>
<line x1="294.62" y1="289.45" x2="294.62" y2="290.75" stroke="#666" stroke-width="0.35"/>
<line x1="293.82" y1="289.45" x2="295.43" y2="289.45" stroke="#666" stroke-width="0.35"/>
<rect x="296.95" y="312.50" width="3.01" height="5.00" fill="#8427b8" stroke="#5e1f80" stroke-width="0.4"/>
<line x1="298.38" y1="311.20" x2="298.38" y2="312.50" stroke="#666" stroke-width="0.35"/>
<line x1="297.57" y1="311.20" x2="299.18" y2="311.20" stroke="#666" stroke-width="0.35"/>
<rect x="300.20" y="293.75" width="4.26" height="23.75" fill="#f8d51f" stroke="#b89a10" stroke-width="0.4"/>
<line x1="302.25" y1="292.45" x2="302.25" y2="293.75" stroke="#666" stroke-width="0.35"/>
<line x1="301.45" y1="292.45" x2="303.05" y2="292.45" stroke="#666" stroke-width="0.35"/>
<rect x="315.20" y="302.50" width="4.01" height="15.00" fill="#f5141a" stroke="#b50f16" stroke-width="0.4"/>
<line x1="317.12" y1="301.20" x2="317.12" y2="302.50" stroke="#666" stroke-width="0.35"/>
<line x1="316.32" y1="301.20" x2="317.93" y2="301.20" stroke="#666" stroke-width="0.35"/>
<rect x="319.45" y="315.50" width="3.51" height="2.00" fill="#f5141a" stroke="#b50f16" stroke-width="0.4"/>
<line x1="321.12" y1="314.20" x2="321.12" y2="315.50" stroke="#666" stroke-width="0.35"/>
<line x1="320.32" y1="314.20" x2="321.93" y2="314.20" stroke="#666" stroke-width="0.35"/>
<rect x="323.20" y="315.00" width="3.51" height="2.50" fill="#1b5a24" stroke="#0c3212" stroke-width="0.4"/>
<line x1="324.88" y1="313.70" x2="324.88" y2="315.00" stroke="#666" stroke-width="0.35"/>
<line x1="324.07" y1="313.70" x2="325.68" y2="313.70" stroke="#666" stroke-width="0.35"/>
<rect x="326.95" y="307.50" width="3.76" height="10.00" fill="#1b5a24" stroke="#0c3212" stroke-width="0.4"/>
<line x1="328.75" y1="306.20" x2="328.75" y2="307.50" stroke="#666" stroke-width="0.35"/>
<line x1="327.95" y1="306.20" x2="329.55" y2="306.20" stroke="#666" stroke-width="0.35"/>
<rect x="330.95" y="315.00" width="3.51" height="2.50" fill="#1b5a24" stroke="#0c3212" stroke-width="0.4"/>
<line x1="332.62" y1="313.70" x2="332.62" y2="315.00" stroke="#666" stroke-width="0.35"/>
<line x1="331.82" y1="313.70" x2="333.43" y2="313.70" stroke="#666" stroke-width="0.35"/>
<rect x="343.60" y="303.00" width="3.83" height="14.50" fill="#ffffff" stroke="#1fa548" stroke-width="0.7"/>
<line x1="345.38" y1="301.70" x2="345.38" y2="303.00" stroke="#666" stroke-width="0.35"/>
<line x1="344.57" y1="301.70" x2="346.18" y2="301.70" stroke="#666" stroke-width="0.35"/>
<rect x="347.85" y="299.25" width="3.83" height="18.25" fill="#ffffff" stroke="#1fa548" stroke-width="0.7"/>
<line x1="349.62" y1="297.95" x2="349.62" y2="299.25" stroke="#666" stroke-width="0.35"/>
<line x1="348.82" y1="297.95" x2="350.43" y2="297.95" stroke="#666" stroke-width="0.35"/>
<rect x="352.10" y="306.25" width="3.33" height="11.25" fill="#ffffff" stroke="#1fa548" stroke-width="0.7"/>
<line x1="353.62" y1="304.95" x2="353.62" y2="306.25" stroke="#666" stroke-width="0.35"/>
<line x1="352.82" y1="304.95" x2="354.43" y2="304.95" stroke="#666" stroke-width="0.35"/>
<rect x="362.70" y="295.00" width="4.01" height="22.50" fill="#17b04a" stroke="#138a36" stroke-width="0.4"/>
<line x1="364.62" y1="293.70" x2="364.62" y2="295.00" stroke="#666" stroke-width="0.35"/>
<line x1="363.82" y1="293.70" x2="365.43" y2="293.70" stroke="#666" stroke-width="0.35"/>
<rect x="366.95" y="300.00" width="3.51" height="17.50" fill="#8427b8" stroke="#5e1f80" stroke-width="0.4"/>
<line x1="368.62" y1="298.70" x2="368.62" y2="300.00" stroke="#666" stroke-width="0.35"/>
<line x1="367.82" y1="298.70" x2="369.43" y2="298.70" stroke="#666" stroke-width="0.35"/>
<rect x="370.70" y="312.00" width="3.51" height="5.50" fill="#8427b8" stroke="#5e1f80" stroke-width="0.4"/>
<line x1="372.38" y1="310.70" x2="372.38" y2="312.00" stroke="#666" stroke-width="0.35"/>
<line x1="371.57" y1="310.70" x2="373.18" y2="310.70" stroke="#666" stroke-width="0.35"/>
<rect x="374.45" y="315.00" width="3.01" height="2.50" fill="#8427b8" stroke="#5e1f80" stroke-width="0.4"/>
<line x1="375.88" y1="313.70" x2="375.88" y2="315.00" stroke="#666" stroke-width="0.35"/>
<line x1="375.07" y1="313.70" x2="376.68" y2="313.70" stroke="#666" stroke-width="0.35"/>
<rect x="378.20" y="301.25" width="3.76" height="16.25" fill="#f8d51f" stroke="#b89a10" stroke-width="0.4"/>
<line x1="380.00" y1="299.95" x2="380.00" y2="301.25" stroke="#666" stroke-width="0.35"/>
<line x1="379.20" y1="299.95" x2="380.80" y2="299.95" stroke="#666" stroke-width="0.35"/>
<rect x="382.20" y="308.75" width="3.26" height="8.75" fill="#f8d51f" stroke="#b89a10" stroke-width="0.4"/>
<line x1="383.75" y1="307.45" x2="383.75" y2="308.75" stroke="#666" stroke-width="0.35"/>
<line x1="382.95" y1="307.45" x2="384.55" y2="307.45" stroke="#666" stroke-width="0.35"/>
<rect x="385.70" y="301.25" width="3.76" height="16.25" fill="#f8d51f" stroke="#b89a10" stroke-width="0.4"/>
<line x1="387.50" y1="299.95" x2="387.50" y2="301.25" stroke="#666" stroke-width="0.35"/>
<line x1="386.70" y1="299.95" x2="388.30" y2="299.95" stroke="#666" stroke-width="0.35"/>
<rect x="393.20" y="307.00" width="3.76" height="10.50" fill="#f5141a" stroke="#b50f16" stroke-width="0.4"/>
<line x1="395.00" y1="305.70" x2="395.00" y2="307.00" stroke="#666" stroke-width="0.35"/>
<line x1="394.20" y1="305.70" x2="395.80" y2="305.70" stroke="#666" stroke-width="0.35"/>
<rect x="397.20" y="302.00" width="4.01" height="15.50" fill="#f5141a" stroke="#b50f16" stroke-width="0.4"/>
<line x1="399.12" y1="300.70" x2="399.12" y2="302.00" stroke="#666" stroke-width="0.35"/>
<line x1="398.32" y1="300.70" x2="399.93" y2="300.70" stroke="#666" stroke-width="0.35"/>
<rect x="401.45" y="309.25" width="3.51" height="8.25" fill="#1b5a24" stroke="#0c3212" stroke-width="0.4"/>
<line x1="403.12" y1="307.95" x2="403.12" y2="309.25" stroke="#666" stroke-width="0.35"/>
<line x1="402.32" y1="307.95" x2="403.93" y2="307.95" stroke="#666" stroke-width="0.35"/>
<rect x="405.20" y="302.00" width="3.51" height="15.50" fill="#1b5a24" stroke="#0c3212" stroke-width="0.4"/>
<line x1="406.88" y1="300.70" x2="406.88" y2="302.00" stroke="#666" stroke-width="0.35"/>
<line x1="406.07" y1="300.70" x2="407.68" y2="300.70" stroke="#666" stroke-width="0.35"/>
<rect x="408.95" y="306.25" width="3.51" height="11.25" fill="#1b5a24" stroke="#0c3212" stroke-width="0.4"/>
<line x1="410.62" y1="304.95" x2="410.62" y2="306.25" stroke="#666" stroke-width="0.35"/>
<line x1="409.82" y1="304.95" x2="411.43" y2="304.95" stroke="#666" stroke-width="0.35"/>
<line x1="28.50" y1="196.00" x2="28.50" y2="260.50" stroke="#3a3a3a" stroke-width="0.8"/>
<line x1="28.50" y1="260.50" x2="417.50" y2="260.50" stroke="#3a3a3a" stroke-width="0.8"/>
<line x1="28.50" y1="263.00" x2="28.50" y2="317.50" stroke="#3a3a3a" stroke-width="0.8"/>
<line x1="28.50" y1="317.50" x2="417.50" y2="317.50" stroke="#3a3a3a" stroke-width="0.8"/>
<line x1="26.50" y1="197.50" x2="28.00" y2="197.50" stroke="#444" stroke-width="0.5"/>
<text x="25.50" y="198.80" font-size="3.4" text-anchor="end" fill="#222" stroke="#222" stroke-width="0.08">1</text>
<line x1="26.50" y1="260.50" x2="28.00" y2="260.50" stroke="#444" stroke-width="0.5"/>
<text x="25.50" y="261.80" font-size="3.4" text-anchor="end" fill="#222" stroke="#222" stroke-width="0.08">0</text>
<line x1="26.50" y1="264.50" x2="28.00" y2="264.50" stroke="#444" stroke-width="0.5"/>
<text x="25.50" y="265.80" font-size="3.4" text-anchor="end" fill="#222" stroke="#222" stroke-width="0.08">1</text>
<line x1="26.50" y1="317.50" x2="28.00" y2="317.50" stroke="#444" stroke-width="0.5"/>
<text x="25.50" y="318.80" font-size="3.4" text-anchor="end" fill="#222" stroke="#222" stroke-width="0.08">0</text>
<line x1="28.00" y1="260.50" x2="28.00" y2="262.00" stroke="#444" stroke-width="0.5"/>
<line x1="28.00" y1="317.50" x2="28.00" y2="319.00" stroke="#444" stroke-width="0.5"/>
<line x1="117.50" y1="260.50" x2="117.50" y2="262.00" stroke="#444" stroke-width="0.5"/>
<line x1="117.50" y1="317.50" x2="117.50" y2="319.00" stroke="#444" stroke-width="0.5"/>
<line x1="207.00" y1="260.50" x2="207.00" y2="262.00" stroke="#444" stroke-width="0.5"/>
<line x1="207.00" y1="317.50" x2="207.00" y2="319.00" stroke="#444" stroke-width="0.5"/>
<line x1="286.00" y1="260.50" x2="286.00" y2="262.00" stroke="#444" stroke-width="0.5"/>
<line x1="286.00" y1="317.50" x2="286.00" y2="319.00" stroke="#444" stroke-width="0.5"/>
<line x1="343.00" y1="260.50" x2="343.00" y2="262.00" stroke="#444" stroke-width="0.5"/>
<line x1="343.00" y1="317.50" x2="343.00" y2="319.00" stroke="#444" stroke-width="0.5"/>
<line x1="417.50" y1="260.50" x2="417.50" y2="262.00" stroke="#444" stroke-width="0.5"/>
<line x1="417.50" y1="317.50" x2="417.50" y2="319.00" stroke="#444" stroke-width="0.5"/>
<text x="18.70" y="225.50" font-size="10" text-anchor="middle" fill="#111" textLength="24.00" lengthAdjust="spacingAndGlyphs" transform="rotate(-90 18.70 225.50)" stroke="#111" stroke-width="0.2">AIM2</text>
<text x="18.70" y="288.00" font-size="10" text-anchor="middle" fill="#111" textLength="24.00" lengthAdjust="spacingAndGlyphs" transform="rotate(-90 18.70 288.00)" stroke="#111" stroke-width="0.2">AIM2</text>
<text x="81.50" y="216.30" font-size="6.5" text-anchor="middle" fill="#ee1c24" font-weight="bold" textLength="23.00" lengthAdjust="spacingAndGlyphs" stroke="#ee1c24" stroke-width="0.08">sz-HSF1</text>
<text x="151.00" y="216.00" font-size="6.5" text-anchor="middle" fill="#ee1c24" font-weight="bold" textLength="20.00" lengthAdjust="spacingAndGlyphs" stroke="#ee1c24" stroke-width="0.08">sz-HSF2</text>
<text x="225.50" y="217.00" font-size="6.5" text-anchor="middle" fill="#ee1c24" font-weight="bold" textLength="21.00" lengthAdjust="spacingAndGlyphs" stroke="#ee1c24" stroke-width="0.08">sz-HSF3</text>
<text x="289.38" y="222.50" font-size="6.5" text-anchor="middle" fill="#ee1c24" font-weight="bold" textLength="21.25" lengthAdjust="spacingAndGlyphs" stroke="#ee1c24" stroke-width="0.08">sz-HSF4</text>
<text x="384.62" y="220.00" font-size="6.5" text-anchor="middle" fill="#ee1c24" font-weight="bold" textLength="21.75" lengthAdjust="spacingAndGlyphs" stroke="#ee1c24" stroke-width="0.08">sz-HSF5</text>
<text x="64.50" y="273.30" font-size="6.5" text-anchor="middle" fill="#1a9438" font-weight="bold" textLength="23.00" lengthAdjust="spacingAndGlyphs" stroke="#1a9438" stroke-width="0.08">hc-HSF1</text>
<text x="164.50" y="275.50" font-size="6.5" text-anchor="middle" fill="#1a9438" font-weight="bold" textLength="23.00" lengthAdjust="spacingAndGlyphs" stroke="#1a9438" stroke-width="0.08">hc-HSF2</text>
<text x="243.75" y="273.70" font-size="6.5" text-anchor="middle" fill="#1a9438" font-weight="bold" textLength="22.50" lengthAdjust="spacingAndGlyphs" stroke="#1a9438" stroke-width="0.08">hc-HSF3</text>
<text x="313.25" y="273.70" font-size="6.5" text-anchor="middle" fill="#1a9438" font-weight="bold" textLength="22.50" lengthAdjust="spacingAndGlyphs" stroke="#1a9438" stroke-width="0.08">hc-HSF4</text>
<text x="389.88" y="273.70" font-size="6.5" text-anchor="middle" fill="#1a9438" font-weight="bold" textLength="22.25" lengthAdjust="spacingAndGlyphs" stroke="#1a9438" stroke-width="0.08">hc-HSF5</text>
<text x="35.00" y="331.00" font-size="9.4" text-anchor="middle" fill="#111" textLength="4.90" lengthAdjust="spacingAndGlyphs" stroke="#111" stroke-width="0.2">1</text>
<text x="48.75" y="331.00" font-size="9.4" text-anchor="middle" fill="#111" textLength="4.90" lengthAdjust="spacingAndGlyphs" stroke="#111" stroke-width="0.2">2</text>
<text x="62.00" y="331.00" font-size="9.4" text-anchor="middle" fill="#111" textLength="4.90" lengthAdjust="spacingAndGlyphs" stroke="#111" stroke-width="0.2">3</text>
<text x="73.75" y="331.00" font-size="9.4" text-anchor="middle" fill="#111" textLength="4.90" lengthAdjust="spacingAndGlyphs" stroke="#111" stroke-width="0.2">4</text>
<text x="87.00" y="331.00" font-size="9.4" text-anchor="middle" fill="#111" textLength="4.90" lengthAdjust="spacingAndGlyphs" stroke="#111" stroke-width="0.2">5</text>
<text x="98.75" y="331.00" font-size="9.4" text-anchor="middle" fill="#111" textLength="4.90" lengthAdjust="spacingAndGlyphs" stroke="#111" stroke-width="0.2">6</text>
<text x="35.00" y="321.30" font-size="2.4" text-anchor="middle" fill="#222" font-weight="bold" font-style="italic" stroke="#222" stroke-width="0.08">1 3 24</text>
<text x="62.00" y="321.30" font-size="2.4" text-anchor="middle" fill="#222" font-weight="bold" font-style="italic" stroke="#222" stroke-width="0.08">1 3 24</text>
<text x="87.00" y="321.30" font-size="2.4" text-anchor="middle" fill="#222" font-weight="bold" font-style="italic" stroke="#222" stroke-width="0.08">1 3 24</text>
<text x="111.25" y="330.20" font-size="9.4" text-anchor="middle" fill="#111" textLength="4.90" lengthAdjust="spacingAndGlyphs" stroke="#111" stroke-width="0.2">1</text>
<text x="125.00" y="330.20" font-size="9.4" text-anchor="middle" fill="#111" textLength="4.90" lengthAdjust="spacingAndGlyphs" stroke="#111" stroke-width="0.2">2</text>
<text x="138.00" y="330.20" font-size="9.4" text-anchor="middle" fill="#111" textLength="4.90" lengthAdjust="spacingAndGlyphs" stroke="#111" stroke-width="0.2">3</text>
<text x="150.00" y="330.20" font-size="9.4" text-anchor="middle" fill="#111" textLength="4.90" lengthAdjust="spacingAndGlyphs" stroke="#111" stroke-width="0.2">4</text>
<text x="163.75" y="330.20" font-size="9.4" text-anchor="middle" fill="#111" textLength="4.90" lengthAdjust="spacingAndGlyphs" stroke="#111" stroke-width="0.2">5</text>
<text x="175.00" y="330.20" font-size="9.4" text-anchor="middle" fill="#111" textLength="4.90" lengthAdjust="spacingAndGlyphs" stroke="#111" stroke-width="0.2">6</text>
<text x="111.25" y="321.30" font-size="2.4" text-anchor="middle" fill="#222" font-weight="bold" font-style="italic" stroke="#222" stroke-width="0.08">1 3 24</text>
<text x="138.00" y="321.30" font-size="2.4" text-anchor="middle" fill="#222" font-weight="bold" font-style="italic" stroke="#222" stroke-width="0.08">1 3 24</text>
<text x="163.75" y="321.30" font-size="2.4" text-anchor="middle" fill="#222" font-weight="bold" font-style="italic" stroke="#222" stroke-width="0.08">1 3 24</text>
<text x="190.50" y="329.90" font-size="9.4" text-anchor="middle" fill="#111" textLength="4.90" lengthAdjust="spacingAndGlyphs" stroke="#111" stroke-width="0.2">1</text>
<text x="204.25" y="329.90" font-size="9.4" text-anchor="middle" fill="#111" textLength="4.90" lengthAdjust="spacingAndGlyphs" stroke="#111" stroke-width="0.2">2</text>
<text x="217.50" y="329.90" font-size="9.4" text-anchor="middle" fill="#111" textLength="4.90" lengthAdjust="spacingAndGlyphs" stroke="#111" stroke-width="0.2">3</text>
<text x="229.25" y="329.90" font-size="9.4" text-anchor="middle" fill="#111" textLength="4.90" lengthAdjust="spacingAndGlyphs" stroke="#111" stroke-width="0.2">4</text>
<text x="242.50" y="329.90" font-size="9.4" text-anchor="middle" fill="#111" textLength="4.90" lengthAdjust="spacingAndGlyphs" stroke="#111" stroke-width="0.2">5</text>
<text x="253.75" y="329.90" font-size="9.4" text-anchor="middle" fill="#111" textLength="4.90" lengthAdjust="spacingAndGlyphs" stroke="#111" stroke-width="0.2">6</text>
<text x="190.50" y="321.30" font-size="2.4" text-anchor="middle" fill="#222" font-weight="bold" font-style="italic" stroke="#222" stroke-width="0.08">1 3 24</text>
<text x="217.50" y="321.30" font-size="2.4" text-anchor="middle" fill="#222" font-weight="bold" font-style="italic" stroke="#222" stroke-width="0.08">1 3 24</text>
<text x="242.50" y="321.30" font-size="2.4" text-anchor="middle" fill="#222" font-weight="bold" font-style="italic" stroke="#222" stroke-width="0.08">1 3 24</text>
<text x="270.00" y="329.50" font-size="9.4" text-anchor="middle" fill="#111" textLength="4.90" lengthAdjust="spacingAndGlyphs" stroke="#111" stroke-width="0.2">1</text>
<text x="284.25" y="329.50" font-size="9.4" text-anchor="middle" fill="#111" textLength="4.90" lengthAdjust="spacingAndGlyphs" stroke="#111" stroke-width="0.2">2</text>
<text x="297.00" y="329.50" font-size="9.4" text-anchor="middle" fill="#111" textLength="4.90" lengthAdjust="spacingAndGlyphs" stroke="#111" stroke-width="0.2">3</text>
<text x="309.25" y="329.50" font-size="9.4" text-anchor="middle" fill="#111" textLength="4.90" lengthAdjust="spacingAndGlyphs" stroke="#111" stroke-width="0.2">4</text>
<text x="322.50" y="329.50" font-size="9.4" text-anchor="middle" fill="#111" textLength="4.90" lengthAdjust="spacingAndGlyphs" stroke="#111" stroke-width="0.2">5</text>
<text x="333.75" y="329.50" font-size="9.4" text-anchor="middle" fill="#111" textLength="4.90" lengthAdjust="spacingAndGlyphs" stroke="#111" stroke-width="0.2">6</text>
<text x="270.00" y="321.30" font-size="2.4" text-anchor="middle" fill="#222" font-weight="bold" font-style="italic" stroke="#222" stroke-width="0.08">1 3 24</text>
<text x="297.00" y="321.30" font-size="2.4" text-anchor="middle" fill="#222" font-weight="bold" font-style="italic" stroke="#222" stroke-width="0.08">1 3 24</text>
<text x="322.50" y="321.30" font-size="2.4" text-anchor="middle" fill="#222" font-weight="bold" font-style="italic" stroke="#222" stroke-width="0.08">1 3 24</text>
<text x="348.25" y="329.30" font-size="9.4" text-anchor="middle" fill="#111" textLength="4.90" lengthAdjust="spacingAndGlyphs" stroke="#111" stroke-width="0.2">1</text>
<text x="362.50" y="329.30" font-size="9.4" text-anchor="middle" fill="#111" textLength="4.90" lengthAdjust="spacingAndGlyphs" stroke="#111" stroke-width="0.2">2</text>
<text x="373.00" y="329.30" font-size="9.4" text-anchor="middle" fill="#111" textLength="4.90" lengthAdjust="spacingAndGlyphs" stroke="#111" stroke-width="0.2">3</text>
<text x="385.00" y="329.30" font-size="9.4" text-anchor="middle" fill="#111" textLength="4.90" lengthAdjust="spacingAndGlyphs" stroke="#111" stroke-width="0.2">4</text>
<text x="400.75" y="329.30" font-size="9.4" text-anchor="middle" fill="#111" textLength="4.90" lengthAdjust="spacingAndGlyphs" stroke="#111" stroke-width="0.2">5</text>
<text x="412.00" y="329.30" font-size="9.4" text-anchor="middle" fill="#111" textLength="4.90" lengthAdjust="spacingAndGlyphs" stroke="#111" stroke-width="0.2">6</text>
<text x="348.25" y="321.30" font-size="2.4" text-anchor="middle" fill="#222" font-weight="bold" font-style="italic" stroke="#222" stroke-width="0.08">1 3 24</text>
<text x="373.00" y="321.30" font-size="2.4" text-anchor="middle" fill="#222" font-weight="bold" font-style="italic" stroke="#222" stroke-width="0.08">1 3 24</text>
<text x="400.75" y="321.30" font-size="2.4" text-anchor="middle" fill="#222" font-weight="bold" font-style="italic" stroke="#222" stroke-width="0.08">1 3 24</text>
<text x="84.00" y="337.30" font-size="6.8" text-anchor="middle" fill="#111" font-style="italic" stroke="#111" stroke-width="0.12">1h</text>
<text x="183.75" y="337.30" font-size="6.8" text-anchor="middle" fill="#111" font-style="italic" stroke="#111" stroke-width="0.12">3h</text>
<text x="289.50" y="339.80" font-size="7.1" text-anchor="middle" fill="#111" font-style="italic" stroke="#111" stroke-width="0.2">24h</text>
<text x="11.90" y="362.00" font-size="15.8" text-anchor="start" fill="#000" textLength="8.00" lengthAdjust="spacingAndGlyphs" stroke="#000" stroke-width="0.2">E</text>
<text x="14.90" y="438.90" font-size="15.6" text-anchor="start" fill="#000" textLength="7.60" lengthAdjust="spacingAndGlyphs" stroke="#000" stroke-width="0.2">F</text>
<line x1="43.50" y1="359.00" x2="43.50" y2="424.50" stroke="#2a2a2a" stroke-width="0.9"/>
<line x1="43.50" y1="424.50" x2="127.00" y2="424.50" stroke="#2a2a2a" stroke-width="0.9"/>
<line x1="42.00" y1="360.00" x2="43.50" y2="360.00" stroke="#333" stroke-width="0.5"/>
<text x="41.20" y="361.50" font-size="4.3" text-anchor="end" fill="#111" stroke="#111" stroke-width="0.08">1</text>
<line x1="42.00" y1="372.90" x2="43.50" y2="372.90" stroke="#333" stroke-width="0.5"/>
<text x="41.20" y="374.40" font-size="4.3" text-anchor="end" fill="#111" stroke="#111" stroke-width="0.08">0.8</text>
<line x1="42.00" y1="385.80" x2="43.50" y2="385.80" stroke="#333" stroke-width="0.5"/>
<text x="41.20" y="387.30" font-size="4.3" text-anchor="end" fill="#111" stroke="#111" stroke-width="0.08">0.6</text>
<line x1="42.00" y1="398.70" x2="43.50" y2="398.70" stroke="#333" stroke-width="0.5"/>
<text x="41.20" y="400.20" font-size="4.3" text-anchor="end" fill="#111" stroke="#111" stroke-width="0.08">0.4</text>
<line x1="42.00" y1="411.60" x2="43.50" y2="411.60" stroke="#333" stroke-width="0.5"/>
<text x="41.20" y="413.10" font-size="4.3" text-anchor="end" fill="#111" stroke="#111" stroke-width="0.08">0.2</text>
<line x1="42.00" y1="424.50" x2="43.50" y2="424.50" stroke="#333" stroke-width="0.5"/>
<text x="41.20" y="426.00" font-size="4.3" text-anchor="end" fill="#111" stroke="#111" stroke-width="0.08">0</text>
<text x="50.96" y="430.60" font-size="6.6" text-anchor="middle" fill="#111" stroke="#111" stroke-width="0.12">1</text>
<line x1="50.96" y1="424.50" x2="50.96" y2="425.70" stroke="#333" stroke-width="0.4"/>
<text x="57.61" y="430.60" font-size="6.6" text-anchor="middle" fill="#111" stroke="#111" stroke-width="0.12">2</text>
<line x1="57.61" y1="424.50" x2="57.61" y2="425.70" stroke="#333" stroke-width="0.4"/>
<text x="64.25" y="430.60" font-size="6.6" text-anchor="middle" fill="#111" stroke="#111" stroke-width="0.12">3</text>
<line x1="64.25" y1="424.50" x2="64.25" y2="425.70" stroke="#333" stroke-width="0.4"/>
<text x="70.90" y="430.60" font-size="6.6" text-anchor="middle" fill="#111" stroke="#111" stroke-width="0.12">4</text>
<line x1="70.90" y1="424.50" x2="70.90" y2="425.70" stroke="#333" stroke-width="0.4"/>
<text x="77.40" y="430.60" font-size="6.6" text-anchor="middle" fill="#111" stroke="#111" stroke-width="0.12">5</text>
<line x1="77.40" y1="424.50" x2="77.40" y2="425.70" stroke="#333" stroke-width="0.4"/>
<text x="83.60" y="430.60" font-size="6.6" text-anchor="middle" fill="#111" stroke="#111" stroke-width="0.12">6</text>
<line x1="83.60" y1="424.50" x2="83.60" y2="425.70" stroke="#333" stroke-width="0.4"/>
<text x="90.40" y="430.60" font-size="6.6" text-anchor="middle" fill="#111" stroke="#111" stroke-width="0.12">1</text>
<line x1="90.40" y1="424.50" x2="90.40" y2="425.70" stroke="#333" stroke-width="0.4"/>
<text x="96.45" y="430.60" font-size="6.6" text-anchor="middle" fill="#111" stroke="#111" stroke-width="0.12">2</text>
<line x1="96.45" y1="424.50" x2="96.45" y2="425.70" stroke="#333" stroke-width="0.4"/>
<text x="103.10" y="430.60" font-size="6.6" text-anchor="middle" fill="#111" stroke="#111" stroke-width="0.12">3</text>
<line x1="103.10" y1="424.50" x2="103.10" y2="425.70" stroke="#333" stroke-width="0.4"/>
<text x="109.60" y="430.60" font-size="6.6" text-anchor="middle" fill="#111" stroke="#111" stroke-width="0.12">4</text>
<line x1="109.60" y1="424.50" x2="109.60" y2="425.70" stroke="#333" stroke-width="0.4"/>
<text x="116.10" y="430.60" font-size="6.6" text-anchor="middle" fill="#111" stroke="#111" stroke-width="0.12">5</text>
<line x1="116.10" y1="424.50" x2="116.10" y2="425.70" stroke="#333" stroke-width="0.4"/>
<text x="122.90" y="430.60" font-size="6.6" text-anchor="middle" fill="#111" stroke="#111" stroke-width="0.12">6</text>
<line x1="122.90" y1="424.50" x2="122.90" y2="425.70" stroke="#333" stroke-width="0.4"/>
<line x1="51.06" y1="386.38" x2="51.06" y2="400.56" stroke="#3c3c3c" stroke-width="0.8"/>
<line x1="51.06" y1="409.42" x2="51.06" y2="417.40" stroke="#3c3c3c" stroke-width="0.8"/>
<line x1="48.29" y1="386.38" x2="53.83" y2="386.38" stroke="#3c3c3c" stroke-width="0.8"/>
<line x1="48.29" y1="417.40" x2="53.83" y2="417.40" stroke="#3c3c3c" stroke-width="0.8"/>
<rect x="47.77" y="400.56" width="6.59" height="8.86" fill="#f7a1cf" stroke="#8a4a8a" stroke-width="0.75"/>
<line x1="48.07" y1="403.52" x2="54.05" y2="403.52" stroke="#e8e8a0" stroke-width="0.45"/>
<line x1="57.71" y1="390.22" x2="57.71" y2="399.08" stroke="#3c3c3c" stroke-width="0.8"/>
<line x1="57.71" y1="413.26" x2="57.71" y2="417.40" stroke="#3c3c3c" stroke-width="0.8"/>
<line x1="55.56" y1="390.22" x2="59.85" y2="390.22" stroke="#3c3c3c" stroke-width="0.8"/>
<line x1="55.56" y1="417.40" x2="59.85" y2="417.40" stroke="#3c3c3c" stroke-width="0.8"/>
<rect x="55.15" y="399.08" width="5.11" height="14.18" fill="#f7a1cf" stroke="#8a4a8a" stroke-width="0.75"/>
<line x1="55.45" y1="406.47" x2="59.96" y2="406.47" stroke="#e8e8a0" stroke-width="0.45"/>
<line x1="64.35" y1="385.79" x2="64.35" y2="397.61" stroke="#3c3c3c" stroke-width="0.8"/>
<line x1="64.35" y1="415.33" x2="64.35" y2="416.22" stroke="#3c3c3c" stroke-width="0.8"/>
<line x1="62.08" y1="385.79" x2="66.62" y2="385.79" stroke="#3c3c3c" stroke-width="0.8"/>
<line x1="62.08" y1="416.22" x2="66.62" y2="416.22" stroke="#3c3c3c" stroke-width="0.8"/>
<rect x="61.65" y="397.61" width="5.40" height="17.73" fill="#f7a1cf" stroke="#8a4a8a" stroke-width="0.75"/>
<line x1="61.95" y1="404.99" x2="66.76" y2="404.99" stroke="#e8e8a0" stroke-width="0.45"/>
<line x1="71.00" y1="399.08" x2="71.00" y2="410.90" stroke="#3c3c3c" stroke-width="0.8"/>
<line x1="71.00" y1="419.17" x2="71.00" y2="420.35" stroke="#3c3c3c" stroke-width="0.8"/>
<line x1="68.86" y1="399.08" x2="73.15" y2="399.08" stroke="#3c3c3c" stroke-width="0.8"/>
<line x1="68.86" y1="420.35" x2="73.15" y2="420.35" stroke="#3c3c3c" stroke-width="0.8"/>
<rect x="68.45" y="410.90" width="5.11" height="8.27" fill="#f7a1cf" stroke="#8a4a8a" stroke-width="0.75"/>
<line x1="68.75" y1="415.33" x2="73.26" y2="415.33" stroke="#e8e8a0" stroke-width="0.45"/>
<line x1="77.50" y1="383.43" x2="77.50" y2="386.38" stroke="#3c3c3c" stroke-width="0.8"/>
<line x1="77.50" y1="417.40" x2="77.50" y2="419.17" stroke="#3c3c3c" stroke-width="0.8"/>
<line x1="75.35" y1="383.43" x2="79.65" y2="383.43" stroke="#3c3c3c" stroke-width="0.8"/>
<line x1="75.35" y1="419.17" x2="79.65" y2="419.17" stroke="#3c3c3c" stroke-width="0.8"/>
<rect x="74.95" y="386.38" width="5.11" height="31.02" fill="#f7a1cf" stroke="#8a4a8a" stroke-width="0.75"/>
<line x1="75.25" y1="409.42" x2="79.75" y2="409.42" stroke="#e8e8a0" stroke-width="0.45"/>
<line x1="83.70" y1="396.13" x2="83.70" y2="399.08" stroke="#3c3c3c" stroke-width="0.8"/>
<line x1="83.70" y1="410.90" x2="83.70" y2="417.40" stroke="#3c3c3c" stroke-width="0.8"/>
<line x1="81.56" y1="396.13" x2="85.85" y2="396.13" stroke="#3c3c3c" stroke-width="0.8"/>
<line x1="81.56" y1="417.40" x2="85.85" y2="417.40" stroke="#3c3c3c" stroke-width="0.8"/>
<rect x="81.15" y="399.08" width="5.11" height="11.82" fill="#f7a1cf" stroke="#8a4a8a" stroke-width="0.75"/>
<line x1="81.45" y1="404.99" x2="85.96" y2="404.99" stroke="#e8e8a0" stroke-width="0.45"/>
<line x1="90.50" y1="373.97" x2="90.50" y2="387.86" stroke="#3c3c3c" stroke-width="0.8"/>
<line x1="90.50" y1="411.49" x2="90.50" y2="417.40" stroke="#3c3c3c" stroke-width="0.8"/>
<line x1="88.35" y1="373.97" x2="92.64" y2="373.97" stroke="#3c3c3c" stroke-width="0.8"/>
<line x1="88.35" y1="417.40" x2="92.64" y2="417.40" stroke="#3c3c3c" stroke-width="0.8"/>
<rect x="87.94" y="387.86" width="5.11" height="23.63" fill="#86e21c" stroke="#2a6a1a" stroke-width="0.75"/>
<line x1="88.24" y1="407.95" x2="92.75" y2="407.95" stroke="#e0a020" stroke-width="0.45"/>
<line x1="96.55" y1="417.40" x2="96.55" y2="418.88" stroke="#3c3c3c" stroke-width="0.8"/>
<line x1="96.55" y1="421.24" x2="96.55" y2="421.83" stroke="#3c3c3c" stroke-width="0.8"/>
<line x1="94.78" y1="417.40" x2="98.33" y2="417.40" stroke="#3c3c3c" stroke-width="0.8"/>
<line x1="94.78" y1="421.83" x2="98.33" y2="421.83" stroke="#3c3c3c" stroke-width="0.8"/>
<rect x="94.44" y="418.88" width="4.22" height="2.36" fill="#86e21c" stroke="#2a6a1a" stroke-width="0.75"/>
<line x1="103.20" y1="394.06" x2="103.20" y2="403.52" stroke="#3c3c3c" stroke-width="0.8"/>
<line x1="103.20" y1="418.29" x2="103.20" y2="421.24" stroke="#3c3c3c" stroke-width="0.8"/>
<line x1="101.30" y1="394.06" x2="105.10" y2="394.06" stroke="#3c3c3c" stroke-width="0.8"/>
<line x1="101.30" y1="421.24" x2="105.10" y2="421.24" stroke="#3c3c3c" stroke-width="0.8"/>
<rect x="100.94" y="403.52" width="4.52" height="14.77" fill="#86e21c" stroke="#2a6a1a" stroke-width="0.75"/>
<line x1="101.24" y1="410.90" x2="105.16" y2="410.90" stroke="#e0a020" stroke-width="0.45"/>
<line x1="109.70" y1="399.97" x2="109.70" y2="405.58" stroke="#3c3c3c" stroke-width="0.8"/>
<line x1="109.70" y1="419.76" x2="109.70" y2="421.24" stroke="#3c3c3c" stroke-width="0.8"/>
<line x1="107.80" y1="399.97" x2="111.60" y2="399.97" stroke="#3c3c3c" stroke-width="0.8"/>
<line x1="107.80" y1="421.24" x2="111.60" y2="421.24" stroke="#3c3c3c" stroke-width="0.8"/>
<rect x="107.44" y="405.58" width="4.52" height="14.18" fill="#86e21c" stroke="#2a6a1a" stroke-width="0.75"/>
<line x1="107.74" y1="417.40" x2="111.66" y2="417.40" stroke="#e0a020" stroke-width="0.45"/>
<line x1="116.20" y1="407.95" x2="116.20" y2="417.40" stroke="#3c3c3c" stroke-width="0.8"/>
<line x1="116.20" y1="423.31" x2="116.20" y2="423.60" stroke="#3c3c3c" stroke-width="0.8"/>
<line x1="114.30" y1="407.95" x2="118.10" y2="407.95" stroke="#3c3c3c" stroke-width="0.8"/>
<line x1="114.30" y1="423.60" x2="118.10" y2="423.60" stroke="#3c3c3c" stroke-width="0.8"/>
<rect x="113.94" y="417.40" width="4.52" height="5.91" fill="#86e21c" stroke="#2a6a1a" stroke-width="0.75"/>
<line x1="123.00" y1="412.38" x2="123.00" y2="414.74" stroke="#3c3c3c" stroke-width="0.8"/>
<line x1="123.00" y1="419.76" x2="123.00" y2="420.35" stroke="#3c3c3c" stroke-width="0.8"/>
<line x1="121.10" y1="412.38" x2="124.89" y2="412.38" stroke="#3c3c3c" stroke-width="0.8"/>
<line x1="121.10" y1="420.35" x2="124.89" y2="420.35" stroke="#3c3c3c" stroke-width="0.8"/>
<rect x="120.74" y="414.74" width="4.52" height="5.02" fill="#86e21c" stroke="#2a6a1a" stroke-width="0.75"/>
<text x="32.80" y="386.80" font-size="7" text-anchor="middle" fill="#111" textLength="17.50" lengthAdjust="spacingAndGlyphs" transform="rotate(-90 32.80 386.80)" stroke="#111" stroke-width="0.2">AIM2</text>
<rect x="54.00" y="360.00" width="3.60" height="4.20" fill="#86e21c" stroke="#2a6a1a" stroke-width="0.4"/>
<text x="60.30" y="363.90" font-size="3.9" text-anchor="start" fill="#111" font-weight="bold" textLength="14.50" lengthAdjust="spacingAndGlyphs" stroke="#111" stroke-width="0.08">HC N=5</text>
<rect x="54.00" y="369.00" width="3.60" height="4.20" fill="#f7a1cf" stroke="#8a4a8a" stroke-width="0.4"/>
<text x="60.30" y="372.90" font-size="3.9" text-anchor="start" fill="#111" font-weight="bold" textLength="14.00" lengthAdjust="spacingAndGlyphs" stroke="#111" stroke-width="0.08">SZ N=5</text>
<path d="M89 371.8 V361.3 H123.2 V411 M90 370.4 V365.3 H116.4 V407.5 M92 371.8 V368.2 H97.5 V417.6" fill="none" stroke="#2a2a2a" stroke-width="0.6"/>
<text x="106.00" y="360.00" font-size="3.1" text-anchor="middle" fill="#222" font-weight="bold" font-style="italic" stroke="#222" stroke-width="0.08">p &lt; 0.01</text>
<text x="104.50" y="374.30" font-size="3.1" text-anchor="middle" fill="#222" font-weight="bold" font-style="italic" stroke="#222" stroke-width="0.08">p &lt; 0.01</text>
<line x1="148.50" y1="359.00" x2="148.50" y2="423.50" stroke="#2a2a2a" stroke-width="0.9"/>
<line x1="148.50" y1="423.50" x2="230.50" y2="423.50" stroke="#2a2a2a" stroke-width="0.9"/>
<line x1="147.00" y1="360.00" x2="148.50" y2="360.00" stroke="#333" stroke-width="0.5"/>
<text x="146.20" y="361.50" font-size="4.3" text-anchor="end" fill="#111" stroke="#111" stroke-width="0.08">1</text>
<line x1="147.00" y1="372.70" x2="148.50" y2="372.70" stroke="#333" stroke-width="0.5"/>
<text x="146.20" y="374.20" font-size="4.3" text-anchor="end" fill="#111" stroke="#111" stroke-width="0.08">0.8</text>
<line x1="147.00" y1="385.40" x2="148.50" y2="385.40" stroke="#333" stroke-width="0.5"/>
<text x="146.20" y="386.90" font-size="4.3" text-anchor="end" fill="#111" stroke="#111" stroke-width="0.08">0.6</text>
<line x1="147.00" y1="398.10" x2="148.50" y2="398.10" stroke="#333" stroke-width="0.5"/>
<text x="146.20" y="399.60" font-size="4.3" text-anchor="end" fill="#111" stroke="#111" stroke-width="0.08">0.4</text>
<line x1="147.00" y1="410.80" x2="148.50" y2="410.80" stroke="#333" stroke-width="0.5"/>
<text x="146.20" y="412.30" font-size="4.3" text-anchor="end" fill="#111" stroke="#111" stroke-width="0.08">0.2</text>
<line x1="147.00" y1="423.50" x2="148.50" y2="423.50" stroke="#333" stroke-width="0.5"/>
<text x="146.20" y="425.00" font-size="4.3" text-anchor="end" fill="#111" stroke="#111" stroke-width="0.08">0</text>
<text x="154.27" y="430.60" font-size="6.6" text-anchor="middle" fill="#111" stroke="#111" stroke-width="0.12">1</text>
<line x1="154.27" y1="423.50" x2="154.27" y2="424.70" stroke="#333" stroke-width="0.4"/>
<text x="160.92" y="430.60" font-size="6.6" text-anchor="middle" fill="#111" stroke="#111" stroke-width="0.12">2</text>
<line x1="160.92" y1="423.50" x2="160.92" y2="424.70" stroke="#333" stroke-width="0.4"/>
<text x="167.56" y="430.60" font-size="6.6" text-anchor="middle" fill="#111" stroke="#111" stroke-width="0.12">3</text>
<line x1="167.56" y1="423.50" x2="167.56" y2="424.70" stroke="#333" stroke-width="0.4"/>
<text x="174.21" y="430.60" font-size="6.6" text-anchor="middle" fill="#111" stroke="#111" stroke-width="0.12">4</text>
<line x1="174.21" y1="423.50" x2="174.21" y2="424.70" stroke="#333" stroke-width="0.4"/>
<text x="180.41" y="430.60" font-size="6.6" text-anchor="middle" fill="#111" stroke="#111" stroke-width="0.12">5</text>
<line x1="180.41" y1="423.50" x2="180.41" y2="424.70" stroke="#333" stroke-width="0.4"/>
<text x="187.06" y="430.60" font-size="6.6" text-anchor="middle" fill="#111" stroke="#111" stroke-width="0.12">6</text>
<line x1="187.06" y1="423.50" x2="187.06" y2="424.70" stroke="#333" stroke-width="0.4"/>
<text x="193.56" y="430.60" font-size="6.6" text-anchor="middle" fill="#111" stroke="#111" stroke-width="0.12">1</text>
<line x1="193.56" y1="423.50" x2="193.56" y2="424.70" stroke="#333" stroke-width="0.4"/>
<text x="199.76" y="430.60" font-size="6.6" text-anchor="middle" fill="#111" stroke="#111" stroke-width="0.12">2</text>
<line x1="199.76" y1="423.50" x2="199.76" y2="424.70" stroke="#333" stroke-width="0.4"/>
<text x="206.71" y="430.60" font-size="6.6" text-anchor="middle" fill="#111" stroke="#111" stroke-width="0.12">3</text>
<line x1="206.71" y1="423.50" x2="206.71" y2="424.70" stroke="#333" stroke-width="0.4"/>
<text x="213.06" y="430.60" font-size="6.6" text-anchor="middle" fill="#111" stroke="#111" stroke-width="0.12">4</text>
<line x1="213.06" y1="423.50" x2="213.06" y2="424.70" stroke="#333" stroke-width="0.4"/>
<text x="219.56" y="430.60" font-size="6.6" text-anchor="middle" fill="#111" stroke="#111" stroke-width="0.12">5</text>
<line x1="219.56" y1="423.50" x2="219.56" y2="424.70" stroke="#333" stroke-width="0.4"/>
<text x="226.06" y="430.60" font-size="6.6" text-anchor="middle" fill="#111" stroke="#111" stroke-width="0.12">6</text>
<line x1="226.06" y1="423.50" x2="226.06" y2="424.70" stroke="#333" stroke-width="0.4"/>
<line x1="154.37" y1="388.77" x2="154.37" y2="388.77" stroke="#3c3c3c" stroke-width="0.8"/>
<line x1="154.37" y1="405.31" x2="154.37" y2="409.45" stroke="#3c3c3c" stroke-width="0.8"/>
<line x1="152.47" y1="388.77" x2="156.27" y2="388.77" stroke="#3c3c3c" stroke-width="0.8"/>
<line x1="152.47" y1="409.45" x2="156.27" y2="409.45" stroke="#3c3c3c" stroke-width="0.8"/>
<rect x="152.11" y="388.77" width="4.52" height="16.54" fill="#f7a1cf" stroke="#8a4a8a" stroke-width="0.75"/>
<line x1="152.41" y1="402.95" x2="156.33" y2="402.95" stroke="#e8e8a0" stroke-width="0.45"/>
<line x1="161.02" y1="402.36" x2="161.02" y2="407.38" stroke="#3c3c3c" stroke-width="0.8"/>
<line x1="161.02" y1="417.13" x2="161.02" y2="422.15" stroke="#3c3c3c" stroke-width="0.8"/>
<line x1="159.24" y1="402.36" x2="162.79" y2="402.36" stroke="#3c3c3c" stroke-width="0.8"/>
<line x1="159.24" y1="422.15" x2="162.79" y2="422.15" stroke="#3c3c3c" stroke-width="0.8"/>
<rect x="158.90" y="407.38" width="4.22" height="9.75" fill="#f7a1cf" stroke="#8a4a8a" stroke-width="0.75"/>
<line x1="159.20" y1="412.40" x2="162.83" y2="412.40" stroke="#e8e8a0" stroke-width="0.45"/>
<line x1="167.66" y1="394.08" x2="167.66" y2="399.99" stroke="#3c3c3c" stroke-width="0.8"/>
<line x1="167.66" y1="416.24" x2="167.66" y2="417.13" stroke="#3c3c3c" stroke-width="0.8"/>
<line x1="165.77" y1="394.08" x2="169.56" y2="394.08" stroke="#3c3c3c" stroke-width="0.8"/>
<line x1="165.77" y1="417.13" x2="169.56" y2="417.13" stroke="#3c3c3c" stroke-width="0.8"/>
<rect x="165.40" y="399.99" width="4.52" height="16.25" fill="#f7a1cf" stroke="#8a4a8a" stroke-width="0.75"/>
<line x1="165.70" y1="407.38" x2="169.62" y2="407.38" stroke="#e8e8a0" stroke-width="0.45"/>
<line x1="174.31" y1="414.17" x2="174.31" y2="414.76" stroke="#3c3c3c" stroke-width="0.8"/>
<line x1="174.31" y1="419.19" x2="174.31" y2="420.67" stroke="#3c3c3c" stroke-width="0.8"/>
<line x1="172.54" y1="414.17" x2="176.08" y2="414.17" stroke="#3c3c3c" stroke-width="0.8"/>
<line x1="172.54" y1="420.67" x2="176.08" y2="420.67" stroke="#3c3c3c" stroke-width="0.8"/>
<rect x="172.20" y="414.76" width="4.22" height="4.43" fill="#f7a1cf" stroke="#8a4a8a" stroke-width="0.75"/>
<line x1="180.51" y1="413.29" x2="180.51" y2="415.65" stroke="#3c3c3c" stroke-width="0.8"/>
<line x1="180.51" y1="420.67" x2="180.51" y2="421.26" stroke="#3c3c3c" stroke-width="0.8"/>
<line x1="178.99" y1="413.29" x2="182.04" y2="413.29" stroke="#3c3c3c" stroke-width="0.8"/>
<line x1="178.99" y1="421.26" x2="182.04" y2="421.26" stroke="#3c3c3c" stroke-width="0.8"/>
<rect x="178.70" y="415.65" width="3.63" height="5.02" fill="#f7a1cf" stroke="#8a4a8a" stroke-width="0.75"/>
<line x1="187.16" y1="393.20" x2="187.16" y2="402.36" stroke="#3c3c3c" stroke-width="0.8"/>
<line x1="187.16" y1="420.08" x2="187.16" y2="421.26" stroke="#3c3c3c" stroke-width="0.8"/>
<line x1="185.26" y1="393.20" x2="189.06" y2="393.20" stroke="#3c3c3c" stroke-width="0.8"/>
<line x1="185.26" y1="421.26" x2="189.06" y2="421.26" stroke="#3c3c3c" stroke-width="0.8"/>
<rect x="184.90" y="402.36" width="4.52" height="17.73" fill="#f7a1cf" stroke="#8a4a8a" stroke-width="0.75"/>
<line x1="185.20" y1="413.29" x2="189.12" y2="413.29" stroke="#e8e8a0" stroke-width="0.45"/>
<line x1="193.66" y1="387.58" x2="193.66" y2="388.77" stroke="#3c3c3c" stroke-width="0.8"/>
<line x1="193.66" y1="412.40" x2="193.66" y2="414.76" stroke="#3c3c3c" stroke-width="0.8"/>
<line x1="191.76" y1="387.58" x2="195.56" y2="387.58" stroke="#3c3c3c" stroke-width="0.8"/>
<line x1="191.76" y1="414.76" x2="195.56" y2="414.76" stroke="#3c3c3c" stroke-width="0.8"/>
<rect x="191.40" y="388.77" width="4.52" height="23.63" fill="#86e21c" stroke="#2a6a1a" stroke-width="0.75"/>
<line x1="191.70" y1="405.90" x2="195.62" y2="405.90" stroke="#e06020" stroke-width="0.45"/>
<line x1="199.86" y1="413.29" x2="199.86" y2="418.60" stroke="#3c3c3c" stroke-width="0.8"/>
<line x1="199.86" y1="421.56" x2="199.86" y2="422.44" stroke="#3c3c3c" stroke-width="0.8"/>
<line x1="198.21" y1="413.29" x2="201.51" y2="413.29" stroke="#3c3c3c" stroke-width="0.8"/>
<line x1="198.21" y1="422.44" x2="201.51" y2="422.44" stroke="#3c3c3c" stroke-width="0.8"/>
<rect x="197.90" y="418.60" width="3.93" height="2.95" fill="#86e21c" stroke="#2a6a1a" stroke-width="0.75"/>
<line x1="206.81" y1="396.45" x2="206.81" y2="399.40" stroke="#3c3c3c" stroke-width="0.8"/>
<line x1="206.81" y1="417.72" x2="206.81" y2="418.60" stroke="#3c3c3c" stroke-width="0.8"/>
<line x1="205.03" y1="396.45" x2="208.58" y2="396.45" stroke="#3c3c3c" stroke-width="0.8"/>
<line x1="205.03" y1="418.60" x2="208.58" y2="418.60" stroke="#3c3c3c" stroke-width="0.8"/>
<rect x="204.69" y="399.40" width="4.22" height="18.32" fill="#86e21c" stroke="#2a6a1a" stroke-width="0.75"/>
<line x1="204.99" y1="414.17" x2="208.62" y2="414.17" stroke="#e06020" stroke-width="0.45"/>
<line x1="213.16" y1="414.17" x2="213.16" y2="415.35" stroke="#3c3c3c" stroke-width="0.8"/>
<line x1="213.16" y1="418.31" x2="213.16" y2="419.19" stroke="#3c3c3c" stroke-width="0.8"/>
<line x1="211.51" y1="414.17" x2="214.81" y2="414.17" stroke="#3c3c3c" stroke-width="0.8"/>
<line x1="211.51" y1="419.19" x2="214.81" y2="419.19" stroke="#3c3c3c" stroke-width="0.8"/>
<rect x="211.19" y="415.35" width="3.93" height="2.95" fill="#86e21c" stroke="#2a6a1a" stroke-width="0.75"/>
<line x1="219.66" y1="408.86" x2="219.66" y2="412.70" stroke="#3c3c3c" stroke-width="0.8"/>
<line x1="219.66" y1="417.13" x2="219.66" y2="419.19" stroke="#3c3c3c" stroke-width="0.8"/>
<line x1="218.01" y1="408.86" x2="221.31" y2="408.86" stroke="#3c3c3c" stroke-width="0.8"/>
<line x1="218.01" y1="419.19" x2="221.31" y2="419.19" stroke="#3c3c3c" stroke-width="0.8"/>
<rect x="217.69" y="412.70" width="3.93" height="4.43" fill="#86e21c" stroke="#2a6a1a" stroke-width="0.75"/>
<line x1="226.16" y1="405.90" x2="226.16" y2="408.86" stroke="#3c3c3c" stroke-width="0.8"/>
<line x1="226.16" y1="414.76" x2="226.16" y2="419.19" stroke="#3c3c3c" stroke-width="0.8"/>
<line x1="224.26" y1="405.90" x2="228.05" y2="405.90" stroke="#3c3c3c" stroke-width="0.8"/>
<line x1="224.26" y1="419.19" x2="228.05" y2="419.19" stroke="#3c3c3c" stroke-width="0.8"/>
<rect x="223.90" y="408.86" width="4.52" height="5.91" fill="#86e21c" stroke="#2a6a1a" stroke-width="0.75"/>
<path d="M154.1 388.4 V343.6 H186.6 V395.2 M154.1 351.4 H182 V410 M154.1 357.7 H177.5 V413.4 M154.1 362.7 H158 M171.5 362.7 H173.6 V412" fill="none" stroke="#2a2a2a" stroke-width="0.6"/>
<path d="M193.9 388.4 V357.7 H220.7 V412.3 M193.9 369.5 H213.2 V414.5 M193.9 377 H200.2 V417.3" fill="none" stroke="#2a2a2a" stroke-width="0.6"/>
<text x="166.80" y="347.00" font-size="3.1" text-anchor="middle" fill="#222" font-weight="bold" font-style="italic" stroke="#222" stroke-width="0.08">p &lt; 0.01</text>
<text x="166.80" y="355.20" font-size="3.1" text-anchor="middle" fill="#222" font-weight="bold" font-style="italic" stroke="#222" stroke-width="0.08">p &lt; 0.01</text>
<text x="165.30" y="363.60" font-size="3.1" text-anchor="middle" fill="#222" font-weight="bold" font-style="italic" stroke="#222" stroke-width="0.08">p &lt; 0.05</text>
<text x="210.50" y="356.60" font-size="3.1" text-anchor="middle" fill="#222" font-weight="bold" font-style="italic" stroke="#222" stroke-width="0.08">p &lt; 0.01</text>
<text x="207.00" y="368.50" font-size="3.1" text-anchor="middle" fill="#222" font-weight="bold" font-style="italic" stroke="#222" stroke-width="0.08">p &lt; 0.01</text>
<text x="200.50" y="375.80" font-size="3.1" text-anchor="middle" fill="#222" font-weight="bold" font-style="italic" stroke="#222" stroke-width="0.08">p &lt; 0.01</text>
<line x1="243.50" y1="358.50" x2="243.50" y2="423.50" stroke="#2a2a2a" stroke-width="0.9"/>
<line x1="243.50" y1="423.50" x2="329.00" y2="423.50" stroke="#2a2a2a" stroke-width="0.9"/>
<line x1="242.00" y1="359.50" x2="243.50" y2="359.50" stroke="#333" stroke-width="0.5"/>
<text x="241.20" y="361.00" font-size="4.3" text-anchor="end" fill="#111" stroke="#111" stroke-width="0.08">1</text>
<line x1="242.00" y1="372.30" x2="243.50" y2="372.30" stroke="#333" stroke-width="0.5"/>
<text x="241.20" y="373.80" font-size="4.3" text-anchor="end" fill="#111" stroke="#111" stroke-width="0.08">0.8</text>
<line x1="242.00" y1="385.10" x2="243.50" y2="385.10" stroke="#333" stroke-width="0.5"/>
<text x="241.20" y="386.60" font-size="4.3" text-anchor="end" fill="#111" stroke="#111" stroke-width="0.08">0.6</text>
<line x1="242.00" y1="397.90" x2="243.50" y2="397.90" stroke="#333" stroke-width="0.5"/>
<text x="241.20" y="399.40" font-size="4.3" text-anchor="end" fill="#111" stroke="#111" stroke-width="0.08">0.4</text>
<line x1="242.00" y1="410.70" x2="243.50" y2="410.70" stroke="#333" stroke-width="0.5"/>
<text x="241.20" y="412.20" font-size="4.3" text-anchor="end" fill="#111" stroke="#111" stroke-width="0.08">0.2</text>
<line x1="242.00" y1="423.50" x2="243.50" y2="423.50" stroke="#333" stroke-width="0.5"/>
<text x="241.20" y="425.00" font-size="4.3" text-anchor="end" fill="#111" stroke="#111" stroke-width="0.08">0</text>
<text x="252.79" y="430.60" font-size="6.6" text-anchor="middle" fill="#111" stroke="#111" stroke-width="0.12">1</text>
<line x1="252.79" y1="423.50" x2="252.79" y2="424.70" stroke="#333" stroke-width="0.4"/>
<text x="259.00" y="430.60" font-size="6.6" text-anchor="middle" fill="#111" stroke="#111" stroke-width="0.12">2</text>
<line x1="259.00" y1="423.50" x2="259.00" y2="424.70" stroke="#333" stroke-width="0.4"/>
<text x="265.79" y="430.60" font-size="6.6" text-anchor="middle" fill="#111" stroke="#111" stroke-width="0.12">3</text>
<line x1="265.79" y1="423.50" x2="265.79" y2="424.70" stroke="#333" stroke-width="0.4"/>
<text x="272.14" y="430.60" font-size="6.6" text-anchor="middle" fill="#111" stroke="#111" stroke-width="0.12">4</text>
<line x1="272.14" y1="423.50" x2="272.14" y2="424.70" stroke="#333" stroke-width="0.4"/>
<text x="278.64" y="430.60" font-size="6.6" text-anchor="middle" fill="#111" stroke="#111" stroke-width="0.12">5</text>
<line x1="278.64" y1="423.50" x2="278.64" y2="424.70" stroke="#333" stroke-width="0.4"/>
<text x="285.29" y="430.60" font-size="6.6" text-anchor="middle" fill="#111" stroke="#111" stroke-width="0.12">6</text>
<line x1="285.29" y1="423.50" x2="285.29" y2="424.70" stroke="#333" stroke-width="0.4"/>
<text x="291.34" y="430.60" font-size="6.6" text-anchor="middle" fill="#111" stroke="#111" stroke-width="0.12">1</text>
<line x1="291.34" y1="423.50" x2="291.34" y2="424.70" stroke="#333" stroke-width="0.4"/>
<text x="297.84" y="430.60" font-size="6.6" text-anchor="middle" fill="#111" stroke="#111" stroke-width="0.12">2</text>
<line x1="297.84" y1="423.50" x2="297.84" y2="424.70" stroke="#333" stroke-width="0.4"/>
<text x="304.64" y="430.60" font-size="6.6" text-anchor="middle" fill="#111" stroke="#111" stroke-width="0.12">3</text>
<line x1="304.64" y1="423.50" x2="304.64" y2="424.70" stroke="#333" stroke-width="0.4"/>
<text x="311.14" y="430.60" font-size="6.6" text-anchor="middle" fill="#111" stroke="#111" stroke-width="0.12">4</text>
<line x1="311.14" y1="423.50" x2="311.14" y2="424.70" stroke="#333" stroke-width="0.4"/>
<text x="317.78" y="430.60" font-size="6.6" text-anchor="middle" fill="#111" stroke="#111" stroke-width="0.12">5</text>
<line x1="317.78" y1="423.50" x2="317.78" y2="424.70" stroke="#333" stroke-width="0.4"/>
<text x="324.43" y="430.60" font-size="6.6" text-anchor="middle" fill="#111" stroke="#111" stroke-width="0.12">6</text>
<line x1="324.43" y1="423.50" x2="324.43" y2="424.70" stroke="#333" stroke-width="0.4"/>
<line x1="252.89" y1="358.63" x2="252.89" y2="379.31" stroke="#3c3c3c" stroke-width="0.8"/>
<line x1="252.89" y1="407.38" x2="252.89" y2="409.74" stroke="#3c3c3c" stroke-width="0.8"/>
<line x1="250.99" y1="358.63" x2="254.79" y2="358.63" stroke="#3c3c3c" stroke-width="0.8"/>
<line x1="250.99" y1="409.74" x2="254.79" y2="409.74" stroke="#3c3c3c" stroke-width="0.8"/>
<rect x="250.63" y="379.31" width="4.52" height="28.06" fill="#f7a1cf" stroke="#8a4a8a" stroke-width="0.75"/>
<line x1="250.93" y1="391.13" x2="254.85" y2="391.13" stroke="#e8e8a0" stroke-width="0.45"/>
<line x1="259.10" y1="417.13" x2="259.10" y2="417.72" stroke="#3c3c3c" stroke-width="0.8"/>
<line x1="259.10" y1="422.15" x2="259.10" y2="422.74" stroke="#3c3c3c" stroke-width="0.8"/>
<line x1="257.45" y1="417.13" x2="260.74" y2="417.13" stroke="#3c3c3c" stroke-width="0.8"/>
<line x1="257.45" y1="422.74" x2="260.74" y2="422.74" stroke="#3c3c3c" stroke-width="0.8"/>
<rect x="257.13" y="417.72" width="3.93" height="4.43" fill="#f7a1cf" stroke="#8a4a8a" stroke-width="0.75"/>
<line x1="265.89" y1="404.72" x2="265.89" y2="405.31" stroke="#3c3c3c" stroke-width="0.8"/>
<line x1="265.89" y1="421.56" x2="265.89" y2="422.15" stroke="#3c3c3c" stroke-width="0.8"/>
<line x1="264.24" y1="404.72" x2="267.54" y2="404.72" stroke="#3c3c3c" stroke-width="0.8"/>
<line x1="264.24" y1="422.15" x2="267.54" y2="422.15" stroke="#3c3c3c" stroke-width="0.8"/>
<rect x="263.93" y="405.31" width="3.93" height="16.25" fill="#f7a1cf" stroke="#8a4a8a" stroke-width="0.75"/>
<line x1="264.23" y1="417.72" x2="267.55" y2="417.72" stroke="#e8e8a0" stroke-width="0.45"/>
<line x1="272.24" y1="408.86" x2="272.24" y2="415.35" stroke="#3c3c3c" stroke-width="0.8"/>
<line x1="272.24" y1="422.15" x2="272.24" y2="422.74" stroke="#3c3c3c" stroke-width="0.8"/>
<line x1="270.47" y1="408.86" x2="274.02" y2="408.86" stroke="#3c3c3c" stroke-width="0.8"/>
<line x1="270.47" y1="422.74" x2="274.02" y2="422.74" stroke="#3c3c3c" stroke-width="0.8"/>
<rect x="270.13" y="415.35" width="4.22" height="6.79" fill="#f7a1cf" stroke="#8a4a8a" stroke-width="0.75"/>
<line x1="278.74" y1="403.54" x2="278.74" y2="412.40" stroke="#3c3c3c" stroke-width="0.8"/>
<line x1="278.74" y1="422.15" x2="278.74" y2="422.74" stroke="#3c3c3c" stroke-width="0.8"/>
<line x1="276.97" y1="403.54" x2="280.51" y2="403.54" stroke="#3c3c3c" stroke-width="0.8"/>
<line x1="276.97" y1="422.74" x2="280.51" y2="422.74" stroke="#3c3c3c" stroke-width="0.8"/>
<rect x="276.63" y="412.40" width="4.22" height="9.75" fill="#f7a1cf" stroke="#8a4a8a" stroke-width="0.75"/>
<line x1="276.93" y1="417.72" x2="280.55" y2="417.72" stroke="#e8e8a0" stroke-width="0.45"/>
<line x1="285.39" y1="397.04" x2="285.39" y2="410.33" stroke="#3c3c3c" stroke-width="0.8"/>
<line x1="285.39" y1="422.15" x2="285.39" y2="422.74" stroke="#3c3c3c" stroke-width="0.8"/>
<line x1="283.49" y1="397.04" x2="287.29" y2="397.04" stroke="#3c3c3c" stroke-width="0.8"/>
<line x1="283.49" y1="422.74" x2="287.29" y2="422.74" stroke="#3c3c3c" stroke-width="0.8"/>
<rect x="283.13" y="410.33" width="4.52" height="11.82" fill="#f7a1cf" stroke="#8a4a8a" stroke-width="0.75"/>
<line x1="283.43" y1="417.72" x2="287.35" y2="417.72" stroke="#e8e8a0" stroke-width="0.45"/>
<line x1="291.44" y1="398.52" x2="291.44" y2="401.47" stroke="#3c3c3c" stroke-width="0.8"/>
<line x1="291.44" y1="407.38" x2="291.44" y2="408.86" stroke="#3c3c3c" stroke-width="0.8"/>
<line x1="289.67" y1="398.52" x2="293.22" y2="398.52" stroke="#3c3c3c" stroke-width="0.8"/>
<line x1="289.67" y1="408.86" x2="293.22" y2="408.86" stroke="#3c3c3c" stroke-width="0.8"/>
<rect x="289.33" y="401.47" width="4.22" height="5.91" fill="#86e21c" stroke="#2a6a1a" stroke-width="0.75"/>
<line x1="297.94" y1="402.95" x2="297.94" y2="409.45" stroke="#3c3c3c" stroke-width="0.8"/>
<line x1="297.94" y1="421.26" x2="297.94" y2="422.74" stroke="#3c3c3c" stroke-width="0.8"/>
<line x1="296.17" y1="402.95" x2="299.72" y2="402.95" stroke="#3c3c3c" stroke-width="0.8"/>
<line x1="296.17" y1="422.74" x2="299.72" y2="422.74" stroke="#3c3c3c" stroke-width="0.8"/>
<rect x="295.83" y="409.45" width="4.22" height="11.82" fill="#86e21c" stroke="#2a6a1a" stroke-width="0.75"/>
<line x1="296.13" y1="416.24" x2="299.75" y2="416.24" stroke="#e0a020" stroke-width="0.45"/>
<line x1="304.74" y1="404.42" x2="304.74" y2="413.29" stroke="#3c3c3c" stroke-width="0.8"/>
<line x1="304.74" y1="420.08" x2="304.74" y2="422.15" stroke="#3c3c3c" stroke-width="0.8"/>
<line x1="302.96" y1="404.42" x2="306.51" y2="404.42" stroke="#3c3c3c" stroke-width="0.8"/>
<line x1="302.96" y1="422.15" x2="306.51" y2="422.15" stroke="#3c3c3c" stroke-width="0.8"/>
<rect x="302.63" y="413.29" width="4.22" height="6.79" fill="#86e21c" stroke="#2a6a1a" stroke-width="0.75"/>
<line x1="311.24" y1="407.38" x2="311.24" y2="410.33" stroke="#3c3c3c" stroke-width="0.8"/>
<line x1="311.24" y1="422.15" x2="311.24" y2="422.74" stroke="#3c3c3c" stroke-width="0.8"/>
<line x1="309.46" y1="407.38" x2="313.01" y2="407.38" stroke="#3c3c3c" stroke-width="0.8"/>
<line x1="309.46" y1="422.74" x2="313.01" y2="422.74" stroke="#3c3c3c" stroke-width="0.8"/>
<rect x="309.13" y="410.33" width="4.22" height="11.82" fill="#86e21c" stroke="#2a6a1a" stroke-width="0.75"/>
<line x1="309.43" y1="417.13" x2="313.05" y2="417.13" stroke="#e0a020" stroke-width="0.45"/>
<line x1="317.88" y1="405.90" x2="317.88" y2="408.86" stroke="#3c3c3c" stroke-width="0.8"/>
<line x1="317.88" y1="421.56" x2="317.88" y2="422.74" stroke="#3c3c3c" stroke-width="0.8"/>
<line x1="315.99" y1="405.90" x2="319.78" y2="405.90" stroke="#3c3c3c" stroke-width="0.8"/>
<line x1="315.99" y1="422.74" x2="319.78" y2="422.74" stroke="#3c3c3c" stroke-width="0.8"/>
<rect x="315.63" y="408.86" width="4.52" height="12.70" fill="#86e21c" stroke="#2a6a1a" stroke-width="0.75"/>
<line x1="315.93" y1="416.24" x2="319.84" y2="416.24" stroke="#e0a020" stroke-width="0.45"/>
<line x1="324.53" y1="402.95" x2="324.53" y2="411.22" stroke="#3c3c3c" stroke-width="0.8"/>
<line x1="324.53" y1="422.15" x2="324.53" y2="422.74" stroke="#3c3c3c" stroke-width="0.8"/>
<line x1="322.76" y1="402.95" x2="326.30" y2="402.95" stroke="#3c3c3c" stroke-width="0.8"/>
<line x1="322.76" y1="422.74" x2="326.30" y2="422.74" stroke="#3c3c3c" stroke-width="0.8"/>
<rect x="322.42" y="411.22" width="4.22" height="10.93" fill="#86e21c" stroke="#2a6a1a" stroke-width="0.75"/>
<path d="M252.7 357 V345.9 H279.3 V394.5 M252.7 355.9 H258.4 V417.5" fill="none" stroke="#2a2a2a" stroke-width="0.6"/>
<path d="M291.1 397.5 V378.2 H319.5 V406" fill="none" stroke="#2a2a2a" stroke-width="0.6"/>
<text x="265.70" y="350.00" font-size="3.1" text-anchor="middle" fill="#222" font-weight="bold" font-style="italic" stroke="#222" stroke-width="0.08">p &lt; 0.01</text>
<text x="263.60" y="367.40" font-size="3.1" text-anchor="middle" fill="#222" font-weight="bold" font-style="italic" stroke="#222" stroke-width="0.08">p &lt; 0.01</text>
<text x="304.30" y="375.00" font-size="3.1" text-anchor="middle" fill="#222" font-weight="bold" font-style="italic" stroke="#222" stroke-width="0.08">p &lt; 0.01</text>
<line x1="45.50" y1="456.00" x2="45.50" y2="530.00" stroke="#333" stroke-width="0.8"/>
<line x1="44.20" y1="466.00" x2="45.80" y2="466.00" stroke="#333" stroke-width="0.5"/>
<text x="43.50" y="467.40" font-size="3.8" text-anchor="end" fill="#111" stroke="#111" stroke-width="0.08">1 000</text>
<line x1="44.20" y1="494.40" x2="45.80" y2="494.40" stroke="#333" stroke-width="0.5"/>
<text x="43.50" y="495.80" font-size="3.8" text-anchor="end" fill="#111" stroke="#111" stroke-width="0.08">100</text>
<line x1="44.20" y1="523.00" x2="45.80" y2="523.00" stroke="#333" stroke-width="0.5"/>
<text x="43.50" y="524.40" font-size="3.8" text-anchor="end" fill="#111" stroke="#111" stroke-width="0.08">10</text>
<line x1="45.00" y1="514.42" x2="45.80" y2="514.42" stroke="#333" stroke-width="0.35"/>
<line x1="45.00" y1="509.40" x2="45.80" y2="509.40" stroke="#333" stroke-width="0.35"/>
<line x1="45.00" y1="505.84" x2="45.80" y2="505.84" stroke="#333" stroke-width="0.35"/>
<line x1="45.00" y1="503.08" x2="45.80" y2="503.08" stroke="#333" stroke-width="0.35"/>
<line x1="45.00" y1="500.82" x2="45.80" y2="500.82" stroke="#333" stroke-width="0.35"/>
<line x1="45.00" y1="498.91" x2="45.80" y2="498.91" stroke="#333" stroke-width="0.35"/>
<line x1="45.00" y1="497.26" x2="45.80" y2="497.26" stroke="#333" stroke-width="0.35"/>
<line x1="45.00" y1="495.80" x2="45.80" y2="495.80" stroke="#333" stroke-width="0.35"/>
<line x1="45.00" y1="485.92" x2="45.80" y2="485.92" stroke="#333" stroke-width="0.35"/>
<line x1="45.00" y1="480.90" x2="45.80" y2="480.90" stroke="#333" stroke-width="0.35"/>
<line x1="45.00" y1="477.34" x2="45.80" y2="477.34" stroke="#333" stroke-width="0.35"/>
<line x1="45.00" y1="474.58" x2="45.80" y2="474.58" stroke="#333" stroke-width="0.35"/>
<line x1="45.00" y1="472.32" x2="45.80" y2="472.32" stroke="#333" stroke-width="0.35"/>
<line x1="45.00" y1="470.41" x2="45.80" y2="470.41" stroke="#333" stroke-width="0.35"/>
<line x1="45.00" y1="468.76" x2="45.80" y2="468.76" stroke="#333" stroke-width="0.35"/>
<line x1="45.00" y1="467.30" x2="45.80" y2="467.30" stroke="#333" stroke-width="0.35"/>
<line x1="45.00" y1="457.42" x2="45.80" y2="457.42" stroke="#333" stroke-width="0.35"/>
<line x1="47.00" y1="529.50" x2="88.00" y2="529.50" stroke="#333" stroke-width="0.8"/>
<line x1="90.50" y1="529.50" x2="130.50" y2="529.50" stroke="#333" stroke-width="0.8"/>
<line x1="135.00" y1="529.50" x2="176.00" y2="529.50" stroke="#333" stroke-width="0.8"/>
<line x1="51.40" y1="490.56" x2="51.40" y2="492.04" stroke="#777" stroke-width="0.6"/>
<line x1="51.40" y1="502.38" x2="51.40" y2="517.15" stroke="#777" stroke-width="0.6"/>
<line x1="49.54" y1="490.56" x2="53.26" y2="490.56" stroke="#777" stroke-width="0.6"/>
<line x1="49.54" y1="517.15" x2="53.26" y2="517.15" stroke="#777" stroke-width="0.6"/>
<rect x="48.74" y="492.04" width="5.32" height="10.34" fill="#a6e11e" stroke="#7fa82a" stroke-width="0.45"/>
<line x1="49.04" y1="497.73" x2="53.76" y2="497.73" stroke="#7fa82a" stroke-width="0.4"/>
<line x1="58.05" y1="488.20" x2="58.05" y2="490.56" stroke="#777" stroke-width="0.6"/>
<line x1="58.05" y1="501.49" x2="58.05" y2="512.13" stroke="#777" stroke-width="0.6"/>
<line x1="56.29" y1="488.20" x2="59.81" y2="488.20" stroke="#777" stroke-width="0.6"/>
<line x1="56.29" y1="512.13" x2="59.81" y2="512.13" stroke="#777" stroke-width="0.6"/>
<rect x="55.54" y="490.56" width="5.02" height="10.93" fill="#1fe038" stroke="#18a82c" stroke-width="0.45"/>
<line x1="55.84" y1="496.57" x2="60.26" y2="496.57" stroke="#18a82c" stroke-width="0.4"/>
<line x1="64.55" y1="492.04" x2="64.55" y2="492.63" stroke="#777" stroke-width="0.6"/>
<line x1="64.55" y1="495.58" x2="64.55" y2="495.88" stroke="#777" stroke-width="0.6"/>
<line x1="62.79" y1="492.04" x2="66.31" y2="492.04" stroke="#777" stroke-width="0.6"/>
<line x1="62.79" y1="495.88" x2="66.31" y2="495.88" stroke="#777" stroke-width="0.6"/>
<rect x="62.04" y="492.63" width="5.02" height="2.95" fill="#c233c4" stroke="#8f2a90" stroke-width="0.45"/>
<line x1="71.20" y1="490.56" x2="71.20" y2="492.92" stroke="#777" stroke-width="0.6"/>
<line x1="71.20" y1="497.06" x2="71.20" y2="497.95" stroke="#777" stroke-width="0.6"/>
<line x1="69.34" y1="490.56" x2="73.06" y2="490.56" stroke="#777" stroke-width="0.6"/>
<line x1="69.34" y1="497.95" x2="73.06" y2="497.95" stroke="#777" stroke-width="0.6"/>
<rect x="68.54" y="492.92" width="5.32" height="4.14" fill="#ff8a1c" stroke="#c96a1a" stroke-width="0.45"/>
<line x1="77.25" y1="463.97" x2="77.25" y2="468.40" stroke="#777" stroke-width="0.6"/>
<line x1="77.25" y1="483.77" x2="77.25" y2="492.04" stroke="#777" stroke-width="0.6"/>
<line x1="75.49" y1="463.97" x2="79.01" y2="463.97" stroke="#777" stroke-width="0.6"/>
<line x1="75.49" y1="492.04" x2="79.01" y2="492.04" stroke="#777" stroke-width="0.6"/>
<rect x="74.74" y="468.40" width="5.02" height="15.36" fill="#f0142d" stroke="#b81424" stroke-width="0.45"/>
<line x1="75.04" y1="476.85" x2="79.46" y2="476.85" stroke="#b81424" stroke-width="0.4"/>
<line x1="83.75" y1="463.97" x2="83.75" y2="467.81" stroke="#777" stroke-width="0.6"/>
<line x1="83.75" y1="480.81" x2="83.75" y2="481.70" stroke="#777" stroke-width="0.6"/>
<line x1="81.99" y1="463.97" x2="85.51" y2="463.97" stroke="#777" stroke-width="0.6"/>
<line x1="81.99" y1="481.70" x2="85.51" y2="481.70" stroke="#777" stroke-width="0.6"/>
<rect x="81.24" y="467.81" width="5.02" height="13.00" fill="#0f8585" stroke="#0b6060" stroke-width="0.45"/>
<line x1="81.54" y1="474.96" x2="85.96" y2="474.96" stroke="#0b6060" stroke-width="0.4"/>
<line x1="94.83" y1="486.13" x2="94.83" y2="492.92" stroke="#777" stroke-width="0.6"/>
<line x1="94.83" y1="512.13" x2="94.83" y2="522.17" stroke="#777" stroke-width="0.6"/>
<line x1="92.97" y1="486.13" x2="96.69" y2="486.13" stroke="#777" stroke-width="0.6"/>
<line x1="92.97" y1="522.17" x2="96.69" y2="522.17" stroke="#777" stroke-width="0.6"/>
<rect x="92.17" y="492.92" width="5.32" height="19.20" fill="#a6e11e" stroke="#7fa82a" stroke-width="0.45"/>
<line x1="92.47" y1="503.49" x2="97.19" y2="503.49" stroke="#7fa82a" stroke-width="0.4"/>
<line x1="101.48" y1="483.77" x2="101.48" y2="489.08" stroke="#777" stroke-width="0.6"/>
<line x1="101.48" y1="505.33" x2="101.48" y2="506.22" stroke="#777" stroke-width="0.6"/>
<line x1="99.72" y1="483.77" x2="103.23" y2="483.77" stroke="#777" stroke-width="0.6"/>
<line x1="99.72" y1="506.22" x2="103.23" y2="506.22" stroke="#777" stroke-width="0.6"/>
<rect x="98.97" y="489.08" width="5.02" height="16.25" fill="#1fe038" stroke="#18a82c" stroke-width="0.45"/>
<line x1="99.27" y1="498.02" x2="103.69" y2="498.02" stroke="#18a82c" stroke-width="0.4"/>
<line x1="107.68" y1="479.63" x2="107.68" y2="483.18" stroke="#777" stroke-width="0.6"/>
<line x1="107.68" y1="511.24" x2="107.68" y2="514.19" stroke="#777" stroke-width="0.6"/>
<line x1="105.92" y1="479.63" x2="109.44" y2="479.63" stroke="#777" stroke-width="0.6"/>
<line x1="105.92" y1="514.19" x2="109.44" y2="514.19" stroke="#777" stroke-width="0.6"/>
<rect x="105.17" y="483.18" width="5.02" height="28.06" fill="#c233c4" stroke="#8f2a90" stroke-width="0.45"/>
<line x1="105.47" y1="498.61" x2="109.89" y2="498.61" stroke="#8f2a90" stroke-width="0.4"/>
<line x1="114.03" y1="496.47" x2="114.03" y2="497.95" stroke="#777" stroke-width="0.6"/>
<line x1="114.03" y1="500.90" x2="114.03" y2="503.86" stroke="#777" stroke-width="0.6"/>
<line x1="112.17" y1="496.47" x2="115.89" y2="496.47" stroke="#777" stroke-width="0.6"/>
<line x1="112.17" y1="503.86" x2="115.89" y2="503.86" stroke="#777" stroke-width="0.6"/>
<rect x="111.37" y="497.95" width="5.32" height="2.95" fill="#ff8a1c" stroke="#c96a1a" stroke-width="0.45"/>
<line x1="120.38" y1="476.68" x2="120.38" y2="478.15" stroke="#777" stroke-width="0.6"/>
<line x1="120.38" y1="507.40" x2="120.38" y2="507.40" stroke="#777" stroke-width="0.6"/>
<line x1="118.63" y1="476.68" x2="122.14" y2="476.68" stroke="#777" stroke-width="0.6"/>
<line x1="118.63" y1="507.40" x2="122.14" y2="507.40" stroke="#777" stroke-width="0.6"/>
<rect x="117.87" y="478.15" width="5.02" height="29.25" fill="#f0142d" stroke="#b81424" stroke-width="0.45"/>
<line x1="118.17" y1="494.24" x2="122.60" y2="494.24" stroke="#b81424" stroke-width="0.4"/>
<line x1="126.59" y1="478.74" x2="126.59" y2="479.34" stroke="#777" stroke-width="0.6"/>
<line x1="126.59" y1="495.58" x2="126.59" y2="508.29" stroke="#777" stroke-width="0.6"/>
<line x1="124.83" y1="478.74" x2="128.35" y2="478.74" stroke="#777" stroke-width="0.6"/>
<line x1="124.83" y1="508.29" x2="128.35" y2="508.29" stroke="#777" stroke-width="0.6"/>
<rect x="124.08" y="479.34" width="5.02" height="16.25" fill="#0f8585" stroke="#0b6060" stroke-width="0.45"/>
<line x1="124.38" y1="488.27" x2="128.80" y2="488.27" stroke="#0b6060" stroke-width="0.4"/>
<line x1="139.25" y1="499.42" x2="139.25" y2="501.49" stroke="#777" stroke-width="0.6"/>
<line x1="139.25" y1="515.67" x2="139.25" y2="526.90" stroke="#777" stroke-width="0.6"/>
<line x1="137.39" y1="499.42" x2="141.11" y2="499.42" stroke="#777" stroke-width="0.6"/>
<line x1="137.39" y1="526.90" x2="141.11" y2="526.90" stroke="#777" stroke-width="0.6"/>
<rect x="136.59" y="501.49" width="5.32" height="14.18" fill="#a6e11e" stroke="#7fa82a" stroke-width="0.45"/>
<line x1="136.89" y1="509.29" x2="141.61" y2="509.29" stroke="#7fa82a" stroke-width="0.4"/>
<line x1="145.89" y1="488.49" x2="145.89" y2="489.08" stroke="#777" stroke-width="0.6"/>
<line x1="145.89" y1="507.40" x2="145.89" y2="509.76" stroke="#777" stroke-width="0.6"/>
<line x1="144.14" y1="488.49" x2="147.65" y2="488.49" stroke="#777" stroke-width="0.6"/>
<line x1="144.14" y1="509.76" x2="147.65" y2="509.76" stroke="#777" stroke-width="0.6"/>
<rect x="143.38" y="489.08" width="5.02" height="18.32" fill="#1fe038" stroke="#18a82c" stroke-width="0.45"/>
<line x1="143.68" y1="499.16" x2="148.10" y2="499.16" stroke="#18a82c" stroke-width="0.4"/>
<line x1="152.39" y1="498.54" x2="152.39" y2="500.31" stroke="#777" stroke-width="0.6"/>
<line x1="152.39" y1="509.17" x2="152.39" y2="510.35" stroke="#777" stroke-width="0.6"/>
<line x1="150.64" y1="498.54" x2="154.15" y2="498.54" stroke="#777" stroke-width="0.6"/>
<line x1="150.64" y1="510.35" x2="154.15" y2="510.35" stroke="#777" stroke-width="0.6"/>
<rect x="149.88" y="500.31" width="5.02" height="8.86" fill="#c233c4" stroke="#8f2a90" stroke-width="0.45"/>
<line x1="150.18" y1="505.18" x2="154.60" y2="505.18" stroke="#8f2a90" stroke-width="0.4"/>
<line x1="158.74" y1="486.13" x2="158.74" y2="491.15" stroke="#777" stroke-width="0.6"/>
<line x1="158.74" y1="499.42" x2="158.74" y2="507.40" stroke="#777" stroke-width="0.6"/>
<line x1="157.09" y1="486.13" x2="160.40" y2="486.13" stroke="#777" stroke-width="0.6"/>
<line x1="157.09" y1="507.40" x2="160.40" y2="507.40" stroke="#777" stroke-width="0.6"/>
<rect x="156.38" y="491.15" width="4.73" height="8.27" fill="#ff8a1c" stroke="#c96a1a" stroke-width="0.45"/>
<line x1="156.68" y1="495.70" x2="160.81" y2="495.70" stroke="#c96a1a" stroke-width="0.4"/>
<line x1="165.10" y1="458.06" x2="165.10" y2="465.45" stroke="#777" stroke-width="0.6"/>
<line x1="165.10" y1="494.11" x2="165.10" y2="494.99" stroke="#777" stroke-width="0.6"/>
<line x1="163.34" y1="458.06" x2="166.85" y2="458.06" stroke="#777" stroke-width="0.6"/>
<line x1="163.34" y1="494.99" x2="166.85" y2="494.99" stroke="#777" stroke-width="0.6"/>
<rect x="162.58" y="465.45" width="5.02" height="28.66" fill="#f0142d" stroke="#b81424" stroke-width="0.45"/>
<line x1="162.88" y1="481.21" x2="167.31" y2="481.21" stroke="#b81424" stroke-width="0.4"/>
<line x1="171.60" y1="466.93" x2="171.60" y2="473.72" stroke="#777" stroke-width="0.6"/>
<line x1="171.60" y1="488.49" x2="171.60" y2="489.08" stroke="#777" stroke-width="0.6"/>
<line x1="169.84" y1="466.93" x2="173.35" y2="466.93" stroke="#777" stroke-width="0.6"/>
<line x1="169.84" y1="489.08" x2="173.35" y2="489.08" stroke="#777" stroke-width="0.6"/>
<rect x="169.08" y="473.72" width="5.02" height="14.77" fill="#0f8585" stroke="#0b6060" stroke-width="0.45"/>
<line x1="169.38" y1="481.85" x2="173.81" y2="481.85" stroke="#0b6060" stroke-width="0.4"/>
<text x="51.40" y="537.20" font-size="6.6" text-anchor="middle" fill="#111" stroke="#111" stroke-width="0.12">1</text>
<text x="58.05" y="537.20" font-size="6.6" text-anchor="middle" fill="#111" stroke="#111" stroke-width="0.12">2</text>
<text x="64.55" y="537.20" font-size="6.6" text-anchor="middle" fill="#111" stroke="#111" stroke-width="0.12">3</text>
<text x="71.20" y="537.20" font-size="6.6" text-anchor="middle" fill="#111" stroke="#111" stroke-width="0.12">4</text>
<text x="77.25" y="537.20" font-size="6.6" text-anchor="middle" fill="#111" stroke="#111" stroke-width="0.12">5</text>
<text x="83.75" y="537.20" font-size="6.6" text-anchor="middle" fill="#111" stroke="#111" stroke-width="0.12">6</text>
<text x="94.83" y="537.20" font-size="6.6" text-anchor="middle" fill="#111" stroke="#111" stroke-width="0.12">1</text>
<text x="101.48" y="537.20" font-size="6.6" text-anchor="middle" fill="#111" stroke="#111" stroke-width="0.12">2</text>
<text x="107.68" y="537.20" font-size="6.6" text-anchor="middle" fill="#111" stroke="#111" stroke-width="0.12">3</text>
<text x="114.03" y="537.20" font-size="6.6" text-anchor="middle" fill="#111" stroke="#111" stroke-width="0.12">4</text>
<text x="120.38" y="537.20" font-size="6.6" text-anchor="middle" fill="#111" stroke="#111" stroke-width="0.12">5</text>
<text x="126.59" y="537.20" font-size="6.6" text-anchor="middle" fill="#111" stroke="#111" stroke-width="0.12">6</text>
<text x="139.25" y="537.20" font-size="6.6" text-anchor="middle" fill="#111" stroke="#111" stroke-width="0.12">1</text>
<text x="145.89" y="537.20" font-size="6.6" text-anchor="middle" fill="#111" stroke="#111" stroke-width="0.12">2</text>
<text x="152.39" y="537.20" font-size="6.6" text-anchor="middle" fill="#111" stroke="#111" stroke-width="0.12">3</text>
<text x="158.74" y="537.20" font-size="6.6" text-anchor="middle" fill="#111" stroke="#111" stroke-width="0.12">4</text>
<text x="165.10" y="537.20" font-size="6.6" text-anchor="middle" fill="#111" stroke="#111" stroke-width="0.12">5</text>
<text x="171.60" y="537.20" font-size="6.6" text-anchor="middle" fill="#111" stroke="#111" stroke-width="0.12">6</text>
<text x="61.50" y="444.30" font-size="6.4" text-anchor="middle" fill="#222" font-style="italic" stroke="#222" stroke-width="0.12">1h</text>
<text x="107.80" y="444.30" font-size="6.4" text-anchor="middle" fill="#222" font-style="italic" stroke="#222" stroke-width="0.12">3h</text>
<text x="158.70" y="445.30" font-size="6.4" text-anchor="middle" fill="#222" font-style="italic" stroke="#222" stroke-width="0.12">24h</text>
<path d="M51.5 462 V460 H78 V462 M78 460.8 H82.5 V463" fill="none" stroke="#444" stroke-width="0.55"/>
<text x="66.00" y="458.60" font-size="3.4" text-anchor="middle" fill="#222" font-weight="bold" font-style="italic" stroke="#222" stroke-width="0.08">p &lt; 0.01</text>
<path d="M95 463.5 V461.5 H130 V463.5 M95 472.5 V470.5 H121 V472.5" fill="none" stroke="#444" stroke-width="0.55"/>
<text x="110.00" y="459.80" font-size="3.4" text-anchor="middle" fill="#222" font-weight="bold" font-style="italic" stroke="#222" stroke-width="0.08">p &lt; 0.01</text>
<text x="106.50" y="468.80" font-size="3.4" text-anchor="middle" fill="#222" font-weight="bold" font-style="italic" stroke="#222" stroke-width="0.08">p &lt; 0.03</text>
<path d="M142.5 457.5 V455.2 H164.5 V457.5 M164.5 456.3 H172 V458.5" fill="none" stroke="#444" stroke-width="0.55"/>
<text x="153.50" y="453.40" font-size="3.4" text-anchor="middle" fill="#222" font-weight="bold" font-style="italic" stroke="#222" stroke-width="0.08">p &lt; 0.01</text>
<text transform="translate(31.2 523.5) rotate(-90)" font-size="7.4" fill="#111" stroke="#111" stroke-width="0.2" textLength="70" lengthAdjust="spacingAndGlyphs">RNA <tspan font-style="italic">TLR9</tspan>/RNA <tspan font-style="italic">AIM2</tspan></text>
<text x="63.50" y="548.00" font-size="7.6" text-anchor="middle" fill="#111" textLength="22.00" lengthAdjust="spacingAndGlyphs" stroke="#111" stroke-width="0.2">N = 10</text>
<line x1="197.50" y1="455.50" x2="197.50" y2="530.40" stroke="#333" stroke-width="0.8"/>
<line x1="195.40" y1="456.60" x2="197.00" y2="456.60" stroke="#333" stroke-width="0.5"/>
<text x="194.60" y="458.00" font-size="3.8" text-anchor="end" fill="#111" stroke="#111" stroke-width="0.08">100</text>
<line x1="195.40" y1="484.80" x2="197.00" y2="484.80" stroke="#333" stroke-width="0.5"/>
<text x="194.60" y="486.20" font-size="3.8" text-anchor="end" fill="#111" stroke="#111" stroke-width="0.08">10</text>
<line x1="195.40" y1="513.30" x2="197.00" y2="513.30" stroke="#333" stroke-width="0.5"/>
<text x="194.60" y="514.70" font-size="3.8" text-anchor="end" fill="#111" stroke="#111" stroke-width="0.08">1</text>
<line x1="196.20" y1="528.15" x2="197.00" y2="528.15" stroke="#333" stroke-width="0.35"/>
<line x1="196.20" y1="524.60" x2="197.00" y2="524.60" stroke="#333" stroke-width="0.35"/>
<line x1="196.20" y1="521.85" x2="197.00" y2="521.85" stroke="#333" stroke-width="0.35"/>
<line x1="196.20" y1="519.60" x2="197.00" y2="519.60" stroke="#333" stroke-width="0.35"/>
<line x1="196.20" y1="517.70" x2="197.00" y2="517.70" stroke="#333" stroke-width="0.35"/>
<line x1="196.20" y1="516.05" x2="197.00" y2="516.05" stroke="#333" stroke-width="0.35"/>
<line x1="196.20" y1="514.60" x2="197.00" y2="514.60" stroke="#333" stroke-width="0.35"/>
<line x1="196.20" y1="504.75" x2="197.00" y2="504.75" stroke="#333" stroke-width="0.35"/>
<line x1="196.20" y1="499.75" x2="197.00" y2="499.75" stroke="#333" stroke-width="0.35"/>
<line x1="196.20" y1="496.20" x2="197.00" y2="496.20" stroke="#333" stroke-width="0.35"/>
<line x1="196.20" y1="493.45" x2="197.00" y2="493.45" stroke="#333" stroke-width="0.35"/>
<line x1="196.20" y1="491.20" x2="197.00" y2="491.20" stroke="#333" stroke-width="0.35"/>
<line x1="196.20" y1="489.30" x2="197.00" y2="489.30" stroke="#333" stroke-width="0.35"/>
<line x1="196.20" y1="487.65" x2="197.00" y2="487.65" stroke="#333" stroke-width="0.35"/>
<line x1="196.20" y1="486.20" x2="197.00" y2="486.20" stroke="#333" stroke-width="0.35"/>
<line x1="196.20" y1="476.35" x2="197.00" y2="476.35" stroke="#333" stroke-width="0.35"/>
<line x1="196.20" y1="471.35" x2="197.00" y2="471.35" stroke="#333" stroke-width="0.35"/>
<line x1="196.20" y1="467.80" x2="197.00" y2="467.80" stroke="#333" stroke-width="0.35"/>
<line x1="196.20" y1="465.05" x2="197.00" y2="465.05" stroke="#333" stroke-width="0.35"/>
<line x1="196.20" y1="462.80" x2="197.00" y2="462.80" stroke="#333" stroke-width="0.35"/>
<line x1="196.20" y1="460.90" x2="197.00" y2="460.90" stroke="#333" stroke-width="0.35"/>
<line x1="196.20" y1="459.25" x2="197.00" y2="459.25" stroke="#333" stroke-width="0.35"/>
<line x1="196.20" y1="457.80" x2="197.00" y2="457.80" stroke="#333" stroke-width="0.35"/>
<line x1="197.50" y1="530.50" x2="241.00" y2="530.50" stroke="#333" stroke-width="0.8"/>
<line x1="245.00" y1="529.50" x2="287.00" y2="529.50" stroke="#333" stroke-width="0.8"/>
<line x1="290.50" y1="529.50" x2="332.00" y2="529.50" stroke="#333" stroke-width="0.8"/>
<line x1="203.50" y1="497.95" x2="203.50" y2="500.90" stroke="#777" stroke-width="0.6"/>
<line x1="203.50" y1="518.63" x2="203.50" y2="522.17" stroke="#777" stroke-width="0.6"/>
<line x1="201.74" y1="497.95" x2="205.26" y2="497.95" stroke="#777" stroke-width="0.6"/>
<line x1="201.74" y1="522.17" x2="205.26" y2="522.17" stroke="#777" stroke-width="0.6"/>
<rect x="200.99" y="500.90" width="5.02" height="17.73" fill="#a6e11e" stroke="#7fa82a" stroke-width="0.45"/>
<line x1="201.29" y1="510.65" x2="205.71" y2="510.65" stroke="#7fa82a" stroke-width="0.4"/>
<line x1="210.00" y1="490.56" x2="210.00" y2="495.58" stroke="#777" stroke-width="0.6"/>
<line x1="210.00" y1="506.81" x2="210.00" y2="519.51" stroke="#777" stroke-width="0.6"/>
<line x1="208.24" y1="490.56" x2="211.76" y2="490.56" stroke="#777" stroke-width="0.6"/>
<line x1="208.24" y1="519.51" x2="211.76" y2="519.51" stroke="#777" stroke-width="0.6"/>
<rect x="207.49" y="495.58" width="5.02" height="11.23" fill="#1fe038" stroke="#18a82c" stroke-width="0.45"/>
<line x1="207.79" y1="501.76" x2="212.21" y2="501.76" stroke="#18a82c" stroke-width="0.4"/>
<line x1="216.79" y1="499.42" x2="216.79" y2="500.31" stroke="#777" stroke-width="0.6"/>
<line x1="216.79" y1="509.17" x2="216.79" y2="514.19" stroke="#777" stroke-width="0.6"/>
<line x1="215.04" y1="499.42" x2="218.55" y2="499.42" stroke="#777" stroke-width="0.6"/>
<line x1="215.04" y1="514.19" x2="218.55" y2="514.19" stroke="#777" stroke-width="0.6"/>
<rect x="214.28" y="500.31" width="5.02" height="8.86" fill="#c233c4" stroke="#8f2a90" stroke-width="0.45"/>
<line x1="214.58" y1="505.18" x2="219.01" y2="505.18" stroke="#8f2a90" stroke-width="0.4"/>
<line x1="223.29" y1="480.22" x2="223.29" y2="485.54" stroke="#777" stroke-width="0.6"/>
<line x1="223.29" y1="501.79" x2="223.29" y2="506.22" stroke="#777" stroke-width="0.6"/>
<line x1="221.54" y1="480.22" x2="225.05" y2="480.22" stroke="#777" stroke-width="0.6"/>
<line x1="221.54" y1="506.22" x2="225.05" y2="506.22" stroke="#777" stroke-width="0.6"/>
<rect x="220.78" y="485.54" width="5.02" height="16.25" fill="#ff8a1c" stroke="#c96a1a" stroke-width="0.45"/>
<line x1="221.08" y1="494.48" x2="225.51" y2="494.48" stroke="#c96a1a" stroke-width="0.4"/>
<line x1="230.09" y1="464.86" x2="230.09" y2="474.31" stroke="#777" stroke-width="0.6"/>
<line x1="230.09" y1="505.33" x2="230.09" y2="509.76" stroke="#777" stroke-width="0.6"/>
<line x1="228.33" y1="464.86" x2="231.85" y2="464.86" stroke="#777" stroke-width="0.6"/>
<line x1="228.33" y1="509.76" x2="231.85" y2="509.76" stroke="#777" stroke-width="0.6"/>
<rect x="227.58" y="474.31" width="5.02" height="31.02" fill="#f0142d" stroke="#b81424" stroke-width="0.45"/>
<line x1="227.88" y1="491.37" x2="232.30" y2="491.37" stroke="#b81424" stroke-width="0.4"/>
<line x1="236.59" y1="496.47" x2="236.59" y2="499.42" stroke="#777" stroke-width="0.6"/>
<line x1="236.59" y1="510.35" x2="236.59" y2="511.24" stroke="#777" stroke-width="0.6"/>
<line x1="234.83" y1="496.47" x2="238.35" y2="496.47" stroke="#777" stroke-width="0.6"/>
<line x1="234.83" y1="511.24" x2="238.35" y2="511.24" stroke="#777" stroke-width="0.6"/>
<rect x="234.08" y="499.42" width="5.02" height="10.93" fill="#0f8585" stroke="#0b6060" stroke-width="0.45"/>
<line x1="234.38" y1="505.44" x2="238.80" y2="505.44" stroke="#0b6060" stroke-width="0.4"/>
<line x1="249.25" y1="501.79" x2="249.25" y2="502.38" stroke="#777" stroke-width="0.6"/>
<line x1="249.25" y1="515.67" x2="249.25" y2="526.90" stroke="#777" stroke-width="0.6"/>
<line x1="247.39" y1="501.79" x2="251.11" y2="501.79" stroke="#777" stroke-width="0.6"/>
<line x1="247.39" y1="526.90" x2="251.11" y2="526.90" stroke="#777" stroke-width="0.6"/>
<rect x="246.59" y="502.38" width="5.32" height="13.29" fill="#a6e11e" stroke="#7fa82a" stroke-width="0.45"/>
<line x1="246.89" y1="509.69" x2="251.61" y2="509.69" stroke="#7fa82a" stroke-width="0.4"/>
<line x1="255.89" y1="480.81" x2="255.89" y2="482.58" stroke="#777" stroke-width="0.6"/>
<line x1="255.89" y1="506.22" x2="255.89" y2="516.26" stroke="#777" stroke-width="0.6"/>
<line x1="254.14" y1="480.81" x2="257.65" y2="480.81" stroke="#777" stroke-width="0.6"/>
<line x1="254.14" y1="516.26" x2="257.65" y2="516.26" stroke="#777" stroke-width="0.6"/>
<rect x="253.38" y="482.58" width="5.02" height="23.63" fill="#1fe038" stroke="#18a82c" stroke-width="0.45"/>
<line x1="253.68" y1="495.58" x2="258.10" y2="495.58" stroke="#18a82c" stroke-width="0.4"/>
<line x1="262.39" y1="496.47" x2="262.39" y2="500.31" stroke="#777" stroke-width="0.6"/>
<line x1="262.39" y1="510.35" x2="262.39" y2="517.15" stroke="#777" stroke-width="0.6"/>
<line x1="260.64" y1="496.47" x2="264.15" y2="496.47" stroke="#777" stroke-width="0.6"/>
<line x1="260.64" y1="517.15" x2="264.15" y2="517.15" stroke="#777" stroke-width="0.6"/>
<rect x="259.88" y="500.31" width="5.02" height="10.04" fill="#c233c4" stroke="#8f2a90" stroke-width="0.45"/>
<line x1="260.18" y1="505.83" x2="264.60" y2="505.83" stroke="#8f2a90" stroke-width="0.4"/>
<line x1="269.04" y1="489.08" x2="269.04" y2="492.04" stroke="#777" stroke-width="0.6"/>
<line x1="269.04" y1="501.79" x2="269.04" y2="502.38" stroke="#777" stroke-width="0.6"/>
<line x1="267.18" y1="489.08" x2="270.90" y2="489.08" stroke="#777" stroke-width="0.6"/>
<line x1="267.18" y1="502.38" x2="270.90" y2="502.38" stroke="#777" stroke-width="0.6"/>
<rect x="266.38" y="492.04" width="5.32" height="9.75" fill="#ff8a1c" stroke="#c96a1a" stroke-width="0.45"/>
<line x1="266.68" y1="497.40" x2="271.40" y2="497.40" stroke="#c96a1a" stroke-width="0.4"/>
<line x1="275.54" y1="490.56" x2="275.54" y2="492.92" stroke="#777" stroke-width="0.6"/>
<line x1="275.54" y1="497.36" x2="275.54" y2="500.90" stroke="#777" stroke-width="0.6"/>
<line x1="273.68" y1="490.56" x2="277.40" y2="490.56" stroke="#777" stroke-width="0.6"/>
<line x1="273.68" y1="500.90" x2="277.40" y2="500.90" stroke="#777" stroke-width="0.6"/>
<rect x="272.88" y="492.92" width="5.32" height="4.43" fill="#f0142d" stroke="#b81424" stroke-width="0.45"/>
<line x1="282.33" y1="486.13" x2="282.33" y2="494.40" stroke="#777" stroke-width="0.6"/>
<line x1="282.33" y1="505.92" x2="282.33" y2="514.19" stroke="#777" stroke-width="0.6"/>
<line x1="280.47" y1="486.13" x2="284.19" y2="486.13" stroke="#777" stroke-width="0.6"/>
<line x1="280.47" y1="514.19" x2="284.19" y2="514.19" stroke="#777" stroke-width="0.6"/>
<rect x="279.68" y="494.40" width="5.32" height="11.52" fill="#0f8585" stroke="#0b6060" stroke-width="0.45"/>
<line x1="279.98" y1="500.74" x2="284.69" y2="500.74" stroke="#0b6060" stroke-width="0.4"/>
<line x1="293.86" y1="492.04" x2="293.86" y2="497.06" stroke="#777" stroke-width="0.6"/>
<line x1="293.86" y1="501.79" x2="293.86" y2="516.26" stroke="#777" stroke-width="0.6"/>
<line x1="292.20" y1="492.04" x2="295.51" y2="492.04" stroke="#777" stroke-width="0.6"/>
<line x1="292.20" y1="516.26" x2="295.51" y2="516.26" stroke="#777" stroke-width="0.6"/>
<rect x="291.49" y="497.06" width="4.73" height="4.73" fill="#a6e11e" stroke="#7fa82a" stroke-width="0.45"/>
<line x1="300.35" y1="499.42" x2="300.35" y2="500.31" stroke="#777" stroke-width="0.6"/>
<line x1="300.35" y1="509.17" x2="300.35" y2="512.13" stroke="#777" stroke-width="0.6"/>
<line x1="298.70" y1="499.42" x2="302.01" y2="499.42" stroke="#777" stroke-width="0.6"/>
<line x1="298.70" y1="512.13" x2="302.01" y2="512.13" stroke="#777" stroke-width="0.6"/>
<rect x="297.99" y="500.31" width="4.73" height="8.86" fill="#1fe038" stroke="#18a82c" stroke-width="0.45"/>
<line x1="298.29" y1="505.18" x2="302.42" y2="505.18" stroke="#18a82c" stroke-width="0.4"/>
<line x1="307.15" y1="473.72" x2="307.15" y2="480.81" stroke="#777" stroke-width="0.6"/>
<line x1="307.15" y1="501.49" x2="307.15" y2="503.86" stroke="#777" stroke-width="0.6"/>
<line x1="305.49" y1="473.72" x2="308.80" y2="473.72" stroke="#777" stroke-width="0.6"/>
<line x1="305.49" y1="503.86" x2="308.80" y2="503.86" stroke="#777" stroke-width="0.6"/>
<rect x="304.79" y="480.81" width="4.73" height="20.68" fill="#c233c4" stroke="#8f2a90" stroke-width="0.45"/>
<line x1="305.09" y1="492.19" x2="309.21" y2="492.19" stroke="#8f2a90" stroke-width="0.4"/>
<line x1="313.94" y1="458.06" x2="313.94" y2="466.93" stroke="#777" stroke-width="0.6"/>
<line x1="313.94" y1="497.36" x2="313.94" y2="500.90" stroke="#777" stroke-width="0.6"/>
<line x1="312.08" y1="458.06" x2="315.81" y2="458.06" stroke="#777" stroke-width="0.6"/>
<line x1="312.08" y1="500.90" x2="315.81" y2="500.90" stroke="#777" stroke-width="0.6"/>
<rect x="311.29" y="466.93" width="5.32" height="30.43" fill="#ff8a1c" stroke="#c96a1a" stroke-width="0.45"/>
<line x1="311.59" y1="483.66" x2="316.30" y2="483.66" stroke="#c96a1a" stroke-width="0.4"/>
<line x1="320.30" y1="469.88" x2="320.30" y2="474.31" stroke="#777" stroke-width="0.6"/>
<line x1="320.30" y1="489.97" x2="320.30" y2="503.86" stroke="#777" stroke-width="0.6"/>
<line x1="318.54" y1="469.88" x2="322.05" y2="469.88" stroke="#777" stroke-width="0.6"/>
<line x1="318.54" y1="503.86" x2="322.05" y2="503.86" stroke="#777" stroke-width="0.6"/>
<rect x="317.78" y="474.31" width="5.02" height="15.66" fill="#f0142d" stroke="#b81424" stroke-width="0.45"/>
<line x1="318.08" y1="482.92" x2="322.51" y2="482.92" stroke="#b81424" stroke-width="0.4"/>
<line x1="327.24" y1="469.88" x2="327.24" y2="477.27" stroke="#777" stroke-width="0.6"/>
<line x1="327.24" y1="493.52" x2="327.24" y2="506.22" stroke="#777" stroke-width="0.6"/>
<line x1="325.38" y1="469.88" x2="329.10" y2="469.88" stroke="#777" stroke-width="0.6"/>
<line x1="325.38" y1="506.22" x2="329.10" y2="506.22" stroke="#777" stroke-width="0.6"/>
<rect x="324.58" y="477.27" width="5.32" height="16.25" fill="#0f8585" stroke="#0b6060" stroke-width="0.45"/>
<line x1="324.88" y1="486.20" x2="329.60" y2="486.20" stroke="#0b6060" stroke-width="0.4"/>
<text x="203.50" y="537.40" font-size="6.6" text-anchor="middle" fill="#111" stroke="#111" stroke-width="0.12">1</text>
<text x="210.00" y="537.40" font-size="6.6" text-anchor="middle" fill="#111" stroke="#111" stroke-width="0.12">2</text>
<text x="216.79" y="537.40" font-size="6.6" text-anchor="middle" fill="#111" stroke="#111" stroke-width="0.12">3</text>
<text x="223.29" y="537.40" font-size="6.6" text-anchor="middle" fill="#111" stroke="#111" stroke-width="0.12">4</text>
<text x="230.09" y="537.40" font-size="6.6" text-anchor="middle" fill="#111" stroke="#111" stroke-width="0.12">5</text>
<text x="236.59" y="537.40" font-size="6.6" text-anchor="middle" fill="#111" stroke="#111" stroke-width="0.12">6</text>
<text x="249.25" y="536.50" font-size="6.6" text-anchor="middle" fill="#111" stroke="#111" stroke-width="0.12">1</text>
<text x="255.89" y="536.50" font-size="6.6" text-anchor="middle" fill="#111" stroke="#111" stroke-width="0.12">2</text>
<text x="262.39" y="536.50" font-size="6.6" text-anchor="middle" fill="#111" stroke="#111" stroke-width="0.12">3</text>
<text x="269.04" y="536.50" font-size="6.6" text-anchor="middle" fill="#111" stroke="#111" stroke-width="0.12">4</text>
<text x="275.54" y="536.50" font-size="6.6" text-anchor="middle" fill="#111" stroke="#111" stroke-width="0.12">5</text>
<text x="282.33" y="536.50" font-size="6.6" text-anchor="middle" fill="#111" stroke="#111" stroke-width="0.12">6</text>
<text x="293.86" y="536.50" font-size="6.6" text-anchor="middle" fill="#111" stroke="#111" stroke-width="0.12">1</text>
<text x="300.35" y="536.50" font-size="6.6" text-anchor="middle" fill="#111" stroke="#111" stroke-width="0.12">2</text>
<text x="307.15" y="536.50" font-size="6.6" text-anchor="middle" fill="#111" stroke="#111" stroke-width="0.12">3</text>
<text x="313.94" y="536.50" font-size="6.6" text-anchor="middle" fill="#111" stroke="#111" stroke-width="0.12">4</text>
<text x="320.30" y="536.50" font-size="6.6" text-anchor="middle" fill="#111" stroke="#111" stroke-width="0.12">5</text>
<text x="327.24" y="536.50" font-size="6.6" text-anchor="middle" fill="#111" stroke="#111" stroke-width="0.12">6</text>
<text x="215.00" y="444.00" font-size="6.4" text-anchor="middle" fill="#222" font-style="italic" stroke="#222" stroke-width="0.12">1h</text>
<text x="263.70" y="444.00" font-size="6.4" text-anchor="middle" fill="#222" font-style="italic" stroke="#222" stroke-width="0.12">3h</text>
<text x="308.00" y="444.30" font-size="6.4" text-anchor="middle" fill="#222" font-style="italic" stroke="#222" stroke-width="0.12">24h</text>
<path d="M203.5 461 V458.5 H230 V461" fill="none" stroke="#444" stroke-width="0.55"/>
<text x="216.50" y="456.80" font-size="3.4" text-anchor="middle" fill="#222" font-weight="bold" font-style="italic" stroke="#222" stroke-width="0.08">p &lt; 0.01</text>
<path d="M249 478.5 V476 H275.5 V478.5" fill="none" stroke="#444" stroke-width="0.55"/>
<text x="262.00" y="474.50" font-size="3.4" text-anchor="middle" fill="#222" font-weight="bold" font-style="italic" stroke="#222" stroke-width="0.08">p &lt; 0.01</text>
<path d="M295.5 456.5 V454 H320.5 V456.5" fill="none" stroke="#444" stroke-width="0.55"/>
<text x="308.00" y="452.60" font-size="3.4" text-anchor="middle" fill="#222" font-weight="bold" font-style="italic" stroke="#222" stroke-width="0.08">p &lt; 0.01</text>
<text x="189.00" y="491.00" font-size="7.8" text-anchor="middle" fill="#111" textLength="40.00" lengthAdjust="spacingAndGlyphs" transform="rotate(-90 189.00 491.00)" stroke="#111" stroke-width="0.2">TLR9/AIM2</text>
<circle cx="230.5" cy="461.5" r="0.6" fill="#e01030"/>
<circle cx="236.5" cy="477" r="0.6" fill="#109090"/>
<circle cx="263" cy="487.5" r="0.6" fill="#8030a0"/>
<circle cx="269" cy="483.5" r="0.6" fill="#e04020"/>
<circle cx="294" cy="489" r="0.6" fill="#90c020"/>
<circle cx="307.5" cy="461.5" r="0.6" fill="#c040c0"/>
<circle cx="320" cy="461.5" r="0.6" fill="#ff8020"/>
<circle cx="327.5" cy="462" r="0.6" fill="#109090"/>
<text x="335.00" y="349.10" font-size="15.2" text-anchor="start" fill="#000" textLength="10.40" lengthAdjust="spacingAndGlyphs" stroke="#000" stroke-width="0.2">G</text>
<text x="391.20" y="348.60" font-size="8" text-anchor="middle" fill="#222" textLength="22.00" lengthAdjust="spacingAndGlyphs" stroke="#222" stroke-width="0.2">control</text>
<text x="393.20" y="451.20" font-size="8" text-anchor="middle" fill="#222" textLength="29.00" lengthAdjust="spacingAndGlyphs" stroke="#222" stroke-width="0.2">sz-cfDNA</text>
<defs><filter id="bl" x="-30%" y="-30%" width="160%" height="160%"><feGaussianBlur stdDeviation="2.2"/></filter><filter id="sp" x="0" y="0" width="100%" height="100%"><feTurbulence type="fractalNoise" baseFrequency="0.85" numOctaves="2" seed="4" result="n"/><feColorMatrix in="n" type="matrix" values="0 0 0 0 1  0 0 0 0 1  0 0 0 0 1  3.2 0 0 0 -1.15" result="m"/><feComposite in="SourceGraphic" in2="m" operator="in"/></filter><filter id="bs" x="-30%" y="-30%" width="160%" height="160%"><feGaussianBlur stdDeviation="0.5"/></filter><clipPath id="g1"><rect x="348" y="352" width="83" height="47.2"/></clipPath><clipPath id="g2"><rect x="348" y="400.6" width="83" height="43.4"/></clipPath><clipPath id="g3"><rect x="348" y="452.6" width="83" height="44"/></clipPath><clipPath id="g4"><rect x="348" y="498" width="83" height="44.6"/></clipPath></defs>
<rect x="348.00" y="352.00" width="83.00" height="47.20" fill="#050004" stroke="none" stroke-width="0.5"/>
<g clip-path="url(#g1)">
<g filter="url(#sp)"><rect x="348" y="352" width="83" height="47.2" fill="#000" opacity="0"/>
<g filter="url(#bl)" opacity="0.95">
<ellipse cx="373.5" cy="374" rx="8" ry="19" transform="rotate(8 373.5 374)" fill="#d0102a" opacity="0.85"/>
<ellipse cx="376" cy="377" rx="4.5" ry="9" transform="rotate(5 376 377)" fill="#ff2040" opacity="0.7"/>
<ellipse cx="411" cy="369" rx="11" ry="5" transform="rotate(35 411 369)" fill="#d0102a" opacity="0.85"/>
<ellipse cx="409" cy="367" rx="5" ry="3" transform="rotate(35 409 367)" fill="#ff3050" opacity="0.7"/>
<ellipse cx="352" cy="376" rx="5" ry="9" transform="rotate(-20 352 376)" fill="#a01028" opacity="0.6"/>
<ellipse cx="392" cy="380" rx="6" ry="16" transform="rotate(20 392 380)" fill="#600818" opacity="0.6"/>
<ellipse cx="420" cy="385" rx="8" ry="10" transform="rotate(30 420 385)" fill="#500616" opacity="0.5"/>
<ellipse cx="362" cy="392" rx="8" ry="5" transform="rotate(0 362 392)" fill="#700818" opacity="0.5"/>
</g></g>
<g filter="url(#bs)">
<ellipse cx="370" cy="361.6" rx="2.6" ry="3.2" transform="rotate(0 370 361.6)" fill="#4a2ee0" opacity="0.75"/>
<ellipse cx="379" cy="367" rx="2.2" ry="3" transform="rotate(10 379 367)" fill="#4a2ee0" opacity="0.75"/>
<ellipse cx="376.5" cy="378" rx="2.4" ry="4.2" transform="rotate(0 376.5 378)" fill="#4a2ee0" opacity="0.95"/>
<ellipse cx="411" cy="369" rx="4" ry="2.8" transform="rotate(15 411 369)" fill="#4a2ee0" opacity="0.95"/>
<ellipse cx="351.5" cy="376" rx="3" ry="3.6" transform="rotate(-30 351.5 376)" fill="#4a2ee0" opacity="0.7"/>
<ellipse cx="372" cy="387.7" rx="2.3" ry="3.2" transform="rotate(0 372 387.7)" fill="#4a2ee0" opacity="0.6"/>
</g></g>
<rect x="348.00" y="400.60" width="83.00" height="43.40" fill="#020006" stroke="none" stroke-width="0.5"/>
<g clip-path="url(#g2)" filter="url(#bs)">
<ellipse cx="349.2" cy="406" rx="2" ry="2.6" transform="rotate(0 349.2 406)" fill="#0a12ff"/>
<ellipse cx="370.5" cy="409.3" rx="2.8" ry="3.2" transform="rotate(0 370.5 409.3)" fill="#0a12ff"/>
<ellipse cx="379.2" cy="415.2" rx="2.2" ry="3" transform="rotate(15 379.2 415.2)" fill="#0a12ff"/>
<ellipse cx="384.2" cy="413.9" rx="2.4" ry="3.2" transform="rotate(10 384.2 413.9)" fill="#0a12ff"/>
<ellipse cx="410.5" cy="416.1" rx="4.6" ry="3.1" transform="rotate(8 410.5 416.1)" fill="#0a12ff"/>
<ellipse cx="351.5" cy="424" rx="3.8" ry="3" transform="rotate(30 351.5 424)" fill="#0a12ff"/>
<ellipse cx="375.8" cy="426.8" rx="2.3" ry="3.7" transform="rotate(0 375.8 426.8)" fill="#0a12ff"/>
<ellipse cx="372" cy="436" rx="2.3" ry="3.5" transform="rotate(0 372 436)" fill="#0a12ff"/>
<ellipse cx="430.6" cy="437.7" rx="1.2" ry="2.2" transform="rotate(0 430.6 437.7)" fill="#0a12ff"/>
</g>
<rect x="348.00" y="452.60" width="83.00" height="44.00" fill="#0a0005" stroke="none" stroke-width="0.5"/>
<g clip-path="url(#g3)">
<g filter="url(#sp)"><rect x="348" y="452.6" width="83" height="44" fill="#000" opacity="0"/>
<g filter="url(#bl)" opacity="0.9">
<ellipse cx="372" cy="475" rx="4" ry="26" transform="rotate(30 372 475)" fill="#5a0814" opacity="0.55"/>
<ellipse cx="395" cy="478" rx="4" ry="28" transform="rotate(28 395 478)" fill="#4a0612" opacity="0.5"/>
<ellipse cx="415" cy="472" rx="4" ry="26" transform="rotate(25 415 472)" fill="#4a0612" opacity="0.5"/>
<ellipse cx="356" cy="480" rx="3" ry="22" transform="rotate(30 356 480)" fill="#3a0510" opacity="0.5"/>
</g></g><g filter="url(#bs)">
<ellipse cx="359.9" cy="456.4" rx="3.3" ry="3.6" transform="rotate(30 359.9 456.4)" fill="#1420f0" opacity="0.9"/>
<ellipse cx="406.0" cy="466.8" rx="3.2" ry="3.6" transform="rotate(-20 406.0 466.8)" fill="#1420f0" opacity="0.85"/>
<ellipse cx="416.7" cy="470.7" rx="2.8" ry="4.2" transform="rotate(15 416.7 470.7)" fill="#1420f0" opacity="0.9"/>
<ellipse cx="372.8" cy="488.2" rx="2.7" ry="4" transform="rotate(15 372.8 488.2)" fill="#1420f0" opacity="0.95"/>
<ellipse cx="381.0" cy="476.8" rx="1.8" ry="2.4" transform="rotate(0 381.0 476.8)" fill="#1420f0" opacity="0.55"/>
</g></g>
<rect x="348.00" y="498.00" width="83.00" height="44.60" fill="#020006" stroke="none" stroke-width="0.5"/>
<g clip-path="url(#g4)" filter="url(#bs)">
<ellipse cx="358.7" cy="505.5" rx="3.6" ry="4" transform="rotate(35 358.7 505.5)" fill="#0a12ff"/>
<ellipse cx="404.6" cy="516.1" rx="3.6" ry="4.6" transform="rotate(-35 404.6 516.1)" fill="#0a12ff"/>
<ellipse cx="415.1" cy="520.0" rx="2.9" ry="4.8" transform="rotate(20 415.1 520.0)" fill="#0a12ff"/>
<ellipse cx="379.6" cy="526.4" rx="2.6" ry="3.6" transform="rotate(20 379.6 526.4)" fill="#0a12ff"/>
<ellipse cx="371.2" cy="537.3" rx="2.6" ry="4.3" transform="rotate(10 371.2 537.3)" fill="#0a12ff"/>
<ellipse cx="430.5" cy="507.0" rx="1.3" ry="3" transform="rotate(0 430.5 507.0)" fill="#0a12ff"/>
</g>
<rect x="414.30" y="530.30" width="9.50" height="1.60" fill="#ffe600" stroke="none" stroke-width="0.5"/>
<text x="418.27" y="539.55" font-size="6.2" text-anchor="middle" fill="#ffe600" font-weight="bold" textLength="18.50" lengthAdjust="spacingAndGlyphs">20 µm</text>
<text x="345.80" y="376.60" font-size="5.4" text-anchor="middle" fill="#111" font-weight="bold" textLength="36.00" lengthAdjust="spacingAndGlyphs" transform="rotate(-90 345.80 376.60)" stroke="#111" stroke-width="0.08">AIM2 + DAPI</text>
<text x="345.80" y="430.50" font-size="5.4" text-anchor="middle" fill="#111" font-weight="bold" textLength="12.50" lengthAdjust="spacingAndGlyphs" transform="rotate(-90 345.80 430.50)" stroke="#111" stroke-width="0.08">DAPI</text>
<text x="345.80" y="474.50" font-size="5.4" text-anchor="middle" fill="#111" font-weight="bold" textLength="36.00" lengthAdjust="spacingAndGlyphs" transform="rotate(-90 345.80 474.50)" stroke="#111" stroke-width="0.08">AIM2 + DAPI</text>
<text x="345.80" y="523.00" font-size="5.4" text-anchor="middle" fill="#111" font-weight="bold" textLength="12.50" lengthAdjust="spacingAndGlyphs" transform="rotate(-90 345.80 523.00)" stroke="#111" stroke-width="0.08">DAPI</text>
</svg>
</body></html>
